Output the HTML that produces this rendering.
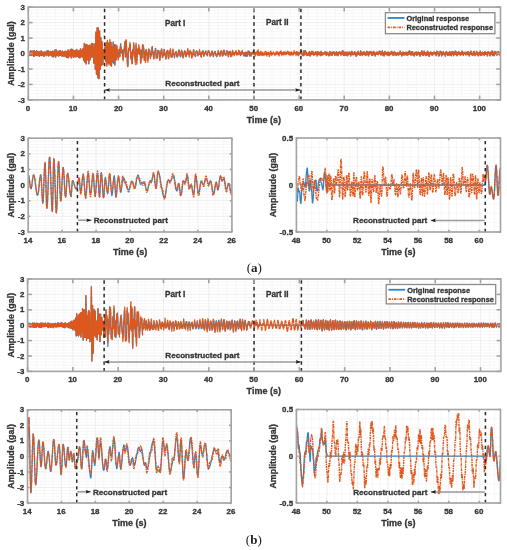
<!DOCTYPE html><html><head><meta charset="utf-8"><title>Figure</title><style>html,body{margin:0;padding:0;background:#fff;width:507px;height:550px;overflow:hidden}svg{display:block}text{stroke:#333;stroke-width:0.3px}text.cap{stroke:none}</style></head><body><svg width="507" height="550" viewBox="0 0 507 550" font-family="Liberation Sans, Arial, sans-serif" font-weight="bold" fill="#333333">
<rect width="507" height="550" fill="#fff"/>
<clipPath id="cA1"><rect x="28.30" y="7.10" width="472.20" height="92.80"/></clipPath>
<g stroke="#f5f5f5" stroke-width="0.8"><line x1="28.30" y1="7.10" x2="28.30" y2="99.90"/><line x1="37.33" y1="7.10" x2="37.33" y2="99.90"/><line x1="46.35" y1="7.10" x2="46.35" y2="99.90"/><line x1="55.38" y1="7.10" x2="55.38" y2="99.90"/><line x1="64.41" y1="7.10" x2="64.41" y2="99.90"/><line x1="73.43" y1="7.10" x2="73.43" y2="99.90"/><line x1="82.46" y1="7.10" x2="82.46" y2="99.90"/><line x1="91.49" y1="7.10" x2="91.49" y2="99.90"/><line x1="100.52" y1="7.10" x2="100.52" y2="99.90"/><line x1="109.54" y1="7.10" x2="109.54" y2="99.90"/><line x1="118.57" y1="7.10" x2="118.57" y2="99.90"/><line x1="127.60" y1="7.10" x2="127.60" y2="99.90"/><line x1="136.62" y1="7.10" x2="136.62" y2="99.90"/><line x1="145.65" y1="7.10" x2="145.65" y2="99.90"/><line x1="154.68" y1="7.10" x2="154.68" y2="99.90"/><line x1="163.70" y1="7.10" x2="163.70" y2="99.90"/><line x1="172.73" y1="7.10" x2="172.73" y2="99.90"/><line x1="181.76" y1="7.10" x2="181.76" y2="99.90"/><line x1="190.79" y1="7.10" x2="190.79" y2="99.90"/><line x1="199.81" y1="7.10" x2="199.81" y2="99.90"/><line x1="208.84" y1="7.10" x2="208.84" y2="99.90"/><line x1="217.87" y1="7.10" x2="217.87" y2="99.90"/><line x1="226.89" y1="7.10" x2="226.89" y2="99.90"/><line x1="235.92" y1="7.10" x2="235.92" y2="99.90"/><line x1="244.95" y1="7.10" x2="244.95" y2="99.90"/><line x1="253.97" y1="7.10" x2="253.97" y2="99.90"/><line x1="263.00" y1="7.10" x2="263.00" y2="99.90"/><line x1="272.03" y1="7.10" x2="272.03" y2="99.90"/><line x1="281.05" y1="7.10" x2="281.05" y2="99.90"/><line x1="290.08" y1="7.10" x2="290.08" y2="99.90"/><line x1="299.11" y1="7.10" x2="299.11" y2="99.90"/><line x1="308.14" y1="7.10" x2="308.14" y2="99.90"/><line x1="317.16" y1="7.10" x2="317.16" y2="99.90"/><line x1="326.19" y1="7.10" x2="326.19" y2="99.90"/><line x1="335.22" y1="7.10" x2="335.22" y2="99.90"/><line x1="344.24" y1="7.10" x2="344.24" y2="99.90"/><line x1="353.27" y1="7.10" x2="353.27" y2="99.90"/><line x1="362.30" y1="7.10" x2="362.30" y2="99.90"/><line x1="371.32" y1="7.10" x2="371.32" y2="99.90"/><line x1="380.35" y1="7.10" x2="380.35" y2="99.90"/><line x1="389.38" y1="7.10" x2="389.38" y2="99.90"/><line x1="398.41" y1="7.10" x2="398.41" y2="99.90"/><line x1="407.43" y1="7.10" x2="407.43" y2="99.90"/><line x1="416.46" y1="7.10" x2="416.46" y2="99.90"/><line x1="425.49" y1="7.10" x2="425.49" y2="99.90"/><line x1="434.51" y1="7.10" x2="434.51" y2="99.90"/><line x1="443.54" y1="7.10" x2="443.54" y2="99.90"/><line x1="452.57" y1="7.10" x2="452.57" y2="99.90"/><line x1="461.59" y1="7.10" x2="461.59" y2="99.90"/><line x1="470.62" y1="7.10" x2="470.62" y2="99.90"/><line x1="479.65" y1="7.10" x2="479.65" y2="99.90"/><line x1="488.67" y1="7.10" x2="488.67" y2="99.90"/><line x1="497.70" y1="7.10" x2="497.70" y2="99.90"/><line x1="28.30" y1="99.90" x2="500.50" y2="99.90"/><line x1="28.30" y1="96.81" x2="500.50" y2="96.81"/><line x1="28.30" y1="93.71" x2="500.50" y2="93.71"/><line x1="28.30" y1="90.62" x2="500.50" y2="90.62"/><line x1="28.30" y1="87.53" x2="500.50" y2="87.53"/><line x1="28.30" y1="84.43" x2="500.50" y2="84.43"/><line x1="28.30" y1="81.34" x2="500.50" y2="81.34"/><line x1="28.30" y1="78.25" x2="500.50" y2="78.25"/><line x1="28.30" y1="75.15" x2="500.50" y2="75.15"/><line x1="28.30" y1="72.06" x2="500.50" y2="72.06"/><line x1="28.30" y1="68.97" x2="500.50" y2="68.97"/><line x1="28.30" y1="65.87" x2="500.50" y2="65.87"/><line x1="28.30" y1="62.78" x2="500.50" y2="62.78"/><line x1="28.30" y1="59.69" x2="500.50" y2="59.69"/><line x1="28.30" y1="56.59" x2="500.50" y2="56.59"/><line x1="28.30" y1="53.50" x2="500.50" y2="53.50"/><line x1="28.30" y1="50.41" x2="500.50" y2="50.41"/><line x1="28.30" y1="47.31" x2="500.50" y2="47.31"/><line x1="28.30" y1="44.22" x2="500.50" y2="44.22"/><line x1="28.30" y1="41.13" x2="500.50" y2="41.13"/><line x1="28.30" y1="38.03" x2="500.50" y2="38.03"/><line x1="28.30" y1="34.94" x2="500.50" y2="34.94"/><line x1="28.30" y1="31.85" x2="500.50" y2="31.85"/><line x1="28.30" y1="28.75" x2="500.50" y2="28.75"/><line x1="28.30" y1="25.66" x2="500.50" y2="25.66"/><line x1="28.30" y1="22.57" x2="500.50" y2="22.57"/><line x1="28.30" y1="19.47" x2="500.50" y2="19.47"/><line x1="28.30" y1="16.38" x2="500.50" y2="16.38"/><line x1="28.30" y1="13.29" x2="500.50" y2="13.29"/><line x1="28.30" y1="10.19" x2="500.50" y2="10.19"/><line x1="28.30" y1="7.10" x2="500.50" y2="7.10"/></g>
<g stroke="#eeeeee" stroke-width="0.8"><line x1="28.30" y1="7.10" x2="28.30" y2="99.90"/><line x1="73.43" y1="7.10" x2="73.43" y2="99.90"/><line x1="118.57" y1="7.10" x2="118.57" y2="99.90"/><line x1="163.70" y1="7.10" x2="163.70" y2="99.90"/><line x1="208.84" y1="7.10" x2="208.84" y2="99.90"/><line x1="253.97" y1="7.10" x2="253.97" y2="99.90"/><line x1="299.11" y1="7.10" x2="299.11" y2="99.90"/><line x1="344.24" y1="7.10" x2="344.24" y2="99.90"/><line x1="389.38" y1="7.10" x2="389.38" y2="99.90"/><line x1="434.51" y1="7.10" x2="434.51" y2="99.90"/><line x1="479.65" y1="7.10" x2="479.65" y2="99.90"/><line x1="28.30" y1="99.90" x2="500.50" y2="99.90"/><line x1="28.30" y1="84.43" x2="500.50" y2="84.43"/><line x1="28.30" y1="68.97" x2="500.50" y2="68.97"/><line x1="28.30" y1="53.50" x2="500.50" y2="53.50"/><line x1="28.30" y1="38.03" x2="500.50" y2="38.03"/><line x1="28.30" y1="22.57" x2="500.50" y2="22.57"/><line x1="28.30" y1="7.10" x2="500.50" y2="7.10"/></g>
<polyline points="28.3,51.9 28.5,52.7 28.7,54.5 28.8,55.8 29.0,55.3 29.2,52.8 29.4,51.9 29.6,52.4 29.7,53.5 29.9,54.6 30.1,55.0 30.3,53.7 30.5,51.2 30.6,50.6 30.8,52.0 31.0,54.1 31.2,55.4 31.4,55.0 31.5,53.2 31.7,51.4 31.9,51.1 32.1,52.7 32.3,54.7 32.5,55.0 32.6,54.0 32.8,52.4 33.0,51.2 33.2,51.2 33.4,53.0 33.5,55.3 33.7,56.3 33.9,55.1 34.1,52.6 34.3,50.7 34.4,51.0 34.6,53.7 34.8,55.8 35.0,55.3 35.2,53.4 35.3,51.8 35.5,51.7 35.7,52.9 35.9,54.5 36.1,55.3 36.2,54.7 36.4,53.2 36.6,51.5 36.8,50.6 37.0,52.0 37.1,54.8 37.3,55.6 37.5,54.2 37.7,52.4 37.9,52.0 38.0,52.8 38.2,54.2 38.4,55.3 38.6,55.6 38.8,53.7 39.0,51.3 39.1,51.4 39.3,54.1 39.5,56.3 39.7,55.7 39.9,53.4 40.0,52.1 40.2,52.9 40.4,54.8 40.6,55.4 40.8,54.1 40.9,51.9 41.1,50.6 41.3,51.2 41.5,53.0 41.7,54.8 41.8,55.5 42.0,53.9 42.2,52.0 42.4,52.1 42.6,53.1 42.7,54.4 42.9,55.4 43.1,55.6 43.3,54.7 43.5,53.2 43.6,52.1 43.8,52.5 44.0,55.1 44.2,56.3 44.4,55.3 44.5,53.3 44.7,51.8 44.9,51.9 45.1,53.4 45.3,54.9 45.5,54.7 45.6,53.2 45.8,52.1 46.0,52.4 46.2,53.6 46.4,54.9 46.5,55.7 46.7,54.7 46.9,52.0 47.1,50.9 47.3,52.4 47.4,54.5 47.6,54.9 47.8,53.5 48.0,51.7 48.2,50.6 48.3,52.1 48.5,55.5 48.7,56.0 48.9,54.0 49.1,52.1 49.2,52.6 49.4,54.7 49.6,55.3 49.8,54.4 50.0,52.7 50.1,51.5 50.3,51.4 50.5,52.4 50.7,53.8 50.9,55.0 51.0,55.1 51.2,53.8 51.4,52.1 51.6,51.7 51.8,52.8 52.0,54.5 52.1,56.1 52.3,56.7 52.5,55.4 52.7,52.6 52.9,51.0 53.0,52.3 53.2,55.2 53.4,56.8 53.6,55.1 53.8,52.1 53.9,51.8 54.1,53.6 54.3,55.5 54.5,55.9 54.7,54.5 54.8,52.1 55.0,50.1 55.2,49.7 55.4,51.8 55.6,55.1 55.7,57.1 55.9,56.4 56.1,53.8 56.3,51.0 56.5,49.8 56.6,50.6 56.8,52.5 57.0,54.4 57.2,55.5 57.4,55.1 57.5,53.7 57.7,52.1 57.9,51.6 58.1,52.9 58.3,55.2 58.5,56.4 58.6,55.8 58.8,54.0 59.0,52.0 59.2,50.9 59.4,51.7 59.5,54.6 59.7,55.4 59.9,53.1 60.1,50.6 60.3,50.9 60.4,53.6 60.6,55.4 60.8,54.7 61.0,53.0 61.2,51.9 61.3,52.3 61.5,53.7 61.7,55.3 61.9,56.2 62.1,55.3 62.2,52.5 62.4,51.0 62.6,52.9 62.8,55.8 63.0,55.9 63.1,53.8 63.3,52.0 63.5,52.5 63.7,55.0 63.9,56.2 64.0,55.2 64.2,53.2 64.4,51.5 64.6,51.4 64.8,52.8 64.9,54.7 65.1,55.8 65.3,55.0 65.5,52.3 65.7,51.2 65.9,52.9 66.0,55.7 66.2,57.1 66.4,55.4 66.6,52.3 66.8,51.7 66.9,53.6 67.1,56.2 67.3,57.6 67.5,56.8 67.7,54.3 67.8,51.5 68.0,49.8 68.2,51.1 68.4,55.8 68.6,57.7 68.7,56.2 68.9,53.4 69.1,51.3 69.3,51.1 69.5,52.9 69.6,55.1 69.8,55.9 70.0,54.6 70.2,52.2 70.4,50.0 70.5,49.3 70.7,50.9 70.9,54.1 71.1,56.9 71.3,57.8 71.4,54.9 71.6,50.4 71.8,49.2 72.0,51.9 72.2,55.4 72.4,55.9 72.5,53.6 72.7,50.7 72.9,49.9 73.1,52.7 73.3,56.4 73.4,57.4 73.6,55.5 73.8,52.5 74.0,50.6 74.2,51.1 74.3,53.4 74.5,55.9 74.7,56.8 74.9,55.6 75.1,53.2 75.2,51.0 75.4,50.4 75.6,51.8 75.8,54.3 76.0,56.4 76.1,56.9 76.3,54.8 76.5,51.4 76.7,49.3 76.9,50.1 77.0,53.1 77.2,56.0 77.4,56.5 77.6,55.3 77.8,53.3 77.9,51.6 78.1,50.9 78.3,52.5 78.5,55.8 78.7,57.5 78.9,55.0 79.0,51.2 79.2,51.0 79.4,53.2 79.6,56.1 79.8,58.0 79.9,57.6 80.1,54.3 80.3,50.4 80.5,48.5 80.7,49.6 80.8,52.6 81.0,55.6 81.2,56.8 81.4,55.5 81.6,52.8 81.7,50.6 81.9,50.2 82.1,52.0 82.3,54.8 82.5,56.8 82.6,56.4 82.8,52.0 83.0,48.6 83.2,49.8 83.4,54.2 83.5,58.7 83.7,60.5 83.9,56.7 84.1,49.0 84.3,43.3 84.4,44.1 84.6,52.1 84.8,60.7 85.0,62.3 85.2,52.9 85.4,44.3 85.5,46.0 85.7,52.5 85.9,59.9 86.1,63.9 86.3,62.2 86.4,55.7 86.6,48.4 86.8,44.4 87.0,45.7 87.2,50.6 87.3,56.3 87.5,59.8 87.7,59.1 87.9,54.8 88.1,49.3 88.2,45.6 88.4,47.0 88.6,57.2 88.8,63.7 89.0,59.8 89.1,51.1 89.3,45.0 89.5,45.7 89.7,50.4 89.9,56.3 90.0,60.0 90.2,59.3 90.4,54.0 90.6,47.7 90.8,44.9 90.9,54.8 91.1,57.0 91.3,49.7 91.5,43.7 91.7,44.7 91.8,49.5 92.0,54.8 92.2,57.1 92.4,55.1 92.6,50.3 92.8,45.4 92.9,43.4 93.1,44.9 93.3,48.8 93.5,54.1 93.7,59.2 93.8,62.6 94.0,63.3 94.2,60.2 94.4,54.2 94.6,48.0 94.7,44.0 94.9,45.3 95.1,57.4 95.3,69.4 95.5,69.0 95.6,53.6 95.8,36.1 96.0,32.0 96.2,50.5 96.4,72.8 96.5,74.5 96.7,60.8 96.9,41.5 97.1,27.9 97.3,28.0 97.4,42.5 97.6,63.1 97.8,77.6 98.0,73.5 98.2,40.3 98.3,27.8 98.5,40.7 98.7,62.4 98.9,78.7 99.1,78.1 99.3,58.7 99.4,36.7 99.6,30.9 99.8,42.9 100.0,61.0 100.2,69.4 100.3,63.2 100.5,49.1 100.7,37.8 100.9,37.6 101.1,47.5 101.2,59.9 101.4,65.4 101.6,59.5 101.8,47.8 102.0,41.9 102.1,44.1 102.3,49.8 102.5,56.8 102.7,62.5 102.9,64.6 103.0,58.2 103.2,49.6 103.4,49.5 103.6,51.1 103.8,53.3 103.9,55.5 104.1,57.0 104.3,57.3 104.5,55.4 104.7,51.9 104.8,48.6 105.0,47.3 105.2,52.7 105.4,60.1 105.6,58.8 105.8,52.8 105.9,46.3 106.1,43.4 106.3,47.4 106.5,56.4 106.7,63.6 106.8,63.7 107.0,56.8 107.2,47.6 107.4,42.1 107.6,44.1 107.7,52.0 107.9,59.8 108.1,61.8 108.3,57.2 108.5,49.4 108.6,43.5 108.8,44.1 109.0,53.3 109.2,62.4 109.4,62.8 109.5,55.3 109.7,46.0 109.9,41.9 110.1,47.8 110.3,59.5 110.4,65.4 110.6,57.0 110.8,43.4 111.0,42.4 111.2,50.9 111.3,61.5 111.5,66.2 111.7,59.1 111.9,47.7 112.1,46.6 112.3,52.1 112.4,59.1 112.6,62.2 112.8,57.1 113.0,47.0 113.2,41.9 113.3,46.6 113.5,56.8 113.7,63.5 113.9,61.7 114.1,54.0 114.2,46.4 114.4,44.7 114.6,54.8 114.8,64.9 115.0,63.5 115.1,56.3 115.3,48.4 115.5,45.0 115.7,47.9 115.9,54.4 116.0,59.7 116.2,59.6 116.4,54.0 116.6,47.6 116.8,45.8 116.9,46.5 117.1,48.2 117.3,50.4 117.5,52.9 117.7,55.2 117.8,57.0 118.0,58.0 118.2,58.0 118.4,56.8 118.6,54.9 118.8,52.7 118.9,50.9 119.1,50.0 119.3,50.6 119.5,52.9 119.7,55.5 119.8,56.6 120.0,55.2 120.2,51.6 120.4,47.4 120.6,44.2 120.7,43.5 120.9,45.8 121.1,49.5 121.3,52.3 121.5,52.7 121.6,52.1 121.8,51.4 122.0,50.7 122.2,50.4 122.4,51.2 122.5,53.3 122.7,56.0 122.9,58.1 123.1,58.9 123.3,58.0 123.4,55.4 123.6,52.3 123.8,49.8 124.0,48.9 124.2,50.3 124.3,49.6 124.5,46.5 124.7,43.5 124.9,42.8 125.1,46.6 125.2,52.7 125.4,56.4 125.6,54.2 125.8,46.4 126.0,40.6 126.2,40.8 126.3,42.5 126.5,45.5 126.7,49.4 126.9,53.7 127.1,57.9 127.2,61.5 127.4,64.3 127.6,65.7 127.8,65.6 128.0,63.3 128.1,59.5 128.3,55.0 128.5,51.1 128.7,48.8 128.9,48.7 129.0,49.3 129.2,49.6 129.4,49.1 129.6,47.8 129.8,46.1 129.9,44.7 130.1,44.2 130.3,45.7 130.5,49.5 130.7,54.1 130.8,57.9 131.0,59.4 131.2,57.2 131.4,53.2 131.6,52.1 131.7,55.7 131.9,61.0 132.1,63.6 132.3,61.2 132.5,55.7 132.7,50.7 132.8,49.4 133.0,50.3 133.2,51.1 133.4,50.2 133.6,46.8 133.7,44.3 133.9,45.8 134.1,51.2 134.3,55.9 134.5,56.3 134.6,54.6 134.8,53.5 135.0,55.0 135.2,58.6 135.4,61.9 135.5,62.4 135.7,55.2 135.9,46.5 136.1,45.6 136.3,49.1 136.4,54.4 136.6,59.1 136.8,60.9 137.0,59.2 137.2,55.1 137.3,51.4 137.5,50.4 137.7,51.2 137.9,52.2 138.1,52.7 138.2,52.0 138.4,50.1 138.6,48.0 138.8,46.9 139.0,47.4 139.2,49.5 139.3,51.8 139.5,52.7 139.7,51.7 139.9,49.9 140.1,50.0 140.2,52.4 140.4,56.2 140.6,59.9 140.8,61.8 141.0,60.8 141.1,56.7 141.3,52.3 141.5,50.4 141.7,53.1 141.9,57.4 142.0,57.5 142.2,53.3 142.4,47.7 142.6,44.4 142.8,45.3 142.9,48.5 143.1,49.6 143.3,48.5 143.5,47.4 143.7,48.3 143.8,52.0 144.0,56.0 144.2,57.7 144.4,56.4 144.6,53.8 144.7,52.0 144.9,52.7 145.1,55.5 145.3,59.1 145.5,61.5 145.7,61.1 145.8,55.6 146.0,52.1 146.2,49.7 146.4,50.1 146.6,51.4 146.7,52.6 146.9,53.1 147.1,53.7 147.3,54.9 147.5,56.8 147.6,58.8 147.8,60.0 148.0,59.6 148.2,57.4 148.4,54.3 148.5,51.2 148.7,49.3 148.9,49.2 149.1,50.4 149.3,51.5 149.4,51.2 149.6,50.0 149.8,50.9 150.0,53.5 150.2,56.1 150.3,57.2 150.5,57.1 150.7,56.4 150.9,55.7 151.1,55.4 151.2,55.9 151.4,54.8 151.6,52.5 151.8,49.9 152.0,47.9 152.1,47.3 152.3,48.5 152.5,50.4 152.7,51.5 152.9,51.7 153.1,52.0 153.2,53.0 153.4,55.4 153.6,58.0 153.8,58.8 154.0,57.4 154.1,54.8 154.3,52.6 154.5,51.9 154.7,52.1 154.9,52.2 155.0,51.2 155.2,49.5 155.4,48.3 155.6,48.6 155.8,50.6 155.9,53.4 156.1,55.9 156.3,57.2 156.5,57.3 156.7,56.8 156.8,56.4 157.0,56.9 157.2,57.4 157.4,56.2 157.6,53.9 157.7,51.6 157.9,50.3 158.1,51.6 158.3,52.7 158.5,52.0 158.6,51.0 158.8,50.6 159.0,51.7 159.2,53.8 159.4,56.4 159.6,58.5 159.7,59.3 159.9,58.6 160.1,56.7 160.3,54.9 160.5,53.9 160.6,53.5 160.8,53.2 161.0,52.4 161.2,51.2 161.4,49.8 161.5,49.1 161.7,49.4 161.9,51.5 162.1,54.5 162.3,56.7 162.4,57.3 162.6,57.0 162.8,56.1 163.0,55.4 163.2,55.0 163.3,55.0 163.5,54.8 163.7,53.8 163.9,51.8 164.1,49.9 164.2,49.4 164.4,50.5 164.6,52.5 164.8,53.8 165.0,54.0 165.1,54.0 165.3,54.9 165.5,56.6 165.7,58.2 165.9,58.7 166.1,57.3 166.2,54.7 166.4,52.8 166.6,52.3 166.8,52.2 167.0,52.0 167.1,51.2 167.3,50.5 167.5,50.2 167.7,50.7 167.9,52.2 168.0,54.4 168.2,56.7 168.4,58.0 168.6,57.8 168.8,56.5 168.9,54.8 169.1,53.6 169.3,52.9 169.5,52.5 169.7,52.2 169.8,51.6 170.0,50.7 170.2,50.0 170.4,49.9 170.6,51.1 170.7,53.5 170.9,55.7 171.1,56.4 171.3,56.1 171.5,55.3 171.6,54.9 171.8,55.8 172.0,57.0 172.2,56.2 172.4,54.2 172.6,51.9 172.7,50.5 172.9,50.3 173.1,50.9 173.3,51.8 173.5,52.8 173.6,53.4 173.8,53.7 174.0,54.4 174.2,56.0 174.4,57.6 174.5,58.0 174.7,56.2 174.9,53.9 175.1,53.1 175.3,53.0 175.4,53.2 175.6,52.8 175.8,52.1 176.0,51.6 176.2,51.5 176.3,52.2 176.5,54.0 176.7,55.9 176.9,56.8 177.1,56.6 177.2,55.9 177.4,55.6 177.6,55.7 177.8,55.8 178.0,55.5 178.1,54.6 178.3,53.0 178.5,51.2 178.7,49.9 178.9,49.9 179.1,51.0 179.2,52.1 179.4,52.6 179.6,52.8 179.8,53.1 180.0,53.9 180.1,55.1 180.3,56.3 180.5,57.0 180.7,56.8 180.9,55.5 181.0,53.5 181.2,51.9 181.4,51.2 181.6,51.2 181.8,51.3 181.9,51.3 182.1,51.3 182.3,51.4 182.5,52.1 182.7,53.9 182.8,56.5 183.0,57.5 183.2,56.6 183.4,55.1 183.6,54.5 183.7,55.0 183.9,55.2 184.1,54.2 184.3,52.5 184.5,51.1 184.6,50.5 184.8,51.2 185.0,52.2 185.2,52.3 185.4,51.8 185.5,52.3 185.7,53.9 185.9,55.6 186.1,56.7 186.3,56.7 186.5,55.6 186.6,54.2 186.8,53.2 187.0,53.4 187.2,53.5 187.4,51.8 187.5,49.5 187.7,49.1 187.9,50.5 188.1,52.4 188.3,53.3 188.4,53.1 188.6,53.0 188.8,53.7 189.0,54.6 189.2,55.3 189.3,55.4 189.5,54.6 189.7,53.3 189.9,52.0 190.1,51.1 190.2,51.1 190.4,51.8 190.6,52.4 190.8,52.5 191.0,52.5 191.1,52.8 191.3,53.6 191.5,55.1 191.7,56.7 191.9,57.5 192.0,56.9 192.2,55.5 192.4,54.8 192.6,54.5 192.8,54.2 193.0,53.9 193.1,53.2 193.3,52.1 193.5,50.9 193.7,50.2 193.9,50.7 194.0,52.7 194.2,54.2 194.4,54.8 194.6,54.9 194.8,54.9 194.9,54.9 195.1,55.2 195.3,55.6 195.5,55.8 195.7,55.4 195.8,53.8 196.0,51.9 196.2,51.1 196.4,51.0 196.6,51.2 196.7,51.6 196.9,51.8 197.1,51.9 197.3,52.2 197.5,53.0 197.6,54.4 197.8,55.6 198.0,55.9 198.2,55.6 198.4,55.0 198.5,54.3 198.7,54.1 198.9,54.3 199.1,53.5 199.3,51.8 199.5,50.4 199.6,50.8 199.8,52.1 200.0,52.9 200.2,52.8 200.4,52.8 200.5,53.6 200.7,54.8 200.9,56.0 201.1,56.6 201.3,56.2 201.4,54.9 201.6,53.3 201.8,52.4 202.0,52.5 202.2,53.0 202.3,53.0 202.5,52.3 202.7,51.3 202.9,50.7 203.1,50.9 203.2,52.2 203.4,54.0 203.6,55.6 203.8,56.1 204.0,55.4 204.1,54.6 204.3,54.5 204.5,54.5 204.7,54.3 204.9,53.8 205.0,52.9 205.2,52.0 205.4,51.5 205.6,51.4 205.8,51.9 206.0,52.9 206.1,53.9 206.3,54.3 206.5,54.0 206.7,53.9 206.9,54.4 207.0,55.3 207.2,55.9 207.4,55.6 207.6,54.4 207.8,52.8 207.9,51.8 208.1,51.7 208.3,51.9 208.5,52.1 208.7,51.9 208.8,51.5 209.0,51.3 209.2,51.7 209.4,52.7 209.6,53.9 209.7,54.9 209.9,55.4 210.1,55.3 210.3,54.9 210.5,54.9 210.6,55.5 210.8,55.6 211.0,54.6 211.2,53.1 211.4,52.1 211.5,51.8 211.7,51.8 211.9,51.9 212.1,51.9 212.3,51.8 212.4,51.8 212.6,52.3 212.8,53.5 213.0,54.9 213.2,56.2 213.4,56.7 213.5,56.0 213.7,54.7 213.9,53.9 214.1,53.7 214.3,53.6 214.4,53.3 214.6,52.7 214.8,51.9 215.0,51.3 215.2,51.3 215.3,52.3 215.5,53.9 215.7,54.8 215.9,54.8 216.1,54.4 216.2,54.4 216.4,55.3 216.6,56.6 216.8,56.5 217.0,55.4 217.1,54.2 217.3,53.3 217.5,53.3 217.7,53.4 217.9,52.7 218.0,51.8 218.2,51.1 218.4,51.2 218.6,52.0 218.8,53.2 218.9,54.4 219.1,55.0 219.3,54.7 219.5,54.1 219.7,54.4 219.9,55.5 220.0,55.6 220.2,54.7 220.4,53.4 220.6,52.1 220.8,51.4 220.9,51.4 221.1,51.6 221.3,51.8 221.5,51.2 221.7,51.0 221.8,51.9 222.0,53.5 222.2,55.0 222.4,55.9 222.6,55.3 222.7,54.4 222.9,54.4 223.1,54.8 223.3,54.8 223.5,53.9 223.6,52.3 223.8,50.9 224.0,50.2 224.2,50.8 224.4,52.2 224.5,53.6 224.7,54.1 224.9,54.2 225.1,54.0 225.3,53.9 225.4,54.2 225.6,54.8 225.8,55.1 226.0,54.6 226.2,53.4 226.4,52.0 226.5,51.1 226.7,51.0 226.9,51.8 227.1,52.8 227.3,53.5 227.4,53.1 227.6,52.4 227.8,53.0 228.0,54.2 228.2,55.4 228.3,55.9 228.5,55.6 228.7,54.6 228.9,53.7 229.1,53.2 229.2,53.4 229.4,53.6 229.6,53.4 229.8,52.5 230.0,51.5 230.1,51.3 230.3,52.4 230.5,54.0 230.7,55.3 230.9,55.3 231.0,54.4 231.2,54.2 231.4,55.1 231.6,55.9 231.8,55.5 231.9,54.3 232.1,52.8 232.3,51.6 232.5,51.1 232.7,51.5 232.9,52.4 233.0,53.2 233.2,53.7 233.4,53.5 233.6,53.1 233.8,53.2 233.9,54.2 234.1,55.2 234.3,55.2 234.5,54.4 234.7,53.2 234.8,52.5 235.0,52.9 235.2,53.7 235.4,53.2 235.6,52.3 235.7,51.3 235.9,50.8 236.1,50.9 236.3,51.9 236.5,53.3 236.6,54.3 236.8,54.6 237.0,54.1 237.2,53.6 237.4,53.8 237.5,54.3 237.7,54.8 237.9,54.9 238.1,54.5 238.3,53.4 238.4,52.1 238.6,51.2 238.8,51.0 239.0,51.5 239.2,52.2 239.4,52.8 239.5,52.8 239.7,52.5 239.9,52.2 240.1,52.4 240.3,53.7 240.4,55.1 240.6,55.2 240.8,54.5 241.0,54.0 241.2,54.3 241.3,54.6 241.5,54.1 241.7,53.0 241.9,52.0 242.1,51.4 242.2,51.7 242.4,52.7 242.6,53.1 242.8,52.9 243.0,52.5 243.1,52.6 243.3,53.7 243.5,55.2 243.7,56.0 243.9,55.8 244.0,55.0 244.2,54.2 244.4,52.9 244.6,53.8 244.8,54.8 244.9,55.7 245.1,56.1 245.3,55.5 245.5,54.0 245.7,54.3 245.8,54.6 246.0,55.6 246.2,56.5 246.4,55.7 246.6,54.1 246.8,53.3 246.9,53.1 247.1,53.1 247.3,53.5 247.5,53.8 247.7,53.3 247.8,52.1 248.0,51.1 248.2,50.8 248.4,52.6 248.6,53.3 248.7,54.5 248.9,53.5 249.1,52.6 249.3,53.4 249.5,54.5 249.6,56.1 249.8,56.1 250.0,54.9 250.2,53.6 250.4,52.8 250.5,52.8 250.7,52.7 250.9,54.1 251.1,54.4 251.3,54.5 251.4,53.3 251.6,52.7 251.8,52.7 252.0,52.4 252.2,52.7 252.3,53.1 252.5,53.7 252.7,54.2 252.9,54.0 253.1,52.6 253.3,51.4 253.4,52.0 253.6,52.4 253.8,54.0 254.0,53.5 254.2,53.5 254.3,53.5 254.5,53.5 254.7,53.5 254.9,53.5 255.1,53.5 255.2,53.5 255.4,53.5 255.6,53.5 255.8,53.5 256.0,53.5 256.1,53.5 256.3,53.5 256.5,53.5 256.7,53.5 256.9,53.5 257.0,53.5 257.2,53.5 257.4,53.5 257.6,53.5 257.8,53.5 257.9,53.5 258.1,53.5 258.3,53.5 258.5,53.5 258.7,53.5 258.8,53.5 259.0,53.5 259.2,53.5 259.4,53.5 259.6,53.5 259.8,53.5 259.9,53.5 260.1,53.5 260.3,53.5 260.5,53.5 260.7,53.5 260.8,53.5 261.0,53.5 261.2,53.5 261.4,53.5 261.6,53.5 261.7,53.5 261.9,53.5 262.1,53.5 262.3,53.5 262.5,53.5 262.6,53.5 262.8,53.5 263.0,53.5 263.2,53.5 263.4,53.5 263.5,53.5 263.7,53.5 263.9,53.5 264.1,53.5 264.3,53.5 264.4,53.5 264.6,53.5 264.8,53.5 265.0,53.5 265.2,53.5 265.3,53.5 265.5,53.5 265.7,53.5 265.9,53.5 266.1,53.5 266.3,53.5 266.4,53.5 266.6,53.5 266.8,53.5 267.0,53.5 267.2,53.5 267.3,53.5 267.5,53.5 267.7,53.5 267.9,53.5 268.1,53.5 268.2,53.5 268.4,53.5 268.6,53.5 268.8,53.5 269.0,53.5 269.1,53.5 269.3,53.5 269.5,53.5 269.7,53.5 269.9,53.5 270.0,53.5 270.2,53.5 270.4,53.5 270.6,53.5 270.8,53.5 270.9,53.5 271.1,53.5 271.3,53.5 271.5,53.5 271.7,53.5 271.8,53.5 272.0,53.5 272.2,53.5 272.4,53.5 272.6,53.5 272.7,53.5 272.9,53.5 273.1,53.5 273.3,53.5 273.5,53.5 273.7,53.5 273.8,53.5 274.0,53.5 274.2,53.5 274.4,53.5 274.6,53.5 274.7,53.5 274.9,53.5 275.1,53.5 275.3,53.5 275.5,53.5 275.6,53.5 275.8,53.5 276.0,53.5 276.2,53.5 276.4,53.5 276.5,53.5 276.7,53.5 276.9,53.5 277.1,53.5 277.3,53.5 277.4,53.5 277.6,53.5 277.8,53.5 278.0,53.5 278.2,53.5 278.3,53.5 278.5,53.5 278.7,53.5 278.9,53.5 279.1,53.5 279.2,53.5 279.4,53.5 279.6,53.5 279.8,53.5 280.0,53.5 280.2,53.5 280.3,53.5 280.5,53.5 280.7,53.5 280.9,53.5 281.1,53.5 281.2,53.5 281.4,53.5 281.6,53.5 281.8,53.5 282.0,53.5 282.1,53.5 282.3,53.5 282.5,53.5 282.7,53.5 282.9,53.5 283.0,53.5 283.2,53.5 283.4,53.5 283.6,53.5 283.8,53.5 283.9,53.5 284.1,53.5 284.3,53.5 284.5,53.5 284.7,53.5 284.8,53.5 285.0,53.5 285.2,53.5 285.4,53.5 285.6,53.5 285.7,53.5 285.9,53.5 286.1,53.5 286.3,53.5 286.5,53.5 286.7,53.5 286.8,53.5 287.0,53.5 287.2,53.5 287.4,53.5 287.6,53.5 287.7,53.5 287.9,53.5 288.1,53.5 288.3,53.5 288.5,53.5 288.6,53.5 288.8,53.5 289.0,53.5 289.2,53.5 289.4,53.5 289.5,53.5 289.7,53.5 289.9,53.5 290.1,53.5 290.3,53.5 290.4,53.5 290.6,53.5 290.8,53.5 291.0,53.5 291.2,53.5 291.3,53.5 291.5,53.5 291.7,53.5 291.9,53.5 292.1,53.5 292.2,53.5 292.4,53.5 292.6,53.5 292.8,53.5 293.0,53.5 293.2,53.5 293.3,53.5 293.5,53.5 293.7,53.5 293.9,53.5 294.1,53.5 294.2,53.5 294.4,53.5 294.6,53.5 294.8,53.5 295.0,53.5 295.1,53.5 295.3,53.5 295.5,53.5 295.7,53.5 295.9,53.5 296.0,53.5 296.2,53.5 296.4,53.5 296.6,53.5 296.8,53.5 296.9,53.5 297.1,53.5 297.3,53.5 297.5,53.5 297.7,53.5 297.8,53.5 298.0,53.5 298.2,53.5 298.4,53.5 298.6,53.5 298.7,53.5 298.9,53.5 299.1,53.5 299.3,53.5 299.5,53.5 299.7,53.5 299.8,53.5 300.0,53.5 300.2,53.5 300.4,53.5 300.6,53.5 300.7,53.5 300.9,52.7 301.1,52.1 301.3,50.9 301.5,50.3 301.6,50.9 301.8,52.4 302.0,54.1 302.2,55.0 302.4,54.7 302.5,54.0 302.7,53.9 302.9,54.4 303.1,55.2 303.3,55.7 303.4,55.6 303.6,54.1 303.8,52.0 304.0,50.5 304.2,50.5 304.3,52.4 304.5,54.6 304.7,55.2 304.9,54.1 305.1,52.3 305.2,50.9 305.4,50.9 305.6,52.1 305.8,53.3 306.0,53.5 306.1,52.2 306.3,52.2 306.5,53.8 306.7,55.4 306.9,55.5 307.1,54.2 307.2,53.5 307.4,53.9 307.6,54.8 307.8,55.3 308.0,55.1 308.1,54.1 308.3,52.9 308.5,52.3 308.7,52.8 308.9,54.2 309.0,55.1 309.2,54.4 309.4,52.7 309.6,51.7 309.8,52.6 309.9,54.8 310.1,56.2 310.3,55.7 310.5,54.2 310.7,53.3 310.8,53.8 311.0,54.7 311.2,54.2 311.4,52.7 311.6,51.4 311.7,51.4 311.9,53.0 312.1,54.1 312.3,53.7 312.5,52.7 312.6,51.6 312.8,51.3 313.0,52.0 313.2,53.4 313.4,54.8 313.6,55.3 313.7,54.8 313.9,53.8 314.1,53.1 314.3,53.1 314.5,53.9 314.6,54.7 314.8,54.8 315.0,54.0 315.2,52.8 315.4,51.9 315.5,51.8 315.7,52.7 315.9,54.0 316.1,54.5 316.3,54.0 316.4,53.0 316.6,52.2 316.8,52.1 317.0,53.9 317.2,55.9 317.3,55.6 317.5,53.6 317.7,51.9 317.9,52.1 318.1,53.5 318.2,54.7 318.4,54.4 318.6,52.9 318.8,52.0 319.0,52.4 319.1,53.2 319.3,54.2 319.5,54.7 319.7,54.2 319.9,53.2 320.1,52.8 320.2,53.9 320.4,55.3 320.6,55.5 320.8,54.1 321.0,52.2 321.1,51.1 321.3,51.5 321.5,52.9 321.7,54.4 321.9,55.0 322.0,54.6 322.2,53.7 322.4,53.0 322.6,53.1 322.8,54.2 322.9,55.0 323.1,54.6 323.3,53.6 323.5,53.1 323.7,53.6 323.8,54.4 324.0,54.1 324.2,52.9 324.4,52.2 324.6,52.4 324.7,53.2 324.9,53.7 325.1,53.5 325.3,52.5 325.5,51.7 325.6,52.0 325.8,53.1 326.0,54.5 326.2,55.3 326.4,55.0 326.6,54.0 326.7,52.9 326.9,52.2 327.1,52.3 327.3,53.1 327.5,54.0 327.6,54.6 327.8,54.5 328.0,53.9 328.2,53.3 328.4,53.3 328.5,54.0 328.7,55.2 328.9,55.8 329.1,55.4 329.3,54.1 329.4,52.6 329.6,51.5 329.8,51.7 330.0,53.5 330.2,54.8 330.3,54.4 330.5,53.4 330.7,52.4 330.9,52.1 331.1,52.8 331.2,54.1 331.4,55.1 331.6,54.9 331.8,53.8 332.0,53.0 332.1,53.5 332.3,54.7 332.5,55.0 332.7,53.8 332.9,52.2 333.0,51.8 333.2,52.5 333.4,53.3 333.6,53.3 333.8,52.7 334.0,52.0 334.1,51.8 334.3,52.6 334.5,54.1 334.7,55.2 334.9,55.1 335.0,54.3 335.2,53.4 335.4,52.9 335.6,53.6 335.8,54.7 335.9,54.8 336.1,53.4 336.3,51.8 336.5,51.6 336.7,53.4 336.8,55.0 337.0,54.6 337.2,53.1 337.4,52.5 337.6,53.4 337.7,55.0 337.9,55.7 338.1,55.3 338.3,54.1 338.5,52.9 338.6,52.2 338.8,52.5 339.0,53.4 339.2,53.6 339.4,52.8 339.5,51.8 339.7,52.0 339.9,52.9 340.1,53.9 340.3,54.0 340.5,52.7 340.6,52.3 340.8,53.7 341.0,55.1 341.2,55.0 341.4,53.9 341.5,52.7 341.7,52.0 341.9,52.8 342.1,53.8 342.3,53.6 342.4,52.4 342.6,51.2 342.8,50.7 343.0,51.3 343.2,52.8 343.3,54.4 343.5,55.4 343.7,55.1 343.9,53.9 344.1,52.6 344.2,52.2 344.4,53.2 344.6,54.9 344.8,55.5 345.0,54.8 345.1,53.5 345.3,52.4 345.5,52.0 345.7,52.5 345.9,53.5 346.0,54.5 346.2,54.9 346.4,54.4 346.6,53.2 346.8,52.2 347.0,52.1 347.1,54.1 347.3,55.8 347.5,55.4 347.7,54.2 347.9,53.1 348.0,52.8 348.2,53.3 348.4,54.2 348.6,54.8 348.8,54.4 348.9,52.6 349.1,51.9 349.3,52.6 349.5,53.6 349.7,54.4 349.8,54.4 350.0,53.5 350.2,52.8 350.4,53.4 350.6,55.4 350.7,55.9 350.9,54.8 351.1,53.0 351.3,51.7 351.5,51.5 351.6,52.9 351.8,54.4 352.0,54.3 352.2,52.3 352.4,51.8 352.5,52.9 352.7,54.3 352.9,54.9 353.1,54.6 353.3,53.9 353.5,53.4 353.6,53.3 353.8,53.9 354.0,54.4 354.2,53.9 354.4,52.7 354.5,51.6 354.7,51.6 354.9,53.2 355.1,54.8 355.3,54.4 355.4,52.8 355.6,52.8 355.8,54.1 356.0,55.7 356.2,56.4 356.3,55.9 356.5,54.6 356.7,53.3 356.9,52.7 357.1,53.7 357.2,55.0 357.4,54.6 357.6,53.3 357.8,51.8 358.0,51.1 358.1,51.5 358.3,52.5 358.5,53.7 358.7,54.4 358.9,54.4 359.0,54.0 359.2,53.4 359.4,53.3 359.6,53.9 359.8,54.7 360.0,55.4 360.1,55.1 360.3,52.6 360.5,50.9 360.7,51.7 360.9,53.6 361.0,54.6 361.2,54.1 361.4,53.0 361.6,52.3 361.8,52.8 361.9,53.9 362.1,55.0 362.3,55.4 362.5,54.9 362.7,53.7 362.8,52.6 363.0,52.1 363.2,52.7 363.4,53.9 363.6,54.5 363.7,53.8 363.9,52.4 364.1,51.8 364.3,52.5 364.5,53.9 364.6,54.7 364.8,54.6 365.0,54.1 365.2,53.4 365.4,53.2 365.5,53.9 365.7,55.2 365.9,55.4 366.1,54.5 366.3,53.0 366.4,51.8 366.6,51.5 366.8,52.2 367.0,53.4 367.2,54.1 367.4,54.0 367.5,53.0 367.7,51.9 367.9,51.5 368.1,52.8 368.3,55.5 368.4,55.9 368.6,55.0 368.8,53.6 369.0,52.7 369.2,52.9 369.3,54.1 369.5,54.7 369.7,53.7 369.9,52.1 370.1,51.5 370.2,52.5 370.4,53.5 370.6,53.4 370.8,52.7 371.0,52.1 371.1,51.8 371.3,52.6 371.5,54.5 371.7,55.3 371.9,54.4 372.0,53.0 372.2,52.6 372.4,53.8 372.6,55.2 372.8,55.3 372.9,54.0 373.1,52.3 373.3,51.4 373.5,51.9 373.7,53.2 373.9,54.1 374.0,53.9 374.2,53.1 374.4,52.3 374.6,52.1 374.8,53.2 374.9,54.9 375.1,55.9 375.3,55.5 375.5,54.3 375.7,53.3 375.8,53.0 376.0,53.5 376.2,54.2 376.4,54.1 376.6,53.0 376.7,52.0 376.9,52.0 377.1,52.7 377.3,53.5 377.5,54.2 377.6,54.1 377.8,52.8 378.0,52.2 378.2,52.8 378.4,53.8 378.5,54.6 378.7,54.5 378.9,53.4 379.1,52.0 379.3,50.9 379.4,51.1 379.6,52.6 379.8,53.5 380.0,52.7 380.2,51.5 380.4,51.8 380.5,53.1 380.7,54.5 380.9,55.2 381.1,54.5 381.3,52.7 381.4,52.2 381.6,52.9 381.8,53.8 382.0,54.1 382.2,52.7 382.3,50.9 382.5,51.0 382.7,53.0 382.9,55.0 383.1,55.3 383.2,54.0 383.4,52.7 383.6,52.9 383.8,54.3 384.0,55.7 384.1,55.9 384.3,54.9 384.5,53.2 384.7,51.7 384.9,51.2 385.0,52.0 385.2,53.4 385.4,54.3 385.6,53.9 385.8,52.9 385.9,52.4 386.1,52.8 386.3,53.8 386.5,54.7 386.7,55.1 386.9,54.3 387.0,52.9 387.2,52.3 387.4,52.9 387.6,54.2 387.8,55.1 387.9,55.0 388.1,53.4 388.3,52.1 388.5,52.3 388.7,53.4 388.8,54.7 389.0,55.6 389.2,55.4 389.4,54.2 389.6,53.0 389.7,52.7 389.9,53.7 390.1,54.7 390.3,54.6 390.5,53.1 390.6,52.1 390.8,52.1 391.0,52.7 391.2,53.4 391.4,53.8 391.5,53.0 391.7,51.4 391.9,51.4 392.1,52.7 392.3,54.2 392.4,54.8 392.6,54.5 392.8,53.5 393.0,52.6 393.2,52.3 393.4,53.0 393.5,54.5 393.7,55.4 393.9,55.0 394.1,53.5 394.3,52.1 394.4,51.8 394.6,53.0 394.8,54.0 395.0,53.7 395.2,52.9 395.3,52.3 395.5,52.6 395.7,53.7 395.9,54.9 396.1,55.5 396.2,55.1 396.4,54.2 396.6,53.3 396.8,53.0 397.0,53.7 397.1,54.6 397.3,54.6 397.5,53.4 397.7,52.3 397.9,52.3 398.0,53.1 398.2,54.1 398.4,55.0 398.6,55.3 398.8,54.6 398.9,53.8 399.1,53.7 399.3,54.0 399.5,54.2 399.7,54.1 399.8,52.9 400.0,51.4 400.2,51.2 400.4,52.3 400.6,53.8 400.8,54.4 400.9,54.2 401.1,53.7 401.3,53.2 401.5,53.1 401.7,54.4 401.8,55.9 402.0,55.2 402.2,52.9 402.4,52.2 402.6,53.0 402.7,54.3 402.9,55.0 403.1,54.6 403.3,53.5 403.5,52.5 403.6,52.1 403.8,52.8 404.0,54.4 404.2,55.2 404.4,54.8 404.5,53.7 404.7,52.9 404.9,52.9 405.1,53.9 405.3,54.7 405.4,54.6 405.6,53.7 405.8,52.5 406.0,52.1 406.2,52.6 406.3,53.7 406.5,54.8 406.7,55.0 406.9,54.0 407.1,52.7 407.3,52.4 407.4,53.4 407.6,54.7 407.8,55.0 408.0,54.4 408.2,53.3 408.3,52.3 408.5,52.0 408.7,53.0 408.9,53.9 409.1,53.2 409.2,51.7 409.4,50.7 409.6,51.5 409.8,53.7 410.0,54.5 410.1,54.0 410.3,52.8 410.5,52.0 410.7,52.3 410.9,53.8 411.0,55.1 411.2,54.8 411.4,53.3 411.6,51.9 411.8,52.0 411.9,54.0 412.1,54.4 412.3,53.3 412.5,52.1 412.7,51.9 412.8,52.9 413.0,54.5 413.2,55.5 413.4,55.2 413.6,53.8 413.8,53.0 413.9,53.6 414.1,54.9 414.3,55.9 414.5,55.7 414.7,54.6 414.8,53.1 415.0,52.3 415.2,52.6 415.4,53.4 415.6,53.8 415.7,53.3 415.9,52.4 416.1,51.9 416.3,52.5 416.5,54.3 416.6,55.3 416.8,54.7 417.0,53.4 417.2,52.4 417.4,52.6 417.5,53.5 417.7,54.5 417.9,54.8 418.1,54.0 418.3,52.7 418.4,52.1 418.6,52.5 418.8,53.4 419.0,53.9 419.2,53.8 419.3,53.3 419.5,52.9 419.7,53.1 419.9,54.8 420.1,56.1 420.3,55.4 420.4,53.3 420.6,52.3 420.8,52.6 421.0,53.4 421.2,54.0 421.3,54.0 421.5,52.8 421.7,51.2 421.9,50.8 422.1,52.3 422.2,54.5 422.4,55.0 422.6,53.7 422.8,52.4 423.0,52.6 423.1,53.7 423.3,55.0 423.5,55.6 423.7,55.0 423.9,53.6 424.0,52.0 424.2,51.1 424.4,51.6 424.6,53.5 424.8,54.6 424.9,53.8 425.1,52.5 425.3,52.5 425.5,53.8 425.7,55.3 425.8,55.6 426.0,53.8 426.2,52.6 426.4,53.1 426.6,54.2 426.7,55.1 426.9,54.9 427.1,53.3 427.3,51.5 427.5,51.2 427.7,52.2 427.8,53.7 428.0,54.8 428.2,54.8 428.4,53.7 428.6,52.4 428.7,52.2 428.9,53.8 429.1,56.0 429.3,56.4 429.5,54.5 429.6,53.0 429.8,53.4 430.0,54.2 430.2,53.9 430.4,53.1 430.5,52.3 430.7,51.9 430.9,52.3 431.1,53.6 431.3,54.7 431.4,54.8 431.6,54.1 431.8,53.1 432.0,52.8 432.2,53.4 432.3,54.4 432.5,55.2 432.7,55.0 432.9,54.1 433.1,53.0 433.2,52.4 433.4,52.7 433.6,53.5 433.8,53.7 434.0,52.7 434.2,51.9 434.3,52.0 434.5,52.7 434.7,53.5 434.9,54.2 435.1,54.2 435.2,53.6 435.4,52.9 435.6,52.6 435.8,53.3 436.0,54.6 436.1,55.6 436.3,55.4 436.5,54.1 436.7,52.4 436.9,51.2 437.0,51.6 437.2,53.2 437.4,53.6 437.6,52.9 437.8,52.0 437.9,51.8 438.1,52.8 438.3,54.5 438.5,55.8 438.7,55.9 438.8,54.7 439.0,53.6 439.2,53.6 439.4,55.0 439.6,55.6 439.7,54.4 439.9,52.3 440.1,51.1 440.3,51.4 440.5,52.5 440.7,53.4 440.8,53.3 441.0,52.0 441.2,51.8 441.4,53.3 441.6,55.3 441.7,55.9 441.9,55.1 442.1,53.7 442.3,52.9 442.5,53.2 442.6,54.2 442.8,54.6 443.0,53.2 443.2,51.5 443.4,51.5 443.5,52.3 443.7,53.4 443.9,54.4 444.1,54.7 444.3,54.4 444.4,53.7 444.6,53.2 444.8,53.1 445.0,54.1 445.2,55.4 445.3,56.1 445.5,55.6 445.7,54.2 445.9,52.6 446.1,51.6 446.2,51.6 446.4,52.9 446.6,53.9 446.8,53.7 447.0,52.9 447.2,52.4 447.3,52.9 447.5,54.2 447.7,55.3 447.9,55.1 448.1,53.7 448.2,53.2 448.4,53.8 448.6,54.7 448.8,55.0 449.0,54.3 449.1,52.7 449.3,51.7 449.5,52.6 449.7,54.5 449.9,54.8 450.0,53.9 450.2,52.6 450.4,51.8 450.6,52.2 450.8,53.3 450.9,54.8 451.1,55.7 451.3,55.6 451.5,54.0 451.7,52.1 451.8,51.7 452.0,52.6 452.2,53.9 452.4,54.4 452.6,53.8 452.7,52.5 452.9,51.6 453.1,51.7 453.3,53.7 453.5,55.7 453.7,55.5 453.8,53.6 454.0,52.5 454.2,53.0 454.4,53.8 454.6,54.2 454.7,53.6 454.9,52.3 455.1,51.1 455.3,51.1 455.5,52.8 455.6,54.5 455.8,54.5 456.0,53.0 456.2,51.8 456.4,52.1 456.5,53.3 456.7,54.8 456.9,55.7 457.1,55.4 457.3,53.7 457.4,52.5 457.6,53.0 457.8,54.5 458.0,54.5 458.2,53.2 458.3,51.9 458.5,51.7 458.7,52.2 458.9,53.1 459.1,53.7 459.2,53.9 459.4,52.9 459.6,52.1 459.8,52.4 460.0,53.6 460.1,54.8 460.3,55.3 460.5,54.8 460.7,53.6 460.9,52.9 461.1,53.2 461.2,53.9 461.4,54.5 461.6,54.2 461.8,52.1 462.0,51.0 462.1,52.1 462.3,53.7 462.5,54.2 462.7,53.0 462.9,52.0 463.0,53.1 463.2,55.3 463.4,55.4 463.6,54.3 463.8,53.2 463.9,53.0 464.1,53.1 464.3,53.3 464.5,53.5 464.7,53.3 464.8,52.7 465.0,52.1 465.2,52.2 465.4,53.3 465.6,54.5 465.7,54.9 465.9,54.4 466.1,53.4 466.3,52.6 466.5,52.4 466.6,53.5 466.8,54.7 467.0,54.6 467.2,53.0 467.4,51.9 467.6,52.6 467.7,54.2 467.9,54.5 468.1,53.7 468.3,52.5 468.5,51.6 468.6,51.7 468.8,53.1 469.0,55.0 469.2,56.0 469.4,55.3 469.5,53.5 469.7,52.8 469.9,53.1 470.1,53.8 470.3,54.3 470.4,54.0 470.6,52.9 470.8,51.6 471.0,51.1 471.2,51.7 471.3,52.9 471.5,54.2 471.7,54.9 471.9,54.8 472.1,54.0 472.2,53.4 472.4,53.7 472.6,54.6 472.8,55.3 473.0,55.1 473.1,53.7 473.3,52.1 473.5,51.6 473.7,52.2 473.9,53.4 474.1,54.3 474.2,54.0 474.4,52.0 474.6,51.3 474.8,52.6 475.0,54.7 475.1,55.7 475.3,55.0 475.5,53.8 475.7,53.6 475.9,53.9 476.0,54.3 476.2,54.4 476.4,53.7 476.6,52.4 476.8,51.4 476.9,51.9 477.1,53.5 477.3,54.6 477.5,54.3 477.7,53.3 477.8,52.9 478.0,53.8 478.2,55.3 478.4,55.8 478.6,55.2 478.7,54.0 478.9,53.0 479.1,52.7 479.3,53.3 479.5,54.2 479.6,54.6 479.8,53.9 480.0,52.3 480.2,51.2 480.4,51.6 480.6,53.3 480.7,54.9 480.9,55.5 481.1,55.1 481.3,54.2 481.5,53.3 481.6,52.8 481.8,53.9 482.0,55.0 482.2,54.2 482.4,52.5 482.5,52.2 482.7,53.1 482.9,54.1 483.1,54.3 483.3,53.6 483.4,52.8 483.6,52.7 483.8,53.3 484.0,54.3 484.2,55.1 484.3,55.5 484.5,54.7 484.7,52.7 484.9,51.7 485.1,52.9 485.2,54.4 485.4,54.0 485.6,52.8 485.8,52.1 486.0,52.4 486.1,53.4 486.3,54.4 486.5,54.4 486.7,53.4 486.9,52.7 487.0,53.3 487.2,55.0 487.4,56.1 487.6,55.7 487.8,54.1 488.0,52.4 488.1,51.7 488.3,52.0 488.5,52.7 488.7,53.3 488.9,53.3 489.0,53.0 489.2,52.5 489.4,52.4 489.6,52.9 489.8,53.9 489.9,55.1 490.1,55.8 490.3,55.7 490.5,54.5 490.7,53.0 490.8,52.1 491.0,52.2 491.2,53.1 491.4,54.2 491.6,54.7 491.7,53.8 491.9,51.7 492.1,50.9 492.3,51.8 492.5,53.4 492.6,54.9 492.8,55.7 493.0,55.4 493.2,54.2 493.4,52.9 493.5,52.3 493.7,53.0 493.9,55.0 494.1,55.6 494.3,53.7 494.5,51.4 494.6,51.4 494.8,52.9 495.0,53.9 495.2,53.6 495.4,52.8 495.5,52.1 495.7,51.8 495.9,52.2 496.1,53.2 496.3,54.3 496.4,54.9 496.6,54.5 496.8,52.9 497.0,52.1 497.2,53.4 497.3,54.8 497.5,54.4 497.7,53.5 497.9,52.4 498.1,51.8 498.2,52.0 498.4,53.7 498.6,54.5 498.8,53.3 499.0,51.9 499.1,52.2 499.3,53.2 499.5,54.3 499.7,55.0 499.9,54.9 500.0,54.0 500.2,52.8 500.4,52.2 500.6,52.7 500.8,53.9 501.0,54.8 501.1,54.8 501.3,54.0 501.5,52.9 501.7,52.2 501.9,52.4 502.0,53.6" fill="none" stroke="#2a84cc" stroke-width="1.2" stroke-linejoin="round" clip-path="url(#cA1)"/>
<polyline points="28.3,51.9 28.5,52.7 28.7,54.5 28.8,55.8 29.0,55.3 29.2,52.8 29.4,51.9 29.6,52.4 29.7,53.5 29.9,54.6 30.1,55.0 30.3,53.7 30.5,51.2 30.6,50.6 30.8,52.0 31.0,54.1 31.2,55.4 31.4,55.0 31.5,53.2 31.7,51.4 31.9,51.1 32.1,52.7 32.3,54.7 32.5,55.0 32.6,54.0 32.8,52.4 33.0,51.2 33.2,51.2 33.4,53.0 33.5,55.3 33.7,56.3 33.9,55.1 34.1,52.6 34.3,50.7 34.4,51.0 34.6,53.7 34.8,55.8 35.0,55.3 35.2,53.4 35.3,51.8 35.5,51.7 35.7,52.9 35.9,54.5 36.1,55.3 36.2,54.7 36.4,53.2 36.6,51.5 36.8,50.6 37.0,52.0 37.1,54.8 37.3,55.6 37.5,54.2 37.7,52.4 37.9,52.0 38.0,52.8 38.2,54.2 38.4,55.3 38.6,55.6 38.8,53.7 39.0,51.3 39.1,51.4 39.3,54.1 39.5,56.3 39.7,55.7 39.9,53.4 40.0,52.1 40.2,52.9 40.4,54.8 40.6,55.4 40.8,54.1 40.9,51.9 41.1,50.6 41.3,51.2 41.5,53.0 41.7,54.8 41.8,55.5 42.0,53.9 42.2,52.0 42.4,52.1 42.6,53.1 42.7,54.4 42.9,55.4 43.1,55.6 43.3,54.7 43.5,53.2 43.6,52.1 43.8,52.5 44.0,55.1 44.2,56.3 44.4,55.3 44.5,53.3 44.7,51.8 44.9,51.9 45.1,53.4 45.3,54.9 45.5,54.7 45.6,53.2 45.8,52.1 46.0,52.4 46.2,53.6 46.4,54.9 46.5,55.7 46.7,54.7 46.9,52.0 47.1,50.9 47.3,52.4 47.4,54.5 47.6,54.9 47.8,53.5 48.0,51.7 48.2,50.6 48.3,52.1 48.5,55.5 48.7,56.0 48.9,54.0 49.1,52.1 49.2,52.6 49.4,54.7 49.6,55.3 49.8,54.4 50.0,52.7 50.1,51.5 50.3,51.4 50.5,52.4 50.7,53.8 50.9,55.0 51.0,55.1 51.2,53.8 51.4,52.1 51.6,51.7 51.8,52.8 52.0,54.5 52.1,56.1 52.3,56.7 52.5,55.4 52.7,52.6 52.9,51.0 53.0,52.3 53.2,55.2 53.4,56.8 53.6,55.1 53.8,52.1 53.9,51.8 54.1,53.6 54.3,55.5 54.5,55.9 54.7,54.5 54.8,52.1 55.0,50.1 55.2,49.7 55.4,51.8 55.6,55.1 55.7,57.1 55.9,56.4 56.1,53.8 56.3,51.0 56.5,49.8 56.6,50.6 56.8,52.5 57.0,54.4 57.2,55.5 57.4,55.1 57.5,53.7 57.7,52.1 57.9,51.6 58.1,52.9 58.3,55.2 58.5,56.4 58.6,55.8 58.8,54.0 59.0,52.0 59.2,50.9 59.4,51.7 59.5,54.6 59.7,55.4 59.9,53.1 60.1,50.6 60.3,50.9 60.4,53.6 60.6,55.4 60.8,54.7 61.0,53.0 61.2,51.9 61.3,52.3 61.5,53.7 61.7,55.3 61.9,56.2 62.1,55.3 62.2,52.5 62.4,51.0 62.6,52.9 62.8,55.8 63.0,55.9 63.1,53.8 63.3,52.0 63.5,52.5 63.7,55.0 63.9,56.2 64.0,55.2 64.2,53.2 64.4,51.5 64.6,51.4 64.8,52.8 64.9,54.7 65.1,55.8 65.3,55.0 65.5,52.3 65.7,51.2 65.9,52.9 66.0,55.7 66.2,57.1 66.4,55.4 66.6,52.3 66.8,51.7 66.9,53.6 67.1,56.2 67.3,57.6 67.5,56.8 67.7,54.3 67.8,51.5 68.0,49.8 68.2,51.1 68.4,55.8 68.6,57.7 68.7,56.2 68.9,53.4 69.1,51.3 69.3,51.1 69.5,52.9 69.6,55.1 69.8,55.9 70.0,54.6 70.2,52.2 70.4,50.0 70.5,49.3 70.7,50.9 70.9,54.1 71.1,56.9 71.3,57.8 71.4,54.9 71.6,50.4 71.8,49.2 72.0,51.9 72.2,55.4 72.4,55.9 72.5,53.6 72.7,50.7 72.9,49.9 73.1,52.7 73.3,56.4 73.4,57.4 73.6,55.5 73.8,52.5 74.0,50.6 74.2,51.1 74.3,53.4 74.5,55.9 74.7,56.8 74.9,55.6 75.1,53.2 75.2,51.0 75.4,50.4 75.6,51.8 75.8,54.3 76.0,56.4 76.1,56.9 76.3,54.8 76.5,51.4 76.7,49.3 76.9,50.1 77.0,53.1 77.2,56.0 77.4,56.5 77.6,55.3 77.8,53.3 77.9,51.6 78.1,50.9 78.3,52.5 78.5,55.8 78.7,57.5 78.9,55.0 79.0,51.2 79.2,51.0 79.4,53.2 79.6,56.1 79.8,58.0 79.9,57.6 80.1,54.3 80.3,50.4 80.5,48.5 80.7,49.6 80.8,52.6 81.0,55.6 81.2,56.8 81.4,55.5 81.6,52.8 81.7,50.6 81.9,50.2 82.1,52.0 82.3,54.8 82.5,56.8 82.6,56.4 82.8,52.0 83.0,48.6 83.2,49.8 83.4,54.2 83.5,58.7 83.7,60.5 83.9,56.7 84.1,49.0 84.3,43.3 84.4,44.1 84.6,52.1 84.8,60.7 85.0,62.3 85.2,52.9 85.4,44.3 85.5,46.0 85.7,52.5 85.9,59.9 86.1,63.9 86.3,62.2 86.4,55.7 86.6,48.4 86.8,44.4 87.0,45.7 87.2,50.6 87.3,56.3 87.5,59.8 87.7,59.1 87.9,54.8 88.1,49.3 88.2,45.6 88.4,47.0 88.6,57.2 88.8,63.7 89.0,59.8 89.1,51.1 89.3,45.0 89.5,45.7 89.7,50.4 89.9,56.3 90.0,60.0 90.2,59.3 90.4,54.0 90.6,47.7 90.8,44.9 90.9,54.8 91.1,57.0 91.3,49.7 91.5,43.7 91.7,44.7 91.8,49.5 92.0,54.8 92.2,57.1 92.4,55.1 92.6,50.3 92.8,45.4 92.9,43.4 93.1,44.9 93.3,48.8 93.5,54.1 93.7,59.2 93.8,62.6 94.0,63.3 94.2,60.2 94.4,54.2 94.6,48.0 94.7,44.0 94.9,45.3 95.1,57.4 95.3,69.4 95.5,69.0 95.6,53.6 95.8,36.1 96.0,32.0 96.2,50.5 96.4,72.8 96.5,74.5 96.7,60.8 96.9,41.5 97.1,27.9 97.3,28.0 97.4,42.5 97.6,63.1 97.8,77.6 98.0,73.5 98.2,40.3 98.3,27.8 98.5,40.7 98.7,62.4 98.9,78.7 99.1,78.1 99.3,58.7 99.4,36.7 99.6,30.9 99.8,42.9 100.0,61.0 100.2,69.4 100.3,63.2 100.5,49.1 100.7,37.8 100.9,37.6 101.1,47.5 101.2,59.9 101.4,65.4 101.6,59.5 101.8,47.8 102.0,41.9 102.1,44.1 102.3,49.8 102.5,56.8 102.7,62.5 102.9,64.6 103.0,58.2 103.2,49.6 103.4,49.5 103.6,51.1 103.8,53.3 103.9,55.5 104.1,57.0 104.3,57.3 104.5,55.2 104.7,51.4 104.8,47.8 105.0,46.3 105.2,52.3 105.4,61.3 105.6,61.5 105.8,55.4 105.9,46.7 106.1,42.6 106.3,47.0 106.5,57.0 106.7,65.4 106.8,66.2 107.0,58.9 107.2,47.6 107.4,40.3 107.6,42.6 107.7,52.8 107.9,62.8 108.1,64.8 108.3,59.1 108.5,49.9 108.6,42.9 108.8,43.2 109.0,52.9 109.2,63.0 109.4,63.9 109.5,56.2 109.7,45.3 109.9,39.5 110.1,45.1 110.3,57.8 110.4,65.2 110.6,58.0 110.8,44.6 111.0,42.3 111.2,49.4 111.3,59.6 111.5,65.7 111.7,60.7 111.9,50.4 112.1,48.7 112.3,52.8 112.4,58.2 112.6,60.5 112.8,55.8 113.0,46.8 113.2,42.7 113.3,47.3 113.5,55.8 113.7,60.6 113.9,58.4 114.1,52.3 114.2,47.1 114.4,47.0 114.6,56.7 114.8,65.1 115.0,61.8 115.1,53.9 115.3,46.6 115.5,44.5 115.7,48.8 115.9,55.9 116.0,60.3 116.2,57.9 116.4,50.7 116.6,45.1 116.8,46.0 116.9,49.4 117.1,51.5 117.3,51.0 117.5,50.3 117.7,52.5 117.8,56.2 118.0,59.3 118.2,60.1 118.4,58.5 118.6,55.4 118.8,52.1 118.9,49.8 119.1,49.2 119.3,50.8 119.5,54.1 119.7,56.9 119.8,56.5 120.0,52.9 120.2,48.5 120.4,45.8 120.6,45.5 120.7,46.6 120.9,47.2 121.1,46.9 121.3,48.7 121.5,50.3 121.6,51.9 121.8,53.2 122.0,53.5 122.2,52.0 122.4,49.9 122.5,50.6 122.7,54.5 122.9,59.1 123.1,60.8 123.3,58.6 123.4,54.6 123.6,51.7 123.8,50.3 124.0,50.2 124.2,51.3 124.3,49.7 124.5,45.7 124.7,42.1 124.9,41.5 125.1,45.9 125.2,52.8 125.4,57.1 125.6,54.9 125.8,46.1 126.0,39.7 126.2,40.2 126.3,43.2 126.5,47.7 126.7,52.5 126.9,56.3 127.1,56.6 127.2,57.9 127.4,62.0 127.6,66.1 127.8,67.2 128.0,64.3 128.1,59.2 128.3,53.8 128.5,49.8 128.7,48.2 128.9,49.1 129.0,50.7 129.2,51.5 129.4,50.4 129.6,47.3 129.8,44.0 129.9,42.4 130.1,43.7 130.3,47.8 130.5,52.4 130.7,56.2 130.8,58.2 131.0,57.9 131.2,54.8 131.4,51.6 131.6,53.6 131.7,58.8 131.9,63.2 132.1,63.7 132.3,59.6 132.5,53.6 132.7,49.3 132.8,49.5 133.0,51.5 133.2,52.5 133.4,50.1 133.6,45.0 133.7,42.3 133.9,45.9 134.1,53.4 134.3,57.7 134.5,56.2 134.6,53.2 134.8,52.4 135.0,55.1 135.2,60.0 135.4,64.2 135.5,64.4 135.7,54.9 135.9,44.1 136.1,43.2 136.3,48.0 136.4,55.3 136.6,61.6 136.8,64.1 137.0,61.7 137.2,56.0 137.3,50.6 137.5,48.8 137.7,50.1 137.9,52.7 138.1,54.6 138.2,54.2 138.4,50.2 138.6,45.7 138.8,44.6 139.0,46.8 139.2,50.8 139.3,53.8 139.5,54.3 139.7,52.2 139.9,49.5 140.1,49.1 140.2,52.7 140.4,58.7 140.6,63.1 140.8,63.6 141.0,60.4 141.1,55.4 141.3,52.0 141.5,51.6 141.7,54.5 141.9,58.1 142.0,57.3 142.2,52.6 142.4,47.3 142.6,45.0 142.8,46.6 142.9,49.1 143.1,48.0 143.3,45.8 143.5,45.4 143.7,48.0 143.8,53.5 144.0,58.8 144.2,60.4 144.4,57.8 144.6,53.5 144.7,51.3 144.9,52.7 145.1,56.8 145.3,61.0 145.5,62.5 145.7,60.1 145.8,53.3 146.0,50.1 146.2,49.4 146.4,51.7 146.6,54.2 146.7,55.0 146.9,53.9 147.1,52.9 147.3,53.7 147.5,56.4 147.6,59.7 147.8,62.2 148.0,62.3 148.2,59.2 148.4,53.9 148.5,50.1 148.7,49.0 148.9,50.4 149.1,52.7 149.3,54.0 149.4,53.1 149.6,50.8 149.8,50.7 150.0,52.9 150.2,55.9 150.3,58.2 150.5,58.7 150.7,57.2 150.9,54.8 151.1,53.2 151.2,53.6 151.4,53.9 151.6,53.3 151.8,51.6 152.0,49.0 152.1,46.4 152.3,46.4 152.5,48.9 152.7,51.9 152.9,54.0 153.1,54.7 153.2,54.4 153.4,55.0 153.6,57.2 153.8,58.8 154.0,58.4 154.1,56.1 154.3,53.3 154.5,51.6 154.7,51.2 154.9,51.5 155.0,51.7 155.2,51.3 155.4,50.7 155.6,49.8 155.8,48.8 155.9,50.9 156.1,55.3 156.3,58.4 156.5,58.3 156.7,56.7 156.8,55.2 157.0,55.5 157.2,57.3 157.4,58.0 157.6,56.0 157.7,53.0 157.9,50.6 158.1,50.8 158.3,51.7 158.5,51.9 158.6,52.3 158.8,52.1 159.0,51.3 159.2,51.5 159.4,54.0 159.6,57.4 159.7,60.1 159.9,60.6 160.1,58.9 160.3,55.6 160.5,52.5 160.6,51.2 160.8,51.8 161.0,52.8 161.2,52.7 161.4,51.0 161.5,49.0 161.7,48.8 161.9,51.2 162.1,54.7 162.3,57.5 162.4,58.2 162.6,57.4 162.8,55.7 163.0,54.1 163.2,53.3 163.3,53.7 163.5,55.0 163.7,55.6 163.9,54.2 164.1,51.5 164.2,49.5 164.4,50.0 164.6,52.5 164.8,54.8 165.0,55.4 165.1,54.6 165.3,54.2 165.5,55.6 165.7,57.7 165.9,59.1 166.1,58.4 166.2,55.9 166.4,53.3 166.6,51.6 166.8,51.3 167.0,51.8 167.1,52.6 167.3,52.9 167.5,52.2 167.7,50.3 167.9,50.0 168.0,52.6 168.2,56.1 168.4,58.8 168.6,59.5 168.8,57.9 168.9,55.0 169.1,52.5 169.3,51.4 169.5,52.2 169.7,53.5 169.8,53.1 170.0,51.5 170.2,49.6 170.4,48.5 170.6,49.2 170.7,52.2 170.9,55.7 171.1,57.6 171.3,57.4 171.5,56.1 171.6,55.1 171.8,55.5 172.0,56.6 172.2,56.9 172.4,56.1 172.6,54.1 172.7,51.6 172.9,49.6 173.1,49.0 173.3,49.9 173.5,51.8 173.6,53.4 173.8,54.3 174.0,54.6 174.2,55.2 174.4,56.1 174.5,56.5 174.7,56.2 174.9,55.2 175.1,54.3 175.3,53.7 175.4,53.2 175.6,52.3 175.8,51.6 176.0,51.6 176.2,52.1 176.3,52.6 176.5,53.4 176.7,54.3 176.9,54.8 177.1,55.5 177.2,56.9 177.4,57.6 177.6,56.6 177.8,54.9 178.0,54.1 178.1,53.6 178.3,52.8 178.5,51.6 178.7,50.6 178.9,49.9 179.1,49.9 179.2,50.2 179.4,51.1 179.6,52.9 179.8,54.7 180.0,55.5 180.1,55.3 180.3,54.9 180.5,55.0 180.7,55.8 180.9,56.2 181.0,55.3 181.2,53.1 181.4,50.8 181.6,50.2 181.8,51.2 181.9,52.2 182.1,52.3 182.3,51.7 182.5,51.6 182.7,53.1 182.8,56.4 183.0,58.4 183.2,58.1 183.4,56.4 183.6,54.9 183.7,54.4 183.9,54.4 184.1,53.8 184.3,53.1 184.5,52.4 184.6,52.0 184.8,52.0 185.0,51.8 185.2,51.2 185.4,51.3 185.5,53.4 185.7,55.6 185.9,56.7 186.1,56.5 186.3,55.8 186.5,54.9 186.6,54.0 186.8,53.6 187.0,54.3 187.2,54.2 187.4,51.7 187.5,48.6 187.7,48.3 187.9,50.5 188.1,53.4 188.3,54.7 188.4,53.8 188.6,52.3 188.8,52.3 189.0,53.9 189.2,56.5 189.3,57.2 189.5,55.5 189.7,52.9 189.9,50.9 190.1,50.3 190.2,51.2 190.4,52.5 190.6,53.1 190.8,52.8 191.0,52.1 191.1,51.8 191.3,52.5 191.5,55.0 191.7,57.6 191.9,58.2 192.0,56.9 192.2,54.8 192.4,53.8 192.6,54.7 192.8,55.8 193.0,55.4 193.1,53.1 193.3,50.6 193.5,49.7 193.7,50.2 193.9,51.7 194.0,53.9 194.2,54.9 194.4,54.8 194.6,54.5 194.8,54.6 194.9,55.1 195.1,56.0 195.3,56.7 195.5,56.5 195.7,55.5 195.8,53.5 196.0,51.8 196.2,51.9 196.4,52.1 196.6,51.7 196.7,51.2 196.9,50.9 197.1,51.4 197.3,52.7 197.5,54.0 197.6,54.9 197.8,55.0 198.0,54.5 198.2,54.0 198.4,53.8 198.5,53.9 198.7,54.3 198.9,54.6 199.1,53.4 199.3,50.9 199.5,49.3 199.6,50.0 199.8,52.2 200.0,53.7 200.2,54.1 200.4,53.8 200.5,53.6 200.7,53.9 200.9,54.6 201.1,55.8 201.3,57.3 201.4,56.8 201.6,54.5 201.8,52.2 202.0,51.3 202.2,52.0 202.3,53.3 202.5,53.9 202.7,53.0 202.9,51.7 203.1,51.1 203.2,51.6 203.4,53.1 203.6,54.9 203.8,56.1 204.0,55.8 204.1,55.0 204.3,54.4 204.5,53.7 204.7,53.0 204.9,52.6 205.0,53.0 205.2,53.5 205.4,52.9 205.6,51.7 205.8,50.8 206.0,51.1 206.1,52.4 206.3,53.5 206.5,54.1 206.7,54.4 206.9,54.6 207.0,54.4 207.2,54.3 207.4,54.5 207.6,54.5 207.8,53.4 207.9,52.0 208.1,51.1 208.3,50.6 208.5,50.5 208.7,50.8 208.8,51.7 209.0,52.2 209.2,52.2 209.4,52.3 209.6,53.4 209.7,55.4 209.9,56.6 210.1,56.2 210.3,55.2 210.5,54.5 210.6,54.9 210.8,55.4 211.0,54.9 211.2,54.0 211.4,53.2 211.5,52.4 211.7,51.5 211.9,50.8 212.1,50.7 212.3,51.7 212.4,53.1 212.6,53.8 212.8,54.0 213.0,54.3 213.2,55.1 213.4,56.2 213.5,56.5 213.7,55.4 213.9,53.9 214.1,52.7 214.3,52.2 214.4,52.4 214.6,52.9 214.8,52.9 215.0,52.4 215.2,51.8 215.3,51.9 215.5,53.0 215.7,54.1 215.9,55.3 216.1,55.6 216.2,55.3 216.4,55.8 216.6,56.6 216.8,56.1 217.0,55.2 217.1,54.5 217.3,54.3 217.5,54.6 217.7,54.2 217.9,52.7 218.0,51.3 218.2,50.7 218.4,51.1 218.6,52.3 218.8,53.7 218.9,54.3 219.1,54.3 219.3,54.0 219.5,54.4 219.7,55.4 219.9,56.5 220.0,56.1 220.2,54.5 220.4,52.8 220.6,51.5 220.8,51.1 220.9,51.5 221.1,52.2 221.3,52.6 221.5,51.9 221.7,51.1 221.8,51.3 222.0,52.4 222.2,54.1 222.4,55.7 222.6,56.1 222.7,55.9 222.9,55.9 223.1,55.8 223.3,55.0 223.5,53.4 223.6,51.8 223.8,50.5 224.0,50.2 224.2,51.1 224.4,52.8 224.5,54.0 224.7,54.2 224.9,53.9 225.1,53.6 225.3,53.7 225.4,54.4 225.6,55.3 225.8,55.4 226.0,54.5 226.2,52.8 226.4,51.2 226.5,50.6 226.7,51.2 226.9,52.4 227.1,53.4 227.3,53.2 227.4,51.8 227.6,50.8 227.8,52.1 228.0,54.3 228.2,56.3 228.3,56.8 228.5,55.7 228.7,53.7 228.9,52.0 229.1,51.7 229.2,52.7 229.4,53.9 229.6,53.8 229.8,52.5 230.0,51.0 230.1,50.9 230.3,52.6 230.5,55.1 230.7,56.6 230.9,56.3 231.0,54.8 231.2,54.0 231.4,54.6 231.6,55.8 231.8,56.1 231.9,55.1 232.1,53.2 232.3,51.4 232.5,50.3 232.7,50.5 232.9,51.7 233.0,53.3 233.2,54.3 233.4,54.1 233.6,53.1 233.8,52.4 233.9,53.0 234.1,54.5 234.3,55.6 234.5,55.5 234.7,54.2 234.8,52.9 235.0,52.5 235.2,52.9 235.4,52.6 235.6,52.1 235.7,51.7 235.9,51.2 236.1,51.1 236.3,51.7 236.5,52.9 236.6,54.4 236.8,55.0 237.0,54.4 237.2,53.5 237.4,53.0 237.5,53.1 237.7,53.6 237.9,54.5 238.1,55.1 238.3,54.7 238.4,53.2 238.6,51.1 238.8,50.2 239.0,51.0 239.2,52.6 239.4,54.0 239.5,54.3 239.7,53.4 239.9,52.3 240.1,52.0 240.3,53.3 240.4,55.2 240.6,55.6 240.8,54.6 241.0,53.4 241.2,53.0 241.3,53.1 241.5,53.5 241.7,54.0 241.9,53.3 242.1,51.3 242.2,50.4 242.4,51.5 242.6,52.7 242.8,53.4 243.0,53.4 243.1,53.3 243.3,53.8 243.5,54.7 243.7,55.4 243.9,55.4 244.0,55.1 244.2,54.7 244.4,52.7 244.6,53.4 244.8,53.5 244.9,53.7 245.1,54.6 245.3,53.7 245.5,53.0 245.7,52.5 245.8,52.0 246.0,53.3 246.2,53.6 246.4,54.4 246.6,54.4 246.8,53.1 246.9,52.5 247.1,54.5 247.3,55.5 247.5,56.1 247.7,55.2 247.8,53.8 248.0,53.6 248.2,52.7 248.4,52.1 248.6,51.8 248.7,52.2 248.9,53.9 249.1,53.9 249.3,52.9 249.5,51.4 249.6,51.8 249.8,54.0 250.0,54.4 250.2,54.0 250.4,52.9 250.5,53.6 250.7,54.9 250.9,55.6 251.1,55.8 251.3,56.0 251.4,55.2 251.6,54.1 251.8,53.4 252.0,52.4 252.2,52.3 252.3,52.5 252.5,52.5 252.7,52.8 252.9,52.6 253.1,52.7 253.3,52.1 253.4,50.8 253.6,52.0 253.8,54.0 254.0,54.9 254.2,53.9 254.3,54.0 254.5,52.0 254.7,52.6 254.9,54.3 255.1,52.3 255.2,53.1 255.4,55.9 255.6,55.5 255.8,53.8 256.0,52.5 256.1,53.9 256.3,54.6 256.5,52.2 256.7,52.5 256.9,53.3 257.0,52.5 257.2,51.2 257.4,51.3 257.6,53.9 257.8,55.4 257.9,52.4 258.1,49.3 258.3,50.6 258.5,53.9 258.7,55.8 258.8,53.5 259.0,52.3 259.2,54.1 259.4,55.4 259.6,54.2 259.8,52.3 259.9,52.6 260.1,54.4 260.3,52.9 260.5,51.5 260.7,52.4 260.8,54.7 261.0,55.2 261.2,53.8 261.4,53.0 261.6,54.4 261.7,55.1 261.9,51.7 262.1,53.9 262.3,55.3 262.5,53.6 262.6,52.2 262.8,52.9 263.0,54.2 263.2,53.9 263.4,53.1 263.5,53.5 263.7,55.3 263.9,55.1 264.1,52.7 264.3,52.6 264.4,54.8 264.6,54.9 264.8,53.0 265.0,51.5 265.2,51.8 265.3,53.6 265.5,54.7 265.7,53.2 265.9,51.4 266.1,52.2 266.3,54.4 266.4,55.0 266.6,52.9 266.8,53.3 267.0,56.0 267.2,55.3 267.3,52.6 267.5,53.1 267.7,54.2 267.9,54.4 268.1,52.5 268.2,52.2 268.4,53.7 268.6,54.8 268.8,53.7 269.0,52.9 269.1,55.0 269.3,56.6 269.5,55.5 269.7,53.8 269.9,53.7 270.0,55.0 270.2,55.0 270.4,51.9 270.6,50.6 270.8,51.7 270.9,53.3 271.1,53.4 271.3,52.3 271.5,52.9 271.7,55.0 271.8,55.3 272.0,54.2 272.2,53.3 272.4,53.5 272.6,54.1 272.7,54.2 272.9,53.4 273.1,52.1 273.3,51.8 273.5,53.5 273.7,53.0 273.8,52.6 274.0,53.6 274.2,54.8 274.4,54.9 274.6,53.3 274.7,53.9 274.9,55.3 275.1,55.0 275.3,53.4 275.5,53.9 275.6,54.8 275.8,54.7 276.0,53.2 276.2,51.9 276.4,52.2 276.5,53.5 276.7,54.1 276.9,53.1 277.1,51.7 277.3,51.7 277.4,53.8 277.6,52.8 277.8,52.1 278.0,53.5 278.2,55.3 278.3,55.1 278.5,53.7 278.7,53.4 278.9,54.5 279.1,55.8 279.2,55.3 279.4,51.9 279.6,51.9 279.8,53.4 280.0,54.0 280.2,53.0 280.3,51.4 280.5,51.2 280.7,52.8 280.9,53.9 281.1,51.2 281.2,51.7 281.4,53.7 281.6,55.1 281.8,54.2 282.0,52.5 282.1,53.6 282.3,54.9 282.5,52.3 282.7,53.6 282.9,55.3 283.0,54.6 283.2,52.9 283.4,52.2 283.6,53.8 283.8,55.0 283.9,53.5 284.1,51.6 284.3,52.3 284.5,54.2 284.7,53.6 284.8,51.8 285.0,52.5 285.2,54.2 285.4,54.7 285.6,53.1 285.7,51.8 285.9,52.4 286.1,53.9 286.3,54.6 286.5,53.9 286.7,52.8 286.8,52.6 287.0,53.6 287.2,53.9 287.4,52.8 287.6,51.4 287.7,51.1 287.9,52.1 288.1,53.3 288.3,53.2 288.5,51.8 288.6,52.2 288.8,54.7 289.0,54.9 289.2,52.8 289.4,52.1 289.5,55.0 289.7,53.4 289.9,52.5 290.1,54.1 290.3,55.7 290.4,54.7 290.6,52.3 290.8,53.4 291.0,55.2 291.2,54.3 291.3,51.9 291.5,52.0 291.7,53.8 291.9,55.2 292.1,54.9 292.2,53.7 292.4,53.1 292.6,53.7 292.8,54.7 293.0,54.5 293.2,52.6 293.3,52.6 293.5,54.0 293.7,54.8 293.9,52.6 294.1,50.6 294.2,52.0 294.4,53.4 294.6,53.1 294.8,52.3 295.0,52.4 295.1,54.2 295.3,54.3 295.5,52.8 295.7,52.4 295.9,53.8 296.0,55.3 296.2,55.2 296.4,53.1 296.6,51.7 296.8,53.8 296.9,54.3 297.1,51.9 297.3,52.2 297.5,53.8 297.7,55.0 297.8,53.4 298.0,52.0 298.2,54.5 298.4,55.6 298.6,53.3 298.7,52.7 298.9,54.3 299.1,54.3 299.3,53.1 299.5,53.7 299.7,54.7 299.8,54.7 300.0,53.3 300.2,51.8 300.4,52.1 300.6,52.0 300.7,52.5 300.9,52.7 301.1,52.1 301.3,50.9 301.5,50.3 301.6,50.9 301.8,52.4 302.0,54.1 302.2,55.0 302.4,54.7 302.5,54.0 302.7,53.9 302.9,54.4 303.1,55.2 303.3,55.7 303.4,55.6 303.6,54.1 303.8,52.0 304.0,50.5 304.2,50.5 304.3,52.4 304.5,54.6 304.7,55.2 304.9,54.1 305.1,52.3 305.2,50.9 305.4,50.9 305.6,52.1 305.8,53.3 306.0,53.5 306.1,52.2 306.3,52.2 306.5,53.8 306.7,55.4 306.9,55.5 307.1,54.2 307.2,53.5 307.4,53.9 307.6,54.8 307.8,55.3 308.0,55.1 308.1,54.1 308.3,52.9 308.5,52.3 308.7,52.8 308.9,54.2 309.0,55.1 309.2,54.4 309.4,52.7 309.6,51.7 309.8,52.6 309.9,54.8 310.1,56.2 310.3,55.7 310.5,54.2 310.7,53.3 310.8,53.8 311.0,54.7 311.2,54.2 311.4,52.7 311.6,51.4 311.7,51.4 311.9,53.0 312.1,54.1 312.3,53.7 312.5,52.7 312.6,51.6 312.8,51.3 313.0,52.0 313.2,53.4 313.4,54.8 313.6,55.3 313.7,54.8 313.9,53.8 314.1,53.1 314.3,53.1 314.5,53.9 314.6,54.7 314.8,54.8 315.0,54.0 315.2,52.8 315.4,51.9 315.5,51.8 315.7,52.7 315.9,54.0 316.1,54.5 316.3,54.0 316.4,53.0 316.6,52.2 316.8,52.1 317.0,53.9 317.2,55.9 317.3,55.6 317.5,53.6 317.7,51.9 317.9,52.1 318.1,53.5 318.2,54.7 318.4,54.4 318.6,52.9 318.8,52.0 319.0,52.4 319.1,53.2 319.3,54.2 319.5,54.7 319.7,54.2 319.9,53.2 320.1,52.8 320.2,53.9 320.4,55.3 320.6,55.5 320.8,54.1 321.0,52.2 321.1,51.1 321.3,51.5 321.5,52.9 321.7,54.4 321.9,55.0 322.0,54.6 322.2,53.7 322.4,53.0 322.6,53.1 322.8,54.2 322.9,55.0 323.1,54.6 323.3,53.6 323.5,53.1 323.7,53.6 323.8,54.4 324.0,54.1 324.2,52.9 324.4,52.2 324.6,52.4 324.7,53.2 324.9,53.7 325.1,53.5 325.3,52.5 325.5,51.7 325.6,52.0 325.8,53.1 326.0,54.5 326.2,55.3 326.4,55.0 326.6,54.0 326.7,52.9 326.9,52.2 327.1,52.3 327.3,53.1 327.5,54.0 327.6,54.6 327.8,54.5 328.0,53.9 328.2,53.3 328.4,53.3 328.5,54.0 328.7,55.2 328.9,55.8 329.1,55.4 329.3,54.1 329.4,52.6 329.6,51.5 329.8,51.7 330.0,53.5 330.2,54.8 330.3,54.4 330.5,53.4 330.7,52.4 330.9,52.1 331.1,52.8 331.2,54.1 331.4,55.1 331.6,54.9 331.8,53.8 332.0,53.0 332.1,53.5 332.3,54.7 332.5,55.0 332.7,53.8 332.9,52.2 333.0,51.8 333.2,52.5 333.4,53.3 333.6,53.3 333.8,52.7 334.0,52.0 334.1,51.8 334.3,52.6 334.5,54.1 334.7,55.2 334.9,55.1 335.0,54.3 335.2,53.4 335.4,52.9 335.6,53.6 335.8,54.7 335.9,54.8 336.1,53.4 336.3,51.8 336.5,51.6 336.7,53.4 336.8,55.0 337.0,54.6 337.2,53.1 337.4,52.5 337.6,53.4 337.7,55.0 337.9,55.7 338.1,55.3 338.3,54.1 338.5,52.9 338.6,52.2 338.8,52.5 339.0,53.4 339.2,53.6 339.4,52.8 339.5,51.8 339.7,52.0 339.9,52.9 340.1,53.9 340.3,54.0 340.5,52.7 340.6,52.3 340.8,53.7 341.0,55.1 341.2,55.0 341.4,53.9 341.5,52.7 341.7,52.0 341.9,52.8 342.1,53.8 342.3,53.6 342.4,52.4 342.6,51.2 342.8,50.7 343.0,51.3 343.2,52.8 343.3,54.4 343.5,55.4 343.7,55.1 343.9,53.9 344.1,52.6 344.2,52.2 344.4,53.2 344.6,54.9 344.8,55.5 345.0,54.8 345.1,53.5 345.3,52.4 345.5,52.0 345.7,52.5 345.9,53.5 346.0,54.5 346.2,54.9 346.4,54.4 346.6,53.2 346.8,52.2 347.0,52.1 347.1,54.1 347.3,55.8 347.5,55.4 347.7,54.2 347.9,53.1 348.0,52.8 348.2,53.3 348.4,54.2 348.6,54.8 348.8,54.4 348.9,52.6 349.1,51.9 349.3,52.6 349.5,53.6 349.7,54.4 349.8,54.4 350.0,53.5 350.2,52.8 350.4,53.4 350.6,55.4 350.7,55.9 350.9,54.8 351.1,53.0 351.3,51.7 351.5,51.5 351.6,52.9 351.8,54.4 352.0,54.3 352.2,52.3 352.4,51.8 352.5,52.9 352.7,54.3 352.9,54.9 353.1,54.6 353.3,53.9 353.5,53.4 353.6,53.3 353.8,53.9 354.0,54.4 354.2,53.9 354.4,52.7 354.5,51.6 354.7,51.6 354.9,53.2 355.1,54.8 355.3,54.4 355.4,52.8 355.6,52.8 355.8,54.1 356.0,55.7 356.2,56.4 356.3,55.9 356.5,54.6 356.7,53.3 356.9,52.7 357.1,53.7 357.2,55.0 357.4,54.6 357.6,53.3 357.8,51.8 358.0,51.1 358.1,51.5 358.3,52.5 358.5,53.7 358.7,54.4 358.9,54.4 359.0,54.0 359.2,53.4 359.4,53.3 359.6,53.9 359.8,54.7 360.0,55.4 360.1,55.1 360.3,52.6 360.5,50.9 360.7,51.7 360.9,53.6 361.0,54.6 361.2,54.1 361.4,53.0 361.6,52.3 361.8,52.8 361.9,53.9 362.1,55.0 362.3,55.4 362.5,54.9 362.7,53.7 362.8,52.6 363.0,52.1 363.2,52.7 363.4,53.9 363.6,54.5 363.7,53.8 363.9,52.4 364.1,51.8 364.3,52.5 364.5,53.9 364.6,54.7 364.8,54.6 365.0,54.1 365.2,53.4 365.4,53.2 365.5,53.9 365.7,55.2 365.9,55.4 366.1,54.5 366.3,53.0 366.4,51.8 366.6,51.5 366.8,52.2 367.0,53.4 367.2,54.1 367.4,54.0 367.5,53.0 367.7,51.9 367.9,51.5 368.1,52.8 368.3,55.5 368.4,55.9 368.6,55.0 368.8,53.6 369.0,52.7 369.2,52.9 369.3,54.1 369.5,54.7 369.7,53.7 369.9,52.1 370.1,51.5 370.2,52.5 370.4,53.5 370.6,53.4 370.8,52.7 371.0,52.1 371.1,51.8 371.3,52.6 371.5,54.5 371.7,55.3 371.9,54.4 372.0,53.0 372.2,52.6 372.4,53.8 372.6,55.2 372.8,55.3 372.9,54.0 373.1,52.3 373.3,51.4 373.5,51.9 373.7,53.2 373.9,54.1 374.0,53.9 374.2,53.1 374.4,52.3 374.6,52.1 374.8,53.2 374.9,54.9 375.1,55.9 375.3,55.5 375.5,54.3 375.7,53.3 375.8,53.0 376.0,53.5 376.2,54.2 376.4,54.1 376.6,53.0 376.7,52.0 376.9,52.0 377.1,52.7 377.3,53.5 377.5,54.2 377.6,54.1 377.8,52.8 378.0,52.2 378.2,52.8 378.4,53.8 378.5,54.6 378.7,54.5 378.9,53.4 379.1,52.0 379.3,50.9 379.4,51.1 379.6,52.6 379.8,53.5 380.0,52.7 380.2,51.5 380.4,51.8 380.5,53.1 380.7,54.5 380.9,55.2 381.1,54.5 381.3,52.7 381.4,52.2 381.6,52.9 381.8,53.8 382.0,54.1 382.2,52.7 382.3,50.9 382.5,51.0 382.7,53.0 382.9,55.0 383.1,55.3 383.2,54.0 383.4,52.7 383.6,52.9 383.8,54.3 384.0,55.7 384.1,55.9 384.3,54.9 384.5,53.2 384.7,51.7 384.9,51.2 385.0,52.0 385.2,53.4 385.4,54.3 385.6,53.9 385.8,52.9 385.9,52.4 386.1,52.8 386.3,53.8 386.5,54.7 386.7,55.1 386.9,54.3 387.0,52.9 387.2,52.3 387.4,52.9 387.6,54.2 387.8,55.1 387.9,55.0 388.1,53.4 388.3,52.1 388.5,52.3 388.7,53.4 388.8,54.7 389.0,55.6 389.2,55.4 389.4,54.2 389.6,53.0 389.7,52.7 389.9,53.7 390.1,54.7 390.3,54.6 390.5,53.1 390.6,52.1 390.8,52.1 391.0,52.7 391.2,53.4 391.4,53.8 391.5,53.0 391.7,51.4 391.9,51.4 392.1,52.7 392.3,54.2 392.4,54.8 392.6,54.5 392.8,53.5 393.0,52.6 393.2,52.3 393.4,53.0 393.5,54.5 393.7,55.4 393.9,55.0 394.1,53.5 394.3,52.1 394.4,51.8 394.6,53.0 394.8,54.0 395.0,53.7 395.2,52.9 395.3,52.3 395.5,52.6 395.7,53.7 395.9,54.9 396.1,55.5 396.2,55.1 396.4,54.2 396.6,53.3 396.8,53.0 397.0,53.7 397.1,54.6 397.3,54.6 397.5,53.4 397.7,52.3 397.9,52.3 398.0,53.1 398.2,54.1 398.4,55.0 398.6,55.3 398.8,54.6 398.9,53.8 399.1,53.7 399.3,54.0 399.5,54.2 399.7,54.1 399.8,52.9 400.0,51.4 400.2,51.2 400.4,52.3 400.6,53.8 400.8,54.4 400.9,54.2 401.1,53.7 401.3,53.2 401.5,53.1 401.7,54.4 401.8,55.9 402.0,55.2 402.2,52.9 402.4,52.2 402.6,53.0 402.7,54.3 402.9,55.0 403.1,54.6 403.3,53.5 403.5,52.5 403.6,52.1 403.8,52.8 404.0,54.4 404.2,55.2 404.4,54.8 404.5,53.7 404.7,52.9 404.9,52.9 405.1,53.9 405.3,54.7 405.4,54.6 405.6,53.7 405.8,52.5 406.0,52.1 406.2,52.6 406.3,53.7 406.5,54.8 406.7,55.0 406.9,54.0 407.1,52.7 407.3,52.4 407.4,53.4 407.6,54.7 407.8,55.0 408.0,54.4 408.2,53.3 408.3,52.3 408.5,52.0 408.7,53.0 408.9,53.9 409.1,53.2 409.2,51.7 409.4,50.7 409.6,51.5 409.8,53.7 410.0,54.5 410.1,54.0 410.3,52.8 410.5,52.0 410.7,52.3 410.9,53.8 411.0,55.1 411.2,54.8 411.4,53.3 411.6,51.9 411.8,52.0 411.9,54.0 412.1,54.4 412.3,53.3 412.5,52.1 412.7,51.9 412.8,52.9 413.0,54.5 413.2,55.5 413.4,55.2 413.6,53.8 413.8,53.0 413.9,53.6 414.1,54.9 414.3,55.9 414.5,55.7 414.7,54.6 414.8,53.1 415.0,52.3 415.2,52.6 415.4,53.4 415.6,53.8 415.7,53.3 415.9,52.4 416.1,51.9 416.3,52.5 416.5,54.3 416.6,55.3 416.8,54.7 417.0,53.4 417.2,52.4 417.4,52.6 417.5,53.5 417.7,54.5 417.9,54.8 418.1,54.0 418.3,52.7 418.4,52.1 418.6,52.5 418.8,53.4 419.0,53.9 419.2,53.8 419.3,53.3 419.5,52.9 419.7,53.1 419.9,54.8 420.1,56.1 420.3,55.4 420.4,53.3 420.6,52.3 420.8,52.6 421.0,53.4 421.2,54.0 421.3,54.0 421.5,52.8 421.7,51.2 421.9,50.8 422.1,52.3 422.2,54.5 422.4,55.0 422.6,53.7 422.8,52.4 423.0,52.6 423.1,53.7 423.3,55.0 423.5,55.6 423.7,55.0 423.9,53.6 424.0,52.0 424.2,51.1 424.4,51.6 424.6,53.5 424.8,54.6 424.9,53.8 425.1,52.5 425.3,52.5 425.5,53.8 425.7,55.3 425.8,55.6 426.0,53.8 426.2,52.6 426.4,53.1 426.6,54.2 426.7,55.1 426.9,54.9 427.1,53.3 427.3,51.5 427.5,51.2 427.7,52.2 427.8,53.7 428.0,54.8 428.2,54.8 428.4,53.7 428.6,52.4 428.7,52.2 428.9,53.8 429.1,56.0 429.3,56.4 429.5,54.5 429.6,53.0 429.8,53.4 430.0,54.2 430.2,53.9 430.4,53.1 430.5,52.3 430.7,51.9 430.9,52.3 431.1,53.6 431.3,54.7 431.4,54.8 431.6,54.1 431.8,53.1 432.0,52.8 432.2,53.4 432.3,54.4 432.5,55.2 432.7,55.0 432.9,54.1 433.1,53.0 433.2,52.4 433.4,52.7 433.6,53.5 433.8,53.7 434.0,52.7 434.2,51.9 434.3,52.0 434.5,52.7 434.7,53.5 434.9,54.2 435.1,54.2 435.2,53.6 435.4,52.9 435.6,52.6 435.8,53.3 436.0,54.6 436.1,55.6 436.3,55.4 436.5,54.1 436.7,52.4 436.9,51.2 437.0,51.6 437.2,53.2 437.4,53.6 437.6,52.9 437.8,52.0 437.9,51.8 438.1,52.8 438.3,54.5 438.5,55.8 438.7,55.9 438.8,54.7 439.0,53.6 439.2,53.6 439.4,55.0 439.6,55.6 439.7,54.4 439.9,52.3 440.1,51.1 440.3,51.4 440.5,52.5 440.7,53.4 440.8,53.3 441.0,52.0 441.2,51.8 441.4,53.3 441.6,55.3 441.7,55.9 441.9,55.1 442.1,53.7 442.3,52.9 442.5,53.2 442.6,54.2 442.8,54.6 443.0,53.2 443.2,51.5 443.4,51.5 443.5,52.3 443.7,53.4 443.9,54.4 444.1,54.7 444.3,54.4 444.4,53.7 444.6,53.2 444.8,53.1 445.0,54.1 445.2,55.4 445.3,56.1 445.5,55.6 445.7,54.2 445.9,52.6 446.1,51.6 446.2,51.6 446.4,52.9 446.6,53.9 446.8,53.7 447.0,52.9 447.2,52.4 447.3,52.9 447.5,54.2 447.7,55.3 447.9,55.1 448.1,53.7 448.2,53.2 448.4,53.8 448.6,54.7 448.8,55.0 449.0,54.3 449.1,52.7 449.3,51.7 449.5,52.6 449.7,54.5 449.9,54.8 450.0,53.9 450.2,52.6 450.4,51.8 450.6,52.2 450.8,53.3 450.9,54.8 451.1,55.7 451.3,55.6 451.5,54.0 451.7,52.1 451.8,51.7 452.0,52.6 452.2,53.9 452.4,54.4 452.6,53.8 452.7,52.5 452.9,51.6 453.1,51.7 453.3,53.7 453.5,55.7 453.7,55.5 453.8,53.6 454.0,52.5 454.2,53.0 454.4,53.8 454.6,54.2 454.7,53.6 454.9,52.3 455.1,51.1 455.3,51.1 455.5,52.8 455.6,54.5 455.8,54.5 456.0,53.0 456.2,51.8 456.4,52.1 456.5,53.3 456.7,54.8 456.9,55.7 457.1,55.4 457.3,53.7 457.4,52.5 457.6,53.0 457.8,54.5 458.0,54.5 458.2,53.2 458.3,51.9 458.5,51.7 458.7,52.2 458.9,53.1 459.1,53.7 459.2,53.9 459.4,52.9 459.6,52.1 459.8,52.4 460.0,53.6 460.1,54.8 460.3,55.3 460.5,54.8 460.7,53.6 460.9,52.9 461.1,53.2 461.2,53.9 461.4,54.5 461.6,54.2 461.8,52.1 462.0,51.0 462.1,52.1 462.3,53.7 462.5,54.2 462.7,53.0 462.9,52.0 463.0,53.1 463.2,55.3 463.4,55.4 463.6,54.3 463.8,53.2 463.9,53.0 464.1,53.1 464.3,53.3 464.5,53.5 464.7,53.3 464.8,52.7 465.0,52.1 465.2,52.2 465.4,53.3 465.6,54.5 465.7,54.9 465.9,54.4 466.1,53.4 466.3,52.6 466.5,52.4 466.6,53.5 466.8,54.7 467.0,54.6 467.2,53.0 467.4,51.9 467.6,52.6 467.7,54.2 467.9,54.5 468.1,53.7 468.3,52.5 468.5,51.6 468.6,51.7 468.8,53.1 469.0,55.0 469.2,56.0 469.4,55.3 469.5,53.5 469.7,52.8 469.9,53.1 470.1,53.8 470.3,54.3 470.4,54.0 470.6,52.9 470.8,51.6 471.0,51.1 471.2,51.7 471.3,52.9 471.5,54.2 471.7,54.9 471.9,54.8 472.1,54.0 472.2,53.4 472.4,53.7 472.6,54.6 472.8,55.3 473.0,55.1 473.1,53.7 473.3,52.1 473.5,51.6 473.7,52.2 473.9,53.4 474.1,54.3 474.2,54.0 474.4,52.0 474.6,51.3 474.8,52.6 475.0,54.7 475.1,55.7 475.3,55.0 475.5,53.8 475.7,53.6 475.9,53.9 476.0,54.3 476.2,54.4 476.4,53.7 476.6,52.4 476.8,51.4 476.9,51.9 477.1,53.5 477.3,54.6 477.5,54.3 477.7,53.3 477.8,52.9 478.0,53.8 478.2,55.3 478.4,55.8 478.6,55.2 478.7,54.0 478.9,53.0 479.1,52.7 479.3,53.3 479.5,54.2 479.6,54.6 479.8,53.9 480.0,52.3 480.2,51.2 480.4,51.6 480.6,53.3 480.7,54.9 480.9,55.5 481.1,55.1 481.3,54.2 481.5,53.3 481.6,52.8 481.8,53.9 482.0,55.0 482.2,54.2 482.4,52.5 482.5,52.2 482.7,53.1 482.9,54.1 483.1,54.3 483.3,53.6 483.4,52.8 483.6,52.7 483.8,53.3 484.0,54.3 484.2,55.1 484.3,55.5 484.5,54.7 484.7,52.7 484.9,51.7 485.1,52.9 485.2,54.4 485.4,54.0 485.6,52.8 485.8,52.1 486.0,52.4 486.1,53.4 486.3,54.4 486.5,54.4 486.7,53.4 486.9,52.7 487.0,53.3 487.2,55.0 487.4,56.1 487.6,55.7 487.8,54.1 488.0,52.4 488.1,51.7 488.3,52.0 488.5,52.7 488.7,53.3 488.9,53.3 489.0,53.0 489.2,52.5 489.4,52.4 489.6,52.9 489.8,53.9 489.9,55.1 490.1,55.8 490.3,55.7 490.5,54.5 490.7,53.0 490.8,52.1 491.0,52.2 491.2,53.1 491.4,54.2 491.6,54.7 491.7,53.8 491.9,51.7 492.1,50.9 492.3,51.8 492.5,53.4 492.6,54.9 492.8,55.7 493.0,55.4 493.2,54.2 493.4,52.9 493.5,52.3 493.7,53.0 493.9,55.0 494.1,55.6 494.3,53.7 494.5,51.4 494.6,51.4 494.8,52.9 495.0,53.9 495.2,53.6 495.4,52.8 495.5,52.1 495.7,51.8 495.9,52.2 496.1,53.2 496.3,54.3 496.4,54.9 496.6,54.5 496.8,52.9 497.0,52.1 497.2,53.4 497.3,54.8 497.5,54.4 497.7,53.5 497.9,52.4 498.1,51.8 498.2,52.0 498.4,53.7 498.6,54.5 498.8,53.3 499.0,51.9 499.1,52.2 499.3,53.2 499.5,54.3 499.7,55.0 499.9,54.9 500.0,54.0 500.2,52.8 500.4,52.2 500.6,52.7 500.8,53.9 501.0,54.8 501.1,54.8 501.3,54.0 501.5,52.9 501.7,52.2 501.9,52.4 502.0,53.6" fill="none" stroke="#e0571c" stroke-width="1.25" stroke-linejoin="round" stroke-dasharray="6,0.5,1,0.5" clip-path="url(#cA1)"/>
<line x1="104.58" y1="99.90" x2="104.58" y2="7.10" stroke="#2a2a2a" stroke-width="1.5" stroke-dasharray="3.3,3.45"/>
<line x1="300.91" y1="99.90" x2="300.91" y2="7.10" stroke="#2a2a2a" stroke-width="1.5" stroke-dasharray="3.3,3.45"/>
<line x1="253.97" y1="99.90" x2="253.97" y2="7.10" stroke="#2a2a2a" stroke-width="1.5" stroke-dasharray="3.3,3.45"/>
<g stroke="#a3a3a3" stroke-width="1.6"><rect x="28.30" y="7.10" width="472.20" height="92.80" fill="none"/><line x1="28.30" y1="99.90" x2="28.30" y2="95.60"/><line x1="28.30" y1="7.10" x2="28.30" y2="11.40"/><line x1="73.43" y1="99.90" x2="73.43" y2="95.60"/><line x1="73.43" y1="7.10" x2="73.43" y2="11.40"/><line x1="118.57" y1="99.90" x2="118.57" y2="95.60"/><line x1="118.57" y1="7.10" x2="118.57" y2="11.40"/><line x1="163.70" y1="99.90" x2="163.70" y2="95.60"/><line x1="163.70" y1="7.10" x2="163.70" y2="11.40"/><line x1="208.84" y1="99.90" x2="208.84" y2="95.60"/><line x1="208.84" y1="7.10" x2="208.84" y2="11.40"/><line x1="253.97" y1="99.90" x2="253.97" y2="95.60"/><line x1="253.97" y1="7.10" x2="253.97" y2="11.40"/><line x1="299.11" y1="99.90" x2="299.11" y2="95.60"/><line x1="299.11" y1="7.10" x2="299.11" y2="11.40"/><line x1="344.24" y1="99.90" x2="344.24" y2="95.60"/><line x1="344.24" y1="7.10" x2="344.24" y2="11.40"/><line x1="389.38" y1="99.90" x2="389.38" y2="95.60"/><line x1="389.38" y1="7.10" x2="389.38" y2="11.40"/><line x1="434.51" y1="99.90" x2="434.51" y2="95.60"/><line x1="434.51" y1="7.10" x2="434.51" y2="11.40"/><line x1="479.65" y1="99.90" x2="479.65" y2="95.60"/><line x1="479.65" y1="7.10" x2="479.65" y2="11.40"/><line x1="28.30" y1="99.90" x2="32.60" y2="99.90"/><line x1="500.50" y1="99.90" x2="496.20" y2="99.90"/><line x1="28.30" y1="84.43" x2="32.60" y2="84.43"/><line x1="500.50" y1="84.43" x2="496.20" y2="84.43"/><line x1="28.30" y1="68.97" x2="32.60" y2="68.97"/><line x1="500.50" y1="68.97" x2="496.20" y2="68.97"/><line x1="28.30" y1="53.50" x2="32.60" y2="53.50"/><line x1="500.50" y1="53.50" x2="496.20" y2="53.50"/><line x1="28.30" y1="38.03" x2="32.60" y2="38.03"/><line x1="500.50" y1="38.03" x2="496.20" y2="38.03"/><line x1="28.30" y1="22.57" x2="32.60" y2="22.57"/><line x1="500.50" y1="22.57" x2="496.20" y2="22.57"/><line x1="28.30" y1="7.10" x2="32.60" y2="7.10"/><line x1="500.50" y1="7.10" x2="496.20" y2="7.10"/></g>
<g font-family="Liberation Sans, Arial, sans-serif" font-weight="bold" font-size="7.9" fill="#333333"><text x="28.00" y="110.80" text-anchor="middle">0</text><text x="73.13" y="110.80" text-anchor="middle">10</text><text x="118.27" y="110.80" text-anchor="middle">20</text><text x="163.40" y="110.80" text-anchor="middle">30</text><text x="208.54" y="110.80" text-anchor="middle">40</text><text x="253.67" y="110.80" text-anchor="middle">50</text><text x="298.81" y="110.80" text-anchor="middle">60</text><text x="343.94" y="110.80" text-anchor="middle">70</text><text x="389.08" y="110.80" text-anchor="middle">80</text><text x="434.21" y="110.80" text-anchor="middle">90</text><text x="479.35" y="110.80" text-anchor="middle">100</text><text x="25.00" y="102.50" text-anchor="end">-3</text><text x="25.00" y="87.03" text-anchor="end">-2</text><text x="25.00" y="71.57" text-anchor="end">-1</text><text x="25.00" y="56.10" text-anchor="end">0</text><text x="25.00" y="40.63" text-anchor="end">1</text><text x="25.00" y="25.17" text-anchor="end">2</text><text x="25.00" y="9.70" text-anchor="end">3</text></g>
<text x="175.20" y="25.50" text-anchor="middle" font-size="8.15">Part I</text>
<text x="277.30" y="25.20" text-anchor="middle" font-size="8.15">Part II</text>
<text x="202.40" y="86.00" text-anchor="middle" font-size="8.1">Reconstructed part</text>
<line x1="104.88" y1="90.00" x2="300.31" y2="90.00" stroke="#9a9a9a" stroke-width="1.5"/>
<path d="M104.88,90.00 l5,-1.8 l-0.8,1.8 l0.8,1.8 z" fill="#1a1a1a"/>
<path d="M300.31,90.00 l-5,-1.8 l0.8,1.8 l-0.8,1.8 z" fill="#1a1a1a"/>
<rect x="385.40" y="12.70" width="109.50" height="21.00" fill="#fff" stroke="#8c8c8c" stroke-width="1.3"/>
<line x1="387.60" y1="17.95" x2="404.40" y2="17.95" stroke="#2a84cc" stroke-width="1.8"/>
<line x1="387.60" y1="27.35" x2="404.40" y2="27.35" stroke="#e0571c" stroke-width="1.8" stroke-dasharray="2.6,1,0.9,1"/>
<text x="406.40" y="20.95" text-anchor="start" font-size="7.4">Original response</text>
<text x="406.40" y="30.35" text-anchor="start" font-size="7.4">Reconstructed response</text>
<g font-size="8.8">
<text x="263.90" y="122.70" text-anchor="middle" font-size="9.0">Time (s)</text>
</g>
<text transform="translate(14.0,53.50) rotate(-90)" text-anchor="middle" font-size="8.9">Amplitude (gal)</text>
<clipPath id="cA2"><rect x="28.20" y="138.20" width="203.70" height="93.80"/></clipPath>
<g stroke="#f5f5f5" stroke-width="0.8"><line x1="28.20" y1="138.20" x2="28.20" y2="232.00"/><line x1="36.69" y1="138.20" x2="36.69" y2="232.00"/><line x1="45.17" y1="138.20" x2="45.17" y2="232.00"/><line x1="53.66" y1="138.20" x2="53.66" y2="232.00"/><line x1="62.15" y1="138.20" x2="62.15" y2="232.00"/><line x1="70.64" y1="138.20" x2="70.64" y2="232.00"/><line x1="79.12" y1="138.20" x2="79.12" y2="232.00"/><line x1="87.61" y1="138.20" x2="87.61" y2="232.00"/><line x1="96.10" y1="138.20" x2="96.10" y2="232.00"/><line x1="104.59" y1="138.20" x2="104.59" y2="232.00"/><line x1="113.08" y1="138.20" x2="113.08" y2="232.00"/><line x1="121.56" y1="138.20" x2="121.56" y2="232.00"/><line x1="130.05" y1="138.20" x2="130.05" y2="232.00"/><line x1="138.54" y1="138.20" x2="138.54" y2="232.00"/><line x1="147.03" y1="138.20" x2="147.03" y2="232.00"/><line x1="155.51" y1="138.20" x2="155.51" y2="232.00"/><line x1="164.00" y1="138.20" x2="164.00" y2="232.00"/><line x1="172.49" y1="138.20" x2="172.49" y2="232.00"/><line x1="180.97" y1="138.20" x2="180.97" y2="232.00"/><line x1="189.46" y1="138.20" x2="189.46" y2="232.00"/><line x1="197.95" y1="138.20" x2="197.95" y2="232.00"/><line x1="206.44" y1="138.20" x2="206.44" y2="232.00"/><line x1="214.92" y1="138.20" x2="214.92" y2="232.00"/><line x1="223.41" y1="138.20" x2="223.41" y2="232.00"/><line x1="231.90" y1="138.20" x2="231.90" y2="232.00"/><line x1="28.20" y1="232.00" x2="231.90" y2="232.00"/><line x1="28.20" y1="228.87" x2="231.90" y2="228.87"/><line x1="28.20" y1="225.75" x2="231.90" y2="225.75"/><line x1="28.20" y1="222.62" x2="231.90" y2="222.62"/><line x1="28.20" y1="219.49" x2="231.90" y2="219.49"/><line x1="28.20" y1="216.37" x2="231.90" y2="216.37"/><line x1="28.20" y1="213.24" x2="231.90" y2="213.24"/><line x1="28.20" y1="210.11" x2="231.90" y2="210.11"/><line x1="28.20" y1="206.99" x2="231.90" y2="206.99"/><line x1="28.20" y1="203.86" x2="231.90" y2="203.86"/><line x1="28.20" y1="200.73" x2="231.90" y2="200.73"/><line x1="28.20" y1="197.61" x2="231.90" y2="197.61"/><line x1="28.20" y1="194.48" x2="231.90" y2="194.48"/><line x1="28.20" y1="191.35" x2="231.90" y2="191.35"/><line x1="28.20" y1="188.23" x2="231.90" y2="188.23"/><line x1="28.20" y1="185.10" x2="231.90" y2="185.10"/><line x1="28.20" y1="181.97" x2="231.90" y2="181.97"/><line x1="28.20" y1="178.85" x2="231.90" y2="178.85"/><line x1="28.20" y1="175.72" x2="231.90" y2="175.72"/><line x1="28.20" y1="172.59" x2="231.90" y2="172.59"/><line x1="28.20" y1="169.47" x2="231.90" y2="169.47"/><line x1="28.20" y1="166.34" x2="231.90" y2="166.34"/><line x1="28.20" y1="163.21" x2="231.90" y2="163.21"/><line x1="28.20" y1="160.09" x2="231.90" y2="160.09"/><line x1="28.20" y1="156.96" x2="231.90" y2="156.96"/><line x1="28.20" y1="153.83" x2="231.90" y2="153.83"/><line x1="28.20" y1="150.71" x2="231.90" y2="150.71"/><line x1="28.20" y1="147.58" x2="231.90" y2="147.58"/><line x1="28.20" y1="144.45" x2="231.90" y2="144.45"/><line x1="28.20" y1="141.33" x2="231.90" y2="141.33"/><line x1="28.20" y1="138.20" x2="231.90" y2="138.20"/></g>
<g stroke="#eeeeee" stroke-width="0.8"><line x1="28.20" y1="138.20" x2="28.20" y2="232.00"/><line x1="62.15" y1="138.20" x2="62.15" y2="232.00"/><line x1="96.10" y1="138.20" x2="96.10" y2="232.00"/><line x1="130.05" y1="138.20" x2="130.05" y2="232.00"/><line x1="164.00" y1="138.20" x2="164.00" y2="232.00"/><line x1="197.95" y1="138.20" x2="197.95" y2="232.00"/><line x1="231.90" y1="138.20" x2="231.90" y2="232.00"/><line x1="28.20" y1="232.00" x2="231.90" y2="232.00"/><line x1="28.20" y1="216.37" x2="231.90" y2="216.37"/><line x1="28.20" y1="200.73" x2="231.90" y2="200.73"/><line x1="28.20" y1="185.10" x2="231.90" y2="185.10"/><line x1="28.20" y1="169.47" x2="231.90" y2="169.47"/><line x1="28.20" y1="153.83" x2="231.90" y2="153.83"/><line x1="28.20" y1="138.20" x2="231.90" y2="138.20"/></g>
<polyline points="26.5,189.8 26.7,189.5 26.8,188.6 27.0,187.2 27.2,185.4 27.4,183.4 27.5,181.3 27.7,179.3 27.9,177.5 28.0,176.1 28.2,175.2 28.4,174.9 28.5,175.1 28.7,175.5 28.9,176.3 29.0,177.2 29.2,178.4 29.4,179.7 29.6,181.1 29.7,182.5 29.9,183.9 30.1,185.3 30.2,186.4 30.4,187.4 30.6,188.1 30.7,188.5 30.9,188.7 31.1,188.6 31.3,188.2 31.4,187.5 31.6,186.7 31.8,185.6 31.9,184.4 32.1,183.2 32.3,181.8 32.4,180.5 32.6,179.2 32.8,178.0 33.0,177.0 33.1,176.1 33.3,175.5 33.5,175.1 33.6,174.9 33.8,175.0 34.0,175.3 34.1,175.8 34.3,176.4 34.5,177.2 34.7,178.1 34.8,179.2 35.0,180.4 35.2,181.6 35.3,183.0 35.5,184.3 35.7,185.7 35.8,187.1 36.0,188.4 36.2,189.7 36.3,190.8 36.5,191.9 36.7,192.8 36.9,193.6 37.0,194.3 37.2,194.7 37.4,195.0 37.5,195.1 37.7,195.0 37.9,194.6 38.0,193.9 38.2,193.0 38.4,191.9 38.6,190.5 38.7,189.1 38.9,187.5 39.1,185.9 39.2,184.2 39.4,182.5 39.6,181.0 39.7,179.5 39.9,178.2 40.1,177.1 40.3,176.2 40.4,175.5 40.6,175.1 40.8,174.9 40.9,175.4 41.1,176.8 41.3,179.1 41.4,182.0 41.6,185.4 41.8,189.0 41.9,192.6 42.1,196.0 42.3,199.0 42.5,201.2 42.6,202.6 42.8,203.1 43.0,202.5 43.1,200.8 43.3,198.0 43.5,194.3 43.6,190.0 43.8,185.2 44.0,180.3 44.2,175.5 44.3,171.2 44.5,167.5 44.7,164.8 44.8,163.0 45.0,162.4 45.2,163.4 45.3,166.1 45.5,170.3 45.7,175.8 45.9,182.1 46.0,188.6 46.2,194.8 46.4,200.3 46.5,204.6 46.7,207.3 46.9,208.2 47.0,207.7 47.2,206.3 47.4,203.9 47.6,200.8 47.7,196.9 47.9,192.5 48.1,187.7 48.2,182.8 48.4,177.8 48.6,173.0 48.7,168.6 48.9,164.7 49.1,161.6 49.2,159.2 49.4,157.8 49.6,157.3 49.8,157.8 49.9,159.3 50.1,161.8 50.3,165.2 50.4,169.3 50.6,174.0 50.8,179.1 50.9,184.4 51.1,189.7 51.3,194.8 51.5,199.5 51.6,203.6 51.8,206.9 52.0,209.5 52.1,211.0 52.3,211.5 52.5,209.9 52.6,205.3 52.8,198.3 53.0,189.6 53.2,180.4 53.3,171.8 53.5,164.7 53.7,160.1 53.8,158.5 54.0,159.1 54.2,160.9 54.3,163.7 54.5,167.5 54.7,172.1 54.9,177.3 55.0,182.9 55.2,188.6 55.4,194.1 55.5,199.3 55.7,203.9 55.9,207.7 56.0,210.6 56.2,212.3 56.4,212.9 56.5,212.2 56.7,210.0 56.9,206.5 57.1,201.9 57.2,196.4 57.4,190.4 57.6,184.2 57.7,178.2 57.9,172.7 58.1,168.1 58.2,164.6 58.4,162.4 58.6,161.6 58.8,162.2 58.9,163.9 59.1,166.6 59.3,170.2 59.4,174.4 59.6,179.0 59.8,183.8 59.9,188.4 60.1,192.7 60.3,196.2 60.5,198.9 60.6,200.6 60.8,201.2 61.0,200.8 61.1,199.5 61.3,197.5 61.5,194.9 61.6,191.7 61.8,188.1 62.0,184.4 62.1,180.7 62.3,177.1 62.5,173.9 62.7,171.3 62.8,169.3 63.0,168.0 63.2,167.6 63.3,168.0 63.5,169.1 63.7,170.8 63.8,173.2 64.0,176.0 64.2,179.1 64.4,182.4 64.5,185.7 64.7,188.8 64.9,191.6 65.0,193.9 65.2,195.7 65.4,196.8 65.5,197.1 65.7,196.7 65.9,195.5 66.1,193.7 66.2,191.2 66.4,188.3 66.6,185.3 66.7,182.2 66.9,179.3 67.1,176.9 67.2,175.0 67.4,173.8 67.6,173.4 67.8,173.5 67.9,173.9 68.1,174.6 68.3,175.6 68.4,176.7 68.6,178.1 68.8,179.6 68.9,181.3 69.1,183.1 69.3,184.9 69.4,186.7 69.6,188.4 69.8,190.1 70.0,191.6 70.1,193.0 70.3,194.2 70.5,195.1 70.6,195.8 70.8,196.2 71.0,196.4 71.1,195.9 71.3,194.5 71.5,192.4 71.7,189.9 71.8,187.2 72.0,184.6 72.2,182.6 72.3,181.2 72.5,180.7 72.7,180.8 72.8,180.9 73.0,181.1 73.2,181.4 73.4,181.7 73.5,182.2 73.7,182.6 73.9,183.1 74.0,183.7 74.2,184.3 74.4,184.9 74.5,185.5 74.7,186.0 74.9,186.6 75.1,187.1 75.2,187.6 75.4,188.0 75.6,188.4 75.7,188.6 75.9,188.8 76.1,189.0 76.2,189.0 76.4,188.9 76.6,188.7 76.7,188.2 76.9,187.7 77.1,187.0 77.3,186.2 77.4,185.3 77.6,184.4 77.8,183.5 77.9,182.5 78.1,181.7 78.3,180.9 78.4,180.2 78.6,179.6 78.8,179.2 79.0,178.9 79.1,178.8 79.3,179.2 79.5,180.4 79.6,182.2 79.8,184.3 80.0,186.6 80.1,188.8 80.3,190.6 80.5,191.7 80.7,192.1 80.8,191.9 81.0,191.4 81.2,190.5 81.3,189.3 81.5,187.8 81.7,186.2 81.8,184.4 82.0,182.6 82.2,180.9 82.4,179.2 82.5,177.8 82.7,176.6 82.9,175.7 83.0,175.1 83.2,174.9 83.4,175.2 83.5,176.0 83.7,177.3 83.9,179.0 84.0,181.0 84.2,183.3 84.4,185.6 84.6,188.0 84.7,190.3 84.9,192.3 85.1,194.0 85.2,195.3 85.4,196.1 85.6,196.4 85.7,196.1 85.9,195.4 86.1,194.2 86.3,192.6 86.4,190.6 86.6,188.4 86.8,186.1 86.9,183.7 87.1,181.3 87.3,179.1 87.4,177.2 87.6,175.6 87.8,174.4 88.0,173.6 88.1,173.4 88.3,173.6 88.5,174.4 88.6,175.6 88.8,177.2 89.0,179.1 89.1,181.3 89.3,183.5 89.5,185.8 89.6,187.9 89.8,189.9 90.0,191.5 90.2,192.7 90.3,193.4 90.5,193.7 90.7,193.5 90.8,192.9 91.0,191.8 91.2,190.5 91.3,188.8 91.5,186.9 91.7,184.9 91.9,182.9 92.0,180.9 92.2,179.0 92.4,177.4 92.5,176.0 92.7,175.0 92.9,174.4 93.0,174.2 93.2,174.5 93.4,175.6 93.6,177.3 93.7,179.5 93.9,182.1 94.1,184.9 94.2,187.6 94.4,190.2 94.6,192.4 94.7,194.1 94.9,195.2 95.1,195.6 95.3,195.3 95.4,194.5 95.6,193.2 95.8,191.4 95.9,189.3 96.1,186.9 96.3,184.5 96.4,182.0 96.6,179.7 96.8,177.6 96.9,175.8 97.1,174.5 97.3,173.7 97.5,173.4 97.6,173.8 97.8,175.0 98.0,176.9 98.1,179.3 98.3,182.2 98.5,185.3 98.6,188.3 98.8,191.2 99.0,193.7 99.2,195.5 99.3,196.7 99.5,197.1 99.7,196.5 99.8,194.8 100.0,192.1 100.2,188.7 100.3,184.9 100.5,181.1 100.7,177.7 100.9,174.9 101.0,173.2 101.2,172.6 101.4,172.9 101.5,173.8 101.7,175.4 101.9,177.4 102.0,179.8 102.2,182.4 102.4,185.3 102.6,188.1 102.7,190.8 102.9,193.2 103.1,195.2 103.2,196.7 103.4,197.6 103.6,197.9 103.7,197.4 103.9,195.9 104.1,193.7 104.2,190.8 104.4,187.6 104.6,184.4 104.8,181.5 104.9,179.3 105.1,177.8 105.3,177.3 105.4,177.5 105.6,178.1 105.8,179.1 105.9,180.4 106.1,182.0 106.3,183.7 106.5,185.6 106.6,187.4 106.8,189.2 107.0,190.7 107.1,192.0 107.3,193.0 107.5,193.6 107.6,193.9 107.8,193.5 108.0,192.5 108.2,190.9 108.3,188.7 108.5,186.3 108.7,183.6 108.8,181.0 109.0,178.5 109.2,176.4 109.3,174.7 109.5,173.7 109.7,173.4 109.8,173.7 110.0,174.6 110.2,176.2 110.4,178.2 110.5,180.5 110.7,183.1 110.9,185.8 111.0,188.4 111.2,190.8 111.4,192.8 111.5,194.3 111.7,195.3 111.9,195.6 112.1,195.3 112.2,194.6 112.4,193.4 112.6,191.8 112.7,190.0 112.9,187.9 113.1,185.6 113.2,183.4 113.4,181.3 113.6,179.5 113.8,177.9 113.9,176.7 114.1,176.0 114.3,175.7 114.4,176.2 114.6,177.8 114.8,180.1 114.9,183.1 115.1,186.4 115.3,189.7 115.5,192.7 115.6,195.1 115.8,196.6 116.0,197.1 116.1,196.9 116.3,196.2 116.5,195.2 116.6,193.7 116.8,192.0 117.0,190.0 117.1,187.9 117.3,185.7 117.5,183.6 117.7,181.7 117.8,179.9 118.0,178.5 118.2,177.4 118.3,176.7 118.5,176.5 118.7,176.7 118.8,177.3 119.0,178.2 119.2,179.4 119.4,180.9 119.5,182.6 119.7,184.3 119.9,186.1 120.0,187.7 120.2,189.2 120.4,190.4 120.5,191.4 120.7,191.9 120.9,192.1 121.1,191.9 121.2,191.3 121.4,190.3 121.6,188.9 121.7,187.3 121.9,185.6 122.1,183.8 122.2,182.1 122.4,180.5 122.6,179.2 122.8,178.1 122.9,177.5 123.1,177.3 123.3,177.3 123.4,177.4 123.6,177.6 123.8,177.8 123.9,178.1 124.1,178.4 124.3,178.8 124.4,179.2 124.6,179.7 124.8,180.2 125.0,180.8 125.1,181.4 125.3,182.0 125.5,182.6 125.6,183.2 125.8,183.9 126.0,184.5 126.1,185.1 126.3,185.7 126.5,186.3 126.7,186.8 126.8,187.4 127.0,187.8 127.2,188.3 127.3,188.7 127.5,189.0 127.7,189.3 127.8,189.5 128.0,189.7 128.2,189.8 128.4,189.8 128.5,189.8 128.7,189.6 128.9,189.4 129.0,189.2 129.2,188.9 129.4,188.5 129.5,188.0 129.7,187.6 129.9,187.0 130.0,186.5 130.2,185.9 130.4,185.4 130.6,184.8 130.7,184.3 130.9,183.7 131.1,183.3 131.2,182.8 131.4,182.4 131.6,182.1 131.7,181.8 131.9,181.7 132.1,181.5 132.3,181.5 132.4,181.6 132.6,181.8 132.8,182.1 132.9,182.6 133.1,183.2 133.3,183.8 133.4,184.5 133.6,185.2 133.8,185.9 134.0,186.5 134.1,187.1 134.3,187.6 134.5,187.9 134.6,188.2 134.8,188.2 135.0,188.1 135.1,187.9 135.3,187.4 135.5,186.8 135.7,186.1 135.8,185.2 136.0,184.3 136.2,183.2 136.3,182.1 136.5,181.0 136.7,180.0 136.8,178.9 137.0,177.9 137.2,177.1 137.3,176.3 137.5,175.7 137.7,175.3 137.9,175.0 138.0,174.9 138.2,175.0 138.4,175.3 138.5,175.8 138.7,176.5 138.9,177.3 139.0,178.2 139.2,179.1 139.4,180.1 139.6,181.1 139.7,182.0 139.9,182.8 140.1,183.4 140.2,183.9 140.4,184.2 140.6,184.3 140.7,184.3 140.9,184.2 141.1,184.2 141.3,184.0 141.4,183.9 141.6,183.7 141.8,183.5 141.9,183.3 142.1,183.1 142.3,182.9 142.4,182.7 142.6,182.6 142.8,182.4 143.0,182.2 143.1,182.1 143.3,182.0 143.5,182.0 143.6,182.0 143.8,182.0 144.0,182.2 144.1,182.4 144.3,182.8 144.5,183.2 144.6,183.7 144.8,184.3 145.0,184.9 145.2,185.6 145.3,186.3 145.5,186.9 145.7,187.6 145.8,188.2 146.0,188.8 146.2,189.3 146.3,189.8 146.5,190.1 146.7,190.4 146.9,190.5 147.0,190.6 147.2,190.5 147.4,190.3 147.5,190.0 147.7,189.6 147.9,189.1 148.0,188.5 148.2,187.8 148.4,187.1 148.6,186.3 148.7,185.5 148.9,184.7 149.1,183.9 149.2,183.2 149.4,182.5 149.6,181.9 149.7,181.4 149.9,181.0 150.1,180.7 150.3,180.5 150.4,180.4 150.6,180.6 150.8,181.0 150.9,181.4 151.1,181.8 151.3,182.0 151.4,181.9 151.6,181.6 151.8,181.1 151.9,180.5 152.1,179.8 152.3,178.9 152.5,178.1 152.6,177.2 152.8,176.4 153.0,175.6 153.1,175.0 153.3,174.5 153.5,174.3 153.6,174.2 153.8,174.3 154.0,174.9 154.2,175.7 154.3,176.8 154.5,178.1 154.7,179.6 154.8,181.2 155.0,182.8 155.2,184.2 155.3,185.6 155.5,186.7 155.7,187.5 155.9,188.1 156.0,188.2 156.2,187.9 156.4,187.1 156.5,185.8 156.7,184.1 156.9,182.1 157.0,180.0 157.2,177.9 157.4,175.9 157.5,174.2 157.7,172.9 157.9,172.1 158.1,171.8 158.2,171.9 158.4,172.0 158.6,172.2 158.7,172.5 158.9,173.0 159.1,173.4 159.2,174.0 159.4,174.7 159.6,175.4 159.8,176.2 159.9,177.0 160.1,177.9 160.3,178.9 160.4,179.9 160.6,180.9 160.8,182.0 160.9,183.1 161.1,184.2 161.3,185.3 161.5,186.3 161.6,187.4 161.8,188.5 162.0,189.5 162.1,190.5 162.3,191.5 162.5,192.4 162.6,193.2 162.8,194.0 163.0,194.7 163.2,195.4 163.3,196.0 163.5,196.5 163.7,196.9 163.8,197.2 164.0,197.4 164.2,197.6 164.3,197.6 164.5,197.5 164.7,197.3 164.8,196.9 165.0,196.4 165.2,195.8 165.4,195.0 165.5,194.2 165.7,193.2 165.9,192.2 166.0,191.1 166.2,190.0 166.4,188.9 166.5,187.7 166.7,186.6 166.9,185.5 167.1,184.5 167.2,183.5 167.4,182.7 167.6,181.9 167.7,181.3 167.9,180.8 168.1,180.4 168.2,180.2 168.4,180.1 168.6,180.1 168.8,180.2 168.9,180.3 169.1,180.5 169.3,180.6 169.4,180.8 169.6,181.0 169.8,181.1 169.9,181.2 170.1,181.2 170.3,181.2 170.5,181.1 170.6,180.9 170.8,180.7 171.0,180.4 171.1,180.1 171.3,179.7 171.5,179.3 171.6,178.9 171.8,178.5 172.0,178.0 172.1,177.6 172.3,177.2 172.5,176.8 172.7,176.5 172.8,176.2 173.0,176.0 173.2,175.9 173.3,175.8 173.5,175.7 173.7,175.8 173.8,176.1 174.0,176.6 174.2,177.2 174.4,178.0 174.5,178.9 174.7,179.9 174.9,181.0 175.0,182.2 175.2,183.4 175.4,184.6 175.5,185.7 175.7,186.9 175.9,187.9 176.1,188.8 176.2,189.6 176.4,190.2 176.6,190.7 176.7,190.9 176.9,191.0 177.1,190.9 177.2,190.4 177.4,189.7 177.6,188.8 177.7,187.8 177.9,186.8 178.1,185.7 178.3,184.8 178.4,184.1 178.6,183.7 178.8,183.5 178.9,183.7 179.1,184.2 179.3,185.0 179.4,186.1 179.6,187.3 179.8,188.7 180.0,190.1 180.1,191.5 180.3,192.7 180.5,193.8 180.6,194.6 180.8,195.1 181.0,195.3 181.1,195.1 181.3,194.6 181.5,193.9 181.7,192.9 181.8,191.7 182.0,190.3 182.2,188.8 182.3,187.3 182.5,185.8 182.7,184.5 182.8,183.3 183.0,182.3 183.2,181.5 183.4,181.0 183.5,180.9 183.7,180.9 183.9,181.1 184.0,181.3 184.2,181.5 184.4,181.8 184.5,182.1 184.7,182.4 184.9,182.6 185.0,182.7 185.2,182.8 185.4,182.6 185.6,182.3 185.7,181.7 185.9,181.0 186.1,180.1 186.2,179.2 186.4,178.3 186.6,177.5 186.7,176.8 186.9,176.2 187.1,175.8 187.3,175.7 187.4,175.9 187.6,176.4 187.8,177.3 187.9,178.4 188.1,179.8 188.3,181.2 188.4,182.7 188.6,184.2 188.8,185.5 189.0,186.7 189.1,187.5 189.3,188.0 189.5,188.2 189.6,188.2 189.8,187.9 190.0,187.6 190.1,187.1 190.3,186.7 190.5,186.2 190.7,185.7 190.8,185.4 191.0,185.2 191.2,185.1 191.3,185.2 191.5,185.5 191.7,186.0 191.8,186.7 192.0,187.4 192.2,188.3 192.3,189.3 192.5,190.3 192.7,191.2 192.9,192.1 193.0,192.9 193.2,193.6 193.4,194.1 193.5,194.4 193.7,194.5 193.9,194.1 194.0,193.1 194.2,191.4 194.4,189.3 194.6,186.8 194.7,184.3 194.9,181.9 195.1,179.7 195.2,178.1 195.4,177.0 195.6,176.7 195.7,176.8 195.9,177.1 196.1,177.7 196.3,178.5 196.4,179.5 196.6,180.6 196.8,181.9 196.9,183.2 197.1,184.6 197.3,186.0 197.4,187.4 197.6,188.6 197.8,189.8 197.9,190.7 198.1,191.5 198.3,192.1 198.5,192.5 198.6,192.6 198.8,192.5 199.0,192.1 199.1,191.6 199.3,190.8 199.5,189.9 199.6,188.9 199.8,187.8 200.0,186.7 200.2,185.6 200.3,184.6 200.5,183.7 200.7,183.0 200.8,182.4 201.0,182.1 201.2,182.0 201.3,182.0 201.5,182.1 201.7,182.3 201.9,182.5 202.0,182.7 202.2,183.0 202.4,183.3 202.5,183.6 202.7,183.8 202.9,184.0 203.0,184.2 203.2,184.3 203.4,184.3 203.6,184.3 203.7,184.1 203.9,183.9 204.1,183.5 204.2,183.1 204.4,182.7 204.6,182.2 204.7,181.6 204.9,181.1 205.1,180.5 205.2,180.0 205.4,179.6 205.6,179.2 205.8,178.8 205.9,178.6 206.1,178.4 206.3,178.4 206.4,178.4 206.6,178.6 206.8,178.9 206.9,179.4 207.1,179.9 207.3,180.4 207.5,181.0 207.6,181.7 207.8,182.3 208.0,182.8 208.1,183.3 208.3,183.8 208.5,184.1 208.6,184.3 208.8,184.3 209.0,184.2 209.2,184.0 209.3,183.7 209.5,183.2 209.7,182.8 209.8,182.3 210.0,181.8 210.2,181.5 210.3,181.3 210.5,181.2 210.7,181.3 210.9,181.5 211.0,181.9 211.2,182.5 211.4,183.2 211.5,184.0 211.7,184.9 211.9,185.9 212.0,186.9 212.2,187.9 212.4,188.9 212.5,189.8 212.7,190.7 212.9,191.5 213.1,192.2 213.2,192.8 213.4,193.2 213.6,193.5 213.7,193.5 213.9,193.4 214.1,193.0 214.2,192.4 214.4,191.6 214.6,190.6 214.8,189.5 214.9,188.4 215.1,187.2 215.3,186.0 215.4,184.9 215.6,183.9 215.8,183.1 215.9,182.5 216.1,182.1 216.3,182.0 216.5,182.2 216.6,182.7 216.8,183.6 217.0,184.7 217.1,185.9 217.3,187.1 217.5,188.2 217.6,189.0 217.8,189.6 218.0,189.8 218.2,189.6 218.3,189.2 218.5,188.4 218.7,187.5 218.8,186.3 219.0,184.9 219.2,183.5 219.3,182.0 219.5,180.6 219.7,179.2 219.8,178.0 220.0,177.1 220.2,176.3 220.4,175.9 220.5,175.7 220.7,175.9 220.9,176.2 221.0,176.8 221.2,177.6 221.4,178.5 221.5,179.3 221.7,180.1 221.9,180.7 222.1,181.1 222.2,181.2 222.4,181.1 222.6,181.0 222.7,180.7 222.9,180.4 223.1,180.0 223.2,179.7 223.4,179.3 223.6,179.1 223.8,178.9 223.9,178.8 224.1,179.0 224.3,179.3 224.4,179.8 224.6,180.6 224.8,181.5 224.9,182.5 225.1,183.5 225.3,184.6 225.4,185.7 225.6,186.7 225.8,187.6 226.0,188.3 226.1,188.9 226.3,189.2 226.5,189.3 226.6,189.2 226.8,189.0 227.0,188.6 227.1,188.1 227.3,187.5 227.5,186.8 227.7,186.1 227.8,185.4 228.0,184.8 228.2,184.3 228.3,183.9 228.5,183.6 228.7,183.5 228.8,183.6 229.0,183.9 229.2,184.3 229.4,184.8 229.5,185.5 229.7,186.3 229.9,187.2 230.0,188.1 230.2,189.0 230.4,189.9 230.5,190.8 230.7,191.6 230.9,192.2 231.1,192.8 231.2,193.2 231.4,193.5 231.6,193.5 231.7,193.3 231.9,192.8 232.1,191.5 232.2,190.1 232.4,188.6 232.6,187.2 232.7,186.0 232.9,184.9 233.1,184.2 233.3,183.7 233.4,183.5 233.6,183.5 233.8,181.5 233.9,181.3 234.1,181.2 234.3,181.3 234.4,181.4 234.6,181.7 234.8,182.0 235.0,182.3 235.1,182.7" fill="none" stroke="#2a84cc" stroke-width="1.15" stroke-linejoin="round" clip-path="url(#cA2)"/>
<polyline points="26.5,189.8 26.7,189.5 26.8,188.6 27.0,187.2 27.2,185.4 27.4,183.4 27.5,181.3 27.7,179.3 27.9,177.5 28.0,176.1 28.2,175.2 28.4,174.9 28.5,175.1 28.7,175.5 28.9,176.3 29.0,177.2 29.2,178.4 29.4,179.7 29.6,181.1 29.7,182.5 29.9,183.9 30.1,185.3 30.2,186.4 30.4,187.4 30.6,188.1 30.7,188.5 30.9,188.7 31.1,188.6 31.3,188.2 31.4,187.5 31.6,186.7 31.8,185.6 31.9,184.4 32.1,183.2 32.3,181.8 32.4,180.5 32.6,179.2 32.8,178.0 33.0,177.0 33.1,176.1 33.3,175.5 33.5,175.1 33.6,174.9 33.8,175.0 34.0,175.3 34.1,175.8 34.3,176.4 34.5,177.2 34.7,178.1 34.8,179.2 35.0,180.4 35.2,181.6 35.3,183.0 35.5,184.3 35.7,185.7 35.8,187.1 36.0,188.4 36.2,189.7 36.3,190.8 36.5,191.9 36.7,192.8 36.9,193.6 37.0,194.3 37.2,194.7 37.4,195.0 37.5,195.1 37.7,195.0 37.9,194.6 38.0,193.9 38.2,193.0 38.4,191.9 38.6,190.5 38.7,189.1 38.9,187.5 39.1,185.9 39.2,184.2 39.4,182.5 39.6,181.0 39.7,179.5 39.9,178.2 40.1,177.1 40.3,176.2 40.4,175.5 40.6,175.1 40.8,174.9 40.9,175.4 41.1,176.8 41.3,179.1 41.4,182.0 41.6,185.4 41.8,189.0 41.9,192.6 42.1,196.0 42.3,199.0 42.5,201.2 42.6,202.6 42.8,203.1 43.0,202.5 43.1,200.8 43.3,198.0 43.5,194.3 43.6,190.0 43.8,185.2 44.0,180.3 44.2,175.5 44.3,171.2 44.5,167.5 44.7,164.8 44.8,163.0 45.0,162.4 45.2,163.4 45.3,166.1 45.5,170.3 45.7,175.8 45.9,182.1 46.0,188.6 46.2,194.8 46.4,200.3 46.5,204.6 46.7,207.3 46.9,208.2 47.0,207.7 47.2,206.3 47.4,203.9 47.6,200.8 47.7,196.9 47.9,192.5 48.1,187.7 48.2,182.8 48.4,177.8 48.6,173.0 48.7,168.6 48.9,164.7 49.1,161.6 49.2,159.2 49.4,157.8 49.6,157.3 49.8,157.8 49.9,159.3 50.1,161.8 50.3,165.2 50.4,169.3 50.6,174.0 50.8,179.1 50.9,184.4 51.1,189.7 51.3,194.8 51.5,199.5 51.6,203.6 51.8,206.9 52.0,209.5 52.1,211.0 52.3,211.5 52.5,209.9 52.6,205.3 52.8,198.3 53.0,189.6 53.2,180.4 53.3,171.8 53.5,164.7 53.7,160.1 53.8,158.5 54.0,159.1 54.2,160.9 54.3,163.7 54.5,167.5 54.7,172.1 54.9,177.3 55.0,182.9 55.2,188.6 55.4,194.1 55.5,199.3 55.7,203.9 55.9,207.7 56.0,210.6 56.2,212.3 56.4,212.9 56.5,212.2 56.7,210.0 56.9,206.5 57.1,201.9 57.2,196.4 57.4,190.4 57.6,184.2 57.7,178.2 57.9,172.7 58.1,168.1 58.2,164.6 58.4,162.4 58.6,161.6 58.8,162.2 58.9,163.9 59.1,166.6 59.3,170.2 59.4,174.4 59.6,179.0 59.8,183.8 59.9,188.4 60.1,192.7 60.3,196.2 60.5,198.9 60.6,200.6 60.8,201.2 61.0,200.8 61.1,199.5 61.3,197.5 61.5,194.9 61.6,191.7 61.8,188.1 62.0,184.4 62.1,180.7 62.3,177.1 62.5,173.9 62.7,171.3 62.8,169.3 63.0,168.0 63.2,167.6 63.3,168.0 63.5,169.1 63.7,170.8 63.8,173.2 64.0,176.0 64.2,179.1 64.4,182.4 64.5,185.7 64.7,188.8 64.9,191.6 65.0,193.9 65.2,195.7 65.4,196.8 65.5,197.1 65.7,196.7 65.9,195.5 66.1,193.7 66.2,191.2 66.4,188.3 66.6,185.3 66.7,182.2 66.9,179.3 67.1,176.9 67.2,175.0 67.4,173.8 67.6,173.4 67.8,173.5 67.9,173.9 68.1,174.6 68.3,175.6 68.4,176.7 68.6,178.1 68.8,179.6 68.9,181.3 69.1,183.1 69.3,184.9 69.4,186.7 69.6,188.4 69.8,190.1 70.0,191.6 70.1,193.0 70.3,194.2 70.5,195.1 70.6,195.8 70.8,196.2 71.0,196.4 71.1,195.9 71.3,194.5 71.5,192.4 71.7,189.9 71.8,187.2 72.0,184.6 72.2,182.6 72.3,181.2 72.5,180.7 72.7,180.8 72.8,180.9 73.0,181.1 73.2,181.4 73.4,181.7 73.5,182.2 73.7,182.6 73.9,183.1 74.0,183.7 74.2,184.3 74.4,184.9 74.5,185.5 74.7,186.0 74.9,186.6 75.1,187.1 75.2,187.6 75.4,188.0 75.6,188.4 75.7,188.6 75.9,188.8 76.1,189.0 76.2,189.0 76.4,188.9 76.6,188.6 76.7,188.2 76.9,187.6 77.1,186.8 77.3,185.9 77.4,185.0 77.6,184.0 77.8,183.0 77.9,181.9 78.1,181.0 78.3,180.1 78.4,179.3 78.6,178.7 78.8,178.3 79.0,178.0 79.1,177.9 79.3,178.2 79.5,179.5 79.6,181.4 79.8,183.9 80.0,186.5 80.1,189.1 80.3,191.3 80.5,192.9 80.7,193.8 80.8,194.0 81.0,193.8 81.2,193.2 81.3,192.1 81.5,190.7 81.7,189.0 81.8,187.0 82.0,184.8 82.2,182.5 82.4,180.3 82.5,178.2 82.7,176.5 82.9,175.2 83.0,174.3 83.2,174.1 83.4,174.4 83.5,175.2 83.7,176.6 83.9,178.5 84.0,180.8 84.2,183.3 84.4,186.0 84.6,188.6 84.7,191.2 84.9,193.5 85.1,195.5 85.2,197.1 85.4,198.1 85.6,198.6 85.7,198.5 85.9,197.9 86.1,196.8 86.3,195.1 86.4,193.1 86.6,190.6 86.8,187.8 86.9,184.9 87.1,182.0 87.3,179.2 87.4,176.6 87.6,174.5 87.8,172.9 88.0,171.8 88.1,171.4 88.3,171.6 88.5,172.5 88.6,174.1 88.8,176.1 89.0,178.7 89.1,181.5 89.3,184.4 89.5,187.3 89.6,190.1 89.8,192.5 90.0,194.5 90.2,195.9 90.3,196.6 90.5,196.8 90.7,196.5 90.8,195.7 91.0,194.4 91.2,192.8 91.3,190.8 91.5,188.6 91.7,186.2 91.9,183.8 92.0,181.5 92.2,179.3 92.4,177.3 92.5,175.7 92.7,174.4 92.9,173.6 93.0,173.3 93.2,173.6 93.4,174.7 93.6,176.5 93.7,178.8 93.9,181.5 94.1,184.5 94.2,187.5 94.4,190.3 94.6,192.7 94.7,194.7 94.9,196.0 95.1,196.5 95.3,196.4 95.4,195.6 95.6,194.4 95.8,192.6 95.9,190.4 96.1,187.8 96.3,185.0 96.4,182.2 96.6,179.4 96.8,176.8 96.9,174.6 97.1,172.8 97.3,171.6 97.5,171.0 97.6,171.1 97.8,172.2 98.0,174.0 98.1,176.6 98.3,179.6 98.5,182.9 98.6,186.2 98.8,189.4 99.0,192.2 99.2,194.5 99.3,196.1 99.5,196.9 99.7,196.7 99.8,195.3 100.0,192.9 100.2,189.7 100.3,186.0 100.5,182.3 100.7,178.9 100.9,176.1 101.0,174.1 101.2,173.3 101.4,173.3 101.5,173.8 101.7,174.9 101.9,176.5 102.0,178.6 102.2,181.0 102.4,183.5 102.6,186.2 102.7,188.8 102.9,191.3 103.1,193.5 103.2,195.3 103.4,196.6 103.6,197.4 103.7,197.5 103.9,196.5 104.1,194.8 104.2,192.4 104.4,189.7 104.6,186.8 104.8,184.1 104.9,181.9 105.1,180.4 105.3,179.8 105.4,179.8 105.6,180.2 105.8,180.9 105.9,181.8 106.1,183.0 106.3,184.4 106.5,185.8 106.6,187.2 106.8,188.6 107.0,189.8 107.1,190.8 107.3,191.6 107.5,192.1 107.6,192.2 107.8,191.8 108.0,190.9 108.2,189.4 108.3,187.4 108.5,185.2 108.7,182.8 108.8,180.5 109.0,178.3 109.2,176.5 109.3,175.1 109.5,174.3 109.7,174.1 109.8,174.6 110.0,175.6 110.2,177.0 110.4,178.8 110.5,180.9 110.7,183.1 110.9,185.3 111.0,187.4 111.2,189.2 111.4,190.7 111.5,191.8 111.7,192.3 111.9,192.3 112.1,191.9 112.2,191.1 112.4,190.0 112.6,188.7 112.7,187.1 112.9,185.5 113.1,183.9 113.2,182.3 113.4,180.8 113.6,179.6 113.8,178.6 113.9,178.0 114.1,177.7 114.3,177.8 114.4,178.5 114.6,180.1 114.8,182.4 114.9,185.2 115.1,188.3 115.3,191.3 115.5,193.8 115.6,195.8 115.8,196.8 116.0,196.8 116.1,196.1 116.3,195.0 116.5,193.5 116.6,191.7 116.8,189.8 117.0,187.7 117.1,185.5 117.3,183.4 117.5,181.4 117.7,179.6 117.8,178.1 118.0,176.9 118.2,176.2 118.3,175.9 118.5,176.0 118.7,176.6 118.8,177.5 119.0,178.8 119.2,180.3 119.4,182.0 119.5,183.9 119.7,185.7 119.9,187.5 120.0,189.2 120.2,190.5 120.4,191.4 120.5,191.9 120.7,192.0 120.9,191.6 121.1,190.8 121.2,189.5 121.4,188.0 121.6,186.2 121.7,184.3 121.9,182.3 122.1,180.5 122.2,178.8 122.4,177.5 122.6,176.6 122.8,176.2 122.9,176.2 123.1,176.7 123.3,177.5 123.4,178.4 123.6,179.3 123.8,180.1 123.9,181.0 124.1,181.7 124.3,182.3 124.4,182.8 124.6,183.1 124.8,183.2 125.0,183.1 125.1,182.9 125.3,182.5 125.5,182.2 125.6,182.0 125.8,181.8 126.0,181.9 126.1,182.1 126.3,182.7 126.5,183.3 126.7,184.1 126.8,185.0 127.0,185.9 127.2,186.8 127.3,187.8 127.5,188.7 127.7,189.6 127.8,190.3 128.0,191.0 128.2,191.5 128.4,191.8 128.5,191.9 128.7,191.8 128.9,191.5 129.0,191.2 129.2,190.7 129.4,190.1 129.5,189.4 129.7,188.7 129.9,187.9 130.0,187.1 130.2,186.2 130.4,185.3 130.6,184.5 130.7,183.7 130.9,183.0 131.1,182.3 131.2,181.8 131.4,181.3 131.6,181.0 131.7,180.8 131.9,180.7 132.1,180.7 132.3,180.9 132.4,181.2 132.6,181.7 132.8,182.4 132.9,183.1 133.1,184.0 133.3,184.9 133.4,185.7 133.6,186.6 133.8,187.4 134.0,188.0 134.1,188.5 134.3,188.8 134.5,188.8 134.6,188.5 134.8,188.1 135.0,187.4 135.1,186.6 135.3,185.6 135.5,184.5 135.7,183.3 135.8,182.2 136.0,181.1 136.2,180.0 136.3,179.1 136.5,178.3 136.7,177.7 136.8,177.3 137.0,177.0 137.2,176.9 137.3,176.9 137.5,177.0 137.7,177.2 137.9,177.5 138.0,177.8 138.2,178.1 138.4,178.4 138.5,178.7 138.7,178.8 138.9,178.7 139.0,178.6 139.2,178.5 139.4,178.4 139.6,178.5 139.7,178.7 139.9,179.1 140.1,179.7 140.2,180.2 140.4,180.7 140.6,181.1 140.7,181.4 140.9,181.8 141.1,182.2 141.3,182.7 141.4,183.1 141.6,183.5 141.8,183.9 141.9,184.2 142.1,184.5 142.3,184.8 142.4,185.0 142.6,185.1 142.8,185.1 143.0,185.1 143.1,184.9 143.3,184.6 143.5,184.2 143.6,183.6 143.8,183.0 144.0,182.4 144.1,181.9 144.3,181.5 144.5,181.3 144.6,181.4 144.8,181.7 145.0,182.2 145.2,182.9 145.3,183.9 145.5,185.0 145.7,186.2 145.8,187.4 146.0,188.6 146.2,189.7 146.3,190.7 146.5,191.5 146.7,192.1 146.9,192.4 147.0,192.4 147.2,192.2 147.4,191.8 147.5,191.1 147.7,190.2 147.9,189.3 148.0,188.2 148.2,187.2 148.4,186.2 148.6,185.3 148.7,184.5 148.9,183.8 149.1,183.2 149.2,182.7 149.4,182.4 149.6,182.1 149.7,181.9 149.9,181.8 150.1,181.7 150.3,181.7 150.4,181.7 150.6,181.9 150.8,182.2 150.9,182.6 151.1,182.9 151.3,182.8 151.4,182.5 151.6,182.0 151.8,181.3 151.9,180.4 152.1,179.4 152.3,178.3 152.5,177.2 152.6,176.1 152.8,175.1 153.0,174.2 153.1,173.5 153.3,173.0 153.5,172.7 153.6,172.7 153.8,172.9 154.0,173.6 154.2,174.6 154.3,175.9 154.5,177.4 154.7,179.1 154.8,180.9 155.0,182.7 155.2,184.4 155.3,185.9 155.5,187.2 155.7,188.1 155.9,188.8 156.0,189.0 156.2,188.7 156.4,187.9 156.5,186.5 156.7,184.6 156.9,182.4 157.0,180.0 157.2,177.6 157.4,175.4 157.5,173.5 157.7,172.0 157.9,171.1 158.1,170.9 158.2,171.0 158.4,171.3 158.6,171.7 158.7,172.3 158.9,173.0 159.1,173.8 159.2,174.7 159.4,175.8 159.6,176.9 159.8,178.0 159.9,179.2 160.1,180.5 160.3,181.7 160.4,182.9 160.6,184.1 160.8,185.3 160.9,186.4 161.1,187.3 161.3,187.9 161.5,188.2 161.6,188.3 161.8,188.3 162.0,188.2 162.1,188.3 162.3,188.4 162.5,188.9 162.6,189.5 162.8,190.4 163.0,191.4 163.2,192.5 163.3,193.7 163.5,194.8 163.7,196.0 163.8,197.0 164.0,197.8 164.2,198.5 164.3,199.0 164.5,199.1 164.7,198.9 164.8,198.5 165.0,197.9 165.2,197.0 165.4,196.0 165.5,194.9 165.7,193.7 165.9,192.3 166.0,190.9 166.2,189.5 166.4,188.1 166.5,186.7 166.7,185.4 166.9,184.2 167.1,183.1 167.2,182.1 167.4,181.3 167.6,180.7 167.7,180.2 167.9,179.9 168.1,179.7 168.2,179.7 168.4,179.9 168.6,180.3 168.8,180.6 168.9,181.0 169.1,181.4 169.3,181.9 169.4,182.2 169.6,182.6 169.8,182.8 169.9,183.0 170.1,183.1 170.3,183.0 170.5,182.8 170.6,182.4 170.8,181.9 171.0,181.3 171.1,180.5 171.3,179.7 171.5,178.8 171.6,178.0 171.8,177.1 172.0,176.3 172.1,175.5 172.3,174.9 172.5,174.4 172.7,174.0 172.8,173.8 173.0,173.9 173.2,174.1 173.3,174.6 173.5,175.2 173.7,176.0 173.8,177.0 174.0,178.1 174.2,179.3 174.4,180.5 174.5,181.7 174.7,182.9 174.9,184.0 175.0,185.0 175.2,186.0 175.4,187.0 175.5,187.8 175.7,188.5 175.9,189.1 176.1,189.6 176.2,189.9 176.4,190.0 176.6,190.0 176.7,189.9 176.9,189.6 177.1,189.1 177.2,188.3 177.4,187.4 177.6,186.4 177.7,185.3 177.9,184.3 178.1,183.6 178.3,183.2 178.4,183.2 178.6,183.6 178.8,184.3 178.9,185.2 179.1,186.4 179.3,187.8 179.4,189.1 179.6,190.5 179.8,191.8 180.0,193.0 180.1,194.1 180.3,195.0 180.5,195.6 180.6,195.9 180.8,195.8 181.0,195.5 181.1,194.8 181.3,193.8 181.5,192.6 181.7,191.2 181.8,189.7 182.0,188.2 182.2,186.6 182.3,185.2 182.5,183.8 182.7,182.6 182.8,181.6 183.0,180.9 183.2,180.5 183.4,180.4 183.5,180.6 183.7,181.0 183.9,181.5 184.0,182.0 184.2,182.6 184.4,183.1 184.5,183.5 184.7,183.9 184.9,184.1 185.0,184.1 185.2,183.9 185.4,183.4 185.6,182.7 185.7,181.7 185.9,180.5 186.1,179.2 186.2,177.8 186.4,176.6 186.6,175.4 186.7,174.6 186.9,174.0 187.1,173.8 187.3,174.0 187.4,174.7 187.6,175.8 187.8,177.4 187.9,179.2 188.1,181.2 188.3,183.2 188.4,185.0 188.6,186.6 188.8,187.9 189.0,188.8 189.1,189.4 189.3,189.5 189.5,189.2 189.6,188.6 189.8,187.8 190.0,187.0 190.1,186.2 190.3,185.4 190.5,184.7 190.7,184.3 190.8,184.0 191.0,183.9 191.2,184.0 191.3,184.3 191.5,184.9 191.7,185.7 191.8,186.7 192.0,187.8 192.2,189.1 192.3,190.4 192.5,191.7 192.7,192.9 192.9,194.1 193.0,195.1 193.2,195.9 193.4,196.4 193.5,196.8 193.7,196.8 193.9,196.1 194.0,194.6 194.2,192.4 194.4,189.7 194.6,186.6 194.7,183.4 194.9,180.3 195.1,177.7 195.2,175.6 195.4,174.4 195.6,174.0 195.7,174.2 195.9,174.7 196.1,175.5 196.3,176.6 196.4,178.0 196.6,179.5 196.8,181.3 196.9,183.1 197.1,185.0 197.3,186.9 197.4,188.7 197.6,190.4 197.8,192.0 197.9,193.3 198.1,194.4 198.3,195.2 198.5,195.7 198.6,195.8 198.8,195.7 199.0,195.2 199.1,194.4 199.3,193.4 199.5,192.1 199.6,190.7 199.8,189.2 200.0,187.6 200.2,186.1 200.3,184.6 200.5,183.3 200.7,182.2 200.8,181.3 201.0,180.7 201.2,180.4 201.3,180.4 201.5,180.5 201.7,180.8 201.9,181.2 202.0,181.7 202.2,182.3 202.4,182.9 202.5,183.6 202.7,184.3 202.9,184.9 203.0,185.4 203.2,185.9 203.4,186.2 203.6,186.4 203.7,186.4 203.9,186.2 204.1,185.8 204.2,185.1 204.4,184.1 204.6,183.0 204.7,181.8 204.9,180.5 205.1,179.3 205.2,178.2 205.4,177.3 205.6,176.6 205.8,176.2 205.9,176.1 206.1,176.2 206.3,176.4 206.4,176.9 206.6,177.5 206.8,178.3 206.9,179.2 207.1,180.3 207.3,181.3 207.5,182.3 207.6,183.3 207.8,184.2 208.0,184.9 208.1,185.4 208.3,185.8 208.5,186.0 208.6,186.1 208.8,185.9 209.0,185.6 209.2,185.2 209.3,184.5 209.5,183.8 209.7,183.0 209.8,182.3 210.0,181.6 210.2,181.0 210.3,180.6 210.5,180.4 210.7,180.4 210.9,180.6 211.0,181.2 211.2,182.0 211.4,183.0 211.5,184.3 211.7,185.8 211.9,187.3 212.0,188.8 212.2,190.4 212.4,191.8 212.5,193.0 212.7,194.0 212.9,194.8 213.1,195.4 213.2,195.6 213.4,195.6 213.6,195.4 213.7,194.9 213.9,194.1 214.1,193.2 214.2,192.1 214.4,190.8 214.6,189.5 214.8,188.2 214.9,187.0 215.1,185.9 215.3,184.9 215.4,184.2 215.6,183.6 215.8,183.2 215.9,183.0 216.1,183.0 216.3,183.2 216.5,183.6 216.6,184.2 216.8,185.1 217.0,186.1 217.1,187.2 217.3,188.2 217.5,189.1 217.6,189.7 217.8,190.1 218.0,190.0 218.2,189.6 218.3,188.9 218.5,188.0 218.7,186.9 218.8,185.6 219.0,184.2 219.2,182.7 219.3,181.3 219.5,180.0 219.7,178.8 219.8,177.9 220.0,177.1 220.2,176.7 220.4,176.5 220.5,176.6 220.7,176.9 220.9,177.4 221.0,178.1 221.2,178.9 221.4,179.7 221.5,180.3 221.7,180.6 221.9,180.8 222.1,180.6 222.2,180.2 222.4,179.6 222.6,178.9 222.7,178.3 222.9,177.8 223.1,177.3 223.2,177.0 223.4,176.8 223.6,176.8 223.8,176.9 223.9,177.2 224.1,177.7 224.3,178.5 224.4,179.5 224.6,180.8 224.8,182.1 224.9,183.6 225.1,185.1 225.3,186.6 225.4,188.1 225.6,189.3 225.8,190.4 226.0,191.3 226.1,191.8 226.3,192.1 226.5,192.1 226.6,191.7 226.8,191.2 227.0,190.4 227.1,189.4 227.3,188.4 227.5,187.3 227.7,186.2 227.8,185.1 228.0,184.3 228.2,183.6 228.3,183.1 228.5,182.8 228.7,182.8 228.8,183.1 229.0,183.6 229.2,184.3 229.4,185.2 229.5,186.2 229.7,187.3 229.9,188.5 230.0,189.6 230.2,190.8 230.4,191.8 230.5,192.7 230.7,193.4 230.9,194.0 231.1,194.2 231.2,194.2 231.4,194.0 231.6,193.6 231.7,192.9 231.9,191.8 232.1,190.0 232.2,188.2 232.4,186.5 232.6,184.9 232.7,183.5 232.9,182.5 233.1,181.9 233.3,181.7 233.4,181.8 233.6,182.2 233.8,180.6 233.9,180.9 234.1,181.4 234.3,181.9 234.4,182.6 234.6,183.3 234.8,184.0 235.0,184.7 235.1,185.3" fill="none" stroke="#e0571c" stroke-width="1.4" stroke-linejoin="round" stroke-dasharray="2.6,0.75,1.1,0.75" clip-path="url(#cA2)"/>
<line x1="77.43" y1="232.00" x2="77.43" y2="138.20" stroke="#2a2a2a" stroke-width="1.5" stroke-dasharray="3.3,3.45"/>
<line x1="77.93" y1="220.20" x2="91.43" y2="220.20" stroke="#9a9a9a" stroke-width="1.5"/>
<path d="M91.43,220.20 l-5,-1.8 l0.8,1.8 l-0.8,1.8 z" fill="#1a1a1a"/>
<text x="93.63" y="223.00" text-anchor="start" font-size="8.1">Reconstructed part</text>
<g stroke="#a3a3a3" stroke-width="1.6"><rect x="28.20" y="138.20" width="203.70" height="93.80" fill="none"/><line x1="28.20" y1="232.00" x2="28.20" y2="229.80"/><line x1="28.20" y1="138.20" x2="28.20" y2="140.40"/><line x1="62.15" y1="232.00" x2="62.15" y2="229.80"/><line x1="62.15" y1="138.20" x2="62.15" y2="140.40"/><line x1="96.10" y1="232.00" x2="96.10" y2="229.80"/><line x1="96.10" y1="138.20" x2="96.10" y2="140.40"/><line x1="130.05" y1="232.00" x2="130.05" y2="229.80"/><line x1="130.05" y1="138.20" x2="130.05" y2="140.40"/><line x1="164.00" y1="232.00" x2="164.00" y2="229.80"/><line x1="164.00" y1="138.20" x2="164.00" y2="140.40"/><line x1="197.95" y1="232.00" x2="197.95" y2="229.80"/><line x1="197.95" y1="138.20" x2="197.95" y2="140.40"/><line x1="231.90" y1="232.00" x2="231.90" y2="229.80"/><line x1="231.90" y1="138.20" x2="231.90" y2="140.40"/><line x1="28.20" y1="232.00" x2="30.40" y2="232.00"/><line x1="231.90" y1="232.00" x2="229.70" y2="232.00"/><line x1="28.20" y1="216.37" x2="30.40" y2="216.37"/><line x1="231.90" y1="216.37" x2="229.70" y2="216.37"/><line x1="28.20" y1="200.73" x2="30.40" y2="200.73"/><line x1="231.90" y1="200.73" x2="229.70" y2="200.73"/><line x1="28.20" y1="185.10" x2="30.40" y2="185.10"/><line x1="231.90" y1="185.10" x2="229.70" y2="185.10"/><line x1="28.20" y1="169.47" x2="30.40" y2="169.47"/><line x1="231.90" y1="169.47" x2="229.70" y2="169.47"/><line x1="28.20" y1="153.83" x2="30.40" y2="153.83"/><line x1="231.90" y1="153.83" x2="229.70" y2="153.83"/><line x1="28.20" y1="138.20" x2="30.40" y2="138.20"/><line x1="231.90" y1="138.20" x2="229.70" y2="138.20"/></g>
<g font-family="Liberation Sans, Arial, sans-serif" font-weight="bold" font-size="7.9" fill="#333333"><text x="27.90" y="242.90" text-anchor="middle">14</text><text x="61.85" y="242.90" text-anchor="middle">16</text><text x="95.80" y="242.90" text-anchor="middle">18</text><text x="129.75" y="242.90" text-anchor="middle">20</text><text x="163.70" y="242.90" text-anchor="middle">22</text><text x="197.65" y="242.90" text-anchor="middle">24</text><text x="231.60" y="242.90" text-anchor="middle">26</text><text x="24.90" y="234.60" text-anchor="end">-3</text><text x="24.90" y="218.97" text-anchor="end">-2</text><text x="24.90" y="203.33" text-anchor="end">-1</text><text x="24.90" y="187.70" text-anchor="end">0</text><text x="24.90" y="172.07" text-anchor="end">1</text><text x="24.90" y="156.43" text-anchor="end">2</text><text x="24.90" y="140.80" text-anchor="end">3</text></g>
<text x="130.05" y="254.80" text-anchor="middle" font-size="9.0">Time (s)</text>
<text transform="translate(14.0,185.10) rotate(-90)" text-anchor="middle" font-size="8.9">Amplitude (gal)</text>
<clipPath id="cA3"><rect x="296.40" y="138.00" width="204.10" height="94.00"/></clipPath>
<g stroke="#f5f5f5" stroke-width="0.8"><line x1="296.40" y1="138.00" x2="296.40" y2="232.00"/><line x1="304.02" y1="138.00" x2="304.02" y2="232.00"/><line x1="311.64" y1="138.00" x2="311.64" y2="232.00"/><line x1="319.26" y1="138.00" x2="319.26" y2="232.00"/><line x1="326.89" y1="138.00" x2="326.89" y2="232.00"/><line x1="334.51" y1="138.00" x2="334.51" y2="232.00"/><line x1="342.13" y1="138.00" x2="342.13" y2="232.00"/><line x1="349.75" y1="138.00" x2="349.75" y2="232.00"/><line x1="357.37" y1="138.00" x2="357.37" y2="232.00"/><line x1="364.99" y1="138.00" x2="364.99" y2="232.00"/><line x1="372.61" y1="138.00" x2="372.61" y2="232.00"/><line x1="380.23" y1="138.00" x2="380.23" y2="232.00"/><line x1="387.86" y1="138.00" x2="387.86" y2="232.00"/><line x1="395.48" y1="138.00" x2="395.48" y2="232.00"/><line x1="403.10" y1="138.00" x2="403.10" y2="232.00"/><line x1="410.72" y1="138.00" x2="410.72" y2="232.00"/><line x1="418.34" y1="138.00" x2="418.34" y2="232.00"/><line x1="425.96" y1="138.00" x2="425.96" y2="232.00"/><line x1="433.58" y1="138.00" x2="433.58" y2="232.00"/><line x1="441.21" y1="138.00" x2="441.21" y2="232.00"/><line x1="448.83" y1="138.00" x2="448.83" y2="232.00"/><line x1="456.45" y1="138.00" x2="456.45" y2="232.00"/><line x1="464.07" y1="138.00" x2="464.07" y2="232.00"/><line x1="471.69" y1="138.00" x2="471.69" y2="232.00"/><line x1="479.31" y1="138.00" x2="479.31" y2="232.00"/><line x1="486.93" y1="138.00" x2="486.93" y2="232.00"/><line x1="494.56" y1="138.00" x2="494.56" y2="232.00"/><line x1="296.40" y1="232.00" x2="500.50" y2="232.00"/><line x1="296.40" y1="222.60" x2="500.50" y2="222.60"/><line x1="296.40" y1="213.20" x2="500.50" y2="213.20"/><line x1="296.40" y1="203.80" x2="500.50" y2="203.80"/><line x1="296.40" y1="194.40" x2="500.50" y2="194.40"/><line x1="296.40" y1="185.00" x2="500.50" y2="185.00"/><line x1="296.40" y1="175.60" x2="500.50" y2="175.60"/><line x1="296.40" y1="166.20" x2="500.50" y2="166.20"/><line x1="296.40" y1="156.80" x2="500.50" y2="156.80"/><line x1="296.40" y1="147.40" x2="500.50" y2="147.40"/><line x1="296.40" y1="138.00" x2="500.50" y2="138.00"/></g>
<g stroke="#eeeeee" stroke-width="0.8"><line x1="296.40" y1="138.00" x2="296.40" y2="232.00"/><line x1="326.89" y1="138.00" x2="326.89" y2="232.00"/><line x1="357.37" y1="138.00" x2="357.37" y2="232.00"/><line x1="387.86" y1="138.00" x2="387.86" y2="232.00"/><line x1="418.34" y1="138.00" x2="418.34" y2="232.00"/><line x1="448.83" y1="138.00" x2="448.83" y2="232.00"/><line x1="479.31" y1="138.00" x2="479.31" y2="232.00"/><line x1="296.40" y1="232.00" x2="500.50" y2="232.00"/><line x1="296.40" y1="185.00" x2="500.50" y2="185.00"/><line x1="296.40" y1="138.00" x2="500.50" y2="138.00"/></g>
<polyline points="294.9,185.0 295.0,185.9 295.2,186.8 295.3,188.0 295.5,189.5 295.6,191.2 295.8,193.0 295.9,194.7 296.1,196.2 296.2,197.3 296.4,198.2 296.6,198.7 296.7,199.3 296.9,199.9 297.0,200.5 297.2,201.0 297.3,201.0 297.5,199.8 297.6,197.2 297.8,193.8 297.9,190.4 298.1,188.0 298.2,188.1 298.4,190.1 298.5,190.5 298.7,190.1 298.8,190.1 299.0,190.5 299.1,191.3 299.3,192.1 299.4,191.9 299.6,191.6 299.8,192.4 299.9,194.7 300.1,197.8 300.2,200.0 300.4,201.3 300.5,202.4 300.7,203.1 300.8,203.4 301.0,203.0 301.1,201.3 301.3,198.5 301.4,195.3 301.6,192.6 301.7,190.5 301.9,188.7 302.0,186.8 302.2,184.8 302.3,183.8 302.5,184.0 302.6,184.4 302.8,183.9 303.0,183.0 303.1,182.6 303.3,182.6 303.4,182.7 303.6,182.6 303.7,182.4 303.9,182.5 304.0,183.2 304.2,184.3 304.3,185.1 304.5,185.7 304.6,186.0 304.8,186.2 304.9,186.7 305.1,187.2 305.2,187.0 305.4,185.8 305.5,183.9 305.7,181.8 305.9,179.8 306.0,178.0 306.2,176.3 306.3,174.6 306.5,172.9 306.6,171.6 306.8,170.5 306.9,169.4 307.1,168.5 307.2,168.0 307.4,168.3 307.5,170.1 307.7,173.1 307.8,176.5 308.0,179.5 308.1,181.6 308.3,182.6 308.4,183.1 308.6,184.0 308.7,185.7 308.9,187.9 309.1,190.0 309.2,191.1 309.4,190.5 309.5,188.9 309.7,186.9 309.8,184.8 310.0,182.7 310.1,181.1 310.3,180.1 310.4,179.8 310.6,180.1 310.7,181.0 310.9,182.4 311.0,184.3 311.2,186.7 311.3,189.3 311.5,190.6 311.6,191.0 311.8,192.0 311.9,194.5 312.1,197.8 312.3,200.8 312.4,202.7 312.6,203.0 312.7,202.2 312.9,201.0 313.0,199.6 313.2,197.9 313.3,195.9 313.5,193.6 313.6,191.0 313.8,188.8 313.9,187.2 314.1,185.5 314.2,183.5 314.4,182.0 314.5,181.2 314.7,180.8 314.8,180.8 315.0,180.9 315.1,180.8 315.3,181.0 315.5,181.7 315.6,181.7 315.8,180.7 315.9,179.9 316.1,180.4 316.2,182.6 316.4,185.8 316.5,188.6 316.7,190.0 316.8,190.5 317.0,190.7 317.1,190.5 317.3,190.4 317.4,190.5 317.6,190.8 317.7,190.8 317.9,189.7 318.0,187.1 318.2,184.6 318.3,183.5 318.5,182.8 318.7,182.0 318.8,181.2 319.0,180.4 319.1,179.9 319.3,179.9 319.4,180.3 319.6,180.4 319.7,180.1 319.9,179.5 320.0,178.9 320.2,178.5 320.3,178.4 320.5,178.8 320.6,179.5 320.8,180.4 320.9,181.3 321.1,182.2 321.2,182.6 321.4,182.8 321.6,183.3 321.7,184.3 321.9,185.3 322.0,186.2 322.2,187.0 322.3,187.8 322.5,188.5 322.6,189.1 322.8,189.6 322.9,189.7 323.1,189.1 323.2,187.9 323.4,186.1 323.5,184.1 323.7,182.1 323.8,179.7 324.0,177.2 324.1,174.6 324.3,172.5 324.4,172.3 324.6,173.8 324.8,175.5 324.9,176.1 325.1,176.0 325.2,176.0 325.4,176.3 325.5,177.1 325.7,178.6 325.8,180.8 326.0,183.5 326.1,186.1 326.3,188.1 326.4,189.0 326.6,188.8 326.7,185.0 326.9,185.0 327.0,185.0 327.2,185.0 327.3,185.0 327.5,185.0 327.6,185.0 327.8,185.0 328.0,185.0 328.1,185.0 328.3,185.0 328.4,185.0 328.6,185.0 328.7,185.0 328.9,185.0 329.0,185.0 329.2,185.0 329.3,185.0 329.5,185.0 329.6,185.0 329.8,185.0 329.9,185.0 330.1,185.0 330.2,185.0 330.4,185.0 330.5,185.0 330.7,185.0 330.8,185.0 331.0,185.0 331.2,185.0 331.3,185.0 331.5,185.0 331.6,185.0 331.8,185.0 331.9,185.0 332.1,185.0 332.2,185.0 332.4,185.0 332.5,185.0 332.7,185.0 332.8,185.0 333.0,185.0 333.1,185.0 333.3,185.0 333.4,185.0 333.6,185.0 333.7,185.0 333.9,185.0 334.0,185.0 334.2,185.0 334.4,185.0 334.5,185.0 334.7,185.0 334.8,185.0 335.0,185.0 335.1,185.0 335.3,185.0 335.4,185.0 335.6,185.0 335.7,185.0 335.9,185.0 336.0,185.0 336.2,185.0 336.3,185.0 336.5,185.0 336.6,185.0 336.8,185.0 336.9,185.0 337.1,185.0 337.3,185.0 337.4,185.0 337.6,185.0 337.7,185.0 337.9,185.0 338.0,185.0 338.2,185.0 338.3,185.0 338.5,185.0 338.6,185.0 338.8,185.0 338.9,185.0 339.1,185.0 339.2,185.0 339.4,185.0 339.5,185.0 339.7,185.0 339.8,185.0 340.0,185.0 340.1,185.0 340.3,185.0 340.5,185.0 340.6,185.0 340.8,185.0 340.9,185.0 341.1,185.0 341.2,185.0 341.4,185.0 341.5,185.0 341.7,185.0 341.8,185.0 342.0,185.0 342.1,185.0 342.3,185.0 342.4,185.0 342.6,185.0 342.7,185.0 342.9,185.0 343.0,185.0 343.2,185.0 343.3,185.0 343.5,185.0 343.7,185.0 343.8,185.0 344.0,185.0 344.1,185.0 344.3,185.0 344.4,185.0 344.6,185.0 344.7,185.0 344.9,185.0 345.0,185.0 345.2,185.0 345.3,185.0 345.5,185.0 345.6,185.0 345.8,185.0 345.9,185.0 346.1,185.0 346.2,185.0 346.4,185.0 346.5,185.0 346.7,185.0 346.9,185.0 347.0,185.0 347.2,185.0 347.3,185.0 347.5,185.0 347.6,185.0 347.8,185.0 347.9,185.0 348.1,185.0 348.2,185.0 348.4,185.0 348.5,185.0 348.7,185.0 348.8,185.0 349.0,185.0 349.1,185.0 349.3,185.0 349.4,185.0 349.6,185.0 349.7,185.0 349.9,185.0 350.1,185.0 350.2,185.0 350.4,185.0 350.5,185.0 350.7,185.0 350.8,185.0 351.0,185.0 351.1,185.0 351.3,185.0 351.4,185.0 351.6,185.0 351.7,185.0 351.9,185.0 352.0,185.0 352.2,185.0 352.3,185.0 352.5,185.0 352.6,185.0 352.8,185.0 353.0,185.0 353.1,185.0 353.3,185.0 353.4,185.0 353.6,185.0 353.7,185.0 353.9,185.0 354.0,185.0 354.2,185.0 354.3,185.0 354.5,185.0 354.6,185.0 354.8,185.0 354.9,185.0 355.1,185.0 355.2,185.0 355.4,185.0 355.5,185.0 355.7,185.0 355.8,185.0 356.0,185.0 356.2,185.0 356.3,185.0 356.5,185.0 356.6,185.0 356.8,185.0 356.9,185.0 357.1,185.0 357.2,185.0 357.4,185.0 357.5,185.0 357.7,185.0 357.8,185.0 358.0,185.0 358.1,185.0 358.3,185.0 358.4,185.0 358.6,185.0 358.7,185.0 358.9,185.0 359.0,185.0 359.2,185.0 359.4,185.0 359.5,185.0 359.7,185.0 359.8,185.0 360.0,185.0 360.1,185.0 360.3,185.0 360.4,185.0 360.6,185.0 360.7,185.0 360.9,185.0 361.0,185.0 361.2,185.0 361.3,185.0 361.5,185.0 361.6,185.0 361.8,185.0 361.9,185.0 362.1,185.0 362.2,185.0 362.4,185.0 362.6,185.0 362.7,185.0 362.9,185.0 363.0,185.0 363.2,185.0 363.3,185.0 363.5,185.0 363.6,185.0 363.8,185.0 363.9,185.0 364.1,185.0 364.2,185.0 364.4,185.0 364.5,185.0 364.7,185.0 364.8,185.0 365.0,185.0 365.1,185.0 365.3,185.0 365.4,185.0 365.6,185.0 365.8,185.0 365.9,185.0 366.1,185.0 366.2,185.0 366.4,185.0 366.5,185.0 366.7,185.0 366.8,185.0 367.0,185.0 367.1,185.0 367.3,185.0 367.4,185.0 367.6,185.0 367.7,185.0 367.9,185.0 368.0,185.0 368.2,185.0 368.3,185.0 368.5,185.0 368.7,185.0 368.8,185.0 369.0,185.0 369.1,185.0 369.3,185.0 369.4,185.0 369.6,185.0 369.7,185.0 369.9,185.0 370.0,185.0 370.2,185.0 370.3,185.0 370.5,185.0 370.6,185.0 370.8,185.0 370.9,185.0 371.1,185.0 371.2,185.0 371.4,185.0 371.5,185.0 371.7,185.0 371.9,185.0 372.0,185.0 372.2,185.0 372.3,185.0 372.5,185.0 372.6,185.0 372.8,185.0 372.9,185.0 373.1,185.0 373.2,185.0 373.4,185.0 373.5,185.0 373.7,185.0 373.8,185.0 374.0,185.0 374.1,185.0 374.3,185.0 374.4,185.0 374.6,185.0 374.7,185.0 374.9,185.0 375.1,185.0 375.2,185.0 375.4,185.0 375.5,185.0 375.7,185.0 375.8,185.0 376.0,185.0 376.1,185.0 376.3,185.0 376.4,185.0 376.6,185.0 376.7,185.0 376.9,185.0 377.0,185.0 377.2,185.0 377.3,185.0 377.5,185.0 377.6,185.0 377.8,185.0 377.9,185.0 378.1,185.0 378.3,185.0 378.4,185.0 378.6,185.0 378.7,185.0 378.9,185.0 379.0,185.0 379.2,185.0 379.3,185.0 379.5,185.0 379.6,185.0 379.8,185.0 379.9,185.0 380.1,185.0 380.2,185.0 380.4,185.0 380.5,185.0 380.7,185.0 380.8,185.0 381.0,185.0 381.1,185.0 381.3,185.0 381.5,185.0 381.6,185.0 381.8,185.0 381.9,185.0 382.1,185.0 382.2,185.0 382.4,185.0 382.5,185.0 382.7,185.0 382.8,185.0 383.0,185.0 383.1,185.0 383.3,185.0 383.4,185.0 383.6,185.0 383.7,185.0 383.9,185.0 384.0,185.0 384.2,185.0 384.4,185.0 384.5,185.0 384.7,185.0 384.8,185.0 385.0,185.0 385.1,185.0 385.3,185.0 385.4,185.0 385.6,185.0 385.7,185.0 385.9,185.0 386.0,185.0 386.2,185.0 386.3,185.0 386.5,185.0 386.6,185.0 386.8,185.0 386.9,185.0 387.1,185.0 387.2,185.0 387.4,185.0 387.6,185.0 387.7,185.0 387.9,185.0 388.0,185.0 388.2,185.0 388.3,185.0 388.5,185.0 388.6,185.0 388.8,185.0 388.9,185.0 389.1,185.0 389.2,185.0 389.4,185.0 389.5,185.0 389.7,185.0 389.8,185.0 390.0,185.0 390.1,185.0 390.3,185.0 390.4,185.0 390.6,185.0 390.8,185.0 390.9,185.0 391.1,185.0 391.2,185.0 391.4,185.0 391.5,185.0 391.7,185.0 391.8,185.0 392.0,185.0 392.1,185.0 392.3,185.0 392.4,185.0 392.6,185.0 392.7,185.0 392.9,185.0 393.0,185.0 393.2,185.0 393.3,185.0 393.5,185.0 393.6,185.0 393.8,185.0 394.0,185.0 394.1,185.0 394.3,185.0 394.4,185.0 394.6,185.0 394.7,185.0 394.9,185.0 395.0,185.0 395.2,185.0 395.3,185.0 395.5,185.0 395.6,185.0 395.8,185.0 395.9,185.0 396.1,185.0 396.2,185.0 396.4,185.0 396.5,185.0 396.7,185.0 396.8,185.0 397.0,185.0 397.2,185.0 397.3,185.0 397.5,185.0 397.6,185.0 397.8,185.0 397.9,185.0 398.1,185.0 398.2,185.0 398.4,185.0 398.5,185.0 398.7,185.0 398.8,185.0 399.0,185.0 399.1,185.0 399.3,185.0 399.4,185.0 399.6,185.0 399.7,185.0 399.9,185.0 400.1,185.0 400.2,185.0 400.4,185.0 400.5,185.0 400.7,185.0 400.8,185.0 401.0,185.0 401.1,185.0 401.3,185.0 401.4,185.0 401.6,185.0 401.7,185.0 401.9,185.0 402.0,185.0 402.2,185.0 402.3,185.0 402.5,185.0 402.6,185.0 402.8,185.0 402.9,185.0 403.1,185.0 403.3,185.0 403.4,185.0 403.6,185.0 403.7,185.0 403.9,185.0 404.0,185.0 404.2,185.0 404.3,185.0 404.5,185.0 404.6,185.0 404.8,185.0 404.9,185.0 405.1,185.0 405.2,185.0 405.4,185.0 405.5,185.0 405.7,185.0 405.8,185.0 406.0,185.0 406.1,185.0 406.3,185.0 406.5,185.0 406.6,185.0 406.8,185.0 406.9,185.0 407.1,185.0 407.2,185.0 407.4,185.0 407.5,185.0 407.7,185.0 407.8,185.0 408.0,185.0 408.1,185.0 408.3,185.0 408.4,185.0 408.6,185.0 408.7,185.0 408.9,185.0 409.0,185.0 409.2,185.0 409.3,185.0 409.5,185.0 409.7,185.0 409.8,185.0 410.0,185.0 410.1,185.0 410.3,185.0 410.4,185.0 410.6,185.0 410.7,185.0 410.9,185.0 411.0,185.0 411.2,185.0 411.3,185.0 411.5,185.0 411.6,185.0 411.8,185.0 411.9,185.0 412.1,185.0 412.2,185.0 412.4,185.0 412.5,185.0 412.7,185.0 412.9,185.0 413.0,185.0 413.2,185.0 413.3,185.0 413.5,185.0 413.6,185.0 413.8,185.0 413.9,185.0 414.1,185.0 414.2,185.0 414.4,185.0 414.5,185.0 414.7,185.0 414.8,185.0 415.0,185.0 415.1,185.0 415.3,185.0 415.4,185.0 415.6,185.0 415.8,185.0 415.9,185.0 416.1,185.0 416.2,185.0 416.4,185.0 416.5,185.0 416.7,185.0 416.8,185.0 417.0,185.0 417.1,185.0 417.3,185.0 417.4,185.0 417.6,185.0 417.7,185.0 417.9,185.0 418.0,185.0 418.2,185.0 418.3,185.0 418.5,185.0 418.6,185.0 418.8,185.0 419.0,185.0 419.1,185.0 419.3,185.0 419.4,185.0 419.6,185.0 419.7,185.0 419.9,185.0 420.0,185.0 420.2,185.0 420.3,185.0 420.5,185.0 420.6,185.0 420.8,185.0 420.9,185.0 421.1,185.0 421.2,185.0 421.4,185.0 421.5,185.0 421.7,185.0 421.8,185.0 422.0,185.0 422.2,185.0 422.3,185.0 422.5,185.0 422.6,185.0 422.8,185.0 422.9,185.0 423.1,185.0 423.2,185.0 423.4,185.0 423.5,185.0 423.7,185.0 423.8,185.0 424.0,185.0 424.1,185.0 424.3,185.0 424.4,185.0 424.6,185.0 424.7,185.0 424.9,185.0 425.0,185.0 425.2,185.0 425.4,185.0 425.5,185.0 425.7,185.0 425.8,185.0 426.0,185.0 426.1,185.0 426.3,185.0 426.4,185.0 426.6,185.0 426.7,185.0 426.9,185.0 427.0,185.0 427.2,185.0 427.3,185.0 427.5,185.0 427.6,185.0 427.8,185.0 427.9,185.0 428.1,185.0 428.2,185.0 428.4,185.0 428.6,185.0 428.7,185.0 428.9,185.0 429.0,185.0 429.2,185.0 429.3,185.0 429.5,185.0 429.6,185.0 429.8,185.0 429.9,185.0 430.1,185.0 430.2,185.0 430.4,185.0 430.5,185.0 430.7,185.0 430.8,185.0 431.0,185.0 431.1,185.0 431.3,185.0 431.5,185.0 431.6,185.0 431.8,185.0 431.9,185.0 432.1,185.0 432.2,185.0 432.4,185.0 432.5,185.0 432.7,185.0 432.8,185.0 433.0,185.0 433.1,185.0 433.3,185.0 433.4,185.0 433.6,185.0 433.7,185.0 433.9,185.0 434.0,185.0 434.2,185.0 434.3,185.0 434.5,185.0 434.7,185.0 434.8,185.0 435.0,185.0 435.1,185.0 435.3,185.0 435.4,185.0 435.6,185.0 435.7,185.0 435.9,185.0 436.0,185.0 436.2,185.0 436.3,185.0 436.5,185.0 436.6,185.0 436.8,185.0 436.9,185.0 437.1,185.0 437.2,185.0 437.4,185.0 437.5,185.0 437.7,185.0 437.9,185.0 438.0,185.0 438.2,185.0 438.3,185.0 438.5,185.0 438.6,185.0 438.8,185.0 438.9,185.0 439.1,185.0 439.2,185.0 439.4,185.0 439.5,185.0 439.7,185.0 439.8,185.0 440.0,185.0 440.1,185.0 440.3,185.0 440.4,185.0 440.6,185.0 440.7,185.0 440.9,185.0 441.1,185.0 441.2,185.0 441.4,185.0 441.5,185.0 441.7,185.0 441.8,185.0 442.0,185.0 442.1,185.0 442.3,185.0 442.4,185.0 442.6,185.0 442.7,185.0 442.9,185.0 443.0,185.0 443.2,185.0 443.3,185.0 443.5,185.0 443.6,185.0 443.8,185.0 443.9,185.0 444.1,185.0 444.3,185.0 444.4,185.0 444.6,185.0 444.7,185.0 444.9,185.0 445.0,185.0 445.2,185.0 445.3,185.0 445.5,185.0 445.6,185.0 445.8,185.0 445.9,185.0 446.1,185.0 446.2,185.0 446.4,185.0 446.5,185.0 446.7,185.0 446.8,185.0 447.0,185.0 447.2,185.0 447.3,185.0 447.5,185.0 447.6,185.0 447.8,185.0 447.9,185.0 448.1,185.0 448.2,185.0 448.4,185.0 448.5,185.0 448.7,185.0 448.8,185.0 449.0,185.0 449.1,185.0 449.3,185.0 449.4,185.0 449.6,185.0 449.7,185.0 449.9,185.0 450.0,185.0 450.2,185.0 450.4,185.0 450.5,185.0 450.7,185.0 450.8,185.0 451.0,185.0 451.1,185.0 451.3,185.0 451.4,185.0 451.6,185.0 451.7,185.0 451.9,185.0 452.0,185.0 452.2,185.0 452.3,185.0 452.5,185.0 452.6,185.0 452.8,185.0 452.9,185.0 453.1,185.0 453.2,185.0 453.4,185.0 453.6,185.0 453.7,185.0 453.9,185.0 454.0,185.0 454.2,185.0 454.3,185.0 454.5,185.0 454.6,185.0 454.8,185.0 454.9,185.0 455.1,185.0 455.2,185.0 455.4,185.0 455.5,185.0 455.7,185.0 455.8,185.0 456.0,185.0 456.1,185.0 456.3,185.0 456.4,185.0 456.6,185.0 456.8,185.0 456.9,185.0 457.1,185.0 457.2,185.0 457.4,185.0 457.5,185.0 457.7,185.0 457.8,185.0 458.0,185.0 458.1,185.0 458.3,185.0 458.4,185.0 458.6,185.0 458.7,185.0 458.9,185.0 459.0,185.0 459.2,185.0 459.3,185.0 459.5,185.0 459.6,185.0 459.8,185.0 460.0,185.0 460.1,185.0 460.3,185.0 460.4,185.0 460.6,185.0 460.7,185.0 460.9,185.0 461.0,185.0 461.2,185.0 461.3,185.0 461.5,185.0 461.6,185.0 461.8,185.0 461.9,185.0 462.1,185.0 462.2,185.0 462.4,185.0 462.5,185.0 462.7,185.0 462.9,185.0 463.0,185.0 463.2,185.0 463.3,185.0 463.5,185.0 463.6,185.0 463.8,185.0 463.9,185.0 464.1,185.0 464.2,185.0 464.4,185.0 464.5,185.0 464.7,185.0 464.8,185.0 465.0,185.0 465.1,185.0 465.3,185.0 465.4,185.0 465.6,185.0 465.7,185.0 465.9,185.0 466.1,185.0 466.2,185.0 466.4,185.0 466.5,185.0 466.7,185.0 466.8,185.0 467.0,185.0 467.1,185.0 467.3,185.0 467.4,185.0 467.6,185.0 467.7,185.0 467.9,185.0 468.0,185.0 468.2,185.0 468.3,185.0 468.5,185.0 468.6,185.0 468.8,185.0 468.9,185.0 469.1,185.0 469.3,185.0 469.4,185.0 469.6,185.0 469.7,185.0 469.9,185.0 470.0,185.0 470.2,185.0 470.3,185.0 470.5,185.0 470.6,185.0 470.8,185.0 470.9,185.0 471.1,185.0 471.2,185.0 471.4,185.0 471.5,185.0 471.7,185.0 471.8,185.0 472.0,185.0 472.1,185.0 472.3,185.0 472.5,185.0 472.6,185.0 472.8,185.0 472.9,185.0 473.1,185.0 473.2,185.0 473.4,185.0 473.5,185.0 473.7,185.0 473.8,185.0 474.0,185.0 474.1,185.0 474.3,185.0 474.4,185.0 474.6,185.0 474.7,185.0 474.9,185.0 475.0,185.0 475.2,185.0 475.3,185.0 475.5,185.0 475.7,185.0 475.8,185.0 476.0,185.0 476.1,185.0 476.3,185.0 476.4,185.0 476.6,185.0 476.7,185.0 476.9,185.0 477.0,185.0 477.2,185.0 477.3,185.0 477.5,185.0 477.6,185.0 477.8,185.0 477.9,185.0 478.1,185.0 478.2,185.0 478.4,185.0 478.6,185.0 478.7,185.0 478.9,185.0 479.0,185.0 479.2,185.0 479.3,185.0 479.5,185.0 479.6,185.0 479.8,185.0 479.9,185.0 480.1,185.0 480.2,185.0 480.4,185.0 480.5,185.0 480.7,185.0 480.8,185.0 481.0,185.0 481.1,185.0 481.3,185.0 481.4,185.0 481.6,185.0 481.8,185.0 481.9,185.0 482.1,185.0 482.2,185.0 482.4,185.0 482.5,185.0 482.7,185.0 482.8,185.0 483.0,185.0 483.1,185.0 483.3,185.0 483.4,185.0 483.6,185.0 483.7,185.0 483.9,185.0 484.0,185.0 484.2,185.0 484.3,185.0 484.5,185.0 484.6,185.0 484.8,185.0 485.0,185.0 485.1,185.0 485.3,185.0 485.4,185.0 485.6,180.0 485.7,179.3 485.9,178.1 486.0,176.5 486.2,174.7 486.3,172.8 486.5,170.8 486.6,169.0 486.8,167.5 486.9,166.3 487.1,165.5 487.2,165.3 487.4,165.5 487.5,166.2 487.7,167.4 487.8,169.1 488.0,171.0 488.2,173.3 488.3,175.8 488.5,178.5 488.6,181.2 488.8,183.8 488.9,186.3 489.1,188.6 489.2,190.6 489.4,192.2 489.5,193.4 489.7,194.2 489.8,194.4 490.0,194.2 490.1,193.5 490.3,192.5 490.4,191.3 490.6,190.0 490.7,188.8 490.9,187.8 491.0,187.1 491.2,186.9 491.4,187.0 491.5,187.3 491.7,187.9 491.8,188.7 492.0,189.6 492.1,190.7 492.3,191.8 492.4,193.0 492.6,194.2 492.7,195.3 492.9,196.4 493.0,197.3 493.2,198.1 493.3,198.6 493.5,199.0 493.6,199.1 493.8,198.8 493.9,197.8 494.1,196.2 494.3,194.1 494.4,191.6 494.6,188.7 494.7,185.5 494.9,182.2 495.0,178.9 495.2,175.7 495.3,172.8 495.5,170.2 495.6,168.1 495.8,166.5 495.9,165.6 496.1,165.3 496.2,165.7 496.4,167.0 496.5,169.0 496.7,171.8 496.8,175.0 497.0,178.5 497.1,182.1 497.3,185.6 497.5,188.8 497.6,191.6 497.8,193.6 497.9,194.9 498.1,195.3 498.2,195.0 498.4,194.2 498.5,192.7 498.7,190.8 498.8,188.5 499.0,185.9 499.1,183.1 499.3,180.3 499.4,177.5 499.6,174.9 499.7,172.6 499.9,170.7 500.0,169.3 500.2,168.4 500.3,168.1 500.5,168.4 500.7,169.2 500.8,170.6 501.0,172.3 501.1,174.4 501.3,176.5 501.4,178.7 501.6,180.8 501.7,182.5 501.9,183.9 502.0,184.7 502.2,185.0" fill="none" stroke="#2a84cc" stroke-width="1.3" stroke-linejoin="round" clip-path="url(#cA3)"/>
<polyline points="294.9,183.6 295.0,184.3 295.2,184.4 295.3,184.3 295.5,184.1 295.6,184.3 295.8,184.9 295.9,185.3 296.1,185.5 296.2,185.7 296.4,186.1 296.6,187.6 296.7,190.2 296.9,191.8 297.0,191.5 297.2,190.0 297.3,188.2 297.5,187.0 297.6,186.3 297.8,185.2 297.9,184.0 298.1,182.7 298.2,181.7 298.4,181.3 298.5,181.0 298.7,180.3 298.8,179.2 299.0,178.1 299.1,177.1 299.3,176.4 299.4,176.1 299.6,176.9 299.8,179.5 299.9,182.4 300.1,183.9 300.2,184.1 300.4,183.8 300.5,184.1 300.7,185.4 300.8,186.9 301.0,188.2 301.1,189.3 301.3,190.2 301.4,190.7 301.6,191.0 301.7,191.0 301.9,190.8 302.0,189.4 302.2,187.2 302.3,184.7 302.5,182.6 302.6,181.4 302.8,180.4 303.0,179.7 303.1,179.1 303.3,179.0 303.4,181.6 303.6,186.6 303.7,191.1 303.9,193.6 304.0,195.3 304.2,196.5 304.3,197.2 304.5,197.9 304.6,198.6 304.8,199.6 304.9,200.7 305.1,201.0 305.2,200.0 305.4,198.0 305.5,195.5 305.7,193.2 305.9,191.5 306.0,189.4 306.2,186.7 306.3,184.2 306.5,182.6 306.6,183.6 306.8,185.5 306.9,185.6 307.1,183.8 307.2,181.8 307.4,179.8 307.5,178.3 307.7,177.4 307.8,176.8 308.0,176.4 308.1,176.2 308.3,176.1 308.4,175.7 308.6,174.6 308.7,174.3 308.9,175.2 309.1,176.1 309.2,177.1 309.4,178.2 309.5,180.2 309.7,183.9 309.8,187.5 310.0,189.1 310.1,188.9 310.3,188.0 310.4,187.1 310.6,186.1 310.7,184.5 310.9,182.8 311.0,181.3 311.2,179.1 311.3,176.4 311.5,173.8 311.6,172.1 311.8,171.5 311.9,171.6 312.1,172.8 312.3,174.9 312.4,177.8 312.6,181.0 312.7,184.6 312.9,188.2 313.0,191.0 313.2,192.4 313.3,192.1 313.5,190.7 313.6,188.9 313.8,187.3 313.9,187.4 314.1,188.1 314.2,186.9 314.4,184.8 314.5,182.7 314.7,181.3 314.8,180.6 315.0,181.0 315.1,182.8 315.3,185.7 315.5,188.6 315.6,190.4 315.8,192.0 315.9,193.6 316.1,195.3 316.2,197.0 316.4,198.3 316.5,197.8 316.7,196.6 316.8,196.6 317.0,197.8 317.1,198.9 317.3,199.6 317.4,199.9 317.6,200.1 317.7,200.0 317.9,199.0 318.0,197.4 318.2,196.1 318.3,195.1 318.5,194.0 318.7,192.6 318.8,190.7 319.0,188.9 319.1,187.4 319.3,186.8 319.4,186.2 319.6,184.1 319.7,181.4 319.9,179.4 320.0,178.6 320.2,178.5 320.3,178.8 320.5,178.9 320.6,178.6 320.8,177.8 320.9,177.7 321.1,178.2 321.2,178.7 321.4,179.0 321.6,178.8 321.7,178.4 321.9,178.3 322.0,178.9 322.2,179.6 322.3,179.5 322.5,179.6 322.6,180.5 322.8,181.0 322.9,180.8 323.1,180.2 323.2,179.6 323.4,179.5 323.5,180.5 323.7,181.0 323.8,180.2 324.0,179.5 324.1,178.9 324.3,178.0 324.4,176.4 324.6,174.0 324.8,171.4 324.9,169.3 325.1,168.3 325.2,168.5 325.4,170.0 325.5,172.6 325.7,175.6 325.8,178.6 326.0,181.5 326.1,184.7 326.3,187.9 326.4,190.5 326.6,191.6 326.7,192.2 326.9,193.3 327.0,193.8 327.2,175.2 327.3,181.4 327.5,187.2 327.6,190.9 327.8,191.5 328.0,190.4 328.1,188.1 328.3,185.0 328.4,181.6 328.6,178.3 328.7,175.7 328.9,174.3 329.0,174.1 329.2,176.0 329.3,179.7 329.5,184.1 329.6,188.0 329.8,190.1 329.9,190.0 330.1,187.9 330.2,184.6 330.4,180.8 330.5,177.6 330.7,175.9 330.8,176.2 331.0,178.5 331.2,182.5 331.3,187.5 331.5,192.6 331.6,196.9 331.8,199.5 331.9,200.2 332.1,199.7 332.2,198.6 332.4,196.9 332.5,194.6 332.7,192.1 332.8,189.3 333.0,186.6 333.1,184.0 333.3,181.8 333.4,180.1 333.6,179.1 333.7,178.8 333.9,180.3 334.0,183.4 334.2,187.2 334.4,190.7 334.5,193.0 334.7,193.5 334.8,191.9 335.0,188.6 335.1,184.3 335.3,180.2 335.4,177.2 335.6,176.0 335.7,176.2 335.9,177.3 336.0,178.9 336.2,180.8 336.3,182.5 336.5,183.6 336.6,184.0 336.8,183.6 336.9,182.6 337.1,181.1 337.3,179.2 337.4,177.1 337.6,174.9 337.7,172.9 337.9,171.3 338.0,170.2 338.2,169.7 338.3,169.9 338.5,171.4 338.6,174.3 338.8,178.2 338.9,182.8 339.1,187.4 339.2,191.5 339.4,194.7 339.5,196.6 339.7,196.8 339.8,194.8 340.0,190.6 340.1,184.9 340.3,178.4 340.5,171.8 340.6,166.0 340.8,161.7 340.9,159.4 341.1,159.3 341.2,160.8 341.4,163.5 341.5,167.2 341.7,171.9 341.8,177.0 342.0,182.3 342.1,187.4 342.3,191.9 342.4,195.5 342.6,197.9 342.7,199.0 342.9,198.5 343.0,195.5 343.2,190.6 343.3,185.0 343.5,180.2 343.7,177.3 343.8,176.7 344.0,177.6 344.1,179.4 344.3,182.1 344.4,185.3 344.6,188.7 344.7,191.9 344.9,194.4 345.0,196.1 345.2,196.7 345.3,196.2 345.5,194.7 345.6,192.4 345.8,189.5 345.9,186.2 346.1,182.9 346.2,179.9 346.4,177.5 346.5,175.9 346.7,175.3 346.9,176.4 347.0,179.7 347.2,184.0 347.3,188.0 347.5,190.2 347.6,190.3 347.8,189.2 347.9,187.2 348.1,184.6 348.2,181.5 348.4,178.5 348.5,175.8 348.7,173.8 348.8,172.7 349.0,172.6 349.1,173.7 349.3,175.7 349.4,178.6 349.6,182.1 349.7,185.7 349.9,189.2 350.1,192.3 350.2,194.5 350.4,195.8 350.5,196.0 350.7,195.3 350.8,193.8 351.0,191.7 351.1,189.3 351.3,186.8 351.4,184.6 351.6,183.0 351.7,182.1 351.9,182.1 352.0,183.1 352.2,185.0 352.3,187.6 352.5,190.4 352.6,192.9 352.8,194.7 353.0,195.6 353.1,194.9 353.3,191.0 353.4,184.9 353.6,178.7 353.7,174.1 353.9,172.7 354.0,175.1 354.2,180.7 354.3,187.7 354.5,193.9 354.6,197.3 354.8,197.3 354.9,196.1 355.1,194.2 355.2,191.6 355.4,188.7 355.5,185.7 355.7,182.8 355.8,180.3 356.0,178.3 356.2,177.1 356.3,176.8 356.5,177.4 356.6,179.0 356.8,181.2 356.9,183.8 357.1,186.3 357.2,188.3 357.4,189.5 357.5,189.8 357.7,189.5 357.8,188.7 358.0,187.5 358.1,186.1 358.3,184.7 358.4,183.4 358.6,182.5 358.7,182.0 358.9,182.0 359.0,183.0 359.2,185.0 359.4,187.7 359.5,190.8 359.7,193.8 359.8,196.2 360.0,197.8 360.1,198.2 360.3,197.3 360.4,194.8 360.6,191.4 360.7,187.4 360.9,183.4 361.0,180.0 361.2,177.7 361.3,176.8 361.5,177.4 361.6,179.4 361.8,182.4 361.9,186.1 362.1,189.7 362.2,192.8 362.4,194.8 362.6,195.3 362.7,194.7 362.9,193.2 363.0,191.1 363.2,188.4 363.3,185.3 363.5,182.1 363.6,179.0 363.8,176.3 363.9,174.1 364.1,172.6 364.2,171.9 364.4,172.1 364.5,173.1 364.7,174.8 364.8,177.2 365.0,180.0 365.1,182.9 365.3,185.8 365.4,188.3 365.6,190.3 365.8,191.6 365.9,192.0 366.1,191.5 366.2,189.7 366.4,186.9 366.5,183.3 366.7,179.6 366.8,176.2 367.0,173.5 367.1,171.9 367.3,171.8 367.4,172.7 367.6,174.6 367.7,177.2 367.9,180.4 368.0,183.9 368.2,187.3 368.3,190.4 368.5,192.9 368.7,194.6 368.8,195.3 369.0,194.3 369.1,191.8 369.3,188.2 369.4,184.5 369.6,181.3 369.7,179.4 369.9,179.1 370.0,180.6 370.2,183.7 370.3,187.9 370.5,192.6 370.6,197.0 370.8,200.4 370.9,202.3 371.1,202.3 371.2,200.0 371.4,195.9 371.5,190.8 371.7,185.7 371.9,181.7 372.0,179.7 372.2,179.4 372.3,179.9 372.5,180.9 372.6,182.3 372.8,184.1 372.9,186.0 373.1,187.9 373.2,189.5 373.4,190.7 373.5,191.4 373.7,191.5 373.8,190.7 374.0,188.6 374.1,185.5 374.3,182.0 374.4,178.9 374.6,176.7 374.7,175.7 374.9,176.0 375.1,177.0 375.2,178.7 375.4,180.8 375.5,183.3 375.7,186.0 375.8,188.4 376.0,190.5 376.1,192.1 376.3,193.0 376.4,192.9 376.6,191.4 376.7,188.9 376.9,185.9 377.0,183.2 377.2,181.3 377.3,180.7 377.5,181.6 377.6,183.6 377.8,186.6 377.9,190.3 378.1,194.2 378.3,197.9 378.4,200.8 378.6,202.8 378.7,203.6 378.9,203.1 379.0,201.8 379.2,199.8 379.3,197.2 379.5,194.3 379.6,191.4 379.8,188.8 379.9,186.7 380.1,185.3 380.2,184.7 380.4,185.0 380.5,186.2 380.7,187.9 380.8,190.0 381.0,192.2 381.1,194.1 381.3,195.5 381.5,196.1 381.6,195.9 381.8,194.1 381.9,190.6 382.1,185.8 382.2,180.4 382.4,175.1 382.5,170.7 382.7,167.8 382.8,166.9 383.0,167.1 383.1,168.1 383.3,169.7 383.4,171.9 383.6,174.3 383.7,176.9 383.9,179.4 384.0,181.7 384.2,183.6 384.4,184.9 384.5,185.6 384.7,185.5 384.8,184.5 385.0,182.9 385.1,181.0 385.3,179.1 385.4,177.8 385.6,177.2 385.7,177.6 385.9,179.0 386.0,181.4 386.2,184.4 386.3,187.8 386.5,191.1 386.6,193.8 386.8,195.8 386.9,196.7 387.1,196.7 387.2,196.1 387.4,194.8 387.6,193.2 387.7,191.2 387.9,189.2 388.0,187.3 388.2,185.7 388.3,184.5 388.5,183.9 388.6,183.9 388.8,184.1 388.9,184.6 389.1,185.2 389.2,186.0 389.4,186.9 389.5,187.8 389.7,188.5 389.8,189.1 390.0,189.4 390.1,189.5 390.3,189.2 390.4,188.5 390.6,187.4 390.8,185.9 390.9,184.2 391.1,182.2 391.2,180.2 391.4,178.4 391.5,176.7 391.7,175.3 391.8,174.4 392.0,174.0 392.1,174.5 392.3,176.7 392.4,179.8 392.6,182.9 392.7,184.9 392.9,185.4 393.0,184.7 393.2,183.4 393.3,181.7 393.5,180.1 393.6,179.2 393.8,179.2 394.0,179.7 394.1,180.8 394.3,182.2 394.4,183.9 394.6,185.9 394.7,187.9 394.9,189.8 395.0,191.6 395.2,193.1 395.3,194.2 395.5,194.8 395.6,194.7 395.8,193.3 395.9,190.9 396.1,188.1 396.2,185.6 396.4,183.9 396.5,183.6 396.7,184.2 396.8,185.6 397.0,187.4 397.2,189.6 397.3,191.9 397.5,194.0 397.6,195.7 397.8,196.9 397.9,197.3 398.1,196.4 398.2,194.0 398.4,190.8 398.5,187.7 398.7,185.4 398.8,184.5 399.0,184.7 399.1,185.4 399.3,186.4 399.4,187.7 399.6,189.1 399.7,190.6 399.9,191.9 400.1,192.9 400.2,193.6 400.4,193.8 400.5,193.5 400.7,192.4 400.8,190.8 401.0,188.6 401.1,186.1 401.3,183.4 401.4,180.8 401.6,178.5 401.7,176.7 401.9,175.4 402.0,174.8 402.2,174.9 402.3,175.6 402.5,176.9 402.6,178.6 402.8,180.6 402.9,182.7 403.1,184.7 403.3,186.4 403.4,187.7 403.6,188.4 403.7,188.4 403.9,187.8 404.0,186.5 404.2,184.8 404.3,182.7 404.5,180.3 404.6,177.9 404.8,175.7 404.9,173.9 405.1,172.5 405.2,171.8 405.4,171.9 405.5,174.2 405.7,178.0 405.8,182.2 406.0,185.4 406.1,186.7 406.3,186.3 406.5,185.0 406.6,183.0 406.8,180.8 406.9,178.6 407.1,177.0 407.2,176.1 407.4,176.2 407.5,177.3 407.7,179.2 407.8,181.8 408.0,184.8 408.1,188.0 408.3,191.1 408.4,193.7 408.6,195.7 408.7,196.9 408.9,197.1 409.0,196.4 409.2,195.0 409.3,193.0 409.5,190.7 409.7,188.4 409.8,186.3 410.0,184.7 410.1,183.9 410.3,183.8 410.4,184.4 410.6,185.5 410.7,187.2 410.9,189.1 411.0,191.3 411.2,193.5 411.3,195.7 411.5,197.5 411.6,198.9 411.8,199.8 411.9,200.0 412.1,199.2 412.2,196.1 412.4,191.2 412.5,185.4 412.7,179.8 412.9,175.5 413.0,173.4 413.2,173.2 413.3,173.8 413.5,175.2 413.6,177.2 413.8,179.4 413.9,181.9 414.1,184.2 414.2,186.1 414.4,187.6 414.5,188.3 414.7,188.2 414.8,187.4 415.0,186.0 415.1,184.1 415.3,181.8 415.4,179.3 415.6,176.8 415.8,174.4 415.9,172.5 416.1,171.0 416.2,170.2 416.4,170.1 416.5,171.0 416.7,172.7 416.8,175.1 417.0,177.9 417.1,180.8 417.3,183.5 417.4,185.5 417.6,186.9 417.7,187.2 417.9,184.9 418.0,180.2 418.2,174.9 418.3,170.9 418.5,169.5 418.6,170.3 418.8,171.8 419.0,174.0 419.1,176.8 419.3,179.9 419.4,183.2 419.6,186.4 419.7,189.3 419.9,191.7 420.0,193.5 420.2,194.4 420.3,194.5 420.5,193.5 420.6,191.6 420.8,189.1 420.9,186.1 421.1,183.2 421.2,180.7 421.4,178.9 421.5,177.9 421.7,178.2 421.8,180.9 422.0,185.7 422.2,190.8 422.3,194.5 422.5,195.5 422.6,193.6 422.8,189.5 422.9,184.5 423.1,180.2 423.2,177.8 423.4,177.9 423.5,179.4 423.7,182.0 423.8,185.4 424.0,189.0 424.1,192.3 424.3,194.8 424.4,196.2 424.6,196.1 424.7,195.2 424.9,193.7 425.0,191.6 425.2,189.1 425.4,186.4 425.5,183.7 425.7,181.3 425.8,179.2 426.0,177.6 426.1,176.8 426.3,176.8 426.4,178.1 426.6,180.4 426.7,183.5 426.9,186.8 427.0,189.9 427.2,192.3 427.3,193.7 427.5,193.9 427.6,192.9 427.8,190.9 427.9,188.1 428.1,184.8 428.2,181.3 428.4,178.0 428.6,175.3 428.7,173.4 428.9,172.7 429.0,173.1 429.2,174.9 429.3,177.6 429.5,180.9 429.6,184.2 429.8,187.2 429.9,189.3 430.1,190.2 430.2,189.7 430.4,188.0 430.5,185.3 430.7,182.1 430.8,178.9 431.0,176.2 431.1,174.6 431.3,174.2 431.5,175.0 431.6,176.5 431.8,178.7 431.9,181.3 432.1,184.2 432.2,187.0 432.4,189.4 432.5,191.3 432.7,192.4 432.8,192.7 433.0,192.0 433.1,190.4 433.3,188.1 433.4,185.3 433.6,182.3 433.7,179.5 433.9,177.1 434.0,175.4 434.2,174.5 434.3,174.6 434.5,175.3 434.7,176.6 434.8,178.3 435.0,180.4 435.1,182.7 435.3,185.1 435.4,187.3 435.6,189.2 435.7,190.6 435.9,191.5 436.0,191.8 436.2,191.5 436.3,190.6 436.5,189.3 436.6,187.7 436.8,185.8 436.9,183.9 437.1,182.1 437.2,180.7 437.4,179.6 437.5,179.0 437.7,179.0 437.9,179.6 438.0,180.8 438.2,182.4 438.3,184.1 438.5,185.8 438.6,187.1 438.8,187.9 438.9,188.0 439.1,187.5 439.2,186.5 439.4,185.0 439.5,183.1 439.7,180.9 439.8,178.6 440.0,176.3 440.1,174.2 440.3,172.5 440.4,171.1 440.6,170.3 440.7,170.0 440.9,170.3 441.1,171.2 441.2,172.6 441.4,174.4 441.5,176.4 441.7,178.5 441.8,180.6 442.0,182.4 442.1,183.8 442.3,184.7 442.4,185.0 442.6,184.6 442.7,183.2 442.9,181.1 443.0,178.7 443.2,176.3 443.3,174.4 443.5,173.4 443.6,173.4 443.8,174.8 443.9,177.4 444.1,180.9 444.3,184.9 444.4,188.7 444.6,192.0 444.7,194.3 444.9,195.3 445.0,194.9 445.2,193.3 445.3,190.7 445.5,187.4 445.6,183.9 445.8,180.5 445.9,177.7 446.1,175.9 446.2,175.2 446.4,176.3 446.5,180.1 446.7,185.4 446.8,190.6 447.0,193.9 447.2,194.4 447.3,192.5 447.5,189.0 447.6,184.6 447.8,180.7 447.9,178.3 448.1,177.9 448.2,178.7 448.4,180.3 448.5,182.6 448.7,185.4 448.8,188.5 449.0,191.6 449.1,194.4 449.3,196.7 449.4,198.4 449.6,199.2 449.7,199.0 449.9,196.7 450.0,192.5 450.2,187.4 450.4,182.5 450.5,178.9 450.7,177.5 450.8,177.8 451.0,179.2 451.1,181.6 451.3,184.6 451.4,187.8 451.6,191.0 451.7,193.6 451.9,195.3 452.0,196.0 452.2,195.4 452.3,193.4 452.5,190.2 452.6,186.2 452.8,182.0 452.9,178.1 453.1,175.3 453.2,173.7 453.4,173.6 453.6,174.3 453.7,175.8 453.9,177.9 454.0,180.6 454.2,183.5 454.3,186.5 454.5,189.4 454.6,191.9 454.8,193.9 454.9,195.2 455.1,195.8 455.2,195.6 455.4,194.9 455.5,193.7 455.7,192.1 455.8,190.3 456.0,188.3 456.1,186.4 456.3,184.7 456.4,183.5 456.6,182.7 456.8,182.5 456.9,182.9 457.1,183.8 457.2,184.9 457.4,186.3 457.5,187.9 457.7,189.4 457.8,190.9 458.0,192.1 458.1,192.9 458.3,193.2 458.4,193.0 458.6,191.4 458.7,188.7 458.9,185.4 459.0,182.2 459.2,179.6 459.3,178.1 459.5,177.7 459.6,178.2 459.8,179.4 460.0,181.3 460.1,183.5 460.3,185.9 460.4,188.3 460.6,190.3 460.7,191.9 460.9,192.8 461.0,192.9 461.2,191.9 461.3,189.0 461.5,184.7 461.6,179.7 461.8,174.8 461.9,170.7 462.1,168.2 462.2,167.5 462.4,168.3 462.5,170.1 462.7,172.6 462.9,175.6 463.0,178.7 463.2,181.4 463.3,183.3 463.5,184.4 463.6,184.5 463.8,184.3 463.9,183.5 464.1,182.5 464.2,181.3 464.4,180.0 464.5,178.8 464.7,177.8 464.8,177.1 465.0,176.8 465.1,177.1 465.3,178.3 465.4,180.6 465.6,183.6 465.7,186.8 465.9,189.5 466.1,191.2 466.2,191.7 466.4,191.2 466.5,189.8 466.7,187.8 466.8,185.3 467.0,182.8 467.1,180.5 467.3,178.8 467.4,177.9 467.6,177.8 467.7,178.5 467.9,179.9 468.0,181.9 468.2,184.2 468.3,186.9 468.5,189.6 468.6,192.1 468.8,194.3 468.9,196.1 469.1,197.1 469.3,197.5 469.4,197.0 469.6,195.4 469.7,193.0 469.9,189.9 470.0,186.4 470.2,182.8 470.3,179.4 470.5,176.7 470.6,174.8 470.8,173.9 470.9,174.6 471.1,177.6 471.2,182.1 471.4,186.9 471.5,190.7 471.7,192.6 471.8,192.1 472.0,189.8 472.1,186.2 472.3,182.0 472.5,178.1 472.6,175.3 472.8,174.2 472.9,174.6 473.1,175.6 473.2,177.3 473.4,179.4 473.5,181.9 473.7,184.5 473.8,187.1 474.0,189.5 474.1,191.5 474.3,193.0 474.4,193.9 474.6,193.9 474.7,192.1 474.9,188.7 475.0,184.5 475.2,180.3 475.3,177.1 475.5,175.6 475.7,176.1 475.8,178.3 476.0,182.0 476.1,186.5 476.3,191.2 476.4,195.2 476.6,197.9 476.7,198.9 476.9,198.0 477.0,195.5 477.2,191.9 477.3,187.7 477.5,183.7 477.6,180.6 477.8,178.9 477.9,178.9 478.1,180.1 478.2,182.2 478.4,184.8 478.6,187.6 478.7,190.0 478.9,191.8 479.0,192.6 479.2,192.2 479.3,190.1 479.5,187.2 479.6,184.4 479.8,182.7 479.9,182.4 480.1,182.7 480.2,183.5 480.4,184.7 480.5,186.2 480.7,187.8 480.8,189.5 481.0,191.0 481.1,192.2 481.3,193.0 481.4,193.4 481.6,193.2 481.8,192.4 481.9,190.9 482.1,188.8 482.2,186.3 482.4,183.6 482.5,180.9 482.7,178.4 482.8,176.3 483.0,174.8 483.1,174.0 483.3,173.9 483.4,174.8 483.6,176.4 483.7,178.7 483.9,181.3 484.0,175.7 484.2,176.0 484.3,176.6 484.5,177.2 484.6,177.9 484.8,178.7 485.0,179.3 485.1,179.9 485.3,180.2 485.4,180.3 485.6,180.0 485.7,179.3 485.9,178.1 486.0,176.5 486.2,174.7 486.3,172.8 486.5,170.8 486.6,169.0 486.8,167.5 486.9,166.3 487.1,165.5 487.2,165.3 487.4,165.5 487.5,166.2 487.7,167.4 487.8,169.1 488.0,171.0 488.2,173.3 488.3,175.8 488.5,178.5 488.6,181.2 488.8,183.8 488.9,186.3 489.1,188.6 489.2,190.6 489.4,192.2 489.5,193.4 489.7,194.2 489.8,194.4 490.0,194.2 490.1,193.5 490.3,192.5 490.4,191.3 490.6,190.0 490.7,188.8 490.9,187.8 491.0,187.1 491.2,186.9 491.4,187.0 491.5,187.3 491.7,187.9 491.8,188.7 492.0,189.6 492.1,190.7 492.3,191.8 492.4,193.0 492.6,194.2 492.7,195.3 492.9,196.4 493.0,197.3 493.2,198.1 493.3,198.6 493.5,199.0 493.6,199.1 493.8,198.8 493.9,197.8 494.1,196.2 494.3,194.1 494.4,191.6 494.6,188.7 494.7,185.5 494.9,182.2 495.0,178.9 495.2,175.7 495.3,172.8 495.5,170.2 495.6,168.1 495.8,166.5 495.9,165.6 496.1,165.3 496.2,165.7 496.4,167.0 496.5,169.0 496.7,171.8 496.8,175.0 497.0,178.5 497.1,182.1 497.3,185.6 497.5,188.8 497.6,191.6 497.8,193.6 497.9,194.9 498.1,195.3 498.2,195.0 498.4,194.2 498.5,192.7 498.7,190.8 498.8,188.5 499.0,185.9 499.1,183.1 499.3,180.3 499.4,177.5 499.6,174.9 499.7,172.6 499.9,170.7 500.0,169.3 500.2,168.4 500.3,168.1 500.5,168.4 500.7,169.2 500.8,170.6 501.0,172.3 501.1,174.4 501.3,176.5 501.4,178.7 501.6,180.8 501.7,182.5 501.9,183.9 502.0,184.7 502.2,185.0" fill="none" stroke="#e0571c" stroke-width="1.4" stroke-linejoin="round" stroke-dasharray="2.6,0.75,1.1,0.75" clip-path="url(#cA3)"/>
<line x1="485.26" y1="232.00" x2="485.26" y2="138.00" stroke="#2a2a2a" stroke-width="1.5" stroke-dasharray="3.3,3.45"/>
<line x1="430.76" y1="220.40" x2="484.76" y2="220.40" stroke="#9a9a9a" stroke-width="1.5"/>
<path d="M430.76,220.40 l5,-1.8 l-0.8,1.8 l0.8,1.8 z" fill="#1a1a1a"/>
<text x="427.26" y="223.30" text-anchor="end" font-size="8.1">Reconstructed part</text>
<g stroke="#a3a3a3" stroke-width="1.6"><rect x="296.40" y="138.00" width="204.10" height="94.00" fill="none"/><line x1="296.40" y1="232.00" x2="296.40" y2="229.80"/><line x1="296.40" y1="138.00" x2="296.40" y2="140.20"/><line x1="326.89" y1="232.00" x2="326.89" y2="229.80"/><line x1="326.89" y1="138.00" x2="326.89" y2="140.20"/><line x1="357.37" y1="232.00" x2="357.37" y2="229.80"/><line x1="357.37" y1="138.00" x2="357.37" y2="140.20"/><line x1="387.86" y1="232.00" x2="387.86" y2="229.80"/><line x1="387.86" y1="138.00" x2="387.86" y2="140.20"/><line x1="418.34" y1="232.00" x2="418.34" y2="229.80"/><line x1="418.34" y1="138.00" x2="418.34" y2="140.20"/><line x1="448.83" y1="232.00" x2="448.83" y2="229.80"/><line x1="448.83" y1="138.00" x2="448.83" y2="140.20"/><line x1="479.31" y1="232.00" x2="479.31" y2="229.80"/><line x1="479.31" y1="138.00" x2="479.31" y2="140.20"/><line x1="296.40" y1="232.00" x2="298.60" y2="232.00"/><line x1="500.50" y1="232.00" x2="498.30" y2="232.00"/><line x1="296.40" y1="185.00" x2="298.60" y2="185.00"/><line x1="500.50" y1="185.00" x2="498.30" y2="185.00"/><line x1="296.40" y1="138.00" x2="298.60" y2="138.00"/><line x1="500.50" y1="138.00" x2="498.30" y2="138.00"/></g>
<g font-family="Liberation Sans, Arial, sans-serif" font-weight="bold" font-size="7.9" fill="#333333"><text x="296.10" y="242.90" text-anchor="middle">48</text><text x="326.59" y="242.90" text-anchor="middle">50</text><text x="357.07" y="242.90" text-anchor="middle">52</text><text x="387.56" y="242.90" text-anchor="middle">54</text><text x="418.04" y="242.90" text-anchor="middle">56</text><text x="448.53" y="242.90" text-anchor="middle">58</text><text x="479.01" y="242.90" text-anchor="middle">60</text><text x="293.10" y="234.60" text-anchor="end">-0.5</text><text x="293.10" y="187.60" text-anchor="end">0</text><text x="293.10" y="140.60" text-anchor="end">0.5</text></g>
<text x="398.45" y="254.80" text-anchor="middle" font-size="9.0">Time (s)</text>
<text transform="translate(275.8,185.00) rotate(-90)" text-anchor="middle" font-size="8.9">Amplitude (gal)</text>
<clipPath id="cB1"><rect x="27.60" y="279.00" width="473.30" height="92.40"/></clipPath>
<g stroke="#f5f5f5" stroke-width="0.8"><line x1="27.60" y1="279.00" x2="27.60" y2="371.40"/><line x1="36.66" y1="279.00" x2="36.66" y2="371.40"/><line x1="45.72" y1="279.00" x2="45.72" y2="371.40"/><line x1="54.78" y1="279.00" x2="54.78" y2="371.40"/><line x1="63.83" y1="279.00" x2="63.83" y2="371.40"/><line x1="72.89" y1="279.00" x2="72.89" y2="371.40"/><line x1="81.95" y1="279.00" x2="81.95" y2="371.40"/><line x1="91.01" y1="279.00" x2="91.01" y2="371.40"/><line x1="100.07" y1="279.00" x2="100.07" y2="371.40"/><line x1="109.13" y1="279.00" x2="109.13" y2="371.40"/><line x1="118.18" y1="279.00" x2="118.18" y2="371.40"/><line x1="127.24" y1="279.00" x2="127.24" y2="371.40"/><line x1="136.30" y1="279.00" x2="136.30" y2="371.40"/><line x1="145.36" y1="279.00" x2="145.36" y2="371.40"/><line x1="154.42" y1="279.00" x2="154.42" y2="371.40"/><line x1="163.48" y1="279.00" x2="163.48" y2="371.40"/><line x1="172.53" y1="279.00" x2="172.53" y2="371.40"/><line x1="181.59" y1="279.00" x2="181.59" y2="371.40"/><line x1="190.65" y1="279.00" x2="190.65" y2="371.40"/><line x1="199.71" y1="279.00" x2="199.71" y2="371.40"/><line x1="208.77" y1="279.00" x2="208.77" y2="371.40"/><line x1="217.83" y1="279.00" x2="217.83" y2="371.40"/><line x1="226.88" y1="279.00" x2="226.88" y2="371.40"/><line x1="235.94" y1="279.00" x2="235.94" y2="371.40"/><line x1="245.00" y1="279.00" x2="245.00" y2="371.40"/><line x1="254.06" y1="279.00" x2="254.06" y2="371.40"/><line x1="263.12" y1="279.00" x2="263.12" y2="371.40"/><line x1="272.18" y1="279.00" x2="272.18" y2="371.40"/><line x1="281.23" y1="279.00" x2="281.23" y2="371.40"/><line x1="290.29" y1="279.00" x2="290.29" y2="371.40"/><line x1="299.35" y1="279.00" x2="299.35" y2="371.40"/><line x1="308.41" y1="279.00" x2="308.41" y2="371.40"/><line x1="317.47" y1="279.00" x2="317.47" y2="371.40"/><line x1="326.53" y1="279.00" x2="326.53" y2="371.40"/><line x1="335.58" y1="279.00" x2="335.58" y2="371.40"/><line x1="344.64" y1="279.00" x2="344.64" y2="371.40"/><line x1="353.70" y1="279.00" x2="353.70" y2="371.40"/><line x1="362.76" y1="279.00" x2="362.76" y2="371.40"/><line x1="371.82" y1="279.00" x2="371.82" y2="371.40"/><line x1="380.88" y1="279.00" x2="380.88" y2="371.40"/><line x1="389.93" y1="279.00" x2="389.93" y2="371.40"/><line x1="398.99" y1="279.00" x2="398.99" y2="371.40"/><line x1="408.05" y1="279.00" x2="408.05" y2="371.40"/><line x1="417.11" y1="279.00" x2="417.11" y2="371.40"/><line x1="426.17" y1="279.00" x2="426.17" y2="371.40"/><line x1="435.23" y1="279.00" x2="435.23" y2="371.40"/><line x1="444.29" y1="279.00" x2="444.29" y2="371.40"/><line x1="453.34" y1="279.00" x2="453.34" y2="371.40"/><line x1="462.40" y1="279.00" x2="462.40" y2="371.40"/><line x1="471.46" y1="279.00" x2="471.46" y2="371.40"/><line x1="480.52" y1="279.00" x2="480.52" y2="371.40"/><line x1="489.58" y1="279.00" x2="489.58" y2="371.40"/><line x1="498.64" y1="279.00" x2="498.64" y2="371.40"/><line x1="27.60" y1="371.40" x2="500.90" y2="371.40"/><line x1="27.60" y1="368.32" x2="500.90" y2="368.32"/><line x1="27.60" y1="365.24" x2="500.90" y2="365.24"/><line x1="27.60" y1="362.16" x2="500.90" y2="362.16"/><line x1="27.60" y1="359.08" x2="500.90" y2="359.08"/><line x1="27.60" y1="356.00" x2="500.90" y2="356.00"/><line x1="27.60" y1="352.92" x2="500.90" y2="352.92"/><line x1="27.60" y1="349.84" x2="500.90" y2="349.84"/><line x1="27.60" y1="346.76" x2="500.90" y2="346.76"/><line x1="27.60" y1="343.68" x2="500.90" y2="343.68"/><line x1="27.60" y1="340.60" x2="500.90" y2="340.60"/><line x1="27.60" y1="337.52" x2="500.90" y2="337.52"/><line x1="27.60" y1="334.44" x2="500.90" y2="334.44"/><line x1="27.60" y1="331.36" x2="500.90" y2="331.36"/><line x1="27.60" y1="328.28" x2="500.90" y2="328.28"/><line x1="27.60" y1="325.20" x2="500.90" y2="325.20"/><line x1="27.60" y1="322.12" x2="500.90" y2="322.12"/><line x1="27.60" y1="319.04" x2="500.90" y2="319.04"/><line x1="27.60" y1="315.96" x2="500.90" y2="315.96"/><line x1="27.60" y1="312.88" x2="500.90" y2="312.88"/><line x1="27.60" y1="309.80" x2="500.90" y2="309.80"/><line x1="27.60" y1="306.72" x2="500.90" y2="306.72"/><line x1="27.60" y1="303.64" x2="500.90" y2="303.64"/><line x1="27.60" y1="300.56" x2="500.90" y2="300.56"/><line x1="27.60" y1="297.48" x2="500.90" y2="297.48"/><line x1="27.60" y1="294.40" x2="500.90" y2="294.40"/><line x1="27.60" y1="291.32" x2="500.90" y2="291.32"/><line x1="27.60" y1="288.24" x2="500.90" y2="288.24"/><line x1="27.60" y1="285.16" x2="500.90" y2="285.16"/><line x1="27.60" y1="282.08" x2="500.90" y2="282.08"/><line x1="27.60" y1="279.00" x2="500.90" y2="279.00"/></g>
<g stroke="#eeeeee" stroke-width="0.8"><line x1="27.60" y1="279.00" x2="27.60" y2="371.40"/><line x1="72.89" y1="279.00" x2="72.89" y2="371.40"/><line x1="118.18" y1="279.00" x2="118.18" y2="371.40"/><line x1="163.48" y1="279.00" x2="163.48" y2="371.40"/><line x1="208.77" y1="279.00" x2="208.77" y2="371.40"/><line x1="254.06" y1="279.00" x2="254.06" y2="371.40"/><line x1="299.35" y1="279.00" x2="299.35" y2="371.40"/><line x1="344.64" y1="279.00" x2="344.64" y2="371.40"/><line x1="389.93" y1="279.00" x2="389.93" y2="371.40"/><line x1="435.23" y1="279.00" x2="435.23" y2="371.40"/><line x1="480.52" y1="279.00" x2="480.52" y2="371.40"/><line x1="27.60" y1="371.40" x2="500.90" y2="371.40"/><line x1="27.60" y1="356.00" x2="500.90" y2="356.00"/><line x1="27.60" y1="340.60" x2="500.90" y2="340.60"/><line x1="27.60" y1="325.20" x2="500.90" y2="325.20"/><line x1="27.60" y1="309.80" x2="500.90" y2="309.80"/><line x1="27.60" y1="294.40" x2="500.90" y2="294.40"/><line x1="27.60" y1="279.00" x2="500.90" y2="279.00"/></g>
<polyline points="27.6,322.9 27.8,323.5 28.0,324.8 28.1,326.1 28.3,326.4 28.5,325.6 28.7,324.4 28.9,323.3 29.0,323.2 29.2,324.7 29.4,326.5 29.6,326.8 29.8,325.8 30.0,324.4 30.1,323.7 30.3,324.3 30.5,325.8 30.7,327.0 30.9,327.1 31.0,326.2 31.2,324.8 31.4,323.8 31.6,323.9 31.8,325.3 31.9,326.7 32.1,326.9 32.3,326.0 32.5,324.5 32.7,323.3 32.9,323.0 33.0,325.1 33.2,327.2 33.4,326.5 33.6,324.5 33.8,323.8 33.9,324.8 34.1,326.3 34.3,327.3 34.5,326.3 34.7,323.8 34.8,323.0 35.0,324.5 35.2,326.7 35.4,327.3 35.6,326.6 35.8,325.3 35.9,324.1 36.1,323.9 36.3,325.5 36.5,327.3 36.7,326.8 36.8,324.3 37.0,323.1 37.2,323.6 37.4,324.7 37.6,325.8 37.7,326.4 37.9,326.0 38.1,324.8 38.3,323.8 38.5,323.8 38.7,325.0 38.8,326.6 39.0,327.4 39.2,326.8 39.4,324.8 39.6,323.7 39.7,324.6 39.9,326.6 40.1,327.4 40.3,326.5 40.5,324.7 40.6,323.2 40.8,323.1 41.0,324.6 41.2,326.6 41.4,327.5 41.5,325.9 41.7,323.3 41.9,323.2 42.1,324.9 42.3,326.6 42.5,326.7 42.6,325.7 42.8,324.2 43.0,323.2 43.2,323.6 43.4,325.8 43.5,326.6 43.7,326.1 43.9,325.1 44.1,324.2 44.3,324.0 44.4,324.6 44.6,325.7 44.8,326.6 45.0,326.5 45.2,324.9 45.4,323.3 45.5,323.0 45.7,324.0 45.9,325.3 46.1,326.3 46.3,326.3 46.4,325.6 46.6,324.7 46.8,324.1 47.0,324.2 47.2,325.3 47.3,326.6 47.5,327.1 47.7,325.3 47.9,323.0 48.1,323.1 48.3,324.8 48.4,326.9 48.6,327.7 48.8,326.8 49.0,324.9 49.2,323.4 49.3,323.4 49.5,325.4 49.7,326.9 49.9,326.4 50.1,325.2 50.2,324.1 50.4,324.3 50.6,326.1 50.8,327.3 51.0,326.5 51.2,324.9 51.3,323.6 51.5,323.6 51.7,324.6 51.9,326.0 52.1,327.0 52.2,326.9 52.4,325.8 52.6,324.5 52.8,323.8 53.0,324.4 53.1,325.8 53.3,327.3 53.5,327.7 53.7,326.6 53.9,324.8 54.1,323.5 54.2,323.6 54.4,324.7 54.6,325.9 54.8,326.5 55.0,326.0 55.1,324.8 55.3,323.7 55.5,323.3 55.7,324.4 55.9,326.3 56.0,327.1 56.2,325.9 56.4,324.1 56.6,323.8 56.8,324.7 56.9,326.0 57.1,326.9 57.3,326.7 57.5,325.4 57.7,323.7 57.9,322.7 58.0,323.0 58.2,324.4 58.4,326.0 58.6,326.7 58.8,326.2 58.9,325.0 59.1,323.8 59.3,323.3 59.5,323.9 59.7,325.2 59.8,326.3 60.0,326.5 60.2,325.0 60.4,323.3 60.6,323.2 60.8,324.4 60.9,325.9 61.1,326.5 61.3,325.9 61.5,324.4 61.7,323.0 61.8,322.6 62.0,324.0 62.2,326.2 62.4,327.1 62.6,326.3 62.7,324.8 62.9,323.7 63.1,324.0 63.3,325.8 63.5,327.3 63.7,327.1 63.8,324.9 64.0,323.5 64.2,324.0 64.4,325.4 64.6,327.0 64.7,327.9 64.9,326.8 65.1,323.7 65.3,322.6 65.5,324.7 65.6,327.0 65.8,326.6 66.0,324.7 66.2,323.7 66.4,324.4 66.6,325.8 66.7,326.8 66.9,326.6 67.1,325.5 67.3,324.2 67.5,323.7 67.6,324.4 67.8,326.0 68.0,327.4 68.2,327.6 68.4,326.1 68.5,323.9 68.7,323.0 68.9,323.8 69.1,325.6 69.3,327.2 69.4,327.6 69.6,325.6 69.8,323.0 70.0,322.7 70.2,325.0 70.4,327.6 70.5,328.1 70.7,326.4 70.9,323.5 71.1,321.3 71.3,321.2 71.4,324.7 71.6,328.1 71.8,327.5 72.0,323.7 72.2,322.1 72.3,323.7 72.5,326.6 72.7,329.2 72.9,329.9 73.1,327.5 73.3,323.3 73.4,320.3 73.6,320.6 73.8,323.3 74.0,326.7 74.2,328.6 74.3,327.0 74.5,321.9 74.7,320.1 74.9,325.4 75.1,330.5 75.2,328.1 75.4,321.6 75.6,318.0 75.8,323.3 76.0,333.5 76.2,335.9 76.3,328.9 76.5,318.7 76.7,313.5 76.9,318.0 77.1,328.8 77.2,335.3 77.4,331.6 77.6,322.0 77.8,316.1 78.0,318.5 78.1,325.9 78.3,333.3 78.5,336.0 78.7,328.1 78.9,316.4 79.1,314.4 79.2,320.0 79.4,328.6 79.6,334.7 79.8,334.6 80.0,328.5 80.1,319.8 80.3,313.2 80.5,312.9 80.7,324.8 80.9,336.9 81.0,336.2 81.2,327.1 81.4,316.7 81.6,312.8 81.8,319.6 82.0,330.4 82.1,332.1 82.3,320.1 82.5,308.7 82.7,311.5 82.9,325.1 83.0,338.1 83.2,340.4 83.4,333.4 83.6,322.0 83.8,312.3 83.9,309.6 84.1,316.7 84.3,329.1 84.5,337.3 84.7,331.8 84.8,313.5 85.0,309.9 85.2,320.9 85.4,334.4 85.6,337.4 85.8,315.5 85.9,295.6 86.1,305.0 86.3,329.4 86.5,340.5 86.7,335.4 86.8,325.0 87.0,316.4 87.2,315.3 87.4,322.5 87.6,332.8 87.7,338.4 87.9,334.7 88.1,323.3 88.3,312.5 88.5,310.8 88.7,326.9 88.8,338.4 89.0,332.5 89.2,319.8 89.4,311.2 89.6,315.0 89.7,330.1 89.9,341.8 90.1,341.3 90.3,336.4 90.5,332.0 90.6,333.3 90.8,339.1 91.0,326.0 91.2,299.8 91.4,286.7 91.6,305.3 91.7,342.5 91.9,361.1 92.1,350.2 92.3,325.6 92.5,305.9 92.6,305.5 92.8,322.5 93.0,343.8 93.2,353.2 93.4,348.6 93.5,336.6 93.7,322.3 93.9,311.7 94.1,309.4 94.3,317.6 94.5,329.9 94.6,335.7 94.8,328.4 95.0,315.0 95.2,311.0 95.4,316.6 95.5,326.6 95.7,335.1 95.9,337.2 96.1,333.1 96.3,326.2 96.4,321.0 96.6,321.1 96.8,327.1 97.0,335.1 97.2,339.8 97.3,337.9 97.5,329.5 97.7,318.7 97.9,310.4 98.1,308.6 98.3,316.6 98.4,328.4 98.6,334.0 98.8,331.6 99.0,325.5 99.2,318.5 99.3,314.0 99.5,315.4 99.7,328.4 99.9,341.4 100.1,341.4 100.2,328.4 100.4,315.4 100.6,314.2 100.8,320.2 101.0,328.8 101.2,334.8 101.3,334.4 101.5,325.8 101.7,317.3 101.9,317.8 102.1,326.9 102.2,327.8 102.4,322.4 102.6,320.5 102.8,325.4 103.0,330.3 103.1,327.3 103.3,322.1 103.5,326.6 103.7,334.9 103.9,337.4 104.1,334.2 104.2,330.4 104.4,329.0 104.6,323.5 104.8,317.3 105.0,315.9 105.1,323.6 105.3,334.2 105.5,337.0 105.7,329.4 105.9,317.2 106.0,309.5 106.2,311.1 106.4,317.8 106.6,324.6 106.8,325.5 107.0,317.0 107.1,319.6 107.3,326.5 107.5,335.2 107.7,342.8 107.9,346.6 108.0,342.0 108.2,327.4 108.4,319.3 108.6,323.0 108.8,330.4 108.9,334.1 109.1,330.1 109.3,320.4 109.5,310.7 109.7,306.7 109.9,314.9 110.0,325.8 110.2,322.7 110.4,313.2 110.6,312.2 110.8,317.7 110.9,326.3 111.1,334.5 111.3,338.7 111.5,337.3 111.7,332.0 111.8,328.2 112.0,330.3 112.2,336.3 112.4,336.5 112.6,330.6 112.7,322.2 112.9,316.3 113.1,316.6 113.3,322.4 113.5,324.6 113.7,320.5 113.8,313.5 114.0,308.4 114.2,308.8 114.4,316.8 114.6,328.2 114.7,336.2 114.9,336.6 115.1,331.0 115.3,324.0 115.5,320.9 115.6,328.0 115.8,337.6 116.0,336.7 116.2,330.9 116.4,323.0 116.6,316.4 116.7,313.8 116.9,316.3 117.1,319.6 117.3,318.7 117.5,316.0 117.6,316.0 117.8,319.7 118.0,325.6 118.2,331.1 118.4,334.0 118.5,333.3 118.7,330.3 118.9,327.3 119.1,326.7 119.3,331.0 119.5,334.1 119.6,333.2 119.8,330.8 120.0,327.2 120.2,323.2 120.4,319.6 120.5,317.2 120.7,316.3 120.9,318.0 121.1,320.4 121.3,319.4 121.4,317.5 121.6,319.7 121.8,325.0 122.0,330.8 122.2,334.0 122.4,333.1 122.5,331.4 122.7,335.0 122.9,337.3 123.1,336.3 123.3,333.9 123.4,330.5 123.6,326.3 123.8,321.9 124.0,317.7 124.2,314.0 124.3,311.4 124.5,310.0 124.7,310.6 124.9,316.3 125.1,325.2 125.2,333.7 125.4,338.1 125.6,338.4 125.8,339.0 126.0,339.7 126.2,340.4 126.3,340.6 126.5,337.4 126.7,329.0 126.9,319.0 127.1,311.7 127.2,310.0 127.4,314.1 127.6,319.0 127.8,319.3 128.0,316.1 128.1,314.1 128.3,316.6 128.5,323.3 128.7,331.4 128.9,338.1 129.1,340.6 129.2,339.4 129.4,336.3 129.6,332.5 129.8,329.5 130.0,328.3 130.1,325.9 130.3,319.9 130.5,312.6 130.7,307.3 130.9,306.2 131.0,312.1 131.2,322.2 131.4,329.7 131.6,328.7 131.8,316.5 132.0,309.0 132.1,315.4 132.3,330.3 132.5,343.9 132.7,347.2 132.9,340.8 133.0,330.0 133.2,321.9 133.4,321.5 133.6,326.2 133.8,329.1 133.9,326.1 134.1,318.8 134.3,311.0 134.5,306.8 134.7,308.2 134.9,314.8 135.0,323.6 135.2,331.1 135.4,334.0 135.6,329.7 135.8,322.7 135.9,322.8 136.1,331.4 136.3,341.2 136.5,343.7 136.7,336.5 136.8,324.4 137.0,315.4 137.2,314.7 137.4,318.7 137.6,322.6 137.7,322.9 137.9,320.4 138.1,316.8 138.3,313.9 138.5,313.3 138.7,316.7 138.8,323.4 139.0,330.8 139.2,336.0 139.4,337.3 139.6,336.4 139.7,334.3 139.9,331.3 140.1,327.8 140.3,324.4 140.5,321.4 140.6,319.3 140.8,318.3 141.0,318.7 141.2,319.6 141.4,319.7 141.6,319.1 141.7,318.7 141.9,321.9 142.1,328.3 142.3,331.5 142.5,330.3 142.6,327.5 142.8,325.2 143.0,325.3 143.2,327.6 143.4,329.1 143.5,328.2 143.7,325.9 143.9,323.0 144.1,320.7 144.3,319.8 144.5,320.3 144.6,321.4 144.8,322.8 145.0,324.0 145.2,324.4 145.4,325.6 145.5,327.3 145.7,326.4 145.9,324.7 146.1,321.3 146.3,321.9 146.4,324.0 146.6,323.4 146.8,323.9 147.0,327.0 147.2,329.9 147.4,330.1 147.5,327.5 147.7,327.1 147.9,327.3 148.1,326.6 148.3,323.6 148.4,320.5 148.6,321.3 148.8,323.4 149.0,321.6 149.2,322.5 149.3,326.6 149.5,328.9 149.7,327.6 149.9,328.2 150.1,329.5 150.3,329.7 150.4,327.9 150.6,325.1 150.8,323.2 151.0,324.1 151.2,323.5 151.3,320.9 151.5,321.3 151.7,324.3 151.9,325.4 152.1,325.0 152.2,326.3 152.4,328.6 152.6,329.6 152.8,328.6 153.0,327.3 153.1,327.1 153.3,327.0 153.5,325.3 153.7,323.4 153.9,322.8 154.1,323.1 154.2,323.5 154.4,323.1 154.6,323.0 154.8,324.7 155.0,326.9 155.1,327.5 155.3,327.4 155.5,327.1 155.7,327.7 155.9,328.2 156.0,327.0 156.2,325.1 156.4,324.3 156.6,324.6 156.8,323.6 157.0,322.3 157.1,322.3 157.3,323.8 157.5,325.4 157.7,326.2 157.9,326.4 158.0,327.5 158.2,328.9 158.4,329.4 158.6,328.4 158.8,326.8 158.9,325.7 159.1,325.0 159.3,324.3 159.5,323.1 159.7,321.9 159.9,322.1 160.0,323.3 160.2,324.0 160.4,324.4 160.6,325.2 160.8,326.8 160.9,328.3 161.1,328.4 161.3,327.4 161.5,326.3 161.7,326.2 161.8,325.4 162.0,322.9 162.2,322.2 162.4,323.4 162.6,323.8 162.8,323.3 162.9,324.1 163.1,325.6 163.3,327.0 163.5,327.3 163.7,326.6 163.8,326.8 164.0,327.6 164.2,326.3 164.4,324.3 164.6,324.0 164.7,324.0 164.9,322.4 165.1,321.9 165.3,323.4 165.5,324.4 165.6,324.7 165.8,326.3 166.0,327.7 166.2,327.5 166.4,327.1 166.6,327.7 166.7,327.2 166.9,325.4 167.1,323.5 167.3,322.7 167.5,322.9 167.6,323.0 167.8,322.2 168.0,322.4 168.2,324.1 168.4,326.0 168.5,326.7 168.7,327.2 168.9,328.6 169.1,329.0 169.3,327.2 169.5,325.7 169.6,325.8 169.8,325.3 170.0,323.5 170.2,322.0 170.4,321.8 170.5,322.8 170.7,324.0 170.9,324.8 171.1,325.4 171.3,326.5 171.4,327.9 171.6,328.7 171.8,327.9 172.0,326.4 172.2,325.4 172.4,324.8 172.5,323.8 172.7,322.7 172.9,322.2 173.1,322.8 173.3,324.0 173.4,324.4 173.6,324.7 173.8,326.1 174.0,327.8 174.2,328.6 174.3,328.0 174.5,327.1 174.7,326.5 174.9,325.9 175.1,324.8 175.3,323.1 175.4,321.8 175.6,321.7 175.8,323.0 176.0,324.0 176.2,324.5 176.3,324.9 176.5,326.0 176.7,327.8 176.9,329.0 177.1,328.7 177.2,327.6 177.4,326.4 177.6,325.6 177.8,324.8 178.0,323.9 178.2,322.9 178.3,322.2 178.5,322.7 178.7,325.0 178.9,325.6 179.1,325.5 179.2,326.5 179.4,327.6 179.6,327.5 179.8,326.8 180.0,326.4 180.1,326.3 180.3,325.3 180.5,323.6 180.7,323.0 180.9,323.2 181.0,323.4 181.2,323.1 181.4,323.3 181.6,324.7 181.8,326.4 182.0,327.1 182.1,326.9 182.3,327.5 182.5,327.9 182.7,326.6 182.9,325.4 183.0,325.1 183.2,324.3 183.4,322.9 183.6,321.8 183.8,321.7 183.9,323.1 184.1,323.8 184.3,324.0 184.5,324.9 184.7,326.9 184.9,328.4 185.0,328.0 185.2,326.7 185.4,326.8 185.6,327.1 185.8,325.4 185.9,323.3 186.1,322.7 186.3,322.9 186.5,322.7 186.7,321.6 186.8,322.9 187.0,325.0 187.2,325.5 187.4,326.0 187.6,327.4 187.8,328.4 187.9,327.9 188.1,326.5 188.3,325.8 188.5,325.1 188.7,323.8 188.8,322.4 189.0,321.8 189.2,322.5 189.4,323.0 189.6,323.3 189.7,323.9 189.9,325.7 190.1,327.8 190.3,328.0 190.5,327.4 190.7,326.8 190.8,326.6 191.0,326.4 191.2,325.2 191.4,323.5 191.6,322.3 191.7,322.5 191.9,323.0 192.1,322.8 192.3,323.1 192.5,324.8 192.6,326.8 192.8,327.3 193.0,327.0 193.2,327.6 193.4,328.6 193.5,327.8 193.7,326.1 193.9,324.7 194.1,324.6 194.3,323.7 194.5,322.5 194.6,321.8 194.8,322.3 195.0,323.6 195.2,324.6 195.4,325.1 195.5,326.4 195.7,328.5 195.9,328.9 196.1,328.2 196.3,327.3 196.4,326.8 196.6,326.4 196.8,325.4 197.0,323.5 197.2,321.8 197.4,321.5 197.5,322.5 197.7,323.7 197.9,324.3 198.1,325.3 198.3,327.2 198.4,328.8 198.6,328.9 198.8,327.8 199.0,327.3 199.2,327.0 199.3,326.2 199.5,324.6 199.7,322.6 199.9,321.4 200.1,321.6 200.3,322.6 200.4,323.5 200.6,323.5 200.8,324.7 201.0,327.0 201.2,328.5 201.3,328.9 201.5,328.7 201.7,328.4 201.9,327.8 202.1,326.4 202.2,324.0 202.4,321.5 202.6,320.6 202.8,321.2 203.0,322.3 203.2,323.1 203.3,323.6 203.5,324.7 203.7,326.9 203.9,329.1 204.1,328.9 204.2,328.4 204.4,328.8 204.6,328.1 204.8,325.7 205.0,323.3 205.1,321.9 205.3,321.3 205.5,320.9 205.7,320.6 205.9,321.0 206.0,322.7 206.2,325.3 206.4,327.6 206.6,328.5 206.8,328.5 207.0,329.3 207.1,329.8 207.3,328.2 207.5,325.5 207.7,323.2 207.9,321.9 208.0,321.3 208.2,320.9 208.4,320.6 208.6,321.9 208.8,324.4 208.9,326.9 209.1,328.3 209.3,328.7 209.5,329.4 209.7,330.2 209.9,329.0 210.0,326.7 210.2,325.0 210.4,324.2 210.6,323.0 210.8,321.4 210.9,321.2 211.1,322.2 211.3,323.1 211.5,323.9 211.7,325.9 211.8,328.2 212.0,329.6 212.2,329.8 212.4,329.4 212.6,329.0 212.8,328.1 212.9,326.1 213.1,322.8 213.3,321.1 213.5,320.8 213.7,320.4 213.8,320.3 214.0,322.5 214.2,325.7 214.4,327.1 214.6,328.6 214.7,330.3 214.9,331.2 215.1,330.4 215.3,328.1 215.5,325.7 215.7,324.2 215.8,323.0 216.0,321.6 216.2,320.6 216.4,321.1 216.6,322.7 216.7,324.2 216.9,325.1 217.1,326.8 217.3,328.9 217.5,329.9 217.6,329.5 217.8,328.0 218.0,326.1 218.2,324.5 218.4,323.0 218.6,321.7 218.7,320.4 218.9,320.1 219.1,321.8 219.3,324.2 219.5,325.3 219.6,326.8 219.8,328.9 220.0,330.3 220.2,329.8 220.4,327.7 220.5,325.9 220.7,324.6 220.9,323.2 221.1,321.4 221.3,320.0 221.4,319.9 221.6,321.3 221.8,323.4 222.0,324.9 222.2,326.0 222.4,327.7 222.5,329.4 222.7,329.8 222.9,328.1 223.1,325.8 223.3,324.2 223.4,322.9 223.6,321.3 223.8,319.9 224.0,319.7 224.2,320.9 224.3,323.2 224.5,325.4 224.7,326.8 224.9,328.3 225.1,330.2 225.3,330.8 225.4,329.4 225.6,328.4 225.8,327.8 226.0,325.9 226.2,323.2 226.3,322.1 226.5,322.1 226.7,321.5 226.9,321.2 227.1,322.9 227.2,325.3 227.4,327.2 227.6,328.0 227.8,328.3 228.0,328.6 228.2,328.7 228.3,328.0 228.5,326.1 228.7,323.6 228.9,322.0 229.1,321.5 229.2,321.7 229.4,322.0 229.6,322.3 229.8,323.8 230.0,326.3 230.1,328.4 230.3,328.6 230.5,328.6 230.7,329.1 230.9,328.8 231.1,327.1 231.2,324.6 231.4,322.3 231.6,321.4 231.8,321.1 232.0,320.2 232.1,319.8 232.3,321.0 232.5,323.2 232.7,325.5 232.9,327.3 233.0,328.3 233.2,329.8 233.4,330.8 233.6,329.9 233.8,328.2 233.9,326.6 234.1,325.9 234.3,323.9 234.5,321.6 234.7,320.7 234.9,321.9 235.0,322.6 235.2,323.2 235.4,324.9 235.6,327.3 235.8,329.3 235.9,329.8 236.1,328.9 236.3,328.0 236.5,327.1 236.7,325.7 236.8,323.5 237.0,321.5 237.2,321.3 237.4,321.8 237.6,321.8 237.8,322.5 237.9,324.8 238.1,327.0 238.3,328.1 238.5,328.5 238.7,328.5 238.8,328.5 239.0,327.8 239.2,325.9 239.4,323.4 239.6,321.9 239.7,321.2 239.9,320.3 240.1,320.0 240.3,321.3 240.5,323.7 240.7,326.0 240.8,327.6 241.0,328.6 241.2,329.1 241.4,329.3 241.6,328.8 241.7,327.3 241.9,325.1 242.1,323.0 242.3,321.6 242.5,321.2 242.6,321.1 242.8,321.0 243.0,321.8 243.2,323.8 243.4,326.1 243.6,327.8 243.7,328.1 243.9,328.7 244.1,329.2 244.3,328.6 244.5,326.8 244.6,322.9 244.8,322.4 245.0,320.2 245.2,321.2 245.4,321.3 245.5,323.3 245.7,323.5 245.9,324.1 246.1,324.6 246.3,326.8 246.5,327.9 246.6,329.4 246.8,329.8 247.0,328.4 247.2,327.3 247.4,325.5 247.5,324.6 247.7,324.9 247.9,323.5 248.1,322.8 248.3,321.9 248.4,321.3 248.6,322.2 248.8,324.6 249.0,325.1 249.2,325.4 249.3,323.5 249.5,323.7 249.7,324.1 249.9,324.5 250.1,325.8 250.3,327.3 250.4,327.5 250.6,327.2 250.8,325.9 251.0,325.8 251.2,325.3 251.3,324.4 251.5,324.0 251.7,323.7 251.9,323.7 252.1,322.2 252.2,322.2 252.4,321.2 252.6,322.0 252.8,322.6 253.0,323.0 253.2,323.3 253.3,323.2 253.5,322.6 253.7,322.8 253.9,324.3 254.1,324.8 254.2,325.2 254.4,325.2 254.6,325.2 254.8,325.2 255.0,325.2 255.1,325.2 255.3,325.2 255.5,325.2 255.7,325.2 255.9,325.2 256.1,325.2 256.2,325.2 256.4,325.2 256.6,325.2 256.8,325.2 257.0,325.2 257.1,325.2 257.3,325.2 257.5,325.2 257.7,325.2 257.9,325.2 258.0,325.2 258.2,325.2 258.4,325.2 258.6,325.2 258.8,325.2 259.0,325.2 259.1,325.2 259.3,325.2 259.5,325.2 259.7,325.2 259.9,325.2 260.0,325.2 260.2,325.2 260.4,325.2 260.6,325.2 260.8,325.2 260.9,325.2 261.1,325.2 261.3,325.2 261.5,325.2 261.7,325.2 261.8,325.2 262.0,325.2 262.2,325.2 262.4,325.2 262.6,325.2 262.8,325.2 262.9,325.2 263.1,325.2 263.3,325.2 263.5,325.2 263.7,325.2 263.8,325.2 264.0,325.2 264.2,325.2 264.4,325.2 264.6,325.2 264.7,325.2 264.9,325.2 265.1,325.2 265.3,325.2 265.5,325.2 265.7,325.2 265.8,325.2 266.0,325.2 266.2,325.2 266.4,325.2 266.6,325.2 266.7,325.2 266.9,325.2 267.1,325.2 267.3,325.2 267.5,325.2 267.6,325.2 267.8,325.2 268.0,325.2 268.2,325.2 268.4,325.2 268.6,325.2 268.7,325.2 268.9,325.2 269.1,325.2 269.3,325.2 269.5,325.2 269.6,325.2 269.8,325.2 270.0,325.2 270.2,325.2 270.4,325.2 270.5,325.2 270.7,325.2 270.9,325.2 271.1,325.2 271.3,325.2 271.5,325.2 271.6,325.2 271.8,325.2 272.0,325.2 272.2,325.2 272.4,325.2 272.5,325.2 272.7,325.2 272.9,325.2 273.1,325.2 273.3,325.2 273.4,325.2 273.6,325.2 273.8,325.2 274.0,325.2 274.2,325.2 274.4,325.2 274.5,325.2 274.7,325.2 274.9,325.2 275.1,325.2 275.3,325.2 275.4,325.2 275.6,325.2 275.8,325.2 276.0,325.2 276.2,325.2 276.3,325.2 276.5,325.2 276.7,325.2 276.9,325.2 277.1,325.2 277.2,325.2 277.4,325.2 277.6,325.2 277.8,325.2 278.0,325.2 278.2,325.2 278.3,325.2 278.5,325.2 278.7,325.2 278.9,325.2 279.1,325.2 279.2,325.2 279.4,325.2 279.6,325.2 279.8,325.2 280.0,325.2 280.1,325.2 280.3,325.2 280.5,325.2 280.7,325.2 280.9,325.2 281.1,325.2 281.2,325.2 281.4,325.2 281.6,325.2 281.8,325.2 282.0,325.2 282.1,325.2 282.3,325.2 282.5,325.2 282.7,325.2 282.9,325.2 283.0,325.2 283.2,325.2 283.4,325.2 283.6,325.2 283.8,325.2 284.0,325.2 284.1,325.2 284.3,325.2 284.5,325.2 284.7,325.2 284.9,325.2 285.0,325.2 285.2,325.2 285.4,325.2 285.6,325.2 285.8,325.2 285.9,325.2 286.1,325.2 286.3,325.2 286.5,325.2 286.7,325.2 286.9,325.2 287.0,325.2 287.2,325.2 287.4,325.2 287.6,325.2 287.8,325.2 287.9,325.2 288.1,325.2 288.3,325.2 288.5,325.2 288.7,325.2 288.8,325.2 289.0,325.2 289.2,325.2 289.4,325.2 289.6,325.2 289.7,325.2 289.9,325.2 290.1,325.2 290.3,325.2 290.5,325.2 290.7,325.2 290.8,325.2 291.0,325.2 291.2,325.2 291.4,325.2 291.6,325.2 291.7,325.2 291.9,325.2 292.1,325.2 292.3,325.2 292.5,325.2 292.6,325.2 292.8,325.2 293.0,325.2 293.2,325.2 293.4,325.2 293.6,325.2 293.7,325.2 293.9,325.2 294.1,325.2 294.3,325.2 294.5,325.2 294.6,325.2 294.8,325.2 295.0,325.2 295.2,325.2 295.4,325.2 295.5,325.2 295.7,325.2 295.9,325.2 296.1,325.2 296.3,325.2 296.5,325.2 296.6,325.2 296.8,325.2 297.0,325.2 297.2,325.2 297.4,325.2 297.5,325.2 297.7,325.2 297.9,325.2 298.1,325.2 298.3,325.2 298.4,325.2 298.6,325.2 298.8,325.2 299.0,325.2 299.2,325.2 299.4,325.2 299.5,325.2 299.7,325.2 299.9,325.2 300.1,325.2 300.3,325.2 300.4,325.2 300.6,325.2 300.8,325.2 301.0,325.2 301.2,325.2 301.3,325.2 301.5,325.4 301.7,324.3 301.9,323.6 302.1,323.6 302.2,324.4 302.4,325.1 302.6,324.7 302.8,322.1 303.0,320.4 303.2,321.2 303.3,323.2 303.5,325.2 303.7,326.0 303.9,325.5 304.1,324.7 304.2,324.5 304.4,325.0 304.6,326.1 304.8,327.5 305.0,328.6 305.1,329.2 305.3,328.8 305.5,327.2 305.7,325.3 305.9,324.2 306.1,321.7 306.2,320.4 306.4,320.0 306.6,321.1 306.8,323.1 307.0,325.1 307.1,326.6 307.3,328.1 307.5,329.3 307.7,329.1 307.9,327.7 308.0,325.9 308.2,324.3 308.4,322.4 308.6,320.8 308.8,320.7 309.0,321.7 309.1,323.4 309.3,324.8 309.5,326.4 309.7,328.5 309.9,329.3 310.0,328.6 310.2,327.6 310.4,326.1 310.6,324.3 310.8,322.2 310.9,320.5 311.1,319.9 311.3,320.6 311.5,321.9 311.7,323.2 311.9,325.2 312.0,327.7 312.2,328.9 312.4,328.8 312.6,328.2 312.8,327.5 312.9,326.0 313.1,323.8 313.3,321.9 313.5,321.1 313.7,321.1 313.8,321.8 314.0,323.0 314.2,325.1 314.4,327.5 314.6,329.0 314.8,328.8 314.9,328.0 315.1,327.0 315.3,325.1 315.5,322.8 315.7,320.8 315.8,319.9 316.0,320.1 316.2,321.0 316.4,322.4 316.6,324.7 316.7,327.4 316.9,329.0 317.1,329.6 317.3,329.7 317.5,329.1 317.6,327.2 317.8,324.5 318.0,322.0 318.2,320.7 318.4,320.0 318.6,319.7 318.7,320.5 318.9,322.8 319.1,325.8 319.3,328.0 319.5,328.9 319.6,329.2 319.8,328.9 320.0,327.7 320.2,325.6 320.4,323.3 320.5,321.7 320.7,320.8 320.9,320.3 321.1,320.6 321.3,322.2 321.5,324.9 321.6,327.0 321.8,328.5 322.0,329.8 322.2,330.8 322.4,330.1 322.5,327.5 322.7,324.6 322.9,322.3 323.1,320.4 323.3,319.7 323.4,320.3 323.6,322.2 323.8,324.8 324.0,327.2 324.2,328.8 324.4,329.7 324.5,329.9 324.7,329.1 324.9,327.1 325.1,324.7 325.3,322.4 325.4,321.0 325.6,320.3 325.8,320.5 326.0,321.6 326.2,323.7 326.3,326.5 326.5,328.6 326.7,329.5 326.9,329.5 327.1,328.7 327.3,327.3 327.4,325.1 327.6,322.5 327.8,321.1 328.0,321.2 328.2,322.1 328.3,323.4 328.5,324.9 328.7,327.0 328.9,329.1 329.1,330.2 329.2,330.0 329.4,328.8 329.6,327.3 329.8,325.5 330.0,323.3 330.1,321.2 330.3,319.8 330.5,319.8 330.7,321.1 330.9,322.9 331.1,324.8 331.2,327.2 331.4,329.3 331.6,330.2 331.8,329.8 332.0,328.6 332.1,326.8 332.3,324.9 332.5,322.9 332.7,321.1 332.9,320.6 333.0,321.2 333.2,322.2 333.4,323.6 333.6,325.7 333.8,328.0 334.0,329.2 334.1,329.5 334.3,329.7 334.5,328.5 334.7,326.3 334.9,323.7 335.0,321.6 335.2,320.5 335.4,319.8 335.6,320.1 335.8,322.0 335.9,324.7 336.1,327.2 336.3,328.9 336.5,329.5 336.7,329.2 336.9,328.4 337.0,326.7 337.2,324.3 337.4,322.2 337.6,321.1 337.8,321.3 337.9,322.3 338.1,323.6 338.3,325.3 338.5,327.4 338.7,329.0 338.8,329.5 339.0,329.2 339.2,328.2 339.4,327.0 339.6,325.0 339.8,322.8 339.9,321.2 340.1,320.9 340.3,321.4 340.5,322.5 340.7,324.1 340.8,326.7 341.0,329.0 341.2,329.7 341.4,329.0 341.6,327.9 341.7,326.3 341.9,324.3 342.1,322.2 342.3,321.3 342.5,321.6 342.7,322.6 342.8,323.6 343.0,325.4 343.2,327.8 343.4,328.8 343.6,328.9 343.7,328.9 343.9,328.3 344.1,326.7 344.3,324.1 344.5,322.6 344.6,321.9 344.8,321.7 345.0,321.9 345.2,322.8 345.4,324.7 345.5,327.0 345.7,328.7 345.9,329.5 346.1,329.9 346.3,329.6 346.5,328.0 346.6,325.4 346.8,323.4 347.0,322.2 347.2,321.6 347.4,321.4 347.5,322.6 347.7,324.6 347.9,326.4 348.1,327.5 348.3,328.4 348.4,329.0 348.6,328.7 348.8,327.1 349.0,324.8 349.2,322.8 349.4,321.7 349.5,321.2 349.7,321.4 349.9,322.3 350.1,324.2 350.3,326.5 350.4,328.5 350.6,329.7 350.8,329.9 351.0,329.2 351.2,328.1 351.3,326.4 351.5,323.9 351.7,321.9 351.9,321.7 352.1,322.4 352.3,323.1 352.4,324.5 352.6,326.7 352.8,328.1 353.0,328.3 353.2,328.3 353.3,327.4 353.5,325.3 353.7,322.9 353.9,321.2 354.1,320.7 354.2,320.8 354.4,321.5 354.6,323.4 354.8,326.0 355.0,328.3 355.2,329.6 355.3,329.7 355.5,329.0 355.7,328.0 355.9,326.1 356.1,323.9 356.2,321.9 356.4,320.9 356.6,321.0 356.8,322.0 357.0,323.5 357.1,325.5 357.3,327.7 357.5,329.1 357.7,329.0 357.9,328.0 358.0,327.0 358.2,325.5 358.4,323.4 358.6,321.9 358.8,321.5 359.0,322.1 359.1,323.3 359.3,324.5 359.5,325.9 359.7,327.6 359.9,328.8 360.0,328.9 360.2,328.1 360.4,326.8 360.6,325.4 360.8,323.7 360.9,321.8 361.1,320.9 361.3,321.3 361.5,322.6 361.7,324.0 361.9,325.5 362.0,327.4 362.2,329.1 362.4,330.0 362.6,329.8 362.8,328.3 362.9,326.6 363.1,324.6 363.3,322.5 363.5,321.3 363.7,321.6 363.8,322.9 364.0,324.3 364.2,325.5 364.4,327.0 364.6,328.5 364.8,328.9 364.9,328.0 365.1,326.3 365.3,324.4 365.5,323.0 365.7,321.9 365.8,321.2 366.0,321.4 366.2,322.8 366.4,325.0 366.6,326.9 366.7,328.3 366.9,329.0 367.1,329.1 367.3,328.7 367.5,327.2 367.7,325.2 367.8,323.6 368.0,322.6 368.2,322.0 368.4,321.8 368.6,322.4 368.7,324.0 368.9,325.8 369.1,326.9 369.3,327.7 369.5,328.6 369.6,328.7 369.8,327.3 370.0,325.4 370.2,323.9 370.4,322.8 370.6,321.7 370.7,321.2 370.9,321.8 371.1,323.6 371.3,325.5 371.5,327.0 371.6,328.7 371.8,329.7 372.0,329.1 372.2,328.1 372.4,327.1 372.5,325.3 372.7,323.3 372.9,322.4 373.1,322.5 373.3,322.8 373.4,323.3 373.6,324.4 373.8,326.1 374.0,327.7 374.2,328.0 374.4,328.2 374.5,328.2 374.7,327.2 374.9,325.2 375.1,322.9 375.3,321.5 375.4,321.3 375.6,322.0 375.8,323.3 376.0,324.9 376.2,327.1 376.3,328.8 376.5,329.4 376.7,328.6 376.9,327.2 377.1,325.7 377.3,324.0 377.4,322.3 377.6,321.3 377.8,321.7 378.0,323.0 378.2,324.1 378.3,325.1 378.5,326.8 378.7,328.2 378.9,328.5 379.1,327.8 379.2,326.7 379.4,325.8 379.6,324.4 379.8,322.6 380.0,321.4 380.2,321.7 380.3,322.8 380.5,324.0 380.7,325.2 380.9,326.6 381.1,328.0 381.2,328.4 381.4,327.6 381.6,326.4 381.8,325.2 382.0,323.7 382.1,322.3 382.3,321.9 382.5,322.3 382.7,323.4 382.9,324.8 383.1,326.2 383.2,327.8 383.4,329.1 383.6,329.0 383.8,328.0 384.0,326.8 384.1,325.6 384.3,324.2 384.5,322.6 384.7,321.4 384.9,321.8 385.0,322.5 385.2,323.3 385.4,324.4 385.6,326.1 385.8,327.7 385.9,328.2 386.1,327.8 386.3,326.7 386.5,325.8 386.7,324.2 386.9,322.3 387.0,321.5 387.2,321.8 387.4,322.6 387.6,323.7 387.8,325.2 387.9,327.1 388.1,327.8 388.3,327.7 388.5,327.5 388.7,326.4 388.8,324.7 389.0,322.9 389.2,322.0 389.4,322.1 389.6,322.6 389.8,323.2 389.9,324.2 390.1,326.0 390.3,327.6 390.5,328.2 390.7,328.2 390.8,327.9 391.0,326.9 391.2,325.3 391.4,323.4 391.6,321.9 391.7,321.5 391.9,322.3 392.1,323.5 392.3,324.6 392.5,325.7 392.7,326.9 392.8,328.2 393.0,328.8 393.2,327.8 393.4,326.3 393.6,324.9 393.7,323.5 393.9,322.3 394.1,321.5 394.3,322.0 394.5,323.6 394.6,325.5 394.8,326.9 395.0,327.6 395.2,328.0 395.4,328.1 395.6,327.2 395.7,325.4 395.9,323.6 396.1,322.7 396.3,322.6 396.5,322.4 396.6,322.7 396.8,323.8 397.0,325.5 397.2,327.3 397.4,328.5 397.5,328.6 397.7,328.1 397.9,327.2 398.1,326.1 398.3,324.3 398.4,322.5 398.6,322.0 398.8,322.5 399.0,323.2 399.2,323.9 399.4,324.9 399.5,326.1 399.7,327.3 399.9,327.9 400.1,327.2 400.3,326.4 400.4,326.0 400.6,324.7 400.8,323.2 401.0,322.2 401.2,322.2 401.3,323.0 401.5,323.7 401.7,324.5 401.9,325.8 402.1,327.4 402.3,327.9 402.4,327.7 402.6,327.2 402.8,326.5 403.0,325.7 403.2,324.5 403.3,323.1 403.5,322.2 403.7,322.4 403.9,323.1 404.1,323.8 404.2,325.1 404.4,326.7 404.6,327.6 404.8,327.5 405.0,327.2 405.2,326.7 405.3,325.4 405.5,323.8 405.7,322.6 405.9,322.6 406.1,323.4 406.2,324.1 406.4,325.0 406.6,326.2 406.8,327.3 407.0,327.8 407.1,327.2 407.3,326.0 407.5,324.9 407.7,323.9 407.9,323.1 408.1,322.4 408.2,322.6 408.4,323.8 408.6,325.1 408.8,325.9 409.0,326.7 409.1,327.5 409.3,327.8 409.5,327.0 409.7,325.6 409.9,324.5 410.0,323.8 410.2,322.9 410.4,322.5 410.6,322.8 410.8,324.0 411.0,325.6 411.1,326.7 411.3,327.2 411.5,327.7 411.7,327.9 411.9,327.4 412.0,326.1 412.2,324.5 412.4,323.5 412.6,323.2 412.8,322.7 412.9,322.5 413.1,323.1 413.3,324.7 413.5,326.3 413.7,327.2 413.8,327.4 414.0,327.3 414.2,326.9 414.4,325.7 414.6,324.1 414.8,322.8 414.9,322.5 415.1,322.8 415.3,323.5 415.5,324.2 415.7,325.0 415.8,326.3 416.0,327.5 416.2,327.7 416.4,327.0 416.6,326.1 416.7,325.4 416.9,324.7 417.1,323.6 417.3,322.7 417.5,322.6 417.7,323.5 417.8,325.0 418.0,326.3 418.2,326.9 418.4,327.5 418.6,328.1 418.7,327.8 418.9,326.2 419.1,324.8 419.3,323.9 419.5,323.5 419.6,323.3 419.8,323.3 420.0,324.4 420.2,326.1 420.4,327.5 420.6,328.0 420.7,327.7 420.9,326.9 421.1,326.3 421.3,325.3 421.5,323.8 421.6,322.7 421.8,322.9 422.0,323.3 422.2,323.6 422.4,324.4 422.5,326.0 422.7,327.1 422.9,327.5 423.1,327.7 423.3,327.5 423.5,326.9 423.6,325.6 423.8,324.2 424.0,323.0 424.2,323.0 424.4,322.9 424.5,322.8 424.7,323.7 424.9,325.1 425.1,326.4 425.3,327.2 425.4,327.6 425.6,327.9 425.8,327.7 426.0,326.7 426.2,325.2 426.3,324.2 426.5,324.0 426.7,323.4 426.9,323.0 427.1,323.4 427.3,324.9 427.4,326.3 427.6,326.8 427.8,327.6 428.0,328.0 428.2,327.4 428.3,326.1 428.5,324.6 428.7,323.6 428.9,323.2 429.1,323.2 429.2,323.4 429.4,324.6 429.6,326.1 429.8,327.1 430.0,327.5 430.2,327.4 430.3,327.3 430.5,326.4 430.7,324.7 430.9,323.1 431.1,322.5 431.2,322.8 431.4,323.3 431.6,323.8 431.8,324.8 432.0,326.5 432.1,327.8 432.3,327.9 432.5,327.4 432.7,326.7 432.9,326.2 433.1,325.1 433.2,323.7 433.4,322.8 433.6,322.5 433.8,322.9 434.0,323.6 434.1,324.1 434.3,325.3 434.5,327.0 434.7,327.6 434.9,327.5 435.0,327.2 435.2,326.8 435.4,326.1 435.6,324.8 435.8,323.6 436.0,323.1 436.1,323.3 436.3,323.6 436.5,323.8 436.7,324.4 436.9,325.7 437.0,326.9 437.2,327.3 437.4,327.2 437.6,326.8 437.8,326.4 437.9,325.7 438.1,324.3 438.3,323.1 438.5,323.3 438.7,323.4 438.9,323.8 439.0,324.5 439.2,325.7 439.4,327.0 439.6,327.8 439.8,327.8 439.9,326.9 440.1,326.5 440.3,326.0 440.5,324.7 440.7,323.4 440.8,323.0 441.0,323.0 441.2,323.0 441.4,323.7 441.6,325.2 441.7,326.5 441.9,327.1 442.1,327.7 442.3,328.0 442.5,327.3 442.7,326.1 442.8,324.9 443.0,324.2 443.2,323.5 443.4,322.6 443.6,322.7 443.7,323.9 443.9,324.7 444.1,325.5 444.3,326.8 444.5,327.9 444.6,328.1 444.8,327.2 445.0,326.0 445.2,325.0 445.4,324.1 445.6,323.3 445.7,322.7 445.9,323.1 446.1,324.2 446.3,325.5 446.5,326.3 446.6,326.7 446.8,327.1 447.0,327.1 447.2,326.4 447.4,325.2 447.5,323.9 447.7,323.0 447.9,322.7 448.1,322.9 448.3,323.3 448.5,324.2 448.6,325.7 448.8,327.0 449.0,327.5 449.2,327.4 449.4,327.0 449.5,326.6 449.7,326.0 449.9,324.8 450.1,323.5 450.3,323.1 450.4,323.1 450.6,323.2 450.8,323.7 451.0,324.8 451.2,326.0 451.4,326.9 451.5,327.1 451.7,327.1 451.9,327.0 452.1,326.6 452.3,325.5 452.4,324.2 452.6,323.4 452.8,323.2 453.0,323.5 453.2,323.8 453.3,324.3 453.5,325.4 453.7,326.6 453.9,327.5 454.1,327.7 454.2,327.1 454.4,326.1 454.6,325.2 454.8,324.5 455.0,323.8 455.2,323.2 455.3,323.2 455.5,324.0 455.7,325.3 455.9,326.5 456.1,327.1 456.2,326.9 456.4,326.7 456.6,326.5 456.8,325.8 457.0,324.7 457.1,323.5 457.3,323.0 457.5,323.0 457.7,323.2 457.9,323.5 458.1,324.2 458.2,325.6 458.4,326.9 458.6,327.4 458.8,327.3 459.0,327.3 459.1,326.9 459.3,325.9 459.5,324.5 459.7,323.4 459.9,323.3 460.0,323.8 460.2,324.1 460.4,324.6 460.6,325.4 460.8,326.5 461.0,327.2 461.1,327.1 461.3,326.5 461.5,326.1 461.7,325.6 461.9,324.5 462.0,323.6 462.2,323.5 462.4,323.9 462.6,324.5 462.8,325.0 462.9,325.8 463.1,326.9 463.3,327.7 463.5,327.7 463.7,327.0 463.9,326.0 464.0,325.1 464.2,324.4 464.4,323.7 464.6,323.2 464.8,323.3 464.9,324.0 465.1,324.9 465.3,325.7 465.5,326.3 465.7,326.9 465.8,327.3 466.0,327.1 466.2,326.3 466.4,325.4 466.6,325.0 466.7,324.2 466.9,323.3 467.1,323.1 467.3,323.8 467.5,324.8 467.7,325.7 467.8,326.3 468.0,326.9 468.2,327.2 468.4,327.1 468.6,326.3 468.7,325.2 468.9,324.2 469.1,323.8 469.3,323.6 469.5,323.4 469.6,323.5 469.8,324.4 470.0,325.8 470.2,326.7 470.4,326.9 470.6,327.1 470.7,327.3 470.9,326.5 471.1,325.2 471.3,324.1 471.5,323.6 471.6,323.6 471.8,323.6 472.0,323.3 472.2,324.1 472.4,325.5 472.5,326.6 472.7,327.1 472.9,327.1 473.1,327.0 473.3,326.7 473.5,326.0 473.6,324.8 473.8,323.7 474.0,323.3 474.2,323.3 474.4,323.7 474.5,324.0 474.7,324.8 474.9,326.0 475.1,326.8 475.3,326.9 475.4,326.5 475.6,326.4 475.8,326.1 476.0,325.1 476.2,324.0 476.4,323.5 476.5,323.5 476.7,323.6 476.9,323.8 477.1,324.4 477.3,325.6 477.4,326.7 477.6,327.0 477.8,326.7 478.0,326.4 478.2,326.2 478.3,325.5 478.5,324.4 478.7,323.4 478.9,323.2 479.1,323.8 479.3,324.2 479.4,324.5 479.6,325.5 479.8,326.7 480.0,327.2 480.2,326.9 480.3,326.2 480.5,325.5 480.7,324.9 480.9,324.2 481.1,323.5 481.2,323.0 481.4,323.3 481.6,324.3 481.8,325.6 482.0,326.5 482.1,326.8 482.3,326.9 482.5,327.2 482.7,326.2 482.9,324.9 483.1,323.9 483.2,323.7 483.4,323.3 483.6,323.0 483.8,323.7 484.0,324.8 484.1,325.6 484.3,325.9 484.5,326.4 484.7,326.9 484.9,326.8 485.0,325.9 485.2,324.6 485.4,323.6 485.6,323.4 485.8,323.4 486.0,323.3 486.1,323.8 486.3,324.9 486.5,325.9 486.7,326.4 486.9,326.6 487.0,326.6 487.2,326.6 487.4,326.2 487.6,325.3 487.8,324.2 487.9,323.4 488.1,323.3 488.3,323.6 488.5,324.0 488.7,324.3 488.9,324.9 489.0,325.9 489.2,326.9 489.4,327.3 489.6,326.6 489.8,326.3 489.9,326.2 490.1,325.2 490.3,324.1 490.5,323.6 490.7,323.4 490.8,323.2 491.0,323.5 491.2,324.6 491.4,325.9 491.6,326.8 491.8,326.9 491.9,326.8 492.1,327.0 492.3,326.3 492.5,324.9 492.7,323.7 492.8,323.3 493.0,323.7 493.2,324.4 493.4,324.7 493.6,325.6 493.7,326.7 493.9,327.4 494.1,327.3 494.3,326.6 494.5,325.7 494.6,325.3 494.8,324.6 495.0,323.7 495.2,323.0 495.4,323.1 495.6,324.0 495.7,324.9 495.9,325.6 496.1,326.1 496.3,326.6 496.5,327.0 496.6,326.7 496.8,325.8 497.0,324.8 497.2,324.5 497.4,324.5 497.5,324.0 497.7,323.5 497.9,323.7 498.1,324.7 498.3,325.8 498.5,326.4 498.6,326.3 498.8,326.6 499.0,327.0 499.2,326.6 499.4,325.4 499.5,324.3 499.7,323.8 499.9,323.9 500.1,324.1 500.3,324.2 500.4,324.6 500.6,325.5 500.8,326.5 501.0,327.0 501.2,326.4 501.4,326.0 501.5,325.7 501.7,325.2 501.9,324.2 502.1,323.4 502.3,323.0 502.4,323.4 502.6,323.9 502.8,324.1 503.0,324.7" fill="none" stroke="#2a84cc" stroke-width="1.2" stroke-linejoin="round" clip-path="url(#cB1)"/>
<polyline points="27.6,322.9 27.8,323.5 28.0,324.8 28.1,326.1 28.3,326.4 28.5,325.6 28.7,324.4 28.9,323.3 29.0,323.2 29.2,324.7 29.4,326.5 29.6,326.8 29.8,325.8 30.0,324.4 30.1,323.7 30.3,324.3 30.5,325.8 30.7,327.0 30.9,327.1 31.0,326.2 31.2,324.8 31.4,323.8 31.6,323.9 31.8,325.3 31.9,326.7 32.1,326.9 32.3,326.0 32.5,324.5 32.7,323.3 32.9,323.0 33.0,325.1 33.2,327.2 33.4,326.5 33.6,324.5 33.8,323.8 33.9,324.8 34.1,326.3 34.3,327.3 34.5,326.3 34.7,323.8 34.8,323.0 35.0,324.5 35.2,326.7 35.4,327.3 35.6,326.6 35.8,325.3 35.9,324.1 36.1,323.9 36.3,325.5 36.5,327.3 36.7,326.8 36.8,324.3 37.0,323.1 37.2,323.6 37.4,324.7 37.6,325.8 37.7,326.4 37.9,326.0 38.1,324.8 38.3,323.8 38.5,323.8 38.7,325.0 38.8,326.6 39.0,327.4 39.2,326.8 39.4,324.8 39.6,323.7 39.7,324.6 39.9,326.6 40.1,327.4 40.3,326.5 40.5,324.7 40.6,323.2 40.8,323.1 41.0,324.6 41.2,326.6 41.4,327.5 41.5,325.9 41.7,323.3 41.9,323.2 42.1,324.9 42.3,326.6 42.5,326.7 42.6,325.7 42.8,324.2 43.0,323.2 43.2,323.6 43.4,325.8 43.5,326.6 43.7,326.1 43.9,325.1 44.1,324.2 44.3,324.0 44.4,324.6 44.6,325.7 44.8,326.6 45.0,326.5 45.2,324.9 45.4,323.3 45.5,323.0 45.7,324.0 45.9,325.3 46.1,326.3 46.3,326.3 46.4,325.6 46.6,324.7 46.8,324.1 47.0,324.2 47.2,325.3 47.3,326.6 47.5,327.1 47.7,325.3 47.9,323.0 48.1,323.1 48.3,324.8 48.4,326.9 48.6,327.7 48.8,326.8 49.0,324.9 49.2,323.4 49.3,323.4 49.5,325.4 49.7,326.9 49.9,326.4 50.1,325.2 50.2,324.1 50.4,324.3 50.6,326.1 50.8,327.3 51.0,326.5 51.2,324.9 51.3,323.6 51.5,323.6 51.7,324.6 51.9,326.0 52.1,327.0 52.2,326.9 52.4,325.8 52.6,324.5 52.8,323.8 53.0,324.4 53.1,325.8 53.3,327.3 53.5,327.7 53.7,326.6 53.9,324.8 54.1,323.5 54.2,323.6 54.4,324.7 54.6,325.9 54.8,326.5 55.0,326.0 55.1,324.8 55.3,323.7 55.5,323.3 55.7,324.4 55.9,326.3 56.0,327.1 56.2,325.9 56.4,324.1 56.6,323.8 56.8,324.7 56.9,326.0 57.1,326.9 57.3,326.7 57.5,325.4 57.7,323.7 57.9,322.7 58.0,323.0 58.2,324.4 58.4,326.0 58.6,326.7 58.8,326.2 58.9,325.0 59.1,323.8 59.3,323.3 59.5,323.9 59.7,325.2 59.8,326.3 60.0,326.5 60.2,325.0 60.4,323.3 60.6,323.2 60.8,324.4 60.9,325.9 61.1,326.5 61.3,325.9 61.5,324.4 61.7,323.0 61.8,322.6 62.0,324.0 62.2,326.2 62.4,327.1 62.6,326.3 62.7,324.8 62.9,323.7 63.1,324.0 63.3,325.8 63.5,327.3 63.7,327.1 63.8,324.9 64.0,323.5 64.2,324.0 64.4,325.4 64.6,327.0 64.7,327.9 64.9,326.8 65.1,323.7 65.3,322.6 65.5,324.7 65.6,327.0 65.8,326.6 66.0,324.7 66.2,323.7 66.4,324.4 66.6,325.8 66.7,326.8 66.9,326.6 67.1,325.5 67.3,324.2 67.5,323.7 67.6,324.4 67.8,326.0 68.0,327.4 68.2,327.6 68.4,326.1 68.5,323.9 68.7,323.0 68.9,323.8 69.1,325.6 69.3,327.2 69.4,327.6 69.6,325.6 69.8,323.0 70.0,322.7 70.2,325.0 70.4,327.6 70.5,328.1 70.7,326.4 70.9,323.5 71.1,321.3 71.3,321.2 71.4,324.7 71.6,328.1 71.8,327.5 72.0,323.7 72.2,322.1 72.3,323.7 72.5,326.6 72.7,329.2 72.9,329.9 73.1,327.5 73.3,323.3 73.4,320.3 73.6,320.6 73.8,323.3 74.0,326.7 74.2,328.6 74.3,327.0 74.5,321.9 74.7,320.1 74.9,325.4 75.1,330.5 75.2,328.1 75.4,321.6 75.6,318.0 75.8,323.3 76.0,333.5 76.2,335.9 76.3,328.9 76.5,318.7 76.7,313.5 76.9,318.0 77.1,328.8 77.2,335.3 77.4,331.6 77.6,322.0 77.8,316.1 78.0,318.5 78.1,325.9 78.3,333.3 78.5,336.0 78.7,328.1 78.9,316.4 79.1,314.4 79.2,320.0 79.4,328.6 79.6,334.7 79.8,334.6 80.0,328.5 80.1,319.8 80.3,313.2 80.5,312.9 80.7,324.8 80.9,336.9 81.0,336.2 81.2,327.1 81.4,316.7 81.6,312.8 81.8,319.6 82.0,330.4 82.1,332.1 82.3,320.1 82.5,308.7 82.7,311.5 82.9,325.1 83.0,338.1 83.2,340.4 83.4,333.4 83.6,322.0 83.8,312.3 83.9,309.6 84.1,316.7 84.3,329.1 84.5,337.3 84.7,331.8 84.8,313.5 85.0,309.9 85.2,320.9 85.4,334.4 85.6,337.4 85.8,315.5 85.9,295.6 86.1,305.0 86.3,329.4 86.5,340.5 86.7,335.4 86.8,325.0 87.0,316.4 87.2,315.3 87.4,322.5 87.6,332.8 87.7,338.4 87.9,334.7 88.1,323.3 88.3,312.5 88.5,310.8 88.7,326.9 88.8,338.4 89.0,332.5 89.2,319.8 89.4,311.2 89.6,315.0 89.7,330.1 89.9,341.8 90.1,341.3 90.3,336.4 90.5,332.0 90.6,333.3 90.8,339.1 91.0,326.0 91.2,299.8 91.4,286.7 91.6,305.3 91.7,342.5 91.9,361.1 92.1,350.2 92.3,325.6 92.5,305.9 92.6,305.5 92.8,322.5 93.0,343.8 93.2,353.2 93.4,348.6 93.5,336.6 93.7,322.3 93.9,311.7 94.1,309.4 94.3,317.6 94.5,329.9 94.6,335.7 94.8,328.4 95.0,315.0 95.2,311.0 95.4,316.6 95.5,326.6 95.7,335.1 95.9,337.2 96.1,333.1 96.3,326.2 96.4,321.0 96.6,321.1 96.8,327.1 97.0,335.1 97.2,339.8 97.3,337.9 97.5,329.5 97.7,318.7 97.9,310.4 98.1,308.6 98.3,316.6 98.4,328.4 98.6,334.0 98.8,331.6 99.0,325.5 99.2,318.5 99.3,314.0 99.5,315.4 99.7,328.4 99.9,341.4 100.1,341.4 100.2,328.4 100.4,315.4 100.6,314.2 100.8,320.2 101.0,328.8 101.2,334.8 101.3,334.4 101.5,325.8 101.7,317.3 101.9,317.8 102.1,326.9 102.2,327.8 102.4,322.4 102.6,320.5 102.8,325.4 103.0,330.3 103.1,327.3 103.3,322.1 103.5,326.6 103.7,334.9 103.9,337.2 104.1,333.3 104.2,328.8 104.4,326.9 104.6,321.7 104.8,316.7 105.0,316.9 105.1,325.6 105.3,335.8 105.5,336.2 105.7,325.9 105.9,313.5 106.0,310.1 106.2,315.9 106.4,321.4 106.6,322.1 106.8,320.4 107.0,315.0 107.1,322.6 107.3,331.5 107.5,337.6 107.7,340.5 107.9,342.0 108.0,338.8 108.2,327.3 108.4,321.9 108.6,325.8 108.8,330.5 108.9,330.6 109.1,324.6 109.3,315.6 109.5,308.3 109.7,307.1 109.9,317.1 110.0,327.8 110.2,321.2 110.4,308.4 110.6,307.6 110.8,316.6 110.9,327.8 111.1,335.6 111.3,338.6 111.5,335.9 111.7,330.0 111.8,328.4 112.0,333.9 112.2,339.7 112.4,336.7 112.6,328.5 112.7,320.9 112.9,317.6 113.1,320.7 113.3,327.9 113.5,328.7 113.7,320.8 113.8,310.7 114.0,305.7 114.2,309.7 114.4,320.3 114.6,330.0 114.7,334.3 114.9,332.9 115.1,329.4 115.3,325.7 115.5,323.3 115.6,329.2 115.8,337.0 116.0,334.5 116.2,328.2 116.4,321.4 116.6,317.3 116.7,317.1 116.9,320.5 117.1,321.7 117.3,316.6 117.5,312.8 117.6,314.7 117.8,321.3 118.0,328.9 118.2,333.6 118.4,333.4 118.5,330.7 118.7,328.5 118.9,327.7 119.1,329.4 119.3,334.9 119.5,336.9 119.6,332.8 119.8,327.7 120.0,324.3 120.2,322.9 120.4,322.2 120.5,320.6 120.7,317.7 120.9,315.7 121.1,315.3 121.3,315.0 121.4,318.6 121.6,323.8 121.8,327.1 122.0,329.8 122.2,332.5 122.4,332.8 122.5,333.1 122.7,338.6 122.9,341.6 123.1,338.8 123.3,332.5 123.4,325.9 123.6,321.7 123.8,320.7 124.0,320.9 124.2,319.5 124.3,315.6 124.5,310.6 124.7,307.2 124.9,310.5 125.1,320.4 125.2,334.0 125.4,341.2 125.6,339.3 125.8,335.8 126.0,335.1 126.2,337.4 126.3,340.7 126.5,339.9 126.7,331.6 126.9,318.4 127.1,308.1 127.2,307.5 127.4,316.3 127.6,324.0 127.8,323.0 128.0,317.0 128.1,312.8 128.3,315.1 128.5,322.9 128.7,332.6 128.9,340.3 129.1,342.7 129.2,339.2 129.4,333.1 129.6,327.9 129.8,326.2 130.0,328.1 130.1,328.0 130.3,321.4 130.5,311.7 130.7,303.6 130.9,301.6 131.0,308.5 131.2,320.8 131.4,330.6 131.6,330.7 131.8,317.7 132.0,307.3 132.1,311.3 132.3,326.3 132.5,342.8 132.7,348.5 132.9,341.8 133.0,329.7 133.2,320.2 133.4,318.8 133.6,323.6 133.8,328.4 133.9,328.3 134.1,323.2 134.3,315.8 134.5,309.1 134.7,306.6 134.9,309.9 135.0,318.4 135.2,329.5 135.4,336.5 135.6,332.5 135.8,323.3 135.9,321.2 136.1,329.9 136.3,341.6 136.5,346.0 136.7,338.6 136.8,323.7 137.0,312.1 137.2,311.7 137.4,317.5 137.6,323.8 137.7,325.8 137.9,323.5 138.1,317.7 138.3,312.5 138.5,311.9 138.7,316.5 138.8,324.7 139.0,333.1 139.2,337.7 139.4,335.1 139.6,331.7 139.7,330.5 139.9,330.0 140.1,329.3 140.3,327.7 140.5,324.4 140.6,319.3 140.8,316.3 141.0,317.4 141.2,320.6 141.4,322.9 141.6,323.2 141.7,319.9 141.9,318.1 142.1,323.8 142.3,331.7 142.5,335.0 142.6,332.0 142.8,327.0 143.0,323.9 143.2,324.7 143.4,326.9 143.5,328.4 143.7,328.6 143.9,327.2 144.1,323.8 144.3,319.6 144.5,318.5 144.6,320.6 144.8,324.0 145.0,327.3 145.2,329.0 145.4,330.0 145.5,330.0 145.7,327.1 145.9,323.9 146.1,320.4 146.3,322.0 146.4,325.3 146.6,325.5 146.8,325.5 147.0,327.3 147.2,328.8 147.4,328.7 147.5,326.7 147.7,327.3 147.9,328.5 148.1,327.9 148.3,323.9 148.4,319.3 148.6,319.5 148.8,322.3 149.0,321.8 149.2,324.1 149.3,328.8 149.5,330.3 149.7,326.8 149.9,326.0 150.1,328.1 150.3,330.6 150.4,330.6 150.6,327.8 150.8,324.4 151.0,323.1 151.2,321.2 151.3,319.0 151.5,321.2 151.7,326.5 151.9,328.8 152.1,327.8 152.2,327.0 152.4,327.3 152.6,327.8 152.8,327.9 153.0,328.2 153.1,329.3 153.3,329.5 153.5,326.4 153.7,322.1 153.9,320.3 154.1,321.2 154.2,323.5 154.4,325.2 154.6,326.5 154.8,328.0 155.0,329.0 155.1,328.0 155.3,326.5 155.5,326.0 155.7,327.8 155.9,330.0 156.0,329.3 156.2,325.5 156.4,321.7 156.6,320.6 156.8,321.7 157.0,323.4 157.1,323.7 157.3,324.6 157.5,325.2 157.7,325.1 157.9,325.2 158.0,326.8 158.2,329.5 158.4,331.2 158.6,330.9 158.8,329.0 158.9,326.2 159.1,323.5 159.3,321.3 159.5,319.8 159.7,320.0 159.9,322.3 160.0,325.0 160.2,325.7 160.4,325.2 160.6,324.6 160.8,325.2 160.9,327.0 161.1,329.0 161.3,329.3 161.5,327.6 161.7,326.2 161.8,324.5 162.0,322.2 162.2,322.9 162.4,325.6 162.6,326.4 162.8,324.6 162.9,323.2 163.1,323.1 163.3,324.5 163.5,328.0 163.7,330.0 163.8,328.7 164.0,326.2 164.2,324.0 164.4,324.2 164.6,326.1 164.7,325.3 164.9,320.5 165.1,318.2 165.3,320.4 165.5,323.0 165.6,325.1 165.8,327.8 166.0,328.7 166.2,326.1 166.4,324.4 166.6,325.9 166.7,327.6 166.9,327.8 167.1,326.3 167.3,323.2 167.5,320.3 167.6,319.6 167.8,321.1 168.0,323.8 168.2,325.7 168.4,326.7 168.5,326.4 168.7,326.1 168.9,327.3 169.1,329.2 169.3,329.6 169.5,328.6 169.6,326.5 169.8,323.1 170.0,320.6 170.2,321.2 170.4,323.4 170.5,324.3 170.7,324.2 170.9,323.3 171.1,322.8 171.3,324.0 171.4,327.5 171.6,330.7 171.8,331.1 172.0,328.3 172.2,324.8 172.4,323.5 172.5,323.4 172.7,323.5 172.9,323.2 173.1,322.3 173.3,321.6 173.4,321.8 173.6,324.1 173.8,328.3 174.0,330.9 174.2,330.1 174.3,326.8 174.5,325.0 174.7,325.2 174.9,326.0 175.1,326.2 175.3,325.0 175.4,322.8 175.6,321.0 175.8,320.6 176.0,321.3 176.2,322.5 176.3,324.3 176.5,326.5 176.7,328.7 176.9,329.5 177.1,328.4 177.2,326.5 177.4,325.0 177.6,325.1 177.8,325.6 178.0,324.9 178.2,323.2 178.3,321.6 178.5,321.6 178.7,324.0 178.9,325.7 179.1,327.0 179.2,328.8 179.4,329.2 179.6,326.5 179.8,323.6 180.0,323.9 180.1,327.2 180.3,328.2 180.5,325.6 180.7,322.8 180.9,321.3 181.0,321.3 181.2,322.1 181.4,323.8 181.6,326.4 181.8,328.3 182.0,328.4 182.1,327.0 182.3,326.8 182.5,326.9 182.7,326.8 182.9,327.5 183.0,328.1 183.2,325.8 183.4,321.3 183.6,318.8 183.8,319.6 183.9,322.7 184.1,325.0 184.3,325.7 184.5,325.9 184.7,326.6 184.9,327.1 185.0,326.4 185.2,326.3 185.4,328.3 185.6,329.4 185.8,326.9 185.9,323.3 186.1,321.7 186.3,322.0 186.5,323.1 186.7,323.2 186.8,324.6 187.0,325.5 187.2,324.5 187.4,324.9 187.6,327.9 187.8,330.7 187.9,330.4 188.1,326.4 188.3,323.6 188.5,323.7 188.7,324.7 188.8,325.0 189.0,324.1 189.2,323.0 189.4,322.1 189.6,322.6 189.7,324.2 189.9,327.1 190.1,330.0 190.3,330.3 190.5,328.4 190.7,325.9 190.8,324.6 191.0,324.4 191.2,324.3 191.4,324.0 191.6,323.5 191.7,323.6 191.9,323.4 192.1,322.4 192.3,322.2 192.5,324.3 192.6,327.4 192.8,328.9 193.0,328.5 193.2,328.1 193.4,328.1 193.5,327.2 193.7,327.0 193.9,326.8 194.1,326.2 194.3,323.9 194.5,321.2 194.6,319.9 194.8,321.0 195.0,323.7 195.2,325.7 195.4,325.9 195.5,325.8 195.7,326.4 195.9,326.6 196.1,326.7 196.3,327.2 196.4,328.0 196.6,328.0 196.8,326.6 197.0,323.9 197.2,321.4 197.4,320.8 197.5,322.6 197.7,325.1 197.9,326.2 198.1,326.3 198.3,326.5 198.4,326.6 198.6,326.2 198.8,326.1 199.0,327.3 199.2,327.9 199.3,326.7 199.5,323.9 199.7,320.8 199.9,319.1 200.1,319.6 200.3,321.7 200.4,323.9 200.6,324.5 200.8,325.4 201.0,326.7 201.2,327.0 201.3,326.5 201.5,326.4 201.7,327.1 201.9,328.1 202.1,327.8 202.2,325.2 202.4,321.2 202.6,318.7 202.8,318.9 203.0,320.8 203.2,322.8 203.3,324.2 203.5,325.2 203.7,326.9 203.9,328.2 204.1,327.3 204.2,326.8 204.4,328.9 204.6,330.1 204.8,328.1 205.0,323.3 205.1,319.7 205.3,319.7 205.5,321.1 205.7,321.9 205.9,322.0 206.0,322.7 206.2,324.2 206.4,326.0 206.6,327.2 206.8,328.3 207.0,330.6 207.1,332.0 207.3,330.5 207.5,326.5 207.7,322.4 207.9,319.6 208.0,318.6 208.2,319.4 208.4,321.1 208.6,324.0 208.8,326.3 208.9,327.2 209.1,327.1 209.3,327.0 209.5,328.4 209.7,330.4 209.9,329.6 210.0,326.3 210.2,323.1 210.4,321.4 210.6,320.9 210.8,321.4 210.9,323.1 211.1,324.6 211.3,324.7 211.5,323.8 211.7,324.2 211.8,326.0 212.0,328.6 212.2,330.4 212.4,330.5 212.6,329.3 212.8,327.0 212.9,323.9 213.1,320.2 213.3,319.1 213.5,320.1 213.7,321.0 213.8,321.7 214.0,323.4 214.2,324.2 214.4,324.3 214.6,326.6 214.7,330.1 214.9,332.4 215.1,331.9 215.3,328.6 215.5,324.9 215.7,323.5 215.8,323.9 216.0,323.8 216.2,322.8 216.4,322.0 216.6,322.1 216.7,322.6 216.9,323.7 217.1,326.5 217.3,330.0 217.5,332.2 217.6,331.9 217.8,328.2 218.0,324.0 218.2,322.4 218.4,322.8 218.6,323.5 218.7,322.7 218.9,321.7 219.1,322.2 219.3,323.7 219.5,324.8 219.6,327.9 219.8,331.5 220.0,332.5 220.2,329.6 220.4,325.9 220.5,324.6 220.7,325.0 220.9,325.3 221.1,324.1 221.3,321.2 221.4,318.8 221.6,319.4 221.8,322.5 222.0,325.7 222.2,327.3 222.4,328.6 222.5,329.4 222.7,329.0 222.9,327.0 223.1,325.2 223.3,324.8 223.4,324.8 223.6,323.8 223.8,321.8 224.0,319.9 224.2,319.8 224.3,321.8 224.5,324.7 224.7,327.1 224.9,329.4 225.1,331.7 225.3,331.8 225.4,329.7 225.6,327.9 225.8,326.8 226.0,325.0 226.2,323.4 226.3,323.3 226.5,323.8 226.7,322.5 226.9,321.0 227.1,321.9 227.2,324.8 227.4,327.6 227.6,329.0 227.8,329.1 228.0,328.5 228.2,328.1 228.3,327.5 228.5,326.3 228.7,324.6 228.9,323.3 229.1,322.5 229.2,322.0 229.4,321.4 229.6,321.2 229.8,322.9 230.0,326.6 230.1,329.9 230.3,329.8 230.5,328.1 230.7,327.8 230.9,328.2 231.1,327.6 231.2,325.2 231.4,321.9 231.6,320.2 231.8,320.4 232.0,320.9 232.1,321.1 232.3,321.9 232.5,323.3 232.7,324.9 232.9,326.3 233.0,328.0 233.2,330.8 233.4,332.1 233.6,330.3 233.8,326.9 233.9,324.3 234.1,324.1 234.3,323.9 234.5,323.5 234.7,323.1 234.9,322.9 235.0,322.2 235.2,322.7 235.4,325.0 235.6,328.3 235.8,330.9 235.9,331.5 236.1,329.2 236.3,326.4 236.5,325.0 236.7,325.2 236.8,324.7 237.0,322.6 237.2,321.6 237.4,321.1 237.6,320.9 237.8,322.2 237.9,325.5 238.1,328.2 238.3,329.1 238.5,328.6 238.7,327.6 238.8,327.0 239.0,326.4 239.2,325.2 239.4,323.6 239.6,322.7 239.7,321.7 239.9,319.6 240.1,318.8 240.3,320.7 240.5,324.2 240.7,327.3 240.8,328.8 241.0,328.5 241.2,328.2 241.4,329.3 241.6,330.7 241.7,329.8 241.9,326.3 242.1,322.2 242.3,319.8 242.5,319.5 242.6,320.3 242.8,321.1 243.0,322.3 243.2,323.7 243.4,324.7 243.6,325.9 243.7,327.1 243.9,329.1 244.1,330.2 244.3,329.2 244.5,326.6 244.6,324.3 244.8,323.4 245.0,321.2 245.2,320.6 245.4,321.3 245.5,323.5 245.7,324.2 245.9,324.7 246.1,326.2 246.3,326.5 246.5,328.2 246.6,329.1 246.8,330.2 247.0,329.4 247.2,328.4 247.4,326.6 247.5,325.0 247.7,324.7 247.9,324.5 248.1,323.3 248.3,322.6 248.4,322.3 248.6,323.2 248.8,324.5 249.0,324.7 249.2,323.3 249.3,322.0 249.5,321.7 249.7,322.0 249.9,323.4 250.1,325.4 250.3,327.1 250.4,328.5 250.6,328.7 250.8,327.5 251.0,326.0 251.2,325.7 251.3,325.0 251.5,324.9 251.7,324.4 251.9,323.2 252.1,322.9 252.2,322.1 252.4,320.6 252.6,321.9 252.8,322.8 253.0,323.3 253.2,323.2 253.3,322.6 253.5,321.4 253.7,322.4 253.9,326.2 254.1,327.6 254.2,328.9 254.4,329.2 254.6,326.9 254.8,326.7 255.0,326.0 255.1,324.5 255.3,325.4 255.5,323.3 255.7,322.1 255.9,320.1 256.1,320.3 256.2,322.8 256.4,323.3 256.6,324.9 256.8,324.5 257.0,322.6 257.1,323.1 257.3,322.6 257.5,325.3 257.7,326.6 257.9,329.3 258.0,328.3 258.2,328.1 258.4,327.4 258.6,325.1 258.8,326.3 259.0,325.1 259.1,325.3 259.3,326.2 259.5,324.1 259.7,322.5 259.9,320.6 260.0,319.7 260.2,322.8 260.4,322.7 260.6,324.9 260.8,325.3 260.9,324.6 261.1,326.8 261.3,327.9 261.5,329.1 261.7,329.3 261.8,330.3 262.0,329.5 262.2,326.8 262.4,326.2 262.6,323.8 262.8,323.7 262.9,325.1 263.1,323.4 263.3,324.1 263.5,322.1 263.7,321.7 263.8,319.5 264.0,321.6 264.2,321.7 264.4,325.0 264.6,324.7 264.7,325.7 264.9,326.6 265.1,327.3 265.3,330.4 265.5,328.8 265.7,329.9 265.8,328.2 266.0,326.9 266.2,326.4 266.4,324.0 266.6,324.9 266.7,323.2 266.9,322.6 267.1,320.0 267.3,320.5 267.5,319.4 267.6,321.3 267.8,320.6 268.0,324.0 268.2,323.8 268.4,326.4 268.6,326.4 268.7,328.5 268.9,327.1 269.1,328.3 269.3,327.7 269.5,327.3 269.6,326.9 269.8,325.6 270.0,326.2 270.2,323.9 270.4,324.4 270.5,322.8 270.7,321.7 270.9,322.1 271.1,320.4 271.3,321.9 271.5,322.1 271.6,324.0 271.8,324.1 272.0,326.3 272.2,326.9 272.4,328.3 272.5,327.3 272.7,328.4 272.9,326.6 273.1,327.1 273.3,324.3 273.4,324.5 273.6,322.5 273.8,322.4 274.0,322.0 274.2,320.9 274.4,322.2 274.5,320.2 274.7,322.0 274.9,322.2 275.1,323.8 275.3,323.9 275.4,325.7 275.6,326.5 275.8,327.8 276.0,328.2 276.2,327.3 276.3,328.8 276.5,327.1 276.7,328.1 276.9,325.9 277.1,324.5 277.2,324.0 277.4,322.2 277.6,322.6 277.8,320.3 278.0,321.3 278.2,320.5 278.3,322.5 278.5,322.1 278.7,324.4 278.9,325.5 279.1,327.9 279.2,327.6 279.4,329.3 279.6,329.0 279.8,328.9 280.0,328.8 280.1,327.6 280.3,327.2 280.5,326.2 280.7,325.6 280.9,323.8 281.1,324.0 281.2,322.4 281.4,322.1 281.6,322.1 281.8,321.2 282.0,322.8 282.1,321.8 282.3,323.9 282.5,323.5 282.7,326.2 282.9,325.4 283.0,328.1 283.2,328.1 283.4,327.5 283.6,329.1 283.8,328.3 284.0,326.8 284.1,327.2 284.3,324.7 284.5,325.1 284.7,323.0 284.9,322.9 285.0,321.1 285.2,321.3 285.4,322.3 285.6,320.7 285.8,322.4 285.9,321.8 286.1,324.6 286.3,324.5 286.5,326.8 286.7,327.0 286.9,329.5 287.0,328.8 287.2,331.4 287.4,330.6 287.6,330.8 287.8,330.2 287.9,328.1 288.1,328.6 288.3,325.2 288.5,324.9 288.7,322.9 288.8,321.9 289.0,321.4 289.2,320.0 289.4,321.1 289.6,322.1 289.7,322.2 289.9,324.9 290.1,324.7 290.3,327.0 290.5,327.2 290.7,329.4 290.8,329.1 291.0,329.6 291.2,329.8 291.4,328.4 291.6,328.7 291.7,325.9 291.9,325.4 292.1,323.2 292.3,322.7 292.5,319.4 292.6,319.7 292.8,318.4 293.0,318.8 293.2,318.1 293.4,321.2 293.6,320.7 293.7,324.7 293.9,325.2 294.1,328.6 294.3,328.2 294.5,330.7 294.6,329.9 294.8,330.6 295.0,328.8 295.2,327.9 295.4,325.8 295.5,323.8 295.7,322.0 295.9,320.0 296.1,320.7 296.3,319.3 296.5,321.2 296.6,322.4 296.8,322.9 297.0,324.7 297.2,325.9 297.4,327.9 297.5,327.4 297.7,330.2 297.9,329.0 298.1,328.8 298.3,328.6 298.4,326.2 298.6,325.9 298.8,323.8 299.0,323.6 299.2,323.1 299.4,320.9 299.5,321.3 299.7,321.7 299.9,321.3 300.1,323.3 300.3,323.7 300.4,324.7 300.6,325.1 300.8,327.2 301.0,326.5 301.2,326.1 301.3,325.5 301.5,325.4 301.7,324.3 301.9,323.6 302.1,323.6 302.2,324.4 302.4,325.1 302.6,324.7 302.8,322.1 303.0,320.4 303.2,321.2 303.3,323.2 303.5,325.2 303.7,326.0 303.9,325.5 304.1,324.7 304.2,324.5 304.4,325.0 304.6,326.1 304.8,327.5 305.0,328.6 305.1,329.2 305.3,328.8 305.5,327.2 305.7,325.3 305.9,324.2 306.1,321.7 306.2,320.4 306.4,320.0 306.6,321.1 306.8,323.1 307.0,325.1 307.1,326.6 307.3,328.1 307.5,329.3 307.7,329.1 307.9,327.7 308.0,325.9 308.2,324.3 308.4,322.4 308.6,320.8 308.8,320.7 309.0,321.7 309.1,323.4 309.3,324.8 309.5,326.4 309.7,328.5 309.9,329.3 310.0,328.6 310.2,327.6 310.4,326.1 310.6,324.3 310.8,322.2 310.9,320.5 311.1,319.9 311.3,320.6 311.5,321.9 311.7,323.2 311.9,325.2 312.0,327.7 312.2,328.9 312.4,328.8 312.6,328.2 312.8,327.5 312.9,326.0 313.1,323.8 313.3,321.9 313.5,321.1 313.7,321.1 313.8,321.8 314.0,323.0 314.2,325.1 314.4,327.5 314.6,329.0 314.8,328.8 314.9,328.0 315.1,327.0 315.3,325.1 315.5,322.8 315.7,320.8 315.8,319.9 316.0,320.1 316.2,321.0 316.4,322.4 316.6,324.7 316.7,327.4 316.9,329.0 317.1,329.6 317.3,329.7 317.5,329.1 317.6,327.2 317.8,324.5 318.0,322.0 318.2,320.7 318.4,320.0 318.6,319.7 318.7,320.5 318.9,322.8 319.1,325.8 319.3,328.0 319.5,328.9 319.6,329.2 319.8,328.9 320.0,327.7 320.2,325.6 320.4,323.3 320.5,321.7 320.7,320.8 320.9,320.3 321.1,320.6 321.3,322.2 321.5,324.9 321.6,327.0 321.8,328.5 322.0,329.8 322.2,330.8 322.4,330.1 322.5,327.5 322.7,324.6 322.9,322.3 323.1,320.4 323.3,319.7 323.4,320.3 323.6,322.2 323.8,324.8 324.0,327.2 324.2,328.8 324.4,329.7 324.5,329.9 324.7,329.1 324.9,327.1 325.1,324.7 325.3,322.4 325.4,321.0 325.6,320.3 325.8,320.5 326.0,321.6 326.2,323.7 326.3,326.5 326.5,328.6 326.7,329.5 326.9,329.5 327.1,328.7 327.3,327.3 327.4,325.1 327.6,322.5 327.8,321.1 328.0,321.2 328.2,322.1 328.3,323.4 328.5,324.9 328.7,327.0 328.9,329.1 329.1,330.2 329.2,330.0 329.4,328.8 329.6,327.3 329.8,325.5 330.0,323.3 330.1,321.2 330.3,319.8 330.5,319.8 330.7,321.1 330.9,322.9 331.1,324.8 331.2,327.2 331.4,329.3 331.6,330.2 331.8,329.8 332.0,328.6 332.1,326.8 332.3,324.9 332.5,322.9 332.7,321.1 332.9,320.6 333.0,321.2 333.2,322.2 333.4,323.6 333.6,325.7 333.8,328.0 334.0,329.2 334.1,329.5 334.3,329.7 334.5,328.5 334.7,326.3 334.9,323.7 335.0,321.6 335.2,320.5 335.4,319.8 335.6,320.1 335.8,322.0 335.9,324.7 336.1,327.2 336.3,328.9 336.5,329.5 336.7,329.2 336.9,328.4 337.0,326.7 337.2,324.3 337.4,322.2 337.6,321.1 337.8,321.3 337.9,322.3 338.1,323.6 338.3,325.3 338.5,327.4 338.7,329.0 338.8,329.5 339.0,329.2 339.2,328.2 339.4,327.0 339.6,325.0 339.8,322.8 339.9,321.2 340.1,320.9 340.3,321.4 340.5,322.5 340.7,324.1 340.8,326.7 341.0,329.0 341.2,329.7 341.4,329.0 341.6,327.9 341.7,326.3 341.9,324.3 342.1,322.2 342.3,321.3 342.5,321.6 342.7,322.6 342.8,323.6 343.0,325.4 343.2,327.8 343.4,328.8 343.6,328.9 343.7,328.9 343.9,328.3 344.1,326.7 344.3,324.1 344.5,322.6 344.6,321.9 344.8,321.7 345.0,321.9 345.2,322.8 345.4,324.7 345.5,327.0 345.7,328.7 345.9,329.5 346.1,329.9 346.3,329.6 346.5,328.0 346.6,325.4 346.8,323.4 347.0,322.2 347.2,321.6 347.4,321.4 347.5,322.6 347.7,324.6 347.9,326.4 348.1,327.5 348.3,328.4 348.4,329.0 348.6,328.7 348.8,327.1 349.0,324.8 349.2,322.8 349.4,321.7 349.5,321.2 349.7,321.4 349.9,322.3 350.1,324.2 350.3,326.5 350.4,328.5 350.6,329.7 350.8,329.9 351.0,329.2 351.2,328.1 351.3,326.4 351.5,323.9 351.7,321.9 351.9,321.7 352.1,322.4 352.3,323.1 352.4,324.5 352.6,326.7 352.8,328.1 353.0,328.3 353.2,328.3 353.3,327.4 353.5,325.3 353.7,322.9 353.9,321.2 354.1,320.7 354.2,320.8 354.4,321.5 354.6,323.4 354.8,326.0 355.0,328.3 355.2,329.6 355.3,329.7 355.5,329.0 355.7,328.0 355.9,326.1 356.1,323.9 356.2,321.9 356.4,320.9 356.6,321.0 356.8,322.0 357.0,323.5 357.1,325.5 357.3,327.7 357.5,329.1 357.7,329.0 357.9,328.0 358.0,327.0 358.2,325.5 358.4,323.4 358.6,321.9 358.8,321.5 359.0,322.1 359.1,323.3 359.3,324.5 359.5,325.9 359.7,327.6 359.9,328.8 360.0,328.9 360.2,328.1 360.4,326.8 360.6,325.4 360.8,323.7 360.9,321.8 361.1,320.9 361.3,321.3 361.5,322.6 361.7,324.0 361.9,325.5 362.0,327.4 362.2,329.1 362.4,330.0 362.6,329.8 362.8,328.3 362.9,326.6 363.1,324.6 363.3,322.5 363.5,321.3 363.7,321.6 363.8,322.9 364.0,324.3 364.2,325.5 364.4,327.0 364.6,328.5 364.8,328.9 364.9,328.0 365.1,326.3 365.3,324.4 365.5,323.0 365.7,321.9 365.8,321.2 366.0,321.4 366.2,322.8 366.4,325.0 366.6,326.9 366.7,328.3 366.9,329.0 367.1,329.1 367.3,328.7 367.5,327.2 367.7,325.2 367.8,323.6 368.0,322.6 368.2,322.0 368.4,321.8 368.6,322.4 368.7,324.0 368.9,325.8 369.1,326.9 369.3,327.7 369.5,328.6 369.6,328.7 369.8,327.3 370.0,325.4 370.2,323.9 370.4,322.8 370.6,321.7 370.7,321.2 370.9,321.8 371.1,323.6 371.3,325.5 371.5,327.0 371.6,328.7 371.8,329.7 372.0,329.1 372.2,328.1 372.4,327.1 372.5,325.3 372.7,323.3 372.9,322.4 373.1,322.5 373.3,322.8 373.4,323.3 373.6,324.4 373.8,326.1 374.0,327.7 374.2,328.0 374.4,328.2 374.5,328.2 374.7,327.2 374.9,325.2 375.1,322.9 375.3,321.5 375.4,321.3 375.6,322.0 375.8,323.3 376.0,324.9 376.2,327.1 376.3,328.8 376.5,329.4 376.7,328.6 376.9,327.2 377.1,325.7 377.3,324.0 377.4,322.3 377.6,321.3 377.8,321.7 378.0,323.0 378.2,324.1 378.3,325.1 378.5,326.8 378.7,328.2 378.9,328.5 379.1,327.8 379.2,326.7 379.4,325.8 379.6,324.4 379.8,322.6 380.0,321.4 380.2,321.7 380.3,322.8 380.5,324.0 380.7,325.2 380.9,326.6 381.1,328.0 381.2,328.4 381.4,327.6 381.6,326.4 381.8,325.2 382.0,323.7 382.1,322.3 382.3,321.9 382.5,322.3 382.7,323.4 382.9,324.8 383.1,326.2 383.2,327.8 383.4,329.1 383.6,329.0 383.8,328.0 384.0,326.8 384.1,325.6 384.3,324.2 384.5,322.6 384.7,321.4 384.9,321.8 385.0,322.5 385.2,323.3 385.4,324.4 385.6,326.1 385.8,327.7 385.9,328.2 386.1,327.8 386.3,326.7 386.5,325.8 386.7,324.2 386.9,322.3 387.0,321.5 387.2,321.8 387.4,322.6 387.6,323.7 387.8,325.2 387.9,327.1 388.1,327.8 388.3,327.7 388.5,327.5 388.7,326.4 388.8,324.7 389.0,322.9 389.2,322.0 389.4,322.1 389.6,322.6 389.8,323.2 389.9,324.2 390.1,326.0 390.3,327.6 390.5,328.2 390.7,328.2 390.8,327.9 391.0,326.9 391.2,325.3 391.4,323.4 391.6,321.9 391.7,321.5 391.9,322.3 392.1,323.5 392.3,324.6 392.5,325.7 392.7,326.9 392.8,328.2 393.0,328.8 393.2,327.8 393.4,326.3 393.6,324.9 393.7,323.5 393.9,322.3 394.1,321.5 394.3,322.0 394.5,323.6 394.6,325.5 394.8,326.9 395.0,327.6 395.2,328.0 395.4,328.1 395.6,327.2 395.7,325.4 395.9,323.6 396.1,322.7 396.3,322.6 396.5,322.4 396.6,322.7 396.8,323.8 397.0,325.5 397.2,327.3 397.4,328.5 397.5,328.6 397.7,328.1 397.9,327.2 398.1,326.1 398.3,324.3 398.4,322.5 398.6,322.0 398.8,322.5 399.0,323.2 399.2,323.9 399.4,324.9 399.5,326.1 399.7,327.3 399.9,327.9 400.1,327.2 400.3,326.4 400.4,326.0 400.6,324.7 400.8,323.2 401.0,322.2 401.2,322.2 401.3,323.0 401.5,323.7 401.7,324.5 401.9,325.8 402.1,327.4 402.3,327.9 402.4,327.7 402.6,327.2 402.8,326.5 403.0,325.7 403.2,324.5 403.3,323.1 403.5,322.2 403.7,322.4 403.9,323.1 404.1,323.8 404.2,325.1 404.4,326.7 404.6,327.6 404.8,327.5 405.0,327.2 405.2,326.7 405.3,325.4 405.5,323.8 405.7,322.6 405.9,322.6 406.1,323.4 406.2,324.1 406.4,325.0 406.6,326.2 406.8,327.3 407.0,327.8 407.1,327.2 407.3,326.0 407.5,324.9 407.7,323.9 407.9,323.1 408.1,322.4 408.2,322.6 408.4,323.8 408.6,325.1 408.8,325.9 409.0,326.7 409.1,327.5 409.3,327.8 409.5,327.0 409.7,325.6 409.9,324.5 410.0,323.8 410.2,322.9 410.4,322.5 410.6,322.8 410.8,324.0 411.0,325.6 411.1,326.7 411.3,327.2 411.5,327.7 411.7,327.9 411.9,327.4 412.0,326.1 412.2,324.5 412.4,323.5 412.6,323.2 412.8,322.7 412.9,322.5 413.1,323.1 413.3,324.7 413.5,326.3 413.7,327.2 413.8,327.4 414.0,327.3 414.2,326.9 414.4,325.7 414.6,324.1 414.8,322.8 414.9,322.5 415.1,322.8 415.3,323.5 415.5,324.2 415.7,325.0 415.8,326.3 416.0,327.5 416.2,327.7 416.4,327.0 416.6,326.1 416.7,325.4 416.9,324.7 417.1,323.6 417.3,322.7 417.5,322.6 417.7,323.5 417.8,325.0 418.0,326.3 418.2,326.9 418.4,327.5 418.6,328.1 418.7,327.8 418.9,326.2 419.1,324.8 419.3,323.9 419.5,323.5 419.6,323.3 419.8,323.3 420.0,324.4 420.2,326.1 420.4,327.5 420.6,328.0 420.7,327.7 420.9,326.9 421.1,326.3 421.3,325.3 421.5,323.8 421.6,322.7 421.8,322.9 422.0,323.3 422.2,323.6 422.4,324.4 422.5,326.0 422.7,327.1 422.9,327.5 423.1,327.7 423.3,327.5 423.5,326.9 423.6,325.6 423.8,324.2 424.0,323.0 424.2,323.0 424.4,322.9 424.5,322.8 424.7,323.7 424.9,325.1 425.1,326.4 425.3,327.2 425.4,327.6 425.6,327.9 425.8,327.7 426.0,326.7 426.2,325.2 426.3,324.2 426.5,324.0 426.7,323.4 426.9,323.0 427.1,323.4 427.3,324.9 427.4,326.3 427.6,326.8 427.8,327.6 428.0,328.0 428.2,327.4 428.3,326.1 428.5,324.6 428.7,323.6 428.9,323.2 429.1,323.2 429.2,323.4 429.4,324.6 429.6,326.1 429.8,327.1 430.0,327.5 430.2,327.4 430.3,327.3 430.5,326.4 430.7,324.7 430.9,323.1 431.1,322.5 431.2,322.8 431.4,323.3 431.6,323.8 431.8,324.8 432.0,326.5 432.1,327.8 432.3,327.9 432.5,327.4 432.7,326.7 432.9,326.2 433.1,325.1 433.2,323.7 433.4,322.8 433.6,322.5 433.8,322.9 434.0,323.6 434.1,324.1 434.3,325.3 434.5,327.0 434.7,327.6 434.9,327.5 435.0,327.2 435.2,326.8 435.4,326.1 435.6,324.8 435.8,323.6 436.0,323.1 436.1,323.3 436.3,323.6 436.5,323.8 436.7,324.4 436.9,325.7 437.0,326.9 437.2,327.3 437.4,327.2 437.6,326.8 437.8,326.4 437.9,325.7 438.1,324.3 438.3,323.1 438.5,323.3 438.7,323.4 438.9,323.8 439.0,324.5 439.2,325.7 439.4,327.0 439.6,327.8 439.8,327.8 439.9,326.9 440.1,326.5 440.3,326.0 440.5,324.7 440.7,323.4 440.8,323.0 441.0,323.0 441.2,323.0 441.4,323.7 441.6,325.2 441.7,326.5 441.9,327.1 442.1,327.7 442.3,328.0 442.5,327.3 442.7,326.1 442.8,324.9 443.0,324.2 443.2,323.5 443.4,322.6 443.6,322.7 443.7,323.9 443.9,324.7 444.1,325.5 444.3,326.8 444.5,327.9 444.6,328.1 444.8,327.2 445.0,326.0 445.2,325.0 445.4,324.1 445.6,323.3 445.7,322.7 445.9,323.1 446.1,324.2 446.3,325.5 446.5,326.3 446.6,326.7 446.8,327.1 447.0,327.1 447.2,326.4 447.4,325.2 447.5,323.9 447.7,323.0 447.9,322.7 448.1,322.9 448.3,323.3 448.5,324.2 448.6,325.7 448.8,327.0 449.0,327.5 449.2,327.4 449.4,327.0 449.5,326.6 449.7,326.0 449.9,324.8 450.1,323.5 450.3,323.1 450.4,323.1 450.6,323.2 450.8,323.7 451.0,324.8 451.2,326.0 451.4,326.9 451.5,327.1 451.7,327.1 451.9,327.0 452.1,326.6 452.3,325.5 452.4,324.2 452.6,323.4 452.8,323.2 453.0,323.5 453.2,323.8 453.3,324.3 453.5,325.4 453.7,326.6 453.9,327.5 454.1,327.7 454.2,327.1 454.4,326.1 454.6,325.2 454.8,324.5 455.0,323.8 455.2,323.2 455.3,323.2 455.5,324.0 455.7,325.3 455.9,326.5 456.1,327.1 456.2,326.9 456.4,326.7 456.6,326.5 456.8,325.8 457.0,324.7 457.1,323.5 457.3,323.0 457.5,323.0 457.7,323.2 457.9,323.5 458.1,324.2 458.2,325.6 458.4,326.9 458.6,327.4 458.8,327.3 459.0,327.3 459.1,326.9 459.3,325.9 459.5,324.5 459.7,323.4 459.9,323.3 460.0,323.8 460.2,324.1 460.4,324.6 460.6,325.4 460.8,326.5 461.0,327.2 461.1,327.1 461.3,326.5 461.5,326.1 461.7,325.6 461.9,324.5 462.0,323.6 462.2,323.5 462.4,323.9 462.6,324.5 462.8,325.0 462.9,325.8 463.1,326.9 463.3,327.7 463.5,327.7 463.7,327.0 463.9,326.0 464.0,325.1 464.2,324.4 464.4,323.7 464.6,323.2 464.8,323.3 464.9,324.0 465.1,324.9 465.3,325.7 465.5,326.3 465.7,326.9 465.8,327.3 466.0,327.1 466.2,326.3 466.4,325.4 466.6,325.0 466.7,324.2 466.9,323.3 467.1,323.1 467.3,323.8 467.5,324.8 467.7,325.7 467.8,326.3 468.0,326.9 468.2,327.2 468.4,327.1 468.6,326.3 468.7,325.2 468.9,324.2 469.1,323.8 469.3,323.6 469.5,323.4 469.6,323.5 469.8,324.4 470.0,325.8 470.2,326.7 470.4,326.9 470.6,327.1 470.7,327.3 470.9,326.5 471.1,325.2 471.3,324.1 471.5,323.6 471.6,323.6 471.8,323.6 472.0,323.3 472.2,324.1 472.4,325.5 472.5,326.6 472.7,327.1 472.9,327.1 473.1,327.0 473.3,326.7 473.5,326.0 473.6,324.8 473.8,323.7 474.0,323.3 474.2,323.3 474.4,323.7 474.5,324.0 474.7,324.8 474.9,326.0 475.1,326.8 475.3,326.9 475.4,326.5 475.6,326.4 475.8,326.1 476.0,325.1 476.2,324.0 476.4,323.5 476.5,323.5 476.7,323.6 476.9,323.8 477.1,324.4 477.3,325.6 477.4,326.7 477.6,327.0 477.8,326.7 478.0,326.4 478.2,326.2 478.3,325.5 478.5,324.4 478.7,323.4 478.9,323.2 479.1,323.8 479.3,324.2 479.4,324.5 479.6,325.5 479.8,326.7 480.0,327.2 480.2,326.9 480.3,326.2 480.5,325.5 480.7,324.9 480.9,324.2 481.1,323.5 481.2,323.0 481.4,323.3 481.6,324.3 481.8,325.6 482.0,326.5 482.1,326.8 482.3,326.9 482.5,327.2 482.7,326.2 482.9,324.9 483.1,323.9 483.2,323.7 483.4,323.3 483.6,323.0 483.8,323.7 484.0,324.8 484.1,325.6 484.3,325.9 484.5,326.4 484.7,326.9 484.9,326.8 485.0,325.9 485.2,324.6 485.4,323.6 485.6,323.4 485.8,323.4 486.0,323.3 486.1,323.8 486.3,324.9 486.5,325.9 486.7,326.4 486.9,326.6 487.0,326.6 487.2,326.6 487.4,326.2 487.6,325.3 487.8,324.2 487.9,323.4 488.1,323.3 488.3,323.6 488.5,324.0 488.7,324.3 488.9,324.9 489.0,325.9 489.2,326.9 489.4,327.3 489.6,326.6 489.8,326.3 489.9,326.2 490.1,325.2 490.3,324.1 490.5,323.6 490.7,323.4 490.8,323.2 491.0,323.5 491.2,324.6 491.4,325.9 491.6,326.8 491.8,326.9 491.9,326.8 492.1,327.0 492.3,326.3 492.5,324.9 492.7,323.7 492.8,323.3 493.0,323.7 493.2,324.4 493.4,324.7 493.6,325.6 493.7,326.7 493.9,327.4 494.1,327.3 494.3,326.6 494.5,325.7 494.6,325.3 494.8,324.6 495.0,323.7 495.2,323.0 495.4,323.1 495.6,324.0 495.7,324.9 495.9,325.6 496.1,326.1 496.3,326.6 496.5,327.0 496.6,326.7 496.8,325.8 497.0,324.8 497.2,324.5 497.4,324.5 497.5,324.0 497.7,323.5 497.9,323.7 498.1,324.7 498.3,325.8 498.5,326.4 498.6,326.3 498.8,326.6 499.0,327.0 499.2,326.6 499.4,325.4 499.5,324.3 499.7,323.8 499.9,323.9 500.1,324.1 500.3,324.2 500.4,324.6 500.6,325.5 500.8,326.5 501.0,327.0 501.2,326.4 501.4,326.0 501.5,325.7 501.7,325.2 501.9,324.2 502.1,323.4 502.3,323.0 502.4,323.4 502.6,323.9 502.8,324.1 503.0,324.7" fill="none" stroke="#e0571c" stroke-width="1.25" stroke-linejoin="round" stroke-dasharray="6,0.5,1,0.5" clip-path="url(#cB1)"/>
<line x1="104.14" y1="371.40" x2="104.14" y2="279.00" stroke="#2a2a2a" stroke-width="1.5" stroke-dasharray="3.3,3.45"/>
<line x1="301.39" y1="371.40" x2="301.39" y2="279.00" stroke="#2a2a2a" stroke-width="1.5" stroke-dasharray="3.3,3.45"/>
<line x1="254.06" y1="371.40" x2="254.06" y2="279.00" stroke="#2a2a2a" stroke-width="1.5" stroke-dasharray="3.3,3.45"/>
<g stroke="#a3a3a3" stroke-width="1.6"><rect x="27.60" y="279.00" width="473.30" height="92.40" fill="none"/><line x1="27.60" y1="371.40" x2="27.60" y2="367.10"/><line x1="27.60" y1="279.00" x2="27.60" y2="283.30"/><line x1="72.89" y1="371.40" x2="72.89" y2="367.10"/><line x1="72.89" y1="279.00" x2="72.89" y2="283.30"/><line x1="118.18" y1="371.40" x2="118.18" y2="367.10"/><line x1="118.18" y1="279.00" x2="118.18" y2="283.30"/><line x1="163.48" y1="371.40" x2="163.48" y2="367.10"/><line x1="163.48" y1="279.00" x2="163.48" y2="283.30"/><line x1="208.77" y1="371.40" x2="208.77" y2="367.10"/><line x1="208.77" y1="279.00" x2="208.77" y2="283.30"/><line x1="254.06" y1="371.40" x2="254.06" y2="367.10"/><line x1="254.06" y1="279.00" x2="254.06" y2="283.30"/><line x1="299.35" y1="371.40" x2="299.35" y2="367.10"/><line x1="299.35" y1="279.00" x2="299.35" y2="283.30"/><line x1="344.64" y1="371.40" x2="344.64" y2="367.10"/><line x1="344.64" y1="279.00" x2="344.64" y2="283.30"/><line x1="389.93" y1="371.40" x2="389.93" y2="367.10"/><line x1="389.93" y1="279.00" x2="389.93" y2="283.30"/><line x1="435.23" y1="371.40" x2="435.23" y2="367.10"/><line x1="435.23" y1="279.00" x2="435.23" y2="283.30"/><line x1="480.52" y1="371.40" x2="480.52" y2="367.10"/><line x1="480.52" y1="279.00" x2="480.52" y2="283.30"/><line x1="27.60" y1="371.40" x2="31.90" y2="371.40"/><line x1="500.90" y1="371.40" x2="496.60" y2="371.40"/><line x1="27.60" y1="356.00" x2="31.90" y2="356.00"/><line x1="500.90" y1="356.00" x2="496.60" y2="356.00"/><line x1="27.60" y1="340.60" x2="31.90" y2="340.60"/><line x1="500.90" y1="340.60" x2="496.60" y2="340.60"/><line x1="27.60" y1="325.20" x2="31.90" y2="325.20"/><line x1="500.90" y1="325.20" x2="496.60" y2="325.20"/><line x1="27.60" y1="309.80" x2="31.90" y2="309.80"/><line x1="500.90" y1="309.80" x2="496.60" y2="309.80"/><line x1="27.60" y1="294.40" x2="31.90" y2="294.40"/><line x1="500.90" y1="294.40" x2="496.60" y2="294.40"/><line x1="27.60" y1="279.00" x2="31.90" y2="279.00"/><line x1="500.90" y1="279.00" x2="496.60" y2="279.00"/></g>
<g font-family="Liberation Sans, Arial, sans-serif" font-weight="bold" font-size="7.9" fill="#333333"><text x="27.30" y="382.30" text-anchor="middle">0</text><text x="72.59" y="382.30" text-anchor="middle">10</text><text x="117.88" y="382.30" text-anchor="middle">20</text><text x="163.18" y="382.30" text-anchor="middle">30</text><text x="208.47" y="382.30" text-anchor="middle">40</text><text x="253.76" y="382.30" text-anchor="middle">50</text><text x="299.05" y="382.30" text-anchor="middle">60</text><text x="344.34" y="382.30" text-anchor="middle">70</text><text x="389.63" y="382.30" text-anchor="middle">80</text><text x="434.93" y="382.30" text-anchor="middle">90</text><text x="480.22" y="382.30" text-anchor="middle">100</text><text x="24.30" y="374.00" text-anchor="end">-3</text><text x="24.30" y="358.60" text-anchor="end">-2</text><text x="24.30" y="343.20" text-anchor="end">-1</text><text x="24.30" y="327.80" text-anchor="end">0</text><text x="24.30" y="312.40" text-anchor="end">1</text><text x="24.30" y="297.00" text-anchor="end">2</text><text x="24.30" y="281.60" text-anchor="end">3</text></g>
<text x="175.20" y="297.40" text-anchor="middle" font-size="8.15">Part I</text>
<text x="277.30" y="297.10" text-anchor="middle" font-size="8.15">Part II</text>
<text x="202.40" y="357.90" text-anchor="middle" font-size="8.1">Reconstructed part</text>
<line x1="104.44" y1="361.90" x2="300.79" y2="361.90" stroke="#9a9a9a" stroke-width="1.5"/>
<path d="M104.44,361.90 l5,-1.8 l-0.8,1.8 l0.8,1.8 z" fill="#1a1a1a"/>
<path d="M300.79,361.90 l-5,-1.8 l0.8,1.8 l-0.8,1.8 z" fill="#1a1a1a"/>
<rect x="386.20" y="284.50" width="109.50" height="19.40" fill="#fff" stroke="#8c8c8c" stroke-width="1.3"/>
<line x1="388.40" y1="289.75" x2="405.20" y2="289.75" stroke="#2a84cc" stroke-width="1.8"/>
<line x1="388.40" y1="299.15" x2="405.20" y2="299.15" stroke="#e0571c" stroke-width="1.8" stroke-dasharray="2.6,1,0.9,1"/>
<text x="407.20" y="292.75" text-anchor="start" font-size="7.4">Original response</text>
<text x="407.20" y="302.15" text-anchor="start" font-size="7.4">Reconstructed response</text>
<g font-size="8.8">
<text x="263.75" y="394.20" text-anchor="middle" font-size="9.0">Time (s)</text>
</g>
<text transform="translate(14.0,325.20) rotate(-90)" text-anchor="middle" font-size="8.9">Amplitude (gal)</text>
<clipPath id="cB2"><rect x="27.50" y="409.80" width="203.70" height="93.20"/></clipPath>
<g stroke="#f5f5f5" stroke-width="0.8"><line x1="27.50" y1="409.80" x2="27.50" y2="503.00"/><line x1="35.99" y1="409.80" x2="35.99" y2="503.00"/><line x1="44.47" y1="409.80" x2="44.47" y2="503.00"/><line x1="52.96" y1="409.80" x2="52.96" y2="503.00"/><line x1="61.45" y1="409.80" x2="61.45" y2="503.00"/><line x1="69.94" y1="409.80" x2="69.94" y2="503.00"/><line x1="78.42" y1="409.80" x2="78.42" y2="503.00"/><line x1="86.91" y1="409.80" x2="86.91" y2="503.00"/><line x1="95.40" y1="409.80" x2="95.40" y2="503.00"/><line x1="103.89" y1="409.80" x2="103.89" y2="503.00"/><line x1="112.38" y1="409.80" x2="112.38" y2="503.00"/><line x1="120.86" y1="409.80" x2="120.86" y2="503.00"/><line x1="129.35" y1="409.80" x2="129.35" y2="503.00"/><line x1="137.84" y1="409.80" x2="137.84" y2="503.00"/><line x1="146.32" y1="409.80" x2="146.32" y2="503.00"/><line x1="154.81" y1="409.80" x2="154.81" y2="503.00"/><line x1="163.30" y1="409.80" x2="163.30" y2="503.00"/><line x1="171.79" y1="409.80" x2="171.79" y2="503.00"/><line x1="180.27" y1="409.80" x2="180.27" y2="503.00"/><line x1="188.76" y1="409.80" x2="188.76" y2="503.00"/><line x1="197.25" y1="409.80" x2="197.25" y2="503.00"/><line x1="205.74" y1="409.80" x2="205.74" y2="503.00"/><line x1="214.22" y1="409.80" x2="214.22" y2="503.00"/><line x1="222.71" y1="409.80" x2="222.71" y2="503.00"/><line x1="231.20" y1="409.80" x2="231.20" y2="503.00"/><line x1="27.50" y1="503.00" x2="231.20" y2="503.00"/><line x1="27.50" y1="499.89" x2="231.20" y2="499.89"/><line x1="27.50" y1="496.79" x2="231.20" y2="496.79"/><line x1="27.50" y1="493.68" x2="231.20" y2="493.68"/><line x1="27.50" y1="490.57" x2="231.20" y2="490.57"/><line x1="27.50" y1="487.47" x2="231.20" y2="487.47"/><line x1="27.50" y1="484.36" x2="231.20" y2="484.36"/><line x1="27.50" y1="481.25" x2="231.20" y2="481.25"/><line x1="27.50" y1="478.15" x2="231.20" y2="478.15"/><line x1="27.50" y1="475.04" x2="231.20" y2="475.04"/><line x1="27.50" y1="471.93" x2="231.20" y2="471.93"/><line x1="27.50" y1="468.83" x2="231.20" y2="468.83"/><line x1="27.50" y1="465.72" x2="231.20" y2="465.72"/><line x1="27.50" y1="462.61" x2="231.20" y2="462.61"/><line x1="27.50" y1="459.51" x2="231.20" y2="459.51"/><line x1="27.50" y1="456.40" x2="231.20" y2="456.40"/><line x1="27.50" y1="453.29" x2="231.20" y2="453.29"/><line x1="27.50" y1="450.19" x2="231.20" y2="450.19"/><line x1="27.50" y1="447.08" x2="231.20" y2="447.08"/><line x1="27.50" y1="443.97" x2="231.20" y2="443.97"/><line x1="27.50" y1="440.87" x2="231.20" y2="440.87"/><line x1="27.50" y1="437.76" x2="231.20" y2="437.76"/><line x1="27.50" y1="434.65" x2="231.20" y2="434.65"/><line x1="27.50" y1="431.55" x2="231.20" y2="431.55"/><line x1="27.50" y1="428.44" x2="231.20" y2="428.44"/><line x1="27.50" y1="425.33" x2="231.20" y2="425.33"/><line x1="27.50" y1="422.23" x2="231.20" y2="422.23"/><line x1="27.50" y1="419.12" x2="231.20" y2="419.12"/><line x1="27.50" y1="416.01" x2="231.20" y2="416.01"/><line x1="27.50" y1="412.91" x2="231.20" y2="412.91"/><line x1="27.50" y1="409.80" x2="231.20" y2="409.80"/></g>
<g stroke="#eeeeee" stroke-width="0.8"><line x1="27.50" y1="409.80" x2="27.50" y2="503.00"/><line x1="61.45" y1="409.80" x2="61.45" y2="503.00"/><line x1="95.40" y1="409.80" x2="95.40" y2="503.00"/><line x1="129.35" y1="409.80" x2="129.35" y2="503.00"/><line x1="163.30" y1="409.80" x2="163.30" y2="503.00"/><line x1="197.25" y1="409.80" x2="197.25" y2="503.00"/><line x1="231.20" y1="409.80" x2="231.20" y2="503.00"/><line x1="27.50" y1="503.00" x2="231.20" y2="503.00"/><line x1="27.50" y1="487.47" x2="231.20" y2="487.47"/><line x1="27.50" y1="471.93" x2="231.20" y2="471.93"/><line x1="27.50" y1="456.40" x2="231.20" y2="456.40"/><line x1="27.50" y1="440.87" x2="231.20" y2="440.87"/><line x1="27.50" y1="425.33" x2="231.20" y2="425.33"/><line x1="27.50" y1="409.80" x2="231.20" y2="409.80"/></g>
<polyline points="25.8,462.6 26.0,463.1 26.1,464.6 26.3,466.5 26.5,468.4 26.7,469.9 26.8,470.4 27.0,469.5 27.2,466.8 27.3,462.6 27.5,457.2 27.7,450.8 27.8,444.0 28.0,437.1 28.2,430.8 28.3,425.3 28.5,421.1 28.7,418.5 28.9,417.6 29.0,418.8 29.2,422.6 29.4,428.6 29.5,436.3 29.7,445.4 29.9,455.1 30.0,464.8 30.2,473.8 30.4,481.6 30.6,487.6 30.7,491.3 30.9,492.6 31.1,491.9 31.2,489.7 31.4,486.2 31.6,481.6 31.7,476.0 31.9,469.8 32.1,463.3 32.3,456.8 32.4,450.6 32.6,445.1 32.8,440.4 32.9,436.9 33.1,434.8 33.3,434.0 33.4,434.7 33.6,436.5 33.8,439.6 34.0,443.6 34.1,448.4 34.3,453.7 34.5,459.4 34.6,465.0 34.8,470.3 35.0,475.1 35.1,479.1 35.3,482.2 35.5,484.0 35.6,484.7 35.8,484.4 36.0,483.5 36.2,482.0 36.3,480.0 36.5,477.5 36.7,474.6 36.8,471.3 37.0,467.9 37.2,464.2 37.3,460.5 37.5,456.9 37.7,453.4 37.9,450.2 38.0,447.3 38.2,444.8 38.4,442.8 38.5,441.3 38.7,440.4 38.9,440.1 39.0,440.5 39.2,441.6 39.4,443.5 39.6,445.9 39.7,448.8 39.9,451.9 40.1,455.1 40.2,458.3 40.4,461.2 40.6,463.6 40.7,465.4 40.9,466.6 41.1,467.0 41.2,466.5 41.4,465.0 41.6,462.6 41.8,459.6 41.9,456.2 42.1,452.6 42.3,449.2 42.4,446.1 42.6,443.8 42.8,442.3 42.9,441.8 43.1,442.1 43.3,442.8 43.5,444.1 43.6,445.7 43.8,447.8 44.0,450.1 44.1,452.6 44.3,455.2 44.5,457.9 44.6,460.4 44.8,462.7 45.0,464.7 45.2,466.4 45.3,467.6 45.5,468.4 45.7,468.7 45.8,468.5 46.0,467.9 46.2,467.0 46.3,465.8 46.5,464.4 46.7,462.7 46.9,461.0 47.0,459.1 47.2,457.4 47.4,455.7 47.5,454.3 47.7,453.1 47.9,452.2 48.0,451.6 48.2,451.4 48.4,451.6 48.5,452.3 48.7,453.3 48.9,454.7 49.1,456.4 49.2,458.3 49.4,460.3 49.6,462.4 49.7,464.4 49.9,466.3 50.1,468.0 50.2,469.4 50.4,470.5 50.6,471.1 50.8,471.3 50.9,471.1 51.1,470.3 51.3,469.2 51.4,467.6 51.6,465.6 51.8,463.3 51.9,460.8 52.1,458.1 52.3,455.3 52.5,452.5 52.6,449.8 52.8,447.3 53.0,445.0 53.1,443.1 53.3,441.5 53.5,440.3 53.6,439.6 53.8,439.3 54.0,439.7 54.2,440.8 54.3,442.6 54.5,444.9 54.7,447.7 54.8,450.7 55.0,453.8 55.2,456.9 55.3,459.7 55.5,462.0 55.7,463.8 55.8,464.9 56.0,465.3 56.2,465.1 56.4,464.6 56.5,463.9 56.7,462.8 56.9,461.5 57.0,460.1 57.2,458.4 57.4,456.7 57.5,454.8 57.7,453.0 57.9,451.3 58.1,449.6 58.2,448.2 58.4,446.9 58.6,445.8 58.7,445.1 58.9,444.6 59.1,444.4 59.2,445.0 59.4,446.5 59.6,448.9 59.8,452.0 59.9,455.7 60.1,459.6 60.3,463.5 60.4,467.2 60.6,470.3 60.8,472.7 60.9,474.2 61.1,474.7 61.3,474.2 61.4,472.7 61.6,470.3 61.8,467.2 62.0,463.5 62.1,459.6 62.3,455.7 62.5,452.0 62.6,448.9 62.8,446.5 63.0,445.0 63.1,444.4 63.3,444.7 63.5,445.3 63.7,446.3 63.8,447.7 64.0,449.4 64.2,451.4 64.3,453.5 64.5,455.7 64.7,457.9 64.8,460.0 65.0,462.0 65.2,463.7 65.4,465.1 65.5,466.1 65.7,466.7 65.9,467.0 66.0,466.6 66.2,465.6 66.4,464.1 66.5,462.0 66.7,459.6 66.9,457.0 67.1,454.4 67.2,452.1 67.4,450.0 67.6,448.4 67.7,447.4 67.9,447.1 68.1,447.6 68.2,449.0 68.4,451.1 68.6,453.5 68.7,456.0 68.9,458.1 69.1,459.5 69.3,460.0 69.4,459.7 69.6,459.0 69.8,457.8 69.9,456.4 70.1,455.0 70.3,453.6 70.4,452.4 70.6,451.7 70.8,451.4 71.0,451.7 71.1,452.4 71.3,453.6 71.5,455.0 71.6,456.6 71.8,458.2 72.0,459.7 72.1,460.8 72.3,461.6 72.5,461.8 72.7,461.4 72.8,460.2 73.0,458.5 73.2,456.6 73.3,454.9 73.5,453.7 73.7,453.3 73.8,453.6 74.0,454.5 74.2,456.0 74.4,457.8 74.5,460.0 74.7,462.2 74.9,464.3 75.0,466.1 75.2,467.6 75.4,468.5 75.5,468.8 75.7,468.7 75.9,468.2 76.0,467.5 76.2,466.6 76.4,465.5 76.6,464.4 76.7,463.3 76.9,462.4 77.1,461.7 77.2,461.2 77.4,461.1 77.6,460.9 77.7,460.2 77.9,459.2 78.1,457.9 78.3,456.4 78.4,454.7 78.6,453.0 78.8,451.3 78.9,449.7 79.1,448.4 79.3,447.4 79.4,446.8 79.6,446.6 79.8,447.0 80.0,448.1 80.1,449.8 80.3,452.1 80.5,454.8 80.6,457.6 80.8,460.5 81.0,463.2 81.1,465.4 81.3,467.2 81.5,468.3 81.7,468.7 81.8,468.3 82.0,467.3 82.2,465.6 82.3,463.3 82.5,460.6 82.7,457.6 82.8,454.5 83.0,451.3 83.2,448.3 83.3,445.6 83.5,443.3 83.7,441.7 83.9,440.6 84.0,440.2 84.2,440.5 84.4,441.1 84.5,442.1 84.7,443.5 84.9,445.2 85.0,447.0 85.2,448.9 85.4,450.9 85.6,452.7 85.7,454.4 85.9,455.7 86.1,456.8 86.2,457.4 86.4,457.6 86.6,456.7 86.7,454.4 86.9,451.4 87.1,449.1 87.3,448.2 87.4,448.3 87.6,448.8 87.8,449.7 87.9,450.8 88.1,452.2 88.3,453.8 88.4,455.7 88.6,457.7 88.8,459.8 88.9,462.0 89.1,464.3 89.3,466.5 89.5,468.6 89.6,470.7 89.8,472.5 90.0,474.1 90.1,475.5 90.3,476.7 90.5,477.5 90.6,478.0 90.8,478.1 91.0,477.6 91.2,476.0 91.3,473.4 91.5,470.1 91.7,466.3 91.8,462.4 92.0,458.6 92.2,455.3 92.3,452.7 92.5,451.1 92.7,450.5 92.9,450.8 93.0,451.5 93.2,452.7 93.4,454.2 93.5,456.0 93.7,458.0 93.9,459.9 94.0,461.7 94.2,463.2 94.4,464.4 94.6,465.2 94.7,465.4 94.9,465.1 95.1,464.4 95.2,463.1 95.4,461.4 95.6,459.3 95.7,456.9 95.9,454.3 96.1,451.6 96.2,448.9 96.4,446.3 96.6,443.9 96.8,441.8 96.9,440.1 97.1,438.8 97.3,438.0 97.4,437.8 97.6,438.4 97.8,440.1 97.9,442.7 98.1,446.0 98.3,449.4 98.5,452.7 98.6,455.3 98.8,457.0 99.0,457.6 99.1,457.2 99.3,455.9 99.5,453.9 99.6,451.4 99.8,448.8 100.0,446.3 100.2,444.3 100.3,443.0 100.5,442.6 100.7,442.8 100.8,443.3 101.0,444.2 101.2,445.5 101.3,447.0 101.5,448.8 101.7,450.8 101.9,453.0 102.0,455.3 102.2,457.5 102.4,459.8 102.5,462.0 102.7,464.0 102.9,465.8 103.0,467.3 103.2,468.6 103.4,469.5 103.5,470.0 103.7,470.2 103.9,470.0 104.1,469.5 104.2,468.6 104.4,467.5 104.6,466.1 104.7,464.7 104.9,463.3 105.1,462.0 105.2,460.8 105.4,459.9 105.6,459.4 105.8,459.2 105.9,459.5 106.1,460.3 106.3,461.6 106.4,463.1 106.6,464.8 106.8,466.3 106.9,467.6 107.1,468.4 107.3,468.7 107.5,468.5 107.6,467.8 107.8,466.8 108.0,465.4 108.1,463.8 108.3,461.9 108.5,459.8 108.6,457.6 108.8,455.5 109.0,453.4 109.1,451.5 109.3,449.8 109.5,448.5 109.7,447.5 109.8,446.8 110.0,446.6 110.2,446.9 110.3,447.7 110.5,448.9 110.7,450.5 110.8,452.1 111.0,453.6 111.2,454.8 111.4,455.7 111.5,455.9 111.7,455.7 111.9,455.2 112.0,454.3 112.2,453.1 112.4,451.6 112.5,450.0 112.7,448.2 112.9,446.4 113.1,444.6 113.2,443.0 113.4,441.5 113.6,440.3 113.7,439.4 113.9,438.9 114.1,438.7 114.2,439.0 114.4,439.8 114.6,441.2 114.8,443.1 114.9,445.4 115.1,447.9 115.3,450.8 115.4,453.7 115.6,456.6 115.8,459.4 115.9,462.0 116.1,464.3 116.3,466.1 116.4,467.5 116.6,468.4 116.8,468.7 117.0,468.5 117.1,467.8 117.3,466.9 117.5,465.5 117.6,464.0 117.8,462.2 118.0,460.4 118.1,458.5 118.3,456.8 118.5,455.2 118.7,453.9 118.8,452.9 119.0,452.3 119.2,452.1 119.3,452.6 119.5,454.1 119.7,456.4 119.8,459.2 120.0,462.3 120.2,465.1 120.4,467.4 120.5,468.9 120.7,469.4 120.9,469.3 121.0,468.8 121.2,468.0 121.4,466.9 121.5,465.5 121.7,463.9 121.9,462.1 122.1,460.2 122.2,458.2 122.4,456.2 122.6,454.2 122.7,452.2 122.9,450.5 123.1,448.9 123.2,447.5 123.4,446.4 123.6,445.6 123.7,445.1 123.9,444.9 124.1,445.1 124.3,445.6 124.4,446.4 124.6,447.4 124.8,448.5 124.9,449.4 125.1,450.3 125.3,450.8 125.4,451.0 125.6,450.8 125.8,450.5 126.0,449.9 126.1,449.2 126.3,448.4 126.5,447.7 126.6,447.1 126.8,446.7 127.0,446.6 127.1,446.7 127.3,447.1 127.5,447.7 127.7,448.6 127.8,449.6 128.0,450.9 128.2,452.2 128.3,453.7 128.5,455.2 128.7,456.8 128.8,458.3 129.0,459.8 129.2,461.2 129.3,462.4 129.5,463.4 129.7,464.3 129.9,464.9 130.0,465.3 130.2,465.4 130.4,465.3 130.5,465.0 130.7,464.6 130.9,463.9 131.0,463.2 131.2,462.4 131.4,461.5 131.6,460.7 131.7,459.8 131.9,459.1 132.1,458.5 132.2,458.0 132.4,457.7 132.6,457.6 132.7,457.9 132.9,458.6 133.1,459.6 133.3,460.9 133.4,462.2 133.6,463.5 133.8,464.5 133.9,465.2 134.1,465.4 134.3,465.4 134.4,465.2 134.6,464.9 134.8,464.5 135.0,464.0 135.1,463.4 135.3,462.8 135.5,462.0 135.6,461.2 135.8,460.3 136.0,459.4 136.1,458.4 136.3,457.4 136.5,456.4 136.6,455.4 136.8,454.4 137.0,453.4 137.2,452.5 137.3,451.6 137.5,450.8 137.7,450.0 137.8,449.4 138.0,448.8 138.2,448.3 138.3,447.9 138.5,447.6 138.7,447.4 138.9,447.4 139.0,447.5 139.2,447.9 139.4,448.5 139.5,449.2 139.7,449.9 139.9,450.7 140.0,451.2 140.2,451.6 140.4,451.7 140.6,451.6 140.7,451.2 140.9,450.5 141.1,449.8 141.2,449.2 141.4,448.8 141.6,448.6 141.7,448.8 141.9,449.2 142.1,449.9 142.3,450.8 142.4,452.0 142.6,453.3 142.8,454.7 142.9,456.2 143.1,457.8 143.3,459.3 143.4,460.8 143.6,462.1 143.8,463.2 143.9,464.2 144.1,464.8 144.3,465.3 144.5,465.4 144.6,465.3 144.8,464.9 145.0,464.3 145.1,463.7 145.3,463.1 145.5,462.8 145.6,462.6 145.8,462.9 146.0,463.8 146.2,465.0 146.3,466.3 146.5,467.5 146.7,468.4 146.8,468.7 147.0,468.6 147.2,468.5 147.3,468.3 147.5,468.0 147.7,467.6 147.9,467.1 148.0,466.5 148.2,465.9 148.4,465.2 148.5,464.4 148.7,463.6 148.9,462.7 149.0,461.7 149.2,460.7 149.4,459.7 149.6,458.6 149.7,457.5 149.9,456.4 150.1,455.3 150.2,454.2 150.4,453.1 150.6,452.0 150.7,450.9 150.9,449.8 151.1,448.8 151.2,447.8 151.4,446.9 151.6,446.0 151.8,445.1 151.9,444.4 152.1,443.7 152.3,443.0 152.4,442.5 152.6,442.0 152.8,441.6 152.9,441.3 153.1,441.0 153.3,440.9 153.5,440.9 153.6,441.1 153.8,441.6 154.0,442.6 154.1,443.9 154.3,445.5 154.5,447.4 154.6,449.5 154.8,451.7 155.0,454.0 155.2,456.4 155.3,458.8 155.5,461.0 155.7,463.1 155.8,465.0 156.0,466.6 156.2,467.9 156.3,468.8 156.5,469.4 156.7,469.6 156.8,469.6 157.0,469.7 157.2,469.7 157.4,469.8 157.5,470.0 157.7,470.1 157.9,470.3 158.0,470.5 158.2,470.7 158.4,470.9 158.5,471.1 158.7,471.2 158.9,471.4 159.1,471.6 159.2,471.7 159.4,471.8 159.6,471.9 159.7,471.9 159.9,471.9 160.1,471.7 160.2,471.1 160.4,470.1 160.6,468.7 160.8,466.9 160.9,464.9 161.1,462.6 161.3,460.2 161.4,457.7 161.6,455.1 161.8,452.6 161.9,450.2 162.1,447.9 162.3,445.9 162.5,444.1 162.6,442.7 162.8,441.7 163.0,441.1 163.1,440.9 163.3,441.1 163.5,441.7 163.6,442.6 163.8,443.8 164.0,445.2 164.1,446.6 164.3,448.0 164.5,449.2 164.7,450.2 164.8,450.8 165.0,451.0 165.2,450.8 165.3,450.4 165.5,449.8 165.7,449.0 165.8,448.1 166.0,447.2 166.2,446.4 166.4,445.8 166.5,445.4 166.7,445.2 166.9,445.4 167.0,445.9 167.2,446.7 167.4,447.8 167.5,449.1 167.7,450.7 167.9,452.5 168.1,454.4 168.2,456.5 168.4,458.6 168.6,460.7 168.7,462.7 168.9,464.6 169.1,466.4 169.2,468.0 169.4,469.4 169.6,470.5 169.8,471.3 169.9,471.8 170.1,471.9 170.3,471.9 170.4,471.6 170.6,471.3 170.8,470.7 170.9,470.1 171.1,469.4 171.3,468.5 171.4,467.6 171.6,466.7 171.8,465.7 172.0,464.7 172.1,463.8 172.3,462.9 172.5,462.1 172.6,461.3 172.8,460.7 173.0,460.2 173.1,459.8 173.3,459.6 173.5,459.5 173.7,459.4 173.8,458.9 174.0,458.1 174.2,457.1 174.3,455.9 174.5,454.4 174.7,452.8 174.8,451.0 175.0,449.2 175.2,447.3 175.4,445.5 175.5,443.7 175.7,442.1 175.9,440.6 176.0,439.4 176.2,438.3 176.4,437.6 176.5,437.1 176.7,437.0 176.9,437.3 177.0,438.1 177.2,439.4 177.4,441.1 177.6,443.2 177.7,445.6 177.9,448.2 178.1,450.8 178.2,453.4 178.4,455.7 178.6,457.9 178.7,459.6 178.9,460.9 179.1,461.7 179.3,462.0 179.4,461.5 179.6,459.9 179.8,457.5 179.9,454.4 180.1,451.0 180.3,447.7 180.4,444.6 180.6,442.2 180.8,440.6 181.0,440.1 181.1,440.5 181.3,441.8 181.5,443.8 181.6,446.5 181.8,449.8 182.0,453.5 182.1,457.5 182.3,461.5 182.5,465.5 182.7,469.2 182.8,472.5 183.0,475.2 183.2,477.2 183.3,478.5 183.5,478.9 183.7,478.6 183.8,477.8 184.0,476.3 184.2,474.5 184.3,472.2 184.5,469.6 184.7,466.8 184.9,464.0 185.0,461.2 185.2,458.7 185.4,456.4 185.5,454.5 185.7,453.1 185.9,452.2 186.0,451.9 186.2,452.1 186.4,452.7 186.6,453.6 186.7,454.8 186.9,456.1 187.1,457.4 187.2,458.6 187.4,459.5 187.6,460.1 187.7,460.3 187.9,460.1 188.1,459.5 188.3,458.6 188.4,457.3 188.6,455.8 188.8,454.0 188.9,452.0 189.1,450.0 189.3,447.9 189.4,445.8 189.6,443.9 189.8,442.1 190.0,440.6 190.1,439.3 190.3,438.4 190.5,437.8 190.6,437.6 190.8,437.8 191.0,438.4 191.1,439.3 191.3,440.5 191.5,442.1 191.6,443.9 191.8,445.9 192.0,448.0 192.2,450.3 192.3,452.6 192.5,454.8 192.7,457.0 192.8,459.0 193.0,460.8 193.2,462.3 193.3,463.6 193.5,464.5 193.7,465.1 193.9,465.3 194.0,464.9 194.2,464.1 194.4,462.7 194.5,460.9 194.7,459.0 194.9,457.0 195.0,455.3 195.2,453.9 195.4,453.0 195.6,452.7 195.7,453.0 195.9,454.0 196.1,455.5 196.2,457.6 196.4,460.0 196.6,462.6 196.7,465.4 196.9,468.0 197.1,470.5 197.2,472.5 197.4,474.1 197.6,475.0 197.8,475.4 197.9,475.0 198.1,474.0 198.3,472.5 198.4,470.4 198.6,467.8 198.8,464.9 198.9,461.9 199.1,458.7 199.3,455.6 199.5,452.7 199.6,450.2 199.8,448.1 200.0,446.5 200.1,445.5 200.3,445.2 200.5,445.4 200.6,445.8 200.8,446.6 201.0,447.5 201.2,448.6 201.3,449.8 201.5,451.0 201.7,452.1 201.8,453.0 202.0,453.8 202.2,454.2 202.3,454.4 202.5,454.3 202.7,454.0 202.9,453.6 203.0,453.1 203.2,452.4 203.4,451.6 203.5,450.7 203.7,449.8 203.9,448.9 204.0,448.0 204.2,447.1 204.4,446.3 204.5,445.6 204.7,445.0 204.9,444.6 205.1,444.4 205.2,444.3 205.4,444.4 205.6,444.9 205.7,445.6 205.9,446.6 206.1,447.9 206.2,449.3 206.4,450.9 206.6,452.7 206.8,454.6 206.9,456.5 207.1,458.4 207.3,460.2 207.4,462.0 207.6,463.6 207.8,465.1 207.9,466.3 208.1,467.3 208.3,468.1 208.5,468.5 208.6,468.7 208.8,468.6 209.0,468.5 209.1,468.3 209.3,468.0 209.5,467.7 209.6,467.2 209.8,466.7 210.0,466.2 210.2,465.5 210.3,464.8 210.5,464.1 210.7,463.3 210.8,462.5 211.0,461.7 211.2,460.8 211.3,459.9 211.5,459.0 211.7,458.2 211.8,457.3 212.0,456.4 212.2,455.6 212.4,454.7 212.5,454.0 212.7,453.2 212.9,452.6 213.0,451.9 213.2,451.4 213.4,450.9 213.5,450.4 213.7,450.1 213.9,449.8 214.1,449.6 214.2,449.5 214.4,449.4 214.6,449.5 214.7,449.6 214.9,449.8 215.1,450.1 215.2,450.3 215.4,450.6 215.6,450.8 215.8,450.9 215.9,451.0 216.1,450.9 216.3,450.9 216.4,450.7 216.6,450.6 216.8,450.4 216.9,450.3 217.1,450.1 217.3,450.0 217.5,449.9 217.6,449.9 217.8,450.1 218.0,450.7 218.1,451.8 218.3,453.1 218.5,454.7 218.6,456.3 218.8,458.0 219.0,459.5 219.1,460.9 219.3,461.9 219.5,462.5 219.7,462.8 219.8,462.7 220.0,462.4 220.2,462.0 220.3,461.5 220.5,460.9 220.7,460.2 220.8,459.4 221.0,458.7 221.2,458.0 221.4,457.3 221.5,456.8 221.7,456.4 221.9,456.2 222.0,456.1 222.2,456.2 222.4,456.5 222.5,457.0 222.7,457.5 222.9,458.2 223.1,458.8 223.2,459.4 223.4,459.9 223.6,460.2 223.7,460.3 223.9,460.2 224.1,460.1 224.2,459.8 224.4,459.4 224.6,458.9 224.7,458.4 224.9,457.7 225.1,457.1 225.3,456.4 225.4,455.6 225.6,454.9 225.8,454.2 225.9,453.5 226.1,452.9 226.3,452.3 226.4,451.9 226.6,451.5 226.8,451.2 227.0,451.0 227.1,451.0 227.3,451.0 227.5,451.1 227.6,451.2 227.8,451.4 228.0,451.6 228.1,451.9 228.3,452.2 228.5,452.6 228.7,452.9 228.8,453.3 229.0,453.7 229.2,454.0 229.3,454.4 229.5,454.7 229.7,454.9 229.8,455.2 230.0,455.4 230.2,455.5 230.4,455.6 230.5,455.6 230.7,455.7 230.9,456.0 231.0,456.4 231.2,456.8 231.4,457.4 231.5,457.8 231.7,458.2 231.9,458.5 232.0,458.6 232.2,458.4 232.4,458.0 232.6,457.6 232.7,457.1 232.9,456.6 233.1,456.2 233.2,455.9 233.4,455.7 233.6,455.6 233.7,455.6 233.9,452.4 234.1,452.3 234.3,452.4 234.4,452.6" fill="none" stroke="#2a84cc" stroke-width="1.15" stroke-linejoin="round" clip-path="url(#cB2)"/>
<polyline points="25.8,462.6 26.0,463.1 26.1,464.6 26.3,466.5 26.5,468.4 26.7,469.9 26.8,470.4 27.0,469.5 27.2,466.8 27.3,462.6 27.5,457.2 27.7,450.8 27.8,444.0 28.0,437.1 28.2,430.8 28.3,425.3 28.5,421.1 28.7,418.5 28.9,417.6 29.0,418.8 29.2,422.6 29.4,428.6 29.5,436.3 29.7,445.4 29.9,455.1 30.0,464.8 30.2,473.8 30.4,481.6 30.6,487.6 30.7,491.3 30.9,492.6 31.1,491.9 31.2,489.7 31.4,486.2 31.6,481.6 31.7,476.0 31.9,469.8 32.1,463.3 32.3,456.8 32.4,450.6 32.6,445.1 32.8,440.4 32.9,436.9 33.1,434.8 33.3,434.0 33.4,434.7 33.6,436.5 33.8,439.6 34.0,443.6 34.1,448.4 34.3,453.7 34.5,459.4 34.6,465.0 34.8,470.3 35.0,475.1 35.1,479.1 35.3,482.2 35.5,484.0 35.6,484.7 35.8,484.4 36.0,483.5 36.2,482.0 36.3,480.0 36.5,477.5 36.7,474.6 36.8,471.3 37.0,467.9 37.2,464.2 37.3,460.5 37.5,456.9 37.7,453.4 37.9,450.2 38.0,447.3 38.2,444.8 38.4,442.8 38.5,441.3 38.7,440.4 38.9,440.1 39.0,440.5 39.2,441.6 39.4,443.5 39.6,445.9 39.7,448.8 39.9,451.9 40.1,455.1 40.2,458.3 40.4,461.2 40.6,463.6 40.7,465.4 40.9,466.6 41.1,467.0 41.2,466.5 41.4,465.0 41.6,462.6 41.8,459.6 41.9,456.2 42.1,452.6 42.3,449.2 42.4,446.1 42.6,443.8 42.8,442.3 42.9,441.8 43.1,442.1 43.3,442.8 43.5,444.1 43.6,445.7 43.8,447.8 44.0,450.1 44.1,452.6 44.3,455.2 44.5,457.9 44.6,460.4 44.8,462.7 45.0,464.7 45.2,466.4 45.3,467.6 45.5,468.4 45.7,468.7 45.8,468.5 46.0,467.9 46.2,467.0 46.3,465.8 46.5,464.4 46.7,462.7 46.9,461.0 47.0,459.1 47.2,457.4 47.4,455.7 47.5,454.3 47.7,453.1 47.9,452.2 48.0,451.6 48.2,451.4 48.4,451.6 48.5,452.3 48.7,453.3 48.9,454.7 49.1,456.4 49.2,458.3 49.4,460.3 49.6,462.4 49.7,464.4 49.9,466.3 50.1,468.0 50.2,469.4 50.4,470.5 50.6,471.1 50.8,471.3 50.9,471.1 51.1,470.3 51.3,469.2 51.4,467.6 51.6,465.6 51.8,463.3 51.9,460.8 52.1,458.1 52.3,455.3 52.5,452.5 52.6,449.8 52.8,447.3 53.0,445.0 53.1,443.1 53.3,441.5 53.5,440.3 53.6,439.6 53.8,439.3 54.0,439.7 54.2,440.8 54.3,442.6 54.5,444.9 54.7,447.7 54.8,450.7 55.0,453.8 55.2,456.9 55.3,459.7 55.5,462.0 55.7,463.8 55.8,464.9 56.0,465.3 56.2,465.1 56.4,464.6 56.5,463.9 56.7,462.8 56.9,461.5 57.0,460.1 57.2,458.4 57.4,456.7 57.5,454.8 57.7,453.0 57.9,451.3 58.1,449.6 58.2,448.2 58.4,446.9 58.6,445.8 58.7,445.1 58.9,444.6 59.1,444.4 59.2,445.0 59.4,446.5 59.6,448.9 59.8,452.0 59.9,455.7 60.1,459.6 60.3,463.5 60.4,467.2 60.6,470.3 60.8,472.7 60.9,474.2 61.1,474.7 61.3,474.2 61.4,472.7 61.6,470.3 61.8,467.2 62.0,463.5 62.1,459.6 62.3,455.7 62.5,452.0 62.6,448.9 62.8,446.5 63.0,445.0 63.1,444.4 63.3,444.7 63.5,445.3 63.7,446.3 63.8,447.7 64.0,449.4 64.2,451.4 64.3,453.5 64.5,455.7 64.7,457.9 64.8,460.0 65.0,462.0 65.2,463.7 65.4,465.1 65.5,466.1 65.7,466.7 65.9,467.0 66.0,466.6 66.2,465.6 66.4,464.1 66.5,462.0 66.7,459.6 66.9,457.0 67.1,454.4 67.2,452.1 67.4,450.0 67.6,448.4 67.7,447.4 67.9,447.1 68.1,447.6 68.2,449.0 68.4,451.1 68.6,453.5 68.7,456.0 68.9,458.1 69.1,459.5 69.3,460.0 69.4,459.7 69.6,459.0 69.8,457.8 69.9,456.4 70.1,455.0 70.3,453.6 70.4,452.4 70.6,451.7 70.8,451.4 71.0,451.7 71.1,452.4 71.3,453.6 71.5,455.0 71.6,456.6 71.8,458.2 72.0,459.7 72.1,460.8 72.3,461.6 72.5,461.8 72.7,461.4 72.8,460.2 73.0,458.5 73.2,456.6 73.3,454.9 73.5,453.7 73.7,453.3 73.8,453.6 74.0,454.5 74.2,456.0 74.4,457.8 74.5,460.0 74.7,462.2 74.9,464.3 75.0,466.1 75.2,467.6 75.4,468.5 75.5,468.7 75.7,468.5 75.9,467.9 76.0,467.0 76.2,465.9 76.4,464.6 76.6,463.3 76.7,462.0 76.9,460.9 77.1,460.0 77.2,459.4 77.4,459.1 77.6,458.8 77.7,458.1 77.9,457.1 78.1,455.8 78.3,454.4 78.4,452.9 78.6,451.4 78.8,450.0 78.9,448.8 79.1,447.9 79.3,447.3 79.4,447.1 79.6,447.2 79.8,448.0 80.0,449.4 80.1,451.5 80.3,454.0 80.5,456.8 80.6,459.8 80.8,462.6 81.0,465.2 81.1,467.1 81.3,468.4 81.5,468.9 81.7,468.6 81.8,467.5 82.0,465.7 82.2,463.3 82.3,460.4 82.5,457.1 82.7,453.8 82.8,450.4 83.0,447.3 83.2,444.6 83.3,442.7 83.5,441.4 83.7,440.9 83.9,441.2 84.0,442.2 84.2,443.6 84.4,445.2 84.5,447.0 84.7,448.7 84.9,450.3 85.0,451.6 85.2,452.5 85.4,453.1 85.6,453.4 85.7,453.4 85.9,453.2 86.1,453.0 86.2,452.7 86.4,452.5 86.6,451.6 86.7,449.6 86.9,447.3 87.1,445.9 87.3,446.1 87.4,447.6 87.6,449.4 87.8,451.5 87.9,453.8 88.1,456.1 88.3,458.4 88.4,460.7 88.6,462.7 88.8,464.6 88.9,466.3 89.1,467.7 89.3,468.9 89.5,469.9 89.6,470.7 89.8,471.3 90.0,471.8 90.1,472.3 90.3,472.7 90.5,473.0 90.6,473.4 90.8,473.6 91.0,473.4 91.2,472.2 91.3,470.2 91.5,467.6 91.7,464.6 91.8,461.5 92.0,458.5 92.2,456.0 92.3,454.2 92.5,453.2 92.7,453.1 92.9,453.7 93.0,454.6 93.2,455.7 93.4,457.0 93.5,458.4 93.7,459.7 93.9,460.8 94.0,461.8 94.2,462.4 94.4,462.6 94.6,462.4 94.7,461.8 94.9,460.8 95.1,459.5 95.2,457.8 95.4,455.8 95.6,453.7 95.7,451.4 95.9,449.1 96.1,446.7 96.2,444.5 96.4,442.5 96.6,440.7 96.8,439.3 96.9,438.3 97.1,437.8 97.3,437.7 97.4,438.1 97.6,439.3 97.8,441.6 97.9,444.7 98.1,448.2 98.3,451.9 98.5,455.2 98.6,457.7 98.8,459.0 99.0,458.9 99.1,457.6 99.3,455.4 99.5,452.3 99.6,448.8 99.8,445.3 100.0,442.0 100.2,439.4 100.3,437.8 100.5,437.2 100.7,437.6 100.8,438.6 101.0,440.3 101.2,442.4 101.3,444.9 101.5,447.7 101.7,450.6 101.9,453.6 102.0,456.4 102.2,459.0 102.4,461.3 102.5,463.4 102.7,465.3 102.9,466.9 103.0,468.2 103.2,469.1 103.4,469.7 103.5,469.9 103.7,469.7 103.9,469.2 104.1,468.3 104.2,467.2 104.4,465.8 104.6,464.3 104.7,462.7 104.9,461.3 105.1,460.1 105.2,459.4 105.4,459.3 105.6,459.6 105.8,460.4 105.9,461.6 106.1,463.3 106.3,465.2 106.4,467.1 106.6,468.8 106.8,470.2 106.9,471.0 107.1,471.2 107.3,470.7 107.5,469.5 107.6,468.0 107.8,466.1 108.0,464.0 108.1,461.9 108.3,459.7 108.5,457.6 108.6,455.6 108.8,453.7 109.0,452.1 109.1,450.7 109.3,449.7 109.5,449.0 109.7,448.8 109.8,448.9 110.0,449.5 110.2,450.4 110.3,451.9 110.5,453.6 110.7,455.6 110.8,457.5 111.0,459.2 111.2,460.4 111.4,460.9 111.5,460.7 111.7,459.9 111.9,458.5 112.0,456.7 112.2,454.4 112.4,452.0 112.5,449.3 112.7,446.7 112.9,444.1 113.1,441.8 113.2,439.8 113.4,438.2 113.6,437.2 113.7,436.7 113.9,436.9 114.1,437.6 114.2,438.9 114.4,440.8 114.6,443.1 114.8,445.8 114.9,448.6 115.1,451.4 115.3,454.2 115.4,456.8 115.6,459.2 115.8,461.2 115.9,462.9 116.1,464.2 116.3,465.1 116.4,465.6 116.6,465.7 116.8,465.4 117.0,464.9 117.1,464.2 117.3,463.4 117.5,462.5 117.6,461.6 117.8,460.6 118.0,459.7 118.1,458.7 118.3,457.8 118.5,456.9 118.7,456.1 118.8,455.3 119.0,454.7 119.2,454.4 119.3,454.8 119.5,456.0 119.7,458.0 119.8,460.5 120.0,463.1 120.2,465.4 120.4,467.3 120.5,468.3 120.7,468.4 120.9,467.8 121.0,466.9 121.2,465.8 121.4,464.4 121.5,462.9 121.7,461.2 121.9,459.4 122.1,457.6 122.2,455.8 122.4,454.2 122.6,452.6 122.7,451.2 122.9,450.1 123.1,449.1 123.2,448.4 123.4,447.9 123.6,447.8 123.7,447.8 123.9,448.2 124.1,448.8 124.3,449.6 124.4,450.6 124.6,451.7 124.8,452.6 124.9,453.2 125.1,453.2 125.3,452.8 125.4,451.9 125.6,450.7 125.8,449.3 126.0,447.8 126.1,446.4 126.3,445.2 126.5,444.4 126.6,443.9 126.8,443.8 127.0,444.1 127.1,444.8 127.3,445.8 127.5,447.1 127.7,448.7 127.8,450.5 128.0,452.5 128.2,454.5 128.3,456.4 128.5,458.4 128.7,460.2 128.8,461.8 129.0,463.1 129.2,464.1 129.3,464.8 129.5,465.2 129.7,465.3 129.9,465.1 130.0,464.6 130.2,464.0 130.4,463.3 130.5,462.6 130.7,462.0 130.9,461.3 131.0,460.7 131.2,460.2 131.4,459.7 131.6,459.3 131.7,459.0 131.9,458.9 132.1,458.9 132.2,459.1 132.4,459.4 132.6,459.9 132.7,460.7 132.9,461.8 133.1,463.2 133.3,464.7 133.4,466.2 133.6,467.4 133.8,468.3 133.9,468.5 134.1,468.2 134.3,467.4 134.4,466.5 134.6,465.3 134.8,464.1 135.0,462.8 135.1,461.4 135.3,460.2 135.5,459.0 135.6,457.9 135.8,457.0 136.0,456.2 136.1,455.5 136.3,455.0 136.5,454.6 136.6,454.3 136.8,454.1 137.0,453.9 137.2,453.7 137.3,453.6 137.5,453.4 137.7,453.1 137.8,452.8 138.0,452.3 138.2,451.8 138.3,451.2 138.5,450.4 138.7,449.7 138.9,448.8 139.0,448.1 139.2,447.5 139.4,447.1 139.5,446.8 139.7,446.7 139.9,446.6 140.0,446.5 140.2,446.4 140.4,446.3 140.6,446.1 140.7,445.9 140.9,446.1 141.1,446.5 141.2,447.3 141.4,448.4 141.6,449.7 141.7,451.2 141.9,452.6 142.1,453.9 142.3,455.0 142.4,455.9 142.6,456.8 142.8,457.6 142.9,458.4 143.1,459.1 143.3,459.7 143.4,460.4 143.6,461.1 143.8,461.8 143.9,462.5 144.1,463.2 144.3,463.8 144.5,464.1 144.6,464.3 144.8,464.2 145.0,464.1 145.1,463.9 145.3,463.9 145.5,464.0 145.6,464.4 145.8,465.2 146.0,466.5 146.2,468.1 146.3,469.9 146.5,471.4 146.7,472.5 146.8,472.9 147.0,472.9 147.2,472.7 147.3,472.1 147.5,471.2 147.7,470.1 147.9,468.7 148.0,467.2 148.2,465.5 148.4,463.8 148.5,462.0 148.7,460.3 148.9,458.6 149.0,457.1 149.2,455.7 149.4,454.6 149.6,453.6 149.7,452.9 149.9,452.4 150.1,452.1 150.2,451.9 150.4,451.9 150.6,452.0 150.7,452.0 150.9,452.1 151.1,452.1 151.2,452.0 151.4,451.7 151.6,451.3 151.8,450.6 151.9,449.8 152.1,448.9 152.3,447.8 152.4,446.7 152.6,445.5 152.8,444.2 152.9,443.0 153.1,441.7 153.3,440.5 153.5,439.5 153.6,438.6 153.8,438.3 154.0,438.4 154.1,439.0 154.3,440.1 154.5,441.6 154.6,443.4 154.8,445.7 155.0,448.4 155.2,451.6 155.3,455.0 155.5,458.6 155.7,462.1 155.8,465.3 156.0,468.1 156.2,470.3 156.3,471.8 156.5,472.5 156.7,472.5 156.8,472.1 157.0,471.4 157.2,470.6 157.4,469.7 157.5,468.7 157.7,467.9 157.9,467.1 158.0,466.5 158.2,466.2 158.4,466.2 158.5,466.4 158.7,466.8 158.9,467.3 159.1,468.0 159.2,468.7 159.4,469.5 159.6,470.4 159.7,471.2 159.9,472.0 160.1,472.6 160.2,472.6 160.4,472.2 160.6,471.2 160.8,469.8 160.9,467.9 161.1,465.6 161.3,462.8 161.4,459.7 161.6,456.4 161.8,453.0 161.9,449.6 162.1,446.4 162.3,443.5 162.5,441.1 162.6,439.2 162.8,437.9 163.0,437.4 163.1,437.6 163.3,438.6 163.5,440.2 163.6,442.3 163.8,444.8 164.0,447.4 164.1,450.0 164.3,452.2 164.5,454.0 164.7,455.1 164.8,455.7 165.0,455.6 165.2,455.1 165.3,454.2 165.5,452.9 165.7,451.4 165.8,449.7 166.0,448.1 166.2,446.6 166.4,445.3 166.5,444.4 166.7,443.9 166.9,443.8 167.0,444.2 167.2,445.0 167.4,446.3 167.5,447.8 167.7,449.7 167.9,451.8 168.1,454.0 168.2,456.5 168.4,459.0 168.6,461.4 168.7,463.9 168.9,466.2 169.1,468.3 169.2,470.1 169.4,471.7 169.6,472.9 169.8,473.7 169.9,474.2 170.1,474.1 170.3,473.6 170.4,472.8 170.6,471.8 170.8,470.5 170.9,469.1 171.1,467.6 171.3,466.0 171.4,464.4 171.6,462.9 171.8,461.5 172.0,460.2 172.1,459.1 172.3,458.3 172.5,457.7 172.6,457.5 172.8,457.4 173.0,457.6 173.1,458.0 173.3,458.6 173.5,459.4 173.7,460.0 173.8,460.1 174.0,459.9 174.2,459.2 174.3,458.1 174.5,456.5 174.7,454.7 174.8,452.6 175.0,450.2 175.2,447.8 175.4,445.2 175.5,442.8 175.7,440.4 175.9,438.2 176.0,436.3 176.2,434.7 176.4,433.4 176.5,432.6 176.7,432.3 176.9,432.6 177.0,433.5 177.2,435.0 177.4,437.0 177.6,439.6 177.7,442.4 177.9,445.5 178.1,448.8 178.2,451.9 178.4,455.0 178.6,457.7 178.7,460.0 178.9,461.8 179.1,463.1 179.3,463.7 179.4,463.4 179.6,462.0 179.8,459.6 179.9,456.4 180.1,452.7 180.3,448.8 180.4,445.1 180.6,442.0 180.8,439.7 181.0,438.4 181.1,438.0 181.3,438.6 181.5,440.1 181.6,442.4 181.8,445.4 182.0,449.0 182.1,453.1 182.3,457.5 182.5,462.0 182.7,466.5 182.8,470.6 183.0,474.2 183.2,477.0 183.3,479.0 183.5,479.9 183.7,479.9 183.8,479.1 184.0,477.6 184.2,475.6 184.3,473.1 184.5,470.3 184.7,467.2 184.9,464.1 185.0,461.0 185.2,458.0 185.4,455.3 185.5,453.1 185.7,451.3 185.9,450.1 186.0,449.6 186.2,449.6 186.4,450.0 186.6,450.8 186.7,452.0 186.9,453.3 187.1,454.8 187.2,456.3 187.4,457.7 187.6,458.8 187.7,459.6 187.9,460.1 188.1,460.3 188.3,460.0 188.4,459.5 188.6,458.6 188.8,457.4 188.9,456.0 189.1,454.4 189.3,452.6 189.4,450.7 189.6,448.8 189.8,446.9 190.0,445.0 190.1,443.2 190.3,441.6 190.5,440.2 190.6,439.0 190.8,438.2 191.0,437.7 191.1,437.6 191.3,437.9 191.5,438.5 191.6,439.5 191.8,441.0 192.0,442.7 192.2,444.7 192.3,447.0 192.5,449.6 192.7,452.4 192.8,455.2 193.0,458.1 193.2,460.8 193.3,463.2 193.5,465.3 193.7,466.8 193.9,467.8 194.0,468.0 194.2,467.3 194.4,465.8 194.5,463.8 194.7,461.4 194.9,458.9 195.0,456.5 195.2,454.5 195.4,452.9 195.6,452.0 195.7,451.8 195.9,452.3 196.1,453.7 196.2,455.7 196.4,458.2 196.6,461.1 196.7,464.2 196.9,467.4 197.1,470.3 197.2,473.0 197.4,475.1 197.6,476.6 197.8,477.4 197.9,477.4 198.1,476.6 198.3,475.1 198.4,472.8 198.6,469.9 198.8,466.5 198.9,462.7 199.1,458.8 199.3,454.8 199.5,451.1 199.6,447.9 199.8,445.2 200.0,443.2 200.1,442.1 200.3,441.8 200.5,442.1 200.6,442.8 200.8,443.9 201.0,445.2 201.2,446.8 201.3,448.6 201.5,450.4 201.7,452.1 201.8,453.7 202.0,455.0 202.2,456.0 202.3,456.6 202.5,457.0 202.7,457.0 202.9,456.8 203.0,456.4 203.2,455.7 203.4,454.7 203.5,453.4 203.7,452.0 203.9,450.4 204.0,448.8 204.2,447.2 204.4,445.8 204.5,444.5 204.7,443.6 204.9,442.9 205.1,442.7 205.2,442.7 205.4,443.0 205.6,443.6 205.7,444.6 205.9,446.0 206.1,447.6 206.2,449.4 206.4,451.5 206.6,453.6 206.8,455.9 206.9,458.1 207.1,460.4 207.3,462.5 207.4,464.4 207.6,466.1 207.8,467.6 207.9,468.6 208.1,469.1 208.3,469.0 208.5,468.5 208.6,467.5 208.8,466.4 209.0,465.3 209.1,464.4 209.3,463.6 209.5,463.0 209.6,462.6 209.8,462.3 210.0,462.0 210.2,461.8 210.3,461.6 210.5,461.5 210.7,461.3 210.8,461.2 211.0,461.1 211.2,461.0 211.3,460.8 211.5,460.5 211.7,460.3 211.8,459.9 212.0,459.4 212.2,458.9 212.4,458.3 212.5,457.6 212.7,456.7 212.9,455.6 213.0,454.4 213.2,453.1 213.4,451.7 213.5,450.4 213.7,449.3 213.9,448.4 214.1,447.7 214.2,447.4 214.4,447.4 214.6,447.6 214.7,448.0 214.9,448.6 215.1,449.3 215.2,450.1 215.4,450.9 215.6,451.7 215.8,452.5 215.9,453.1 216.1,453.7 216.3,454.1 216.4,454.4 216.6,454.5 216.8,454.5 216.9,454.4 217.1,454.0 217.3,453.3 217.5,452.3 217.6,451.1 217.8,449.9 218.0,449.2 218.1,449.0 218.3,449.2 218.5,450.0 218.6,451.3 218.8,453.0 219.0,455.0 219.1,457.1 219.3,459.3 219.5,461.3 219.7,462.9 219.8,464.3 220.0,465.4 220.2,466.1 220.3,466.3 220.5,466.0 220.7,465.3 220.8,464.3 221.0,463.2 221.2,462.0 221.4,460.7 221.5,459.5 221.7,458.3 221.9,457.2 222.0,456.2 222.2,455.5 222.4,455.1 222.5,455.0 222.7,455.1 222.9,455.4 223.1,455.9 223.2,456.5 223.4,457.1 223.6,457.7 223.7,458.1 223.9,458.6 224.1,459.0 224.2,459.3 224.4,459.6 224.6,459.8 224.7,459.9 224.9,459.9 225.1,459.9 225.3,459.7 225.4,459.3 225.6,458.9 225.8,458.4 225.9,457.8 226.1,457.0 226.3,456.1 226.4,455.0 226.6,453.9 226.8,452.7 227.0,451.7 227.1,450.8 227.3,450.1 227.5,449.7 227.6,449.5 227.8,449.7 228.0,450.0 228.1,450.5 228.3,451.1 228.5,451.8 228.7,452.5 228.8,453.4 229.0,454.3 229.2,455.2 229.3,456.1 229.5,457.0 229.7,457.8 229.8,458.5 230.0,459.2 230.2,459.7 230.4,460.0 230.5,460.2 230.7,460.4 230.9,460.6 231.0,460.9 231.2,461.2 231.4,461.4 231.5,461.5 231.7,461.5 231.9,461.3 232.0,460.8 232.2,460.1 232.4,459.2 232.6,458.3 232.7,457.3 232.9,456.5 233.1,455.7 233.2,455.1 233.4,454.8 233.6,454.6 233.7,454.7 233.9,451.6 234.1,451.6 234.3,451.9 234.4,452.4" fill="none" stroke="#e0571c" stroke-width="1.4" stroke-linejoin="round" stroke-dasharray="2.6,0.75,1.1,0.75" clip-path="url(#cB2)"/>
<line x1="76.73" y1="503.00" x2="76.73" y2="409.80" stroke="#2a2a2a" stroke-width="1.5" stroke-dasharray="3.3,3.45"/>
<line x1="77.23" y1="491.80" x2="90.73" y2="491.80" stroke="#9a9a9a" stroke-width="1.5"/>
<path d="M90.73,491.80 l-5,-1.8 l0.8,1.8 l-0.8,1.8 z" fill="#1a1a1a"/>
<text x="92.93" y="494.60" text-anchor="start" font-size="8.1">Reconstructed part</text>
<g stroke="#a3a3a3" stroke-width="1.6"><rect x="27.50" y="409.80" width="203.70" height="93.20" fill="none"/><line x1="27.50" y1="503.00" x2="27.50" y2="500.80"/><line x1="27.50" y1="409.80" x2="27.50" y2="412.00"/><line x1="61.45" y1="503.00" x2="61.45" y2="500.80"/><line x1="61.45" y1="409.80" x2="61.45" y2="412.00"/><line x1="95.40" y1="503.00" x2="95.40" y2="500.80"/><line x1="95.40" y1="409.80" x2="95.40" y2="412.00"/><line x1="129.35" y1="503.00" x2="129.35" y2="500.80"/><line x1="129.35" y1="409.80" x2="129.35" y2="412.00"/><line x1="163.30" y1="503.00" x2="163.30" y2="500.80"/><line x1="163.30" y1="409.80" x2="163.30" y2="412.00"/><line x1="197.25" y1="503.00" x2="197.25" y2="500.80"/><line x1="197.25" y1="409.80" x2="197.25" y2="412.00"/><line x1="231.20" y1="503.00" x2="231.20" y2="500.80"/><line x1="231.20" y1="409.80" x2="231.20" y2="412.00"/><line x1="27.50" y1="503.00" x2="29.70" y2="503.00"/><line x1="231.20" y1="503.00" x2="229.00" y2="503.00"/><line x1="27.50" y1="487.47" x2="29.70" y2="487.47"/><line x1="231.20" y1="487.47" x2="229.00" y2="487.47"/><line x1="27.50" y1="471.93" x2="29.70" y2="471.93"/><line x1="231.20" y1="471.93" x2="229.00" y2="471.93"/><line x1="27.50" y1="456.40" x2="29.70" y2="456.40"/><line x1="231.20" y1="456.40" x2="229.00" y2="456.40"/><line x1="27.50" y1="440.87" x2="29.70" y2="440.87"/><line x1="231.20" y1="440.87" x2="229.00" y2="440.87"/><line x1="27.50" y1="425.33" x2="29.70" y2="425.33"/><line x1="231.20" y1="425.33" x2="229.00" y2="425.33"/><line x1="27.50" y1="409.80" x2="29.70" y2="409.80"/><line x1="231.20" y1="409.80" x2="229.00" y2="409.80"/></g>
<g font-family="Liberation Sans, Arial, sans-serif" font-weight="bold" font-size="7.9" fill="#333333"><text x="27.20" y="513.90" text-anchor="middle">14</text><text x="61.15" y="513.90" text-anchor="middle">16</text><text x="95.10" y="513.90" text-anchor="middle">18</text><text x="129.05" y="513.90" text-anchor="middle">20</text><text x="163.00" y="513.90" text-anchor="middle">22</text><text x="196.95" y="513.90" text-anchor="middle">24</text><text x="230.90" y="513.90" text-anchor="middle">26</text><text x="24.20" y="505.60" text-anchor="end">-3</text><text x="24.20" y="490.07" text-anchor="end">-2</text><text x="24.20" y="474.53" text-anchor="end">-1</text><text x="24.20" y="459.00" text-anchor="end">0</text><text x="24.20" y="443.47" text-anchor="end">1</text><text x="24.20" y="427.93" text-anchor="end">2</text><text x="24.20" y="412.40" text-anchor="end">3</text></g>
<text x="129.35" y="525.80" text-anchor="middle" font-size="9.0">Time (s)</text>
<text transform="translate(14.0,456.40) rotate(-90)" text-anchor="middle" font-size="8.9">Amplitude (gal)</text>
<clipPath id="cB3"><rect x="296.40" y="409.50" width="204.10" height="93.50"/></clipPath>
<g stroke="#f5f5f5" stroke-width="0.8"><line x1="296.40" y1="409.50" x2="296.40" y2="503.00"/><line x1="304.02" y1="409.50" x2="304.02" y2="503.00"/><line x1="311.64" y1="409.50" x2="311.64" y2="503.00"/><line x1="319.26" y1="409.50" x2="319.26" y2="503.00"/><line x1="326.89" y1="409.50" x2="326.89" y2="503.00"/><line x1="334.51" y1="409.50" x2="334.51" y2="503.00"/><line x1="342.13" y1="409.50" x2="342.13" y2="503.00"/><line x1="349.75" y1="409.50" x2="349.75" y2="503.00"/><line x1="357.37" y1="409.50" x2="357.37" y2="503.00"/><line x1="364.99" y1="409.50" x2="364.99" y2="503.00"/><line x1="372.61" y1="409.50" x2="372.61" y2="503.00"/><line x1="380.23" y1="409.50" x2="380.23" y2="503.00"/><line x1="387.86" y1="409.50" x2="387.86" y2="503.00"/><line x1="395.48" y1="409.50" x2="395.48" y2="503.00"/><line x1="403.10" y1="409.50" x2="403.10" y2="503.00"/><line x1="410.72" y1="409.50" x2="410.72" y2="503.00"/><line x1="418.34" y1="409.50" x2="418.34" y2="503.00"/><line x1="425.96" y1="409.50" x2="425.96" y2="503.00"/><line x1="433.58" y1="409.50" x2="433.58" y2="503.00"/><line x1="441.21" y1="409.50" x2="441.21" y2="503.00"/><line x1="448.83" y1="409.50" x2="448.83" y2="503.00"/><line x1="456.45" y1="409.50" x2="456.45" y2="503.00"/><line x1="464.07" y1="409.50" x2="464.07" y2="503.00"/><line x1="471.69" y1="409.50" x2="471.69" y2="503.00"/><line x1="479.31" y1="409.50" x2="479.31" y2="503.00"/><line x1="486.93" y1="409.50" x2="486.93" y2="503.00"/><line x1="494.56" y1="409.50" x2="494.56" y2="503.00"/><line x1="296.40" y1="503.00" x2="500.50" y2="503.00"/><line x1="296.40" y1="493.65" x2="500.50" y2="493.65"/><line x1="296.40" y1="484.30" x2="500.50" y2="484.30"/><line x1="296.40" y1="474.95" x2="500.50" y2="474.95"/><line x1="296.40" y1="465.60" x2="500.50" y2="465.60"/><line x1="296.40" y1="456.25" x2="500.50" y2="456.25"/><line x1="296.40" y1="446.90" x2="500.50" y2="446.90"/><line x1="296.40" y1="437.55" x2="500.50" y2="437.55"/><line x1="296.40" y1="428.20" x2="500.50" y2="428.20"/><line x1="296.40" y1="418.85" x2="500.50" y2="418.85"/><line x1="296.40" y1="409.50" x2="500.50" y2="409.50"/></g>
<g stroke="#eeeeee" stroke-width="0.8"><line x1="296.40" y1="409.50" x2="296.40" y2="503.00"/><line x1="326.89" y1="409.50" x2="326.89" y2="503.00"/><line x1="357.37" y1="409.50" x2="357.37" y2="503.00"/><line x1="387.86" y1="409.50" x2="387.86" y2="503.00"/><line x1="418.34" y1="409.50" x2="418.34" y2="503.00"/><line x1="448.83" y1="409.50" x2="448.83" y2="503.00"/><line x1="479.31" y1="409.50" x2="479.31" y2="503.00"/><line x1="296.40" y1="503.00" x2="500.50" y2="503.00"/><line x1="296.40" y1="456.25" x2="500.50" y2="456.25"/><line x1="296.40" y1="409.50" x2="500.50" y2="409.50"/></g>
<polyline points="294.9,442.3 295.0,442.3 295.2,442.5 295.3,442.5 295.5,441.7 295.6,440.1 295.8,439.3 295.9,438.2 296.1,435.3 296.2,430.0 296.4,425.8 296.6,425.1 296.7,427.1 296.9,430.1 297.0,432.2 297.2,432.5 297.3,432.2 297.5,431.9 297.6,432.7 297.8,434.8 297.9,437.9 298.1,441.5 298.2,444.9 298.4,447.7 298.5,448.8 298.7,447.8 298.8,445.9 299.0,444.9 299.1,445.7 299.3,447.5 299.4,449.4 299.6,450.8 299.8,451.6 299.9,452.0 300.1,452.6 300.2,453.9 300.4,456.3 300.5,460.9 300.7,466.1 300.8,469.9 301.0,470.9 301.1,470.7 301.3,472.5 301.4,475.3 301.6,478.1 301.7,480.2 301.9,481.9 302.0,483.2 302.2,484.2 302.3,484.5 302.5,484.0 302.6,481.9 302.8,479.0 303.0,476.8 303.1,476.0 303.3,475.8 303.4,474.7 303.6,472.0 303.7,469.2 303.9,466.4 304.0,463.7 304.2,460.7 304.3,457.8 304.5,455.6 304.6,454.4 304.8,453.8 304.9,452.9 305.1,452.0 305.2,452.0 305.4,453.3 305.5,454.3 305.7,453.4 305.9,451.3 306.0,448.6 306.2,445.7 306.3,443.2 306.5,441.5 306.6,441.1 306.8,441.5 306.9,441.4 307.1,440.3 307.2,438.5 307.4,436.4 307.5,434.5 307.7,433.4 307.8,433.1 308.0,432.8 308.1,432.6 308.3,433.1 308.4,434.6 308.6,437.8 308.7,442.4 308.9,447.2 309.1,451.0 309.2,452.5 309.4,451.2 309.5,450.2 309.7,452.0 309.8,455.5 310.0,459.2 310.1,461.5 310.3,461.0 310.4,457.4 310.6,452.3 310.7,448.2 310.9,446.6 311.0,446.2 311.2,446.6 311.3,447.2 311.5,447.4 311.6,447.3 311.8,447.7 311.9,448.3 312.1,449.1 312.3,449.5 312.4,449.5 312.6,449.5 312.7,450.3 312.9,452.2 313.0,454.9 313.2,457.4 313.3,458.9 313.5,459.8 313.6,460.6 313.8,461.8 313.9,464.8 314.1,469.1 314.2,472.5 314.4,473.5 314.5,472.0 314.7,470.0 314.8,469.6 315.0,469.5 315.1,469.1 315.3,468.5 315.5,467.7 315.6,466.4 315.8,463.8 315.9,460.7 316.1,458.4 316.2,457.5 316.4,458.2 316.5,459.7 316.7,460.9 316.8,460.9 317.0,459.4 317.1,457.1 317.3,454.5 317.4,452.8 317.6,452.2 317.7,451.6 317.9,450.8 318.0,450.0 318.2,449.5 318.3,449.1 318.5,448.8 318.7,448.3 318.8,447.6 319.0,447.2 319.1,447.7 319.3,448.5 319.4,448.6 319.6,447.3 319.7,443.8 319.9,440.1 320.0,438.4 320.2,438.3 320.3,438.9 320.5,439.2 320.6,438.5 320.8,437.9 320.9,437.4 321.1,436.9 321.2,435.1 321.4,431.9 321.6,429.2 321.7,429.0 321.9,432.3 322.0,436.6 322.2,438.6 322.3,439.3 322.5,439.9 322.6,440.5 322.8,441.3 322.9,442.5 323.1,443.0 323.2,442.7 323.4,442.8 323.5,443.5 323.7,444.1 323.8,444.4 324.0,444.4 324.1,444.2 324.3,444.2 324.4,444.3 324.6,444.0 324.8,443.0 324.9,441.6 325.1,440.2 325.2,439.2 325.4,438.8 325.5,439.6 325.7,441.8 325.8,444.7 326.0,447.4 326.1,449.4 326.3,450.9 326.4,452.1 326.6,453.5 326.7,454.1 326.9,453.7 327.0,456.2 327.2,456.2 327.3,456.2 327.5,456.2 327.6,456.2 327.8,456.2 328.0,456.2 328.1,456.2 328.3,456.2 328.4,456.2 328.6,456.2 328.7,456.2 328.9,456.2 329.0,456.2 329.2,456.2 329.3,456.2 329.5,456.2 329.6,456.2 329.8,456.2 329.9,456.2 330.1,456.2 330.2,456.2 330.4,456.2 330.5,456.2 330.7,456.2 330.8,456.2 331.0,456.2 331.2,456.2 331.3,456.2 331.5,456.2 331.6,456.2 331.8,456.2 331.9,456.2 332.1,456.2 332.2,456.2 332.4,456.2 332.5,456.2 332.7,456.2 332.8,456.2 333.0,456.2 333.1,456.2 333.3,456.2 333.4,456.2 333.6,456.2 333.7,456.2 333.9,456.2 334.0,456.2 334.2,456.2 334.4,456.2 334.5,456.2 334.7,456.2 334.8,456.2 335.0,456.2 335.1,456.2 335.3,456.2 335.4,456.2 335.6,456.2 335.7,456.2 335.9,456.2 336.0,456.2 336.2,456.2 336.3,456.2 336.5,456.2 336.6,456.2 336.8,456.2 336.9,456.2 337.1,456.2 337.3,456.2 337.4,456.2 337.6,456.2 337.7,456.2 337.9,456.2 338.0,456.2 338.2,456.2 338.3,456.2 338.5,456.2 338.6,456.2 338.8,456.2 338.9,456.2 339.1,456.2 339.2,456.2 339.4,456.2 339.5,456.2 339.7,456.2 339.8,456.2 340.0,456.2 340.1,456.2 340.3,456.2 340.5,456.2 340.6,456.2 340.8,456.2 340.9,456.2 341.1,456.2 341.2,456.2 341.4,456.2 341.5,456.2 341.7,456.2 341.8,456.2 342.0,456.2 342.1,456.2 342.3,456.2 342.4,456.2 342.6,456.2 342.7,456.2 342.9,456.2 343.0,456.2 343.2,456.2 343.3,456.2 343.5,456.2 343.7,456.2 343.8,456.2 344.0,456.2 344.1,456.2 344.3,456.2 344.4,456.2 344.6,456.2 344.7,456.2 344.9,456.2 345.0,456.2 345.2,456.2 345.3,456.2 345.5,456.2 345.6,456.2 345.8,456.2 345.9,456.2 346.1,456.2 346.2,456.2 346.4,456.2 346.5,456.2 346.7,456.2 346.9,456.2 347.0,456.2 347.2,456.2 347.3,456.2 347.5,456.2 347.6,456.2 347.8,456.2 347.9,456.2 348.1,456.2 348.2,456.2 348.4,456.2 348.5,456.2 348.7,456.2 348.8,456.2 349.0,456.2 349.1,456.2 349.3,456.2 349.4,456.2 349.6,456.2 349.7,456.2 349.9,456.2 350.1,456.2 350.2,456.2 350.4,456.2 350.5,456.2 350.7,456.2 350.8,456.2 351.0,456.2 351.1,456.2 351.3,456.2 351.4,456.2 351.6,456.2 351.7,456.2 351.9,456.2 352.0,456.2 352.2,456.2 352.3,456.2 352.5,456.2 352.6,456.2 352.8,456.2 353.0,456.2 353.1,456.2 353.3,456.2 353.4,456.2 353.6,456.2 353.7,456.2 353.9,456.2 354.0,456.2 354.2,456.2 354.3,456.2 354.5,456.2 354.6,456.2 354.8,456.2 354.9,456.2 355.1,456.2 355.2,456.2 355.4,456.2 355.5,456.2 355.7,456.2 355.8,456.2 356.0,456.2 356.2,456.2 356.3,456.2 356.5,456.2 356.6,456.2 356.8,456.2 356.9,456.2 357.1,456.2 357.2,456.2 357.4,456.2 357.5,456.2 357.7,456.2 357.8,456.2 358.0,456.2 358.1,456.2 358.3,456.2 358.4,456.2 358.6,456.2 358.7,456.2 358.9,456.2 359.0,456.2 359.2,456.2 359.4,456.2 359.5,456.2 359.7,456.2 359.8,456.2 360.0,456.2 360.1,456.2 360.3,456.2 360.4,456.2 360.6,456.2 360.7,456.2 360.9,456.2 361.0,456.2 361.2,456.2 361.3,456.2 361.5,456.2 361.6,456.2 361.8,456.2 361.9,456.2 362.1,456.2 362.2,456.2 362.4,456.2 362.6,456.2 362.7,456.2 362.9,456.2 363.0,456.2 363.2,456.2 363.3,456.2 363.5,456.2 363.6,456.2 363.8,456.2 363.9,456.2 364.1,456.2 364.2,456.2 364.4,456.2 364.5,456.2 364.7,456.2 364.8,456.2 365.0,456.2 365.1,456.2 365.3,456.2 365.4,456.2 365.6,456.2 365.8,456.2 365.9,456.2 366.1,456.2 366.2,456.2 366.4,456.2 366.5,456.2 366.7,456.2 366.8,456.2 367.0,456.2 367.1,456.2 367.3,456.2 367.4,456.2 367.6,456.2 367.7,456.2 367.9,456.2 368.0,456.2 368.2,456.2 368.3,456.2 368.5,456.2 368.7,456.2 368.8,456.2 369.0,456.2 369.1,456.2 369.3,456.2 369.4,456.2 369.6,456.2 369.7,456.2 369.9,456.2 370.0,456.2 370.2,456.2 370.3,456.2 370.5,456.2 370.6,456.2 370.8,456.2 370.9,456.2 371.1,456.2 371.2,456.2 371.4,456.2 371.5,456.2 371.7,456.2 371.9,456.2 372.0,456.2 372.2,456.2 372.3,456.2 372.5,456.2 372.6,456.2 372.8,456.2 372.9,456.2 373.1,456.2 373.2,456.2 373.4,456.2 373.5,456.2 373.7,456.2 373.8,456.2 374.0,456.2 374.1,456.2 374.3,456.2 374.4,456.2 374.6,456.2 374.7,456.2 374.9,456.2 375.1,456.2 375.2,456.2 375.4,456.2 375.5,456.2 375.7,456.2 375.8,456.2 376.0,456.2 376.1,456.2 376.3,456.2 376.4,456.2 376.6,456.2 376.7,456.2 376.9,456.2 377.0,456.2 377.2,456.2 377.3,456.2 377.5,456.2 377.6,456.2 377.8,456.2 377.9,456.2 378.1,456.2 378.3,456.2 378.4,456.2 378.6,456.2 378.7,456.2 378.9,456.2 379.0,456.2 379.2,456.2 379.3,456.2 379.5,456.2 379.6,456.2 379.8,456.2 379.9,456.2 380.1,456.2 380.2,456.2 380.4,456.2 380.5,456.2 380.7,456.2 380.8,456.2 381.0,456.2 381.1,456.2 381.3,456.2 381.5,456.2 381.6,456.2 381.8,456.2 381.9,456.2 382.1,456.2 382.2,456.2 382.4,456.2 382.5,456.2 382.7,456.2 382.8,456.2 383.0,456.2 383.1,456.2 383.3,456.2 383.4,456.2 383.6,456.2 383.7,456.2 383.9,456.2 384.0,456.2 384.2,456.2 384.4,456.2 384.5,456.2 384.7,456.2 384.8,456.2 385.0,456.2 385.1,456.2 385.3,456.2 385.4,456.2 385.6,456.2 385.7,456.2 385.9,456.2 386.0,456.2 386.2,456.2 386.3,456.2 386.5,456.2 386.6,456.2 386.8,456.2 386.9,456.2 387.1,456.2 387.2,456.2 387.4,456.2 387.6,456.2 387.7,456.2 387.9,456.2 388.0,456.2 388.2,456.2 388.3,456.2 388.5,456.2 388.6,456.2 388.8,456.2 388.9,456.2 389.1,456.2 389.2,456.2 389.4,456.2 389.5,456.2 389.7,456.2 389.8,456.2 390.0,456.2 390.1,456.2 390.3,456.2 390.4,456.2 390.6,456.2 390.8,456.2 390.9,456.2 391.1,456.2 391.2,456.2 391.4,456.2 391.5,456.2 391.7,456.2 391.8,456.2 392.0,456.2 392.1,456.2 392.3,456.2 392.4,456.2 392.6,456.2 392.7,456.2 392.9,456.2 393.0,456.2 393.2,456.2 393.3,456.2 393.5,456.2 393.6,456.2 393.8,456.2 394.0,456.2 394.1,456.2 394.3,456.2 394.4,456.2 394.6,456.2 394.7,456.2 394.9,456.2 395.0,456.2 395.2,456.2 395.3,456.2 395.5,456.2 395.6,456.2 395.8,456.2 395.9,456.2 396.1,456.2 396.2,456.2 396.4,456.2 396.5,456.2 396.7,456.2 396.8,456.2 397.0,456.2 397.2,456.2 397.3,456.2 397.5,456.2 397.6,456.2 397.8,456.2 397.9,456.2 398.1,456.2 398.2,456.2 398.4,456.2 398.5,456.2 398.7,456.2 398.8,456.2 399.0,456.2 399.1,456.2 399.3,456.2 399.4,456.2 399.6,456.2 399.7,456.2 399.9,456.2 400.1,456.2 400.2,456.2 400.4,456.2 400.5,456.2 400.7,456.2 400.8,456.2 401.0,456.2 401.1,456.2 401.3,456.2 401.4,456.2 401.6,456.2 401.7,456.2 401.9,456.2 402.0,456.2 402.2,456.2 402.3,456.2 402.5,456.2 402.6,456.2 402.8,456.2 402.9,456.2 403.1,456.2 403.3,456.2 403.4,456.2 403.6,456.2 403.7,456.2 403.9,456.2 404.0,456.2 404.2,456.2 404.3,456.2 404.5,456.2 404.6,456.2 404.8,456.2 404.9,456.2 405.1,456.2 405.2,456.2 405.4,456.2 405.5,456.2 405.7,456.2 405.8,456.2 406.0,456.2 406.1,456.2 406.3,456.2 406.5,456.2 406.6,456.2 406.8,456.2 406.9,456.2 407.1,456.2 407.2,456.2 407.4,456.2 407.5,456.2 407.7,456.2 407.8,456.2 408.0,456.2 408.1,456.2 408.3,456.2 408.4,456.2 408.6,456.2 408.7,456.2 408.9,456.2 409.0,456.2 409.2,456.2 409.3,456.2 409.5,456.2 409.7,456.2 409.8,456.2 410.0,456.2 410.1,456.2 410.3,456.2 410.4,456.2 410.6,456.2 410.7,456.2 410.9,456.2 411.0,456.2 411.2,456.2 411.3,456.2 411.5,456.2 411.6,456.2 411.8,456.2 411.9,456.2 412.1,456.2 412.2,456.2 412.4,456.2 412.5,456.2 412.7,456.2 412.9,456.2 413.0,456.2 413.2,456.2 413.3,456.2 413.5,456.2 413.6,456.2 413.8,456.2 413.9,456.2 414.1,456.2 414.2,456.2 414.4,456.2 414.5,456.2 414.7,456.2 414.8,456.2 415.0,456.2 415.1,456.2 415.3,456.2 415.4,456.2 415.6,456.2 415.8,456.2 415.9,456.2 416.1,456.2 416.2,456.2 416.4,456.2 416.5,456.2 416.7,456.2 416.8,456.2 417.0,456.2 417.1,456.2 417.3,456.2 417.4,456.2 417.6,456.2 417.7,456.2 417.9,456.2 418.0,456.2 418.2,456.2 418.3,456.2 418.5,456.2 418.6,456.2 418.8,456.2 419.0,456.2 419.1,456.2 419.3,456.2 419.4,456.2 419.6,456.2 419.7,456.2 419.9,456.2 420.0,456.2 420.2,456.2 420.3,456.2 420.5,456.2 420.6,456.2 420.8,456.2 420.9,456.2 421.1,456.2 421.2,456.2 421.4,456.2 421.5,456.2 421.7,456.2 421.8,456.2 422.0,456.2 422.2,456.2 422.3,456.2 422.5,456.2 422.6,456.2 422.8,456.2 422.9,456.2 423.1,456.2 423.2,456.2 423.4,456.2 423.5,456.2 423.7,456.2 423.8,456.2 424.0,456.2 424.1,456.2 424.3,456.2 424.4,456.2 424.6,456.2 424.7,456.2 424.9,456.2 425.0,456.2 425.2,456.2 425.4,456.2 425.5,456.2 425.7,456.2 425.8,456.2 426.0,456.2 426.1,456.2 426.3,456.2 426.4,456.2 426.6,456.2 426.7,456.2 426.9,456.2 427.0,456.2 427.2,456.2 427.3,456.2 427.5,456.2 427.6,456.2 427.8,456.2 427.9,456.2 428.1,456.2 428.2,456.2 428.4,456.2 428.6,456.2 428.7,456.2 428.9,456.2 429.0,456.2 429.2,456.2 429.3,456.2 429.5,456.2 429.6,456.2 429.8,456.2 429.9,456.2 430.1,456.2 430.2,456.2 430.4,456.2 430.5,456.2 430.7,456.2 430.8,456.2 431.0,456.2 431.1,456.2 431.3,456.2 431.5,456.2 431.6,456.2 431.8,456.2 431.9,456.2 432.1,456.2 432.2,456.2 432.4,456.2 432.5,456.2 432.7,456.2 432.8,456.2 433.0,456.2 433.1,456.2 433.3,456.2 433.4,456.2 433.6,456.2 433.7,456.2 433.9,456.2 434.0,456.2 434.2,456.2 434.3,456.2 434.5,456.2 434.7,456.2 434.8,456.2 435.0,456.2 435.1,456.2 435.3,456.2 435.4,456.2 435.6,456.2 435.7,456.2 435.9,456.2 436.0,456.2 436.2,456.2 436.3,456.2 436.5,456.2 436.6,456.2 436.8,456.2 436.9,456.2 437.1,456.2 437.2,456.2 437.4,456.2 437.5,456.2 437.7,456.2 437.9,456.2 438.0,456.2 438.2,456.2 438.3,456.2 438.5,456.2 438.6,456.2 438.8,456.2 438.9,456.2 439.1,456.2 439.2,456.2 439.4,456.2 439.5,456.2 439.7,456.2 439.8,456.2 440.0,456.2 440.1,456.2 440.3,456.2 440.4,456.2 440.6,456.2 440.7,456.2 440.9,456.2 441.1,456.2 441.2,456.2 441.4,456.2 441.5,456.2 441.7,456.2 441.8,456.2 442.0,456.2 442.1,456.2 442.3,456.2 442.4,456.2 442.6,456.2 442.7,456.2 442.9,456.2 443.0,456.2 443.2,456.2 443.3,456.2 443.5,456.2 443.6,456.2 443.8,456.2 443.9,456.2 444.1,456.2 444.3,456.2 444.4,456.2 444.6,456.2 444.7,456.2 444.9,456.2 445.0,456.2 445.2,456.2 445.3,456.2 445.5,456.2 445.6,456.2 445.8,456.2 445.9,456.2 446.1,456.2 446.2,456.2 446.4,456.2 446.5,456.2 446.7,456.2 446.8,456.2 447.0,456.2 447.2,456.2 447.3,456.2 447.5,456.2 447.6,456.2 447.8,456.2 447.9,456.2 448.1,456.2 448.2,456.2 448.4,456.2 448.5,456.2 448.7,456.2 448.8,456.2 449.0,456.2 449.1,456.2 449.3,456.2 449.4,456.2 449.6,456.2 449.7,456.2 449.9,456.2 450.0,456.2 450.2,456.2 450.4,456.2 450.5,456.2 450.7,456.2 450.8,456.2 451.0,456.2 451.1,456.2 451.3,456.2 451.4,456.2 451.6,456.2 451.7,456.2 451.9,456.2 452.0,456.2 452.2,456.2 452.3,456.2 452.5,456.2 452.6,456.2 452.8,456.2 452.9,456.2 453.1,456.2 453.2,456.2 453.4,456.2 453.6,456.2 453.7,456.2 453.9,456.2 454.0,456.2 454.2,456.2 454.3,456.2 454.5,456.2 454.6,456.2 454.8,456.2 454.9,456.2 455.1,456.2 455.2,456.2 455.4,456.2 455.5,456.2 455.7,456.2 455.8,456.2 456.0,456.2 456.1,456.2 456.3,456.2 456.4,456.2 456.6,456.2 456.8,456.2 456.9,456.2 457.1,456.2 457.2,456.2 457.4,456.2 457.5,456.2 457.7,456.2 457.8,456.2 458.0,456.2 458.1,456.2 458.3,456.2 458.4,456.2 458.6,456.2 458.7,456.2 458.9,456.2 459.0,456.2 459.2,456.2 459.3,456.2 459.5,456.2 459.6,456.2 459.8,456.2 460.0,456.2 460.1,456.2 460.3,456.2 460.4,456.2 460.6,456.2 460.7,456.2 460.9,456.2 461.0,456.2 461.2,456.2 461.3,456.2 461.5,456.2 461.6,456.2 461.8,456.2 461.9,456.2 462.1,456.2 462.2,456.2 462.4,456.2 462.5,456.2 462.7,456.2 462.9,456.2 463.0,456.2 463.2,456.2 463.3,456.2 463.5,456.2 463.6,456.2 463.8,456.2 463.9,456.2 464.1,456.2 464.2,456.2 464.4,456.2 464.5,456.2 464.7,456.2 464.8,456.2 465.0,456.2 465.1,456.2 465.3,456.2 465.4,456.2 465.6,456.2 465.7,456.2 465.9,456.2 466.1,456.2 466.2,456.2 466.4,456.2 466.5,456.2 466.7,456.2 466.8,456.2 467.0,456.2 467.1,456.2 467.3,456.2 467.4,456.2 467.6,456.2 467.7,456.2 467.9,456.2 468.0,456.2 468.2,456.2 468.3,456.2 468.5,456.2 468.6,456.2 468.8,456.2 468.9,456.2 469.1,456.2 469.3,456.2 469.4,456.2 469.6,456.2 469.7,456.2 469.9,456.2 470.0,456.2 470.2,456.2 470.3,456.2 470.5,456.2 470.6,456.2 470.8,456.2 470.9,456.2 471.1,456.2 471.2,456.2 471.4,456.2 471.5,456.2 471.7,456.2 471.8,456.2 472.0,456.2 472.1,456.2 472.3,456.2 472.5,456.2 472.6,456.2 472.8,456.2 472.9,456.2 473.1,456.2 473.2,456.2 473.4,456.2 473.5,456.2 473.7,456.2 473.8,456.2 474.0,456.2 474.1,456.2 474.3,456.2 474.4,456.2 474.6,456.2 474.7,456.2 474.9,456.2 475.0,456.2 475.2,456.2 475.3,456.2 475.5,456.2 475.7,456.2 475.8,456.2 476.0,456.2 476.1,456.2 476.3,456.2 476.4,456.2 476.6,456.2 476.7,456.2 476.9,456.2 477.0,456.2 477.2,456.2 477.3,456.2 477.5,456.2 477.6,456.2 477.8,456.2 477.9,456.2 478.1,456.2 478.2,456.2 478.4,456.2 478.6,456.2 478.7,456.2 478.9,456.2 479.0,456.2 479.2,456.2 479.3,456.2 479.5,456.2 479.6,456.2 479.8,456.2 479.9,456.2 480.1,456.2 480.2,456.2 480.4,456.2 480.5,456.2 480.7,456.2 480.8,456.2 481.0,456.2 481.1,456.2 481.3,456.2 481.4,456.2 481.6,456.2 481.8,456.2 481.9,456.2 482.1,456.2 482.2,456.2 482.4,456.2 482.5,456.2 482.7,456.2 482.8,456.2 483.0,456.2 483.1,456.2 483.3,456.2 483.4,456.2 483.6,456.2 483.7,456.2 483.9,456.2 484.0,456.2 484.2,456.2 484.3,456.2 484.5,456.2 484.6,456.2 484.8,456.2 485.0,456.2 485.1,456.2 485.3,456.2 485.4,456.2 485.6,456.2 485.7,456.2 485.9,456.2 486.0,456.2 486.2,456.2 486.3,460.7 486.5,459.1 486.6,457.5 486.8,455.8 486.9,454.1 487.1,452.4 487.2,450.9 487.4,449.5 487.5,448.3 487.7,447.3 487.8,446.6 488.0,446.1 488.2,446.0 488.3,446.1 488.5,446.7 488.6,447.5 488.8,448.5 488.9,449.8 489.1,451.1 489.2,452.4 489.4,453.7 489.5,454.7 489.7,455.6 489.8,456.1 490.0,456.2 490.1,455.5 490.3,453.5 490.4,450.3 490.6,446.2 490.7,441.8 490.9,437.3 491.0,433.2 491.2,430.0 491.4,428.0 491.5,427.3 491.7,427.6 491.8,428.5 492.0,430.1 492.1,432.2 492.3,434.7 492.4,437.7 492.6,440.8 492.7,444.1 492.9,447.4 493.0,450.5 493.2,453.4 493.3,456.0 493.5,458.1 493.6,459.6 493.8,460.6 493.9,460.9 494.1,460.7 494.3,460.2 494.4,459.3 494.6,458.2 494.7,456.9 494.9,455.6 495.0,454.3 495.2,453.2 495.3,452.3 495.5,451.8 495.6,451.6 495.8,451.7 495.9,452.2 496.1,452.9 496.2,453.9 496.4,455.1 496.5,456.6 496.7,458.2 496.8,460.0 497.0,462.0 497.1,464.0 497.3,466.1 497.5,468.1 497.6,470.2 497.8,472.1 497.9,473.9 498.1,475.6 498.2,477.0 498.4,478.3 498.5,479.3 498.7,480.0 498.8,480.4 499.0,480.6 499.1,480.3 499.3,479.4 499.4,478.0 499.6,476.0 499.7,473.7 499.9,471.0 500.0,468.1 500.2,465.1 500.3,462.1 500.5,459.2 500.7,456.6 500.8,454.2 501.0,452.3 501.1,450.9 501.3,450.0 501.4,449.7 501.6,439.3 501.7,437.1 501.9,434.9 502.0,432.7 502.2,430.5" fill="none" stroke="#2a84cc" stroke-width="1.3" stroke-linejoin="round" clip-path="url(#cB3)"/>
<polyline points="294.9,450.0 295.0,450.1 295.2,450.5 295.3,450.4 295.5,449.3 295.6,447.4 295.8,445.4 295.9,443.1 296.1,438.5 296.2,433.8 296.4,431.7 296.6,430.2 296.7,428.7 296.9,427.9 297.0,428.0 297.2,428.5 297.3,429.4 297.5,430.6 297.6,432.7 297.8,436.3 297.9,440.4 298.1,443.9 298.2,446.1 298.4,447.2 298.5,447.9 298.7,448.9 298.8,450.4 299.0,451.5 299.1,452.1 299.3,452.5 299.4,453.0 299.6,456.0 299.8,460.3 299.9,462.8 300.1,462.5 300.2,461.3 300.4,461.5 300.5,462.9 300.7,463.9 300.8,465.0 301.0,467.0 301.1,470.7 301.3,474.7 301.4,477.0 301.6,478.4 301.7,479.3 301.9,480.1 302.0,481.3 302.2,483.4 302.3,485.6 302.5,486.7 302.6,486.2 302.8,485.1 303.0,483.5 303.1,481.8 303.3,480.3 303.4,478.8 303.6,477.2 303.7,475.5 303.9,473.8 304.0,471.8 304.2,468.4 304.3,464.8 304.5,462.6 304.6,460.3 304.8,457.5 304.9,454.9 305.1,452.9 305.2,452.0 305.4,452.2 305.5,453.3 305.7,454.2 305.9,454.1 306.0,453.1 306.2,451.8 306.3,450.2 306.5,448.4 306.6,446.5 306.8,444.6 306.9,443.6 307.1,442.8 307.2,441.3 307.4,440.6 307.5,440.5 307.7,440.4 307.8,439.8 308.0,438.8 308.1,438.4 308.3,439.4 308.4,441.6 308.6,444.0 308.7,446.4 308.9,448.6 309.1,450.3 309.2,451.9 309.4,453.0 309.5,453.4 309.7,453.2 309.8,453.4 310.0,453.5 310.1,453.0 310.3,450.4 310.4,444.9 310.6,439.6 310.7,437.2 310.9,436.6 311.0,436.6 311.2,436.4 311.3,435.6 311.5,435.0 311.6,434.8 311.8,434.9 311.9,435.2 312.1,435.8 312.3,437.0 312.4,438.5 312.6,440.5 312.7,442.8 312.9,445.4 313.0,448.2 313.2,451.2 313.3,454.3 313.5,457.3 313.6,460.3 313.8,463.2 313.9,465.6 314.1,467.7 314.2,469.5 314.4,471.0 314.5,473.5 314.7,476.4 314.8,477.5 315.0,477.6 315.1,477.7 315.3,477.6 315.5,477.2 315.6,475.8 315.8,473.2 315.9,470.3 316.1,468.2 316.2,466.3 316.4,463.7 316.5,461.4 316.7,460.3 316.8,460.6 317.0,460.7 317.1,459.5 317.3,457.7 317.4,455.8 317.6,454.7 317.7,455.2 317.9,456.6 318.0,457.3 318.2,456.5 318.3,454.4 318.5,452.4 318.7,451.3 318.8,451.3 319.0,451.4 319.1,451.4 319.3,450.7 319.4,448.2 319.6,443.9 319.7,441.0 319.9,440.4 320.0,441.2 320.2,442.3 320.3,442.5 320.5,441.2 320.6,439.4 320.8,437.6 320.9,436.2 321.1,434.3 321.2,431.1 321.4,428.4 321.6,428.1 321.7,429.7 321.9,432.7 322.0,436.0 322.2,438.8 322.3,440.4 322.5,441.3 322.6,442.0 322.8,442.8 322.9,444.0 323.1,444.9 323.2,445.0 323.4,444.8 323.5,444.6 323.7,444.5 323.8,444.2 324.0,443.6 324.1,442.7 324.3,441.7 324.4,440.5 324.6,439.3 324.8,438.1 324.9,435.5 325.1,432.9 325.2,432.5 325.4,436.1 325.5,435.2 325.7,439.2 325.8,444.9 326.0,451.3 326.1,457.4 326.3,462.5 326.4,465.9 326.6,468.0 326.7,469.3 326.9,470.6 327.0,472.1 327.2,473.8 327.3,476.0 327.5,478.5 327.6,480.7 327.8,482.1 328.0,482.0 328.1,480.4 328.3,477.5 328.4,473.9 328.6,470.1 328.7,466.8 328.9,464.6 329.0,463.7 329.2,464.1 329.3,465.2 329.5,466.1 329.6,466.0 329.8,464.5 329.9,461.2 330.1,457.2 330.2,453.6 330.4,451.7 330.5,451.9 330.7,453.6 330.8,455.7 331.0,457.2 331.2,457.2 331.3,455.4 331.5,452.3 331.6,448.5 331.8,445.0 331.9,442.4 332.1,440.3 332.2,438.6 332.4,437.1 332.5,435.7 332.7,434.0 332.8,431.1 333.0,425.1 333.1,421.1 333.3,421.1 333.4,423.1 333.6,426.7 333.7,431.2 333.9,435.6 334.0,439.3 334.2,441.7 334.4,442.8 334.5,443.2 334.7,443.7 334.8,444.8 335.0,447.0 335.1,449.7 335.3,452.3 335.4,454.5 335.6,455.8 335.7,456.0 335.9,454.8 336.0,452.3 336.2,448.9 336.3,445.3 336.5,442.3 336.6,440.5 336.8,441.7 336.9,444.0 337.1,444.4 337.3,443.4 337.4,442.0 337.6,440.6 337.7,439.9 337.9,440.2 338.0,442.0 338.2,446.0 338.3,451.7 338.5,456.7 338.6,459.8 338.8,461.8 338.9,463.2 339.1,464.7 339.2,467.0 339.4,471.3 339.5,477.1 339.7,480.9 339.8,481.5 340.0,480.0 340.1,477.4 340.3,474.9 340.5,473.5 340.6,473.2 340.8,473.5 340.9,474.0 341.1,474.3 341.2,473.9 341.4,472.5 341.5,469.4 341.7,464.8 341.8,460.1 342.0,456.7 342.1,455.4 342.3,456.0 342.4,458.0 342.6,460.6 342.7,462.7 342.9,463.6 343.0,462.6 343.2,459.6 343.3,455.9 343.5,453.1 343.7,452.5 343.8,454.0 344.0,456.7 344.1,459.8 344.3,462.2 344.4,463.1 344.6,462.3 344.7,460.2 344.9,457.1 345.0,453.4 345.2,449.5 345.3,446.0 345.5,443.4 345.6,441.5 345.8,439.8 345.9,437.9 346.1,435.3 346.2,431.9 346.4,428.2 346.5,424.8 346.7,422.5 346.9,421.6 347.0,423.0 347.2,428.8 347.3,436.0 347.5,440.6 347.6,441.9 347.8,442.1 347.9,441.6 348.1,441.2 348.2,441.3 348.4,442.5 348.5,445.2 348.7,449.7 348.8,454.4 349.0,457.8 349.1,459.0 349.3,458.7 349.4,457.1 349.6,454.9 349.7,453.0 349.9,452.1 350.1,452.8 350.2,454.8 350.4,458.0 350.5,461.9 350.7,466.0 350.8,469.5 351.0,472.1 351.1,473.2 351.3,472.8 351.4,472.6 351.6,473.8 351.7,476.5 351.9,479.7 352.0,482.5 352.2,483.9 352.3,482.8 352.5,481.2 352.6,481.2 352.8,482.7 353.0,485.1 353.1,487.4 353.3,488.8 353.4,488.5 353.6,486.2 353.7,482.4 353.9,477.6 354.0,472.7 354.2,468.6 354.3,465.7 354.5,464.1 354.6,463.4 354.8,463.0 354.9,462.1 355.1,460.2 355.2,456.8 355.4,452.4 355.5,448.0 355.7,445.0 355.8,444.1 356.0,444.9 356.2,447.0 356.3,449.8 356.5,452.7 356.6,454.8 356.8,455.7 356.9,453.2 357.1,448.5 357.2,445.3 357.4,445.5 357.5,447.9 357.7,450.6 357.8,451.3 358.0,449.5 358.1,446.3 358.3,442.5 358.4,439.4 358.6,437.7 358.7,438.0 358.9,438.7 359.0,437.9 359.2,435.1 359.4,431.3 359.5,427.2 359.7,423.7 359.8,421.9 360.0,423.4 360.1,430.2 360.3,434.9 360.4,434.3 360.6,431.2 360.7,429.1 360.9,430.9 361.0,435.2 361.2,440.8 361.3,446.6 361.5,451.6 361.6,454.9 361.8,456.4 361.9,456.2 362.1,455.0 362.2,453.3 362.4,452.4 362.6,453.1 362.7,455.8 362.9,459.4 363.0,462.9 363.2,465.1 363.3,465.7 363.5,465.0 363.6,464.0 363.8,463.9 363.9,465.6 364.1,469.2 364.2,474.2 364.4,479.6 364.5,484.4 364.7,487.5 364.8,487.7 365.0,483.5 365.1,478.8 365.3,478.0 365.4,479.3 365.6,481.4 365.8,483.5 365.9,484.8 366.1,484.7 366.2,482.7 366.4,478.9 366.5,474.2 366.7,469.9 366.8,467.1 367.0,466.2 367.1,466.7 367.3,467.8 367.4,468.3 367.6,467.3 367.7,463.5 367.9,457.2 368.0,451.4 368.2,449.0 368.3,449.2 368.5,450.9 368.7,453.0 368.8,454.5 369.0,454.2 369.1,451.3 369.3,447.3 369.4,444.5 369.6,444.1 369.7,445.4 369.9,446.0 370.0,444.0 370.2,440.6 370.3,436.5 370.5,432.0 370.6,427.9 370.8,424.7 370.9,422.9 371.1,423.4 371.2,425.7 371.4,427.8 371.5,428.0 371.7,426.0 371.9,423.0 372.0,420.9 372.2,421.5 372.3,424.9 372.5,429.3 372.6,432.3 372.8,432.7 372.9,431.3 373.1,429.3 373.2,428.1 373.4,429.0 373.5,434.2 373.7,442.6 373.8,448.8 374.0,450.4 374.1,450.1 374.3,448.8 374.4,448.0 374.6,448.8 374.7,452.8 374.9,459.2 375.1,463.4 375.2,463.4 375.4,461.4 375.5,460.6 375.7,463.8 375.8,470.4 376.0,475.8 376.1,477.0 376.3,476.3 376.4,474.3 376.6,471.7 376.7,469.4 376.9,468.0 377.0,468.1 377.2,469.6 377.3,472.1 377.5,474.8 377.6,476.8 377.8,477.3 377.9,475.4 378.1,471.4 378.3,468.3 378.4,467.6 378.6,468.0 378.7,468.8 378.9,469.6 379.0,469.7 379.2,468.8 379.3,466.7 379.5,464.0 379.6,461.2 379.8,459.2 379.9,458.8 380.1,461.2 380.2,463.9 380.4,464.2 380.5,462.0 380.7,458.5 380.8,454.5 381.0,450.9 381.1,448.6 381.3,448.1 381.5,449.1 381.6,450.5 381.8,451.2 381.9,450.3 382.1,448.1 382.2,445.1 382.4,441.8 382.5,438.7 382.7,436.5 382.8,435.4 383.0,435.3 383.1,435.8 383.3,436.6 383.4,437.1 383.6,437.1 383.7,435.9 383.9,433.1 384.0,429.9 384.2,427.3 384.4,426.5 384.5,428.4 384.7,432.4 384.8,436.4 385.0,438.2 385.1,438.1 385.3,437.2 385.4,437.3 385.6,439.4 385.7,443.1 385.9,446.7 386.0,448.7 386.2,448.4 386.3,447.2 386.5,447.2 386.6,449.8 386.8,454.8 386.9,459.6 387.1,461.9 387.2,462.6 387.4,462.8 387.6,463.3 387.7,464.8 387.9,466.8 388.0,469.2 388.2,471.6 388.3,473.8 388.5,475.3 388.6,475.9 388.8,474.3 388.9,471.2 389.1,468.7 389.2,468.6 389.4,472.0 389.5,475.7 389.7,475.8 389.8,471.3 390.0,466.1 390.1,464.4 390.3,464.6 390.4,465.5 390.6,466.8 390.8,467.7 390.9,467.9 391.1,466.6 391.2,460.7 391.4,453.6 391.5,450.9 391.7,450.5 391.8,451.1 392.0,451.9 392.1,452.2 392.3,451.5 392.4,449.1 392.6,444.6 392.7,440.0 392.9,437.1 393.0,436.6 393.2,437.7 393.3,439.5 393.5,440.7 393.6,440.5 393.8,439.0 394.0,437.0 394.1,434.7 394.3,432.6 394.4,430.9 394.6,430.1 394.7,431.7 394.9,435.2 395.0,438.0 395.2,437.8 395.3,434.5 395.5,429.7 395.6,426.2 395.8,425.8 395.9,427.5 396.1,430.4 396.2,433.7 396.4,436.7 396.5,438.6 396.7,439.1 396.8,438.5 397.0,437.9 397.2,438.1 397.3,440.2 397.5,444.1 397.6,447.7 397.8,449.4 397.9,449.6 398.1,448.9 398.2,448.4 398.4,448.7 398.5,450.5 398.7,454.4 398.8,459.4 399.0,464.1 399.1,467.3 399.3,467.5 399.4,464.1 399.6,462.4 399.7,464.5 399.9,468.1 400.1,472.3 400.2,475.7 400.4,477.3 400.5,476.7 400.7,474.3 400.8,471.2 401.0,468.8 401.1,468.0 401.3,469.0 401.4,471.2 401.6,474.0 401.7,476.6 401.9,478.2 402.0,478.4 402.2,475.9 402.3,471.5 402.5,467.9 402.6,467.3 402.8,470.0 402.9,473.3 403.1,473.6 403.3,471.4 403.4,468.1 403.6,464.2 403.7,460.2 403.9,456.9 404.0,454.6 404.2,453.2 404.3,452.3 404.5,451.7 404.6,451.1 404.8,450.3 404.9,448.8 405.1,446.6 405.2,443.4 405.4,440.3 405.5,438.1 405.7,437.6 405.8,438.8 406.0,440.2 406.1,440.3 406.3,437.0 406.5,430.0 406.6,426.3 406.8,426.5 406.9,428.2 407.1,430.5 407.2,432.3 407.4,432.6 407.5,430.9 407.7,428.1 407.8,426.7 408.0,427.7 408.1,430.7 408.3,434.5 408.4,437.8 408.6,439.7 408.7,439.8 408.9,438.6 409.0,437.5 409.2,437.6 409.3,439.6 409.5,443.1 409.7,447.4 409.8,451.5 410.0,454.8 410.1,456.7 410.3,457.5 410.4,458.0 410.6,459.0 410.7,461.6 410.9,467.0 411.0,472.4 411.2,474.6 411.3,473.4 411.5,471.2 411.6,470.5 411.8,472.3 411.9,475.0 412.1,478.2 412.2,481.3 412.4,483.9 412.5,485.3 412.7,484.6 412.9,479.5 413.0,474.3 413.2,473.3 413.3,475.3 413.5,478.8 413.6,481.8 413.8,482.9 413.9,481.4 414.1,478.1 414.2,474.2 414.4,470.8 414.5,469.2 414.7,470.5 414.8,473.7 415.0,475.5 415.1,473.6 415.3,468.2 415.4,463.4 415.6,462.1 415.8,462.0 415.9,462.4 416.1,462.9 416.2,462.6 416.4,461.4 416.5,458.6 416.7,454.9 416.8,451.3 417.0,448.8 417.1,447.7 417.3,447.7 417.4,448.2 417.6,448.9 417.7,449.2 417.9,448.6 418.0,446.6 418.2,443.2 418.3,439.2 418.5,435.8 418.6,434.0 418.8,434.5 419.0,437.2 419.1,440.3 419.3,441.9 419.4,440.9 419.6,437.7 419.7,433.5 419.9,430.2 420.0,429.1 420.2,432.1 420.3,437.9 420.5,442.4 420.6,443.2 420.8,442.0 420.9,439.8 421.1,437.4 421.2,435.7 421.4,435.6 421.5,438.2 421.7,443.6 421.8,447.4 422.0,448.2 422.2,447.7 422.3,446.6 422.5,445.8 422.6,446.1 422.8,448.5 422.9,453.8 423.1,459.4 423.2,462.6 423.4,460.7 423.5,456.2 423.7,454.8 423.8,457.2 424.0,461.0 424.1,465.6 424.3,470.1 424.4,473.9 424.6,476.1 424.7,476.7 424.9,475.8 425.0,474.0 425.2,471.8 425.4,470.2 425.5,469.7 425.7,470.4 425.8,472.3 426.0,475.0 426.1,477.7 426.3,479.9 426.4,481.0 426.6,480.5 426.7,478.4 426.9,475.1 427.0,471.5 427.2,468.2 427.3,466.2 427.5,466.0 427.6,467.7 427.8,469.7 427.9,470.0 428.1,468.1 428.2,464.8 428.4,460.6 428.6,456.4 428.7,453.1 428.9,451.2 429.0,451.8 429.2,454.1 429.3,455.5 429.5,454.1 429.6,450.5 429.8,446.2 429.9,442.8 430.1,441.3 430.2,441.5 430.4,442.3 430.5,442.5 430.7,441.3 430.8,438.5 431.0,434.9 431.1,431.5 431.3,429.1 431.5,428.6 431.6,429.9 431.8,432.6 431.9,435.7 432.1,438.3 432.2,439.6 432.4,438.8 432.5,435.4 432.7,431.2 432.8,428.5 433.0,428.9 433.1,431.5 433.3,435.0 433.4,438.0 433.6,439.4 433.7,438.7 433.9,437.0 434.0,435.5 434.2,435.8 434.3,438.4 434.5,443.1 434.7,448.3 434.8,452.4 435.0,454.3 435.1,454.1 435.3,452.7 435.4,451.9 435.6,453.0 435.7,457.1 435.9,462.6 436.0,466.2 436.2,467.4 436.3,467.4 436.5,466.9 436.6,467.2 436.8,469.2 436.9,475.3 437.1,481.0 437.2,482.2 437.4,480.9 437.5,478.7 437.7,477.2 437.9,477.9 438.0,481.0 438.2,485.7 438.3,490.5 438.5,493.7 438.6,494.4 438.8,493.4 438.9,491.3 439.1,488.8 439.2,486.9 439.4,486.2 439.5,487.6 439.7,490.5 439.8,492.7 440.0,492.3 440.1,490.0 440.3,486.5 440.4,482.4 440.6,478.5 440.7,475.5 440.9,474.0 441.1,475.1 441.2,477.4 441.4,478.6 441.5,477.0 441.7,473.0 441.8,467.4 442.0,461.4 442.1,456.4 442.3,453.4 442.4,453.1 442.6,454.3 442.7,454.3 442.9,451.9 443.0,448.9 443.2,445.5 443.3,442.2 443.5,439.5 443.6,437.6 443.8,436.5 443.9,436.0 444.1,435.9 444.3,435.6 444.4,434.9 444.6,433.3 444.7,430.9 444.9,428.1 445.0,425.8 445.2,424.6 445.3,424.8 445.5,426.3 445.6,428.7 445.8,431.5 445.9,434.2 446.1,436.1 446.2,437.1 446.4,437.2 446.5,436.7 446.7,436.3 446.8,436.6 447.0,438.0 447.2,441.6 447.3,446.6 447.5,451.4 447.6,454.5 447.8,454.9 447.9,453.0 448.1,451.6 448.2,452.9 448.4,456.5 448.5,461.0 448.7,464.9 448.8,467.0 449.0,467.2 449.1,466.5 449.3,466.5 449.4,468.2 449.6,471.1 449.7,474.8 449.9,478.6 450.0,481.7 450.2,483.6 450.4,483.8 450.5,482.3 450.7,480.2 450.8,478.6 451.0,478.4 451.1,480.2 451.3,483.3 451.4,486.1 451.6,487.1 451.7,486.2 451.9,484.1 452.0,481.4 452.2,478.6 452.3,476.4 452.5,475.5 452.6,478.0 452.8,481.0 452.9,480.8 453.1,477.5 453.2,472.7 453.4,467.5 453.6,463.2 453.7,460.7 453.9,459.3 454.0,458.7 454.2,458.3 454.3,457.6 454.5,456.2 454.6,453.6 454.8,449.1 454.9,444.2 455.1,440.6 455.2,439.9 455.4,441.3 455.5,440.8 455.7,436.4 455.8,429.3 456.0,423.2 456.1,421.1 456.3,422.7 456.4,425.1 456.6,424.9 456.8,422.9 456.9,420.4 457.1,417.9 457.2,415.9 457.4,415.0 457.5,416.2 457.7,418.2 457.8,418.5 458.0,417.7 458.1,416.1 458.3,414.5 458.4,413.3 458.6,413.1 458.7,414.5 458.9,421.3 459.0,429.1 459.2,431.7 459.3,431.2 459.5,429.4 459.6,428.0 459.8,428.6 460.0,433.4 460.1,442.7 460.3,450.5 460.4,453.5 460.6,454.8 460.7,455.3 460.9,455.4 461.0,456.0 461.2,457.5 461.3,461.1 461.5,469.5 461.6,476.9 461.8,478.6 461.9,476.9 462.1,474.6 462.2,474.7 462.4,478.1 462.5,483.3 462.7,487.9 462.9,489.9 463.0,489.8 463.2,488.3 463.3,486.3 463.5,484.5 463.6,483.8 463.8,484.9 463.9,487.6 464.1,489.2 464.2,488.0 464.4,485.1 464.5,481.5 464.7,478.3 464.8,476.2 465.0,474.9 465.1,473.9 465.3,472.8 465.4,471.0 465.6,468.1 465.7,464.1 465.9,459.6 466.1,455.6 466.2,452.5 466.4,450.0 466.5,447.8 466.7,445.8 466.8,443.6 467.0,441.0 467.1,436.8 467.3,431.6 467.4,427.3 467.6,425.2 467.7,424.9 467.9,425.7 468.0,427.2 468.2,428.4 468.3,428.9 468.5,428.0 468.6,425.7 468.8,422.7 468.9,420.3 469.1,419.7 469.3,421.8 469.4,426.4 469.6,432.1 469.7,436.8 469.9,439.1 470.0,439.6 470.2,439.0 470.3,438.2 470.5,438.1 470.6,439.4 470.8,442.4 470.9,446.6 471.1,450.1 471.2,452.2 471.4,453.5 471.5,454.3 471.7,455.3 471.8,456.8 472.0,460.3 472.1,466.6 472.3,471.6 472.5,473.0 472.6,472.5 472.8,470.8 472.9,469.0 473.1,468.3 473.2,469.3 473.4,472.9 473.5,478.1 473.7,483.2 473.8,486.7 474.0,487.3 474.1,485.6 474.3,482.6 474.4,479.6 474.6,477.7 474.7,477.4 474.9,477.7 475.0,478.4 475.2,479.0 475.3,479.1 475.5,478.5 475.7,476.8 475.8,473.7 476.0,469.8 476.1,465.8 476.3,462.4 476.4,460.2 476.6,459.6 476.7,460.1 476.9,460.5 477.0,459.8 477.2,457.1 477.3,452.4 477.5,447.8 477.6,445.1 477.8,444.5 477.9,445.2 478.1,446.6 478.2,447.7 478.4,447.6 478.6,446.0 478.7,443.3 478.9,439.7 479.0,436.0 479.2,432.7 479.3,430.3 479.5,429.3 479.6,429.7 479.8,431.0 479.9,432.8 480.1,434.6 480.2,435.6 480.4,435.7 480.5,435.1 480.7,434.1 480.8,433.0 481.0,432.2 481.1,432.3 481.3,433.6 481.4,436.5 481.6,440.6 481.8,444.7 481.9,447.8 482.1,449.1 482.2,448.5 482.4,446.9 482.5,446.0 482.7,446.9 482.8,449.6 483.0,453.2 483.1,456.5 483.3,458.3 483.4,457.6 483.6,455.6 483.7,454.4 483.9,456.1 484.0,462.0 484.2,468.7 484.3,471.7 484.5,470.9 484.6,468.0 484.8,464.1 485.0,460.6 485.1,458.6 485.3,458.9 485.4,462.0 485.6,465.0 485.7,464.8 485.9,462.1 486.0,458.2 486.2,454.1 486.3,460.7 486.5,459.1 486.6,457.5 486.8,455.8 486.9,454.1 487.1,452.4 487.2,450.9 487.4,449.5 487.5,448.3 487.7,447.3 487.8,446.6 488.0,446.1 488.2,446.0 488.3,446.1 488.5,446.7 488.6,447.5 488.8,448.5 488.9,449.8 489.1,451.1 489.2,452.4 489.4,453.7 489.5,454.7 489.7,455.6 489.8,456.1 490.0,456.2 490.1,455.5 490.3,453.5 490.4,450.3 490.6,446.2 490.7,441.8 490.9,437.3 491.0,433.2 491.2,430.0 491.4,428.0 491.5,427.3 491.7,427.6 491.8,428.5 492.0,430.1 492.1,432.2 492.3,434.7 492.4,437.7 492.6,440.8 492.7,444.1 492.9,447.4 493.0,450.5 493.2,453.4 493.3,456.0 493.5,458.1 493.6,459.6 493.8,460.6 493.9,460.9 494.1,460.7 494.3,460.2 494.4,459.3 494.6,458.2 494.7,456.9 494.9,455.6 495.0,454.3 495.2,453.2 495.3,452.3 495.5,451.8 495.6,451.6 495.8,451.7 495.9,452.2 496.1,452.9 496.2,453.9 496.4,455.1 496.5,456.6 496.7,458.2 496.8,460.0 497.0,462.0 497.1,464.0 497.3,466.1 497.5,468.1 497.6,470.2 497.8,472.1 497.9,473.9 498.1,475.6 498.2,477.0 498.4,478.3 498.5,479.3 498.7,480.0 498.8,480.4 499.0,480.6 499.1,480.3 499.3,479.4 499.4,478.0 499.6,476.0 499.7,473.7 499.9,471.0 500.0,468.1 500.2,465.1 500.3,462.1 500.5,459.2 500.7,456.6 500.8,454.2 501.0,452.3 501.1,450.9 501.3,450.0 501.4,449.7 501.6,439.3 501.7,437.1 501.9,434.9 502.0,432.7 502.2,430.5" fill="none" stroke="#e0571c" stroke-width="1.4" stroke-linejoin="round" stroke-dasharray="2.6,0.75,1.1,0.75" clip-path="url(#cB3)"/>
<line x1="485.41" y1="503.00" x2="485.41" y2="409.50" stroke="#2a2a2a" stroke-width="1.5" stroke-dasharray="3.3,3.45"/>
<line x1="430.91" y1="491.90" x2="484.91" y2="491.90" stroke="#9a9a9a" stroke-width="1.5"/>
<path d="M430.91,491.90 l5,-1.8 l-0.8,1.8 l0.8,1.8 z" fill="#1a1a1a"/>
<text x="427.41" y="494.80" text-anchor="end" font-size="8.1">Reconstructed part</text>
<g stroke="#a3a3a3" stroke-width="1.6"><rect x="296.40" y="409.50" width="204.10" height="93.50" fill="none"/><line x1="296.40" y1="503.00" x2="296.40" y2="500.80"/><line x1="296.40" y1="409.50" x2="296.40" y2="411.70"/><line x1="326.89" y1="503.00" x2="326.89" y2="500.80"/><line x1="326.89" y1="409.50" x2="326.89" y2="411.70"/><line x1="357.37" y1="503.00" x2="357.37" y2="500.80"/><line x1="357.37" y1="409.50" x2="357.37" y2="411.70"/><line x1="387.86" y1="503.00" x2="387.86" y2="500.80"/><line x1="387.86" y1="409.50" x2="387.86" y2="411.70"/><line x1="418.34" y1="503.00" x2="418.34" y2="500.80"/><line x1="418.34" y1="409.50" x2="418.34" y2="411.70"/><line x1="448.83" y1="503.00" x2="448.83" y2="500.80"/><line x1="448.83" y1="409.50" x2="448.83" y2="411.70"/><line x1="479.31" y1="503.00" x2="479.31" y2="500.80"/><line x1="479.31" y1="409.50" x2="479.31" y2="411.70"/><line x1="296.40" y1="503.00" x2="298.60" y2="503.00"/><line x1="500.50" y1="503.00" x2="498.30" y2="503.00"/><line x1="296.40" y1="456.25" x2="298.60" y2="456.25"/><line x1="500.50" y1="456.25" x2="498.30" y2="456.25"/><line x1="296.40" y1="409.50" x2="298.60" y2="409.50"/><line x1="500.50" y1="409.50" x2="498.30" y2="409.50"/></g>
<g font-family="Liberation Sans, Arial, sans-serif" font-weight="bold" font-size="7.9" fill="#333333"><text x="296.10" y="513.90" text-anchor="middle">48</text><text x="326.59" y="513.90" text-anchor="middle">50</text><text x="357.07" y="513.90" text-anchor="middle">52</text><text x="387.56" y="513.90" text-anchor="middle">54</text><text x="418.04" y="513.90" text-anchor="middle">56</text><text x="448.53" y="513.90" text-anchor="middle">58</text><text x="479.01" y="513.90" text-anchor="middle">60</text><text x="293.10" y="505.60" text-anchor="end">-0.5</text><text x="293.10" y="458.85" text-anchor="end">0</text><text x="293.10" y="412.10" text-anchor="end">0.5</text></g>
<text x="398.45" y="525.80" text-anchor="middle" font-size="9.0">Time (s)</text>
<text transform="translate(275.8,456.25) rotate(-90)" text-anchor="middle" font-size="8.9">Amplitude (gal)</text>
<text class="cap" x="254.3" y="272.3" text-anchor="middle" font-family="Liberation Serif, serif" font-weight="normal" font-size="13" fill="#222">(<tspan font-weight="bold">a</tspan>)</text>
<text class="cap" x="253.8" y="544.0" text-anchor="middle" font-family="Liberation Serif, serif" font-weight="normal" font-size="13" fill="#222">(<tspan font-weight="bold">b</tspan>)</text>
</svg></body></html>
